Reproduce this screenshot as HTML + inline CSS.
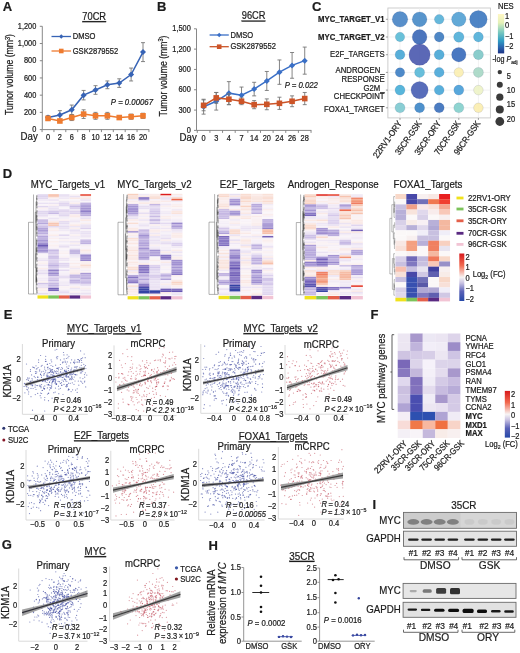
<!DOCTYPE html><html><head><meta charset="utf-8"><title>Figure</title><style>html,body{margin:0;padding:0;background:#fff;}svg{display:block;}text{font-family:"Liberation Sans", Arial, Helvetica, sans-serif;fill:#1c1c1c;stroke:#1c1c1c;stroke-width:0.2px;}</style></head><body><svg width="520" height="653" viewBox="0 0 520 653"><rect width="520" height="653" fill="#fff"/><text x="2.70" y="11.30" font-size="13" font-weight="bold" fill="#000">A</text>
<text x="94.20" y="20.00" font-size="9.3" text-anchor="middle" transform="translate(94.20 20.00) scale(1 1.15) translate(-94.20 -20.00)" text-decoration="underline">70CR</text>
<line x1="42.30" y1="26.30" x2="42.30" y2="129.60" stroke="#7a7a7a" stroke-width="0.9"/>
<line x1="42.30" y1="129.60" x2="149.20" y2="129.60" stroke="#7a7a7a" stroke-width="0.9"/>
<line x1="39.80" y1="129.60" x2="42.30" y2="129.60" stroke="#7a7a7a" stroke-width="0.9"/>
<text x="36.30" y="132.20" font-size="7.4" text-anchor="end" transform="translate(36.30 132.20) scale(1 1.15) translate(-36.30 -132.20)">0</text>
<line x1="39.80" y1="112.38" x2="42.30" y2="112.38" stroke="#7a7a7a" stroke-width="0.9"/>
<text x="36.30" y="114.98" font-size="7.4" text-anchor="end" transform="translate(36.30 114.98) scale(1 1.15) translate(-36.30 -114.98)">200</text>
<line x1="39.80" y1="95.17" x2="42.30" y2="95.17" stroke="#7a7a7a" stroke-width="0.9"/>
<text x="36.30" y="97.77" font-size="7.4" text-anchor="end" transform="translate(36.30 97.77) scale(1 1.15) translate(-36.30 -97.77)">400</text>
<line x1="39.80" y1="77.95" x2="42.30" y2="77.95" stroke="#7a7a7a" stroke-width="0.9"/>
<text x="36.30" y="80.55" font-size="7.4" text-anchor="end" transform="translate(36.30 80.55) scale(1 1.15) translate(-36.30 -80.55)">600</text>
<line x1="39.80" y1="60.73" x2="42.30" y2="60.73" stroke="#7a7a7a" stroke-width="0.9"/>
<text x="36.30" y="63.33" font-size="7.4" text-anchor="end" transform="translate(36.30 63.33) scale(1 1.15) translate(-36.30 -63.33)">800</text>
<line x1="39.80" y1="43.52" x2="42.30" y2="43.52" stroke="#7a7a7a" stroke-width="0.9"/>
<text x="36.30" y="46.12" font-size="7.4" text-anchor="end" transform="translate(36.30 46.12) scale(1 1.15) translate(-36.30 -46.12)">1,000</text>
<line x1="39.80" y1="26.30" x2="42.30" y2="26.30" stroke="#7a7a7a" stroke-width="0.9"/>
<text x="36.30" y="28.90" font-size="7.4" text-anchor="end" transform="translate(36.30 28.90) scale(1 1.15) translate(-36.30 -28.90)">1,200</text>
<line x1="42.06" y1="129.60" x2="42.06" y2="132.10" stroke="#7a7a7a" stroke-width="0.9"/>
<line x1="53.94" y1="129.60" x2="53.94" y2="132.10" stroke="#7a7a7a" stroke-width="0.9"/>
<line x1="65.81" y1="129.60" x2="65.81" y2="132.10" stroke="#7a7a7a" stroke-width="0.9"/>
<line x1="77.69" y1="129.60" x2="77.69" y2="132.10" stroke="#7a7a7a" stroke-width="0.9"/>
<line x1="89.56" y1="129.60" x2="89.56" y2="132.10" stroke="#7a7a7a" stroke-width="0.9"/>
<line x1="101.44" y1="129.60" x2="101.44" y2="132.10" stroke="#7a7a7a" stroke-width="0.9"/>
<line x1="113.31" y1="129.60" x2="113.31" y2="132.10" stroke="#7a7a7a" stroke-width="0.9"/>
<line x1="125.19" y1="129.60" x2="125.19" y2="132.10" stroke="#7a7a7a" stroke-width="0.9"/>
<line x1="137.06" y1="129.60" x2="137.06" y2="132.10" stroke="#7a7a7a" stroke-width="0.9"/>
<line x1="148.94" y1="129.60" x2="148.94" y2="132.10" stroke="#7a7a7a" stroke-width="0.9"/>
<text x="48.00" y="139.80" font-size="7.4" text-anchor="middle" transform="translate(48.00 139.80) scale(1 1.15) translate(-48.00 -139.80)">0</text>
<text x="59.88" y="139.80" font-size="7.4" text-anchor="middle" transform="translate(59.88 139.80) scale(1 1.15) translate(-59.88 -139.80)">2</text>
<text x="71.75" y="139.80" font-size="7.4" text-anchor="middle" transform="translate(71.75 139.80) scale(1 1.15) translate(-71.75 -139.80)">6</text>
<text x="83.62" y="139.80" font-size="7.4" text-anchor="middle" transform="translate(83.62 139.80) scale(1 1.15) translate(-83.62 -139.80)">8</text>
<text x="95.50" y="139.80" font-size="7.4" text-anchor="middle" transform="translate(95.50 139.80) scale(1 1.15) translate(-95.50 -139.80)">10</text>
<text x="107.38" y="139.80" font-size="7.4" text-anchor="middle" transform="translate(107.38 139.80) scale(1 1.15) translate(-107.38 -139.80)">12</text>
<text x="119.25" y="139.80" font-size="7.4" text-anchor="middle" transform="translate(119.25 139.80) scale(1 1.15) translate(-119.25 -139.80)">14</text>
<text x="131.12" y="139.80" font-size="7.4" text-anchor="middle" transform="translate(131.12 139.80) scale(1 1.15) translate(-131.12 -139.80)">16</text>
<text x="143.00" y="139.80" font-size="7.4" text-anchor="middle" transform="translate(143.00 139.80) scale(1 1.15) translate(-143.00 -139.80)">20</text>
<text x="20.60" y="139.80" font-size="9.7" transform="translate(20.60 139.80) scale(1 1.15) translate(-20.60 -139.80)">Day</text>
<text x="13.00" y="74.50" font-size="8.7" text-anchor="middle" transform="rotate(-90 13.00 74.50) translate(13.00 74.50) scale(1 1.15) translate(-13.00 -74.50)">Tumor volume (mm<tspan font-size="5.5" dy="-3">3</tspan><tspan dy="3">)</tspan></text>
<line x1="48.00" y1="115.83" x2="48.00" y2="119.27" stroke="#777" stroke-width="0.9"/>
<line x1="46.00" y1="115.83" x2="50.00" y2="115.83" stroke="#777" stroke-width="0.9"/>
<line x1="46.00" y1="119.27" x2="50.00" y2="119.27" stroke="#777" stroke-width="0.9"/>
<line x1="59.88" y1="110.66" x2="59.88" y2="119.27" stroke="#777" stroke-width="0.9"/>
<line x1="57.88" y1="110.66" x2="61.88" y2="110.66" stroke="#777" stroke-width="0.9"/>
<line x1="57.88" y1="119.27" x2="61.88" y2="119.27" stroke="#777" stroke-width="0.9"/>
<line x1="71.75" y1="105.07" x2="71.75" y2="114.54" stroke="#777" stroke-width="0.9"/>
<line x1="69.75" y1="105.07" x2="73.75" y2="105.07" stroke="#777" stroke-width="0.9"/>
<line x1="69.75" y1="114.54" x2="73.75" y2="114.54" stroke="#777" stroke-width="0.9"/>
<line x1="83.62" y1="90.43" x2="83.62" y2="99.90" stroke="#777" stroke-width="0.9"/>
<line x1="81.62" y1="90.43" x2="85.62" y2="90.43" stroke="#777" stroke-width="0.9"/>
<line x1="81.62" y1="99.90" x2="85.62" y2="99.90" stroke="#777" stroke-width="0.9"/>
<line x1="95.50" y1="85.70" x2="95.50" y2="94.31" stroke="#777" stroke-width="0.9"/>
<line x1="93.50" y1="85.70" x2="97.50" y2="85.70" stroke="#777" stroke-width="0.9"/>
<line x1="93.50" y1="94.31" x2="97.50" y2="94.31" stroke="#777" stroke-width="0.9"/>
<line x1="107.38" y1="80.96" x2="107.38" y2="88.71" stroke="#777" stroke-width="0.9"/>
<line x1="105.38" y1="80.96" x2="109.38" y2="80.96" stroke="#777" stroke-width="0.9"/>
<line x1="105.38" y1="88.71" x2="109.38" y2="88.71" stroke="#777" stroke-width="0.9"/>
<line x1="119.25" y1="78.81" x2="119.25" y2="87.42" stroke="#777" stroke-width="0.9"/>
<line x1="117.25" y1="78.81" x2="121.25" y2="78.81" stroke="#777" stroke-width="0.9"/>
<line x1="117.25" y1="87.42" x2="121.25" y2="87.42" stroke="#777" stroke-width="0.9"/>
<line x1="131.12" y1="68.05" x2="131.12" y2="80.96" stroke="#777" stroke-width="0.9"/>
<line x1="129.12" y1="68.05" x2="133.12" y2="68.05" stroke="#777" stroke-width="0.9"/>
<line x1="129.12" y1="80.96" x2="133.12" y2="80.96" stroke="#777" stroke-width="0.9"/>
<line x1="143.00" y1="42.66" x2="143.00" y2="61.59" stroke="#777" stroke-width="0.9"/>
<line x1="141.00" y1="42.66" x2="145.00" y2="42.66" stroke="#777" stroke-width="0.9"/>
<line x1="141.00" y1="61.59" x2="145.00" y2="61.59" stroke="#777" stroke-width="0.9"/>
<polyline points="48.00,117.55 59.88,114.97 71.75,109.80 83.62,95.17 95.50,90.00 107.38,84.84 119.25,83.11 131.12,74.51 143.00,52.12" fill="none" stroke="#3763b5" stroke-width="1.5"/>
<polygon points="48.00,114.55 51.00,117.55 48.00,120.55 45.00,117.55" fill="#3763b5"/>
<polygon points="59.88,111.97 62.88,114.97 59.88,117.97 56.88,114.97" fill="#3763b5"/>
<polygon points="71.75,106.80 74.75,109.80 71.75,112.80 68.75,109.80" fill="#3763b5"/>
<polygon points="83.62,92.17 86.62,95.17 83.62,98.17 80.62,95.17" fill="#3763b5"/>
<polygon points="95.50,87.00 98.50,90.00 95.50,93.00 92.50,90.00" fill="#3763b5"/>
<polygon points="107.38,81.84 110.38,84.84 107.38,87.84 104.38,84.84" fill="#3763b5"/>
<polygon points="119.25,80.11 122.25,83.11 119.25,86.11 116.25,83.11" fill="#3763b5"/>
<polygon points="131.12,71.51 134.12,74.51 131.12,77.51 128.12,74.51" fill="#3763b5"/>
<polygon points="143.00,49.12 146.00,52.12 143.00,55.12 140.00,52.12" fill="#3763b5"/>
<line x1="48.00" y1="116.26" x2="48.00" y2="120.56" stroke="#777" stroke-width="0.9"/>
<line x1="46.00" y1="116.26" x2="50.00" y2="116.26" stroke="#777" stroke-width="0.9"/>
<line x1="46.00" y1="120.56" x2="50.00" y2="120.56" stroke="#777" stroke-width="0.9"/>
<line x1="59.88" y1="120.13" x2="59.88" y2="121.85" stroke="#777" stroke-width="0.9"/>
<line x1="57.88" y1="120.13" x2="61.88" y2="120.13" stroke="#777" stroke-width="0.9"/>
<line x1="57.88" y1="121.85" x2="61.88" y2="121.85" stroke="#777" stroke-width="0.9"/>
<line x1="71.75" y1="114.54" x2="71.75" y2="120.56" stroke="#777" stroke-width="0.9"/>
<line x1="69.75" y1="114.54" x2="73.75" y2="114.54" stroke="#777" stroke-width="0.9"/>
<line x1="69.75" y1="120.56" x2="73.75" y2="120.56" stroke="#777" stroke-width="0.9"/>
<line x1="83.62" y1="109.80" x2="83.62" y2="118.41" stroke="#777" stroke-width="0.9"/>
<line x1="81.62" y1="109.80" x2="85.62" y2="109.80" stroke="#777" stroke-width="0.9"/>
<line x1="81.62" y1="118.41" x2="85.62" y2="118.41" stroke="#777" stroke-width="0.9"/>
<line x1="95.50" y1="112.38" x2="95.50" y2="119.27" stroke="#777" stroke-width="0.9"/>
<line x1="93.50" y1="112.38" x2="97.50" y2="112.38" stroke="#777" stroke-width="0.9"/>
<line x1="93.50" y1="119.27" x2="97.50" y2="119.27" stroke="#777" stroke-width="0.9"/>
<line x1="107.38" y1="112.38" x2="107.38" y2="119.27" stroke="#777" stroke-width="0.9"/>
<line x1="105.38" y1="112.38" x2="109.38" y2="112.38" stroke="#777" stroke-width="0.9"/>
<line x1="105.38" y1="119.27" x2="109.38" y2="119.27" stroke="#777" stroke-width="0.9"/>
<line x1="119.25" y1="115.83" x2="119.25" y2="119.27" stroke="#777" stroke-width="0.9"/>
<line x1="117.25" y1="115.83" x2="121.25" y2="115.83" stroke="#777" stroke-width="0.9"/>
<line x1="117.25" y1="119.27" x2="121.25" y2="119.27" stroke="#777" stroke-width="0.9"/>
<line x1="131.12" y1="114.11" x2="131.12" y2="119.27" stroke="#777" stroke-width="0.9"/>
<line x1="129.12" y1="114.11" x2="133.12" y2="114.11" stroke="#777" stroke-width="0.9"/>
<line x1="129.12" y1="119.27" x2="133.12" y2="119.27" stroke="#777" stroke-width="0.9"/>
<line x1="143.00" y1="113.24" x2="143.00" y2="118.41" stroke="#777" stroke-width="0.9"/>
<line x1="141.00" y1="113.24" x2="145.00" y2="113.24" stroke="#777" stroke-width="0.9"/>
<line x1="141.00" y1="118.41" x2="145.00" y2="118.41" stroke="#777" stroke-width="0.9"/>
<polyline points="48.00,118.41 59.88,120.99 71.75,117.55 83.62,114.10 95.50,115.83 107.38,115.83 119.25,117.55 131.12,116.69 143.00,115.83" fill="none" stroke="#ee7b30" stroke-width="1.5"/>
<rect x="45.20" y="115.61" width="5.60" height="5.60" fill="#ee7b30"/>
<rect x="57.08" y="118.19" width="5.60" height="5.60" fill="#ee7b30"/>
<rect x="68.95" y="114.75" width="5.60" height="5.60" fill="#ee7b30"/>
<rect x="80.83" y="111.30" width="5.60" height="5.60" fill="#ee7b30"/>
<rect x="92.70" y="113.03" width="5.60" height="5.60" fill="#ee7b30"/>
<rect x="104.58" y="113.03" width="5.60" height="5.60" fill="#ee7b30"/>
<rect x="116.45" y="114.75" width="5.60" height="5.60" fill="#ee7b30"/>
<rect x="128.32" y="113.89" width="5.60" height="5.60" fill="#ee7b30"/>
<rect x="140.20" y="113.03" width="5.60" height="5.60" fill="#ee7b30"/>
<line x1="51.50" y1="36.50" x2="71.00" y2="36.50" stroke="#3763b5" stroke-width="1.3"/>
<polygon points="61.25,34.30 63.45,36.50 61.25,38.70 59.05,36.50" fill="#3763b5"/>
<text x="72.70" y="39.20" font-size="7.6" transform="translate(72.70 39.20) scale(1 1.15) translate(-72.70 -39.20)">DMSO</text>
<line x1="51.50" y1="51.00" x2="71.00" y2="51.00" stroke="#ee7b30" stroke-width="1.3"/>
<rect x="58.95" y="48.70" width="4.60" height="4.60" fill="#ee7b30"/>
<text x="72.70" y="53.70" font-size="7.6" transform="translate(72.70 53.70) scale(1 1.15) translate(-72.70 -53.70)">GSK2879552</text>
<text x="110.80" y="105.00" font-size="7.8" font-style="italic" transform="translate(110.80 105.00) scale(1 1.15) translate(-110.80 -105.00)"><tspan>P</tspan> = 0.00067</text>
<text x="157.10" y="10.90" font-size="13" font-weight="bold" fill="#000">B</text>
<text x="253.60" y="19.50" font-size="9.3" text-anchor="middle" transform="translate(253.60 19.50) scale(1 1.15) translate(-253.60 -19.50)" text-decoration="underline">96CR</text>
<line x1="196.50" y1="28.80" x2="196.50" y2="130.40" stroke="#7a7a7a" stroke-width="0.9"/>
<line x1="196.50" y1="130.40" x2="311.40" y2="130.40" stroke="#7a7a7a" stroke-width="0.9"/>
<line x1="194.00" y1="130.40" x2="196.50" y2="130.40" stroke="#7a7a7a" stroke-width="0.9"/>
<text x="190.80" y="133.00" font-size="7.4" text-anchor="end" transform="translate(190.80 133.00) scale(1 1.15) translate(-190.80 -133.00)">0</text>
<line x1="194.00" y1="110.08" x2="196.50" y2="110.08" stroke="#7a7a7a" stroke-width="0.9"/>
<text x="190.80" y="112.68" font-size="7.4" text-anchor="end" transform="translate(190.80 112.68) scale(1 1.15) translate(-190.80 -112.68)">300</text>
<line x1="194.00" y1="89.76" x2="196.50" y2="89.76" stroke="#7a7a7a" stroke-width="0.9"/>
<text x="190.80" y="92.36" font-size="7.4" text-anchor="end" transform="translate(190.80 92.36) scale(1 1.15) translate(-190.80 -92.36)">600</text>
<line x1="194.00" y1="69.44" x2="196.50" y2="69.44" stroke="#7a7a7a" stroke-width="0.9"/>
<text x="190.80" y="72.04" font-size="7.4" text-anchor="end" transform="translate(190.80 72.04) scale(1 1.15) translate(-190.80 -72.04)">900</text>
<line x1="194.00" y1="49.12" x2="196.50" y2="49.12" stroke="#7a7a7a" stroke-width="0.9"/>
<text x="190.80" y="51.72" font-size="7.4" text-anchor="end" transform="translate(190.80 51.72) scale(1 1.15) translate(-190.80 -51.72)">1,200</text>
<line x1="194.00" y1="28.80" x2="196.50" y2="28.80" stroke="#7a7a7a" stroke-width="0.9"/>
<text x="190.80" y="31.40" font-size="7.4" text-anchor="end" transform="translate(190.80 31.40) scale(1 1.15) translate(-190.80 -31.40)">1,500</text>
<line x1="197.28" y1="130.40" x2="197.28" y2="132.90" stroke="#7a7a7a" stroke-width="0.9"/>
<line x1="209.92" y1="130.40" x2="209.92" y2="132.90" stroke="#7a7a7a" stroke-width="0.9"/>
<line x1="222.56" y1="130.40" x2="222.56" y2="132.90" stroke="#7a7a7a" stroke-width="0.9"/>
<line x1="235.20" y1="130.40" x2="235.20" y2="132.90" stroke="#7a7a7a" stroke-width="0.9"/>
<line x1="247.84" y1="130.40" x2="247.84" y2="132.90" stroke="#7a7a7a" stroke-width="0.9"/>
<line x1="260.48" y1="130.40" x2="260.48" y2="132.90" stroke="#7a7a7a" stroke-width="0.9"/>
<line x1="273.12" y1="130.40" x2="273.12" y2="132.90" stroke="#7a7a7a" stroke-width="0.9"/>
<line x1="285.76" y1="130.40" x2="285.76" y2="132.90" stroke="#7a7a7a" stroke-width="0.9"/>
<line x1="298.40" y1="130.40" x2="298.40" y2="132.90" stroke="#7a7a7a" stroke-width="0.9"/>
<line x1="311.04" y1="130.40" x2="311.04" y2="132.90" stroke="#7a7a7a" stroke-width="0.9"/>
<text x="203.60" y="140.60" font-size="7.4" text-anchor="middle" transform="translate(203.60 140.60) scale(1 1.15) translate(-203.60 -140.60)">0</text>
<text x="216.24" y="140.60" font-size="7.4" text-anchor="middle" transform="translate(216.24 140.60) scale(1 1.15) translate(-216.24 -140.60)">3</text>
<text x="228.88" y="140.60" font-size="7.4" text-anchor="middle" transform="translate(228.88 140.60) scale(1 1.15) translate(-228.88 -140.60)">4</text>
<text x="241.52" y="140.60" font-size="7.4" text-anchor="middle" transform="translate(241.52 140.60) scale(1 1.15) translate(-241.52 -140.60)">7</text>
<text x="254.16" y="140.60" font-size="7.4" text-anchor="middle" transform="translate(254.16 140.60) scale(1 1.15) translate(-254.16 -140.60)">14</text>
<text x="266.80" y="140.60" font-size="7.4" text-anchor="middle" transform="translate(266.80 140.60) scale(1 1.15) translate(-266.80 -140.60)">20</text>
<text x="279.44" y="140.60" font-size="7.4" text-anchor="middle" transform="translate(279.44 140.60) scale(1 1.15) translate(-279.44 -140.60)">24</text>
<text x="292.08" y="140.60" font-size="7.4" text-anchor="middle" transform="translate(292.08 140.60) scale(1 1.15) translate(-292.08 -140.60)">26</text>
<text x="304.72" y="140.60" font-size="7.4" text-anchor="middle" transform="translate(304.72 140.60) scale(1 1.15) translate(-304.72 -140.60)">28</text>
<text x="179.60" y="140.60" font-size="9.7" transform="translate(179.60 140.60) scale(1 1.15) translate(-179.60 -140.60)">Day</text>
<text x="166.60" y="76.00" font-size="8.7" text-anchor="middle" transform="rotate(-90 166.60 76.00) translate(166.60 76.00) scale(1 1.15) translate(-166.60 -76.00)">Tumor volume (mm<tspan font-size="5.5" dy="-3">3</tspan><tspan dy="3">)</tspan></text>
<line x1="203.60" y1="99.24" x2="203.60" y2="114.14" stroke="#777" stroke-width="0.9"/>
<line x1="201.60" y1="99.24" x2="205.60" y2="99.24" stroke="#777" stroke-width="0.9"/>
<line x1="201.60" y1="114.14" x2="205.60" y2="114.14" stroke="#777" stroke-width="0.9"/>
<line x1="216.24" y1="92.47" x2="216.24" y2="110.08" stroke="#777" stroke-width="0.9"/>
<line x1="214.24" y1="92.47" x2="218.24" y2="92.47" stroke="#777" stroke-width="0.9"/>
<line x1="214.24" y1="110.08" x2="218.24" y2="110.08" stroke="#777" stroke-width="0.9"/>
<line x1="228.88" y1="81.63" x2="228.88" y2="104.66" stroke="#777" stroke-width="0.9"/>
<line x1="226.88" y1="81.63" x2="230.88" y2="81.63" stroke="#777" stroke-width="0.9"/>
<line x1="226.88" y1="104.66" x2="230.88" y2="104.66" stroke="#777" stroke-width="0.9"/>
<line x1="241.52" y1="87.05" x2="241.52" y2="103.31" stroke="#777" stroke-width="0.9"/>
<line x1="239.52" y1="87.05" x2="243.52" y2="87.05" stroke="#777" stroke-width="0.9"/>
<line x1="239.52" y1="103.31" x2="243.52" y2="103.31" stroke="#777" stroke-width="0.9"/>
<line x1="254.16" y1="82.31" x2="254.16" y2="95.86" stroke="#777" stroke-width="0.9"/>
<line x1="252.16" y1="82.31" x2="256.16" y2="82.31" stroke="#777" stroke-width="0.9"/>
<line x1="252.16" y1="95.86" x2="256.16" y2="95.86" stroke="#777" stroke-width="0.9"/>
<line x1="266.80" y1="71.47" x2="266.80" y2="90.44" stroke="#777" stroke-width="0.9"/>
<line x1="264.80" y1="71.47" x2="268.80" y2="71.47" stroke="#777" stroke-width="0.9"/>
<line x1="264.80" y1="90.44" x2="268.80" y2="90.44" stroke="#777" stroke-width="0.9"/>
<line x1="279.44" y1="59.96" x2="279.44" y2="84.34" stroke="#777" stroke-width="0.9"/>
<line x1="277.44" y1="59.96" x2="281.44" y2="59.96" stroke="#777" stroke-width="0.9"/>
<line x1="277.44" y1="84.34" x2="281.44" y2="84.34" stroke="#777" stroke-width="0.9"/>
<line x1="292.08" y1="52.51" x2="292.08" y2="78.25" stroke="#777" stroke-width="0.9"/>
<line x1="290.08" y1="52.51" x2="294.08" y2="52.51" stroke="#777" stroke-width="0.9"/>
<line x1="290.08" y1="78.25" x2="294.08" y2="78.25" stroke="#777" stroke-width="0.9"/>
<line x1="304.72" y1="47.09" x2="304.72" y2="74.18" stroke="#777" stroke-width="0.9"/>
<line x1="302.72" y1="47.09" x2="306.72" y2="47.09" stroke="#777" stroke-width="0.9"/>
<line x1="302.72" y1="74.18" x2="306.72" y2="74.18" stroke="#777" stroke-width="0.9"/>
<polyline points="203.60,106.69 216.24,101.27 228.88,93.15 241.52,95.18 254.16,89.08 266.80,80.95 279.44,72.15 292.08,65.38 304.72,60.63" fill="none" stroke="#3a6fc6" stroke-width="1.5"/>
<polygon points="203.60,103.69 206.60,106.69 203.60,109.69 200.60,106.69" fill="#3a6fc6"/>
<polygon points="216.24,98.27 219.24,101.27 216.24,104.27 213.24,101.27" fill="#3a6fc6"/>
<polygon points="228.88,90.15 231.88,93.15 228.88,96.15 225.88,93.15" fill="#3a6fc6"/>
<polygon points="241.52,92.18 244.52,95.18 241.52,98.18 238.52,95.18" fill="#3a6fc6"/>
<polygon points="254.16,86.08 257.16,89.08 254.16,92.08 251.16,89.08" fill="#3a6fc6"/>
<polygon points="266.80,77.95 269.80,80.95 266.80,83.95 263.80,80.95" fill="#3a6fc6"/>
<polygon points="279.44,69.15 282.44,72.15 279.44,75.15 276.44,72.15" fill="#3a6fc6"/>
<polygon points="292.08,62.38 295.08,65.38 292.08,68.38 289.08,65.38" fill="#3a6fc6"/>
<polygon points="304.72,57.63 307.72,60.63 304.72,63.63 301.72,60.63" fill="#3a6fc6"/>
<line x1="203.60" y1="99.92" x2="203.60" y2="110.76" stroke="#777" stroke-width="0.9"/>
<line x1="201.60" y1="99.92" x2="205.60" y2="99.92" stroke="#777" stroke-width="0.9"/>
<line x1="201.60" y1="110.76" x2="205.60" y2="110.76" stroke="#777" stroke-width="0.9"/>
<line x1="216.24" y1="92.47" x2="216.24" y2="103.31" stroke="#777" stroke-width="0.9"/>
<line x1="214.24" y1="92.47" x2="218.24" y2="92.47" stroke="#777" stroke-width="0.9"/>
<line x1="214.24" y1="103.31" x2="218.24" y2="103.31" stroke="#777" stroke-width="0.9"/>
<line x1="228.88" y1="93.82" x2="228.88" y2="104.66" stroke="#777" stroke-width="0.9"/>
<line x1="226.88" y1="93.82" x2="230.88" y2="93.82" stroke="#777" stroke-width="0.9"/>
<line x1="226.88" y1="104.66" x2="230.88" y2="104.66" stroke="#777" stroke-width="0.9"/>
<line x1="241.52" y1="97.89" x2="241.52" y2="104.66" stroke="#777" stroke-width="0.9"/>
<line x1="239.52" y1="97.89" x2="243.52" y2="97.89" stroke="#777" stroke-width="0.9"/>
<line x1="239.52" y1="104.66" x2="243.52" y2="104.66" stroke="#777" stroke-width="0.9"/>
<line x1="254.16" y1="100.60" x2="254.16" y2="108.73" stroke="#777" stroke-width="0.9"/>
<line x1="252.16" y1="100.60" x2="256.16" y2="100.60" stroke="#777" stroke-width="0.9"/>
<line x1="252.16" y1="108.73" x2="256.16" y2="108.73" stroke="#777" stroke-width="0.9"/>
<line x1="266.80" y1="98.90" x2="266.80" y2="109.74" stroke="#777" stroke-width="0.9"/>
<line x1="264.80" y1="98.90" x2="268.80" y2="98.90" stroke="#777" stroke-width="0.9"/>
<line x1="264.80" y1="109.74" x2="268.80" y2="109.74" stroke="#777" stroke-width="0.9"/>
<line x1="279.44" y1="97.21" x2="279.44" y2="109.40" stroke="#777" stroke-width="0.9"/>
<line x1="277.44" y1="97.21" x2="281.44" y2="97.21" stroke="#777" stroke-width="0.9"/>
<line x1="277.44" y1="109.40" x2="281.44" y2="109.40" stroke="#777" stroke-width="0.9"/>
<line x1="292.08" y1="95.86" x2="292.08" y2="106.69" stroke="#777" stroke-width="0.9"/>
<line x1="290.08" y1="95.86" x2="294.08" y2="95.86" stroke="#777" stroke-width="0.9"/>
<line x1="290.08" y1="106.69" x2="294.08" y2="106.69" stroke="#777" stroke-width="0.9"/>
<line x1="304.72" y1="92.47" x2="304.72" y2="104.66" stroke="#777" stroke-width="0.9"/>
<line x1="302.72" y1="92.47" x2="306.72" y2="92.47" stroke="#777" stroke-width="0.9"/>
<line x1="302.72" y1="104.66" x2="306.72" y2="104.66" stroke="#777" stroke-width="0.9"/>
<polyline points="203.60,105.34 216.24,97.89 228.88,99.24 241.52,101.27 254.16,104.66 266.80,104.32 279.44,103.31 292.08,101.27 304.72,98.57" fill="none" stroke="#cc5428" stroke-width="1.5"/>
<rect x="200.80" y="102.54" width="5.60" height="5.60" fill="#cc5428"/>
<rect x="213.44" y="95.09" width="5.60" height="5.60" fill="#cc5428"/>
<rect x="226.08" y="96.44" width="5.60" height="5.60" fill="#cc5428"/>
<rect x="238.72" y="98.47" width="5.60" height="5.60" fill="#cc5428"/>
<rect x="251.36" y="101.86" width="5.60" height="5.60" fill="#cc5428"/>
<rect x="264.00" y="101.52" width="5.60" height="5.60" fill="#cc5428"/>
<rect x="276.64" y="100.51" width="5.60" height="5.60" fill="#cc5428"/>
<rect x="289.28" y="98.47" width="5.60" height="5.60" fill="#cc5428"/>
<rect x="301.92" y="95.77" width="5.60" height="5.60" fill="#cc5428"/>
<line x1="209.60" y1="35.00" x2="228.80" y2="35.00" stroke="#3a6fc6" stroke-width="1.3"/>
<polygon points="219.20,32.80 221.40,35.00 219.20,37.20 217.00,35.00" fill="#3a6fc6"/>
<text x="230.40" y="37.70" font-size="7.6" transform="translate(230.40 37.70) scale(1 1.15) translate(-230.40 -37.70)">DMSO</text>
<line x1="209.60" y1="46.70" x2="228.80" y2="46.70" stroke="#cc5428" stroke-width="1.3"/>
<rect x="216.90" y="44.40" width="4.60" height="4.60" fill="#cc5428"/>
<text x="230.40" y="49.40" font-size="7.6" transform="translate(230.40 49.40) scale(1 1.15) translate(-230.40 -49.40)">GSK2879552</text>
<text x="284.70" y="88.50" font-size="7.8" font-style="italic" transform="translate(284.70 88.50) scale(1 1.15) translate(-284.70 -88.50)">P = 0.022</text>
<text x="311.90" y="10.70" font-size="13" font-weight="bold" fill="#000">C</text>
<rect x="387.90" y="8.00" width="102.50" height="109.90" fill="#fff" stroke="#c8c8c8" stroke-width="0.9"/>
<line x1="400.00" y1="8.00" x2="400.00" y2="117.90" stroke="#ececec" stroke-width="0.7"/>
<line x1="400.00" y1="117.90" x2="400.00" y2="119.90" stroke="#777" stroke-width="0.7"/>
<line x1="419.60" y1="8.00" x2="419.60" y2="117.90" stroke="#ececec" stroke-width="0.7"/>
<line x1="419.60" y1="117.90" x2="419.60" y2="119.90" stroke="#777" stroke-width="0.7"/>
<line x1="439.20" y1="8.00" x2="439.20" y2="117.90" stroke="#ececec" stroke-width="0.7"/>
<line x1="439.20" y1="117.90" x2="439.20" y2="119.90" stroke="#777" stroke-width="0.7"/>
<line x1="458.80" y1="8.00" x2="458.80" y2="117.90" stroke="#ececec" stroke-width="0.7"/>
<line x1="458.80" y1="117.90" x2="458.80" y2="119.90" stroke="#777" stroke-width="0.7"/>
<line x1="478.40" y1="8.00" x2="478.40" y2="117.90" stroke="#ececec" stroke-width="0.7"/>
<line x1="478.40" y1="117.90" x2="478.40" y2="119.90" stroke="#777" stroke-width="0.7"/>
<line x1="387.90" y1="19.30" x2="490.40" y2="19.30" stroke="#ececec" stroke-width="0.7"/>
<line x1="385.90" y1="19.30" x2="387.90" y2="19.30" stroke="#777" stroke-width="0.7"/>
<line x1="387.90" y1="37.00" x2="490.40" y2="37.00" stroke="#ececec" stroke-width="0.7"/>
<line x1="385.90" y1="37.00" x2="387.90" y2="37.00" stroke="#777" stroke-width="0.7"/>
<line x1="387.90" y1="54.70" x2="490.40" y2="54.70" stroke="#ececec" stroke-width="0.7"/>
<line x1="385.90" y1="54.70" x2="387.90" y2="54.70" stroke="#777" stroke-width="0.7"/>
<line x1="387.90" y1="72.40" x2="490.40" y2="72.40" stroke="#ececec" stroke-width="0.7"/>
<line x1="385.90" y1="72.40" x2="387.90" y2="72.40" stroke="#777" stroke-width="0.7"/>
<line x1="387.90" y1="90.10" x2="490.40" y2="90.10" stroke="#ececec" stroke-width="0.7"/>
<line x1="385.90" y1="90.10" x2="387.90" y2="90.10" stroke="#777" stroke-width="0.7"/>
<line x1="387.90" y1="107.80" x2="490.40" y2="107.80" stroke="#ececec" stroke-width="0.7"/>
<line x1="385.90" y1="107.80" x2="387.90" y2="107.80" stroke="#777" stroke-width="0.7"/>
<circle cx="400.00" cy="19.30" r="7.80" fill="#4a86c6" fill-opacity="0.92" stroke="#1a2a5a" stroke-opacity="0.18" stroke-width="0.6"/>
<circle cx="419.60" cy="19.30" r="7.40" fill="#4a8cc8" fill-opacity="0.92" stroke="#1a2a5a" stroke-opacity="0.18" stroke-width="0.6"/>
<circle cx="439.20" cy="19.30" r="4.80" fill="#59b2d8" fill-opacity="0.92" stroke="#1a2a5a" stroke-opacity="0.18" stroke-width="0.6"/>
<circle cx="458.80" cy="19.30" r="7.20" fill="#55a2d4" fill-opacity="0.92" stroke="#1a2a5a" stroke-opacity="0.18" stroke-width="0.6"/>
<circle cx="478.40" cy="19.30" r="8.80" fill="#3f79c0" fill-opacity="0.92" stroke="#1a2a5a" stroke-opacity="0.18" stroke-width="0.6"/>
<circle cx="400.00" cy="37.00" r="4.70" fill="#5cbcd6" fill-opacity="0.92" stroke="#1a2a5a" stroke-opacity="0.18" stroke-width="0.6"/>
<circle cx="419.60" cy="37.00" r="7.40" fill="#3d69b7" fill-opacity="0.92" stroke="#1a2a5a" stroke-opacity="0.18" stroke-width="0.6"/>
<circle cx="439.20" cy="37.00" r="4.90" fill="#3f7dc0" fill-opacity="0.92" stroke="#1a2a5a" stroke-opacity="0.18" stroke-width="0.6"/>
<circle cx="458.80" cy="37.00" r="5.20" fill="#52b0d8" fill-opacity="0.92" stroke="#1a2a5a" stroke-opacity="0.18" stroke-width="0.6"/>
<circle cx="478.40" cy="37.00" r="4.90" fill="#52b0d8" fill-opacity="0.92" stroke="#1a2a5a" stroke-opacity="0.18" stroke-width="0.6"/>
<circle cx="400.00" cy="54.70" r="4.90" fill="#4aa8d6" fill-opacity="0.92" stroke="#1a2a5a" stroke-opacity="0.18" stroke-width="0.6"/>
<circle cx="419.60" cy="54.70" r="10.60" fill="#4d5bb0" fill-opacity="0.92" stroke="#1a2a5a" stroke-opacity="0.18" stroke-width="0.6"/>
<circle cx="439.20" cy="54.70" r="5.00" fill="#4aa8d6" fill-opacity="0.92" stroke="#1a2a5a" stroke-opacity="0.18" stroke-width="0.6"/>
<circle cx="458.80" cy="54.70" r="7.20" fill="#3b6dbc" fill-opacity="0.92" stroke="#1a2a5a" stroke-opacity="0.18" stroke-width="0.6"/>
<circle cx="478.40" cy="54.70" r="5.00" fill="#80c9c8" fill-opacity="0.92" stroke="#1a2a5a" stroke-opacity="0.18" stroke-width="0.6"/>
<circle cx="400.00" cy="72.40" r="4.70" fill="#3f80c4" fill-opacity="0.92" stroke="#1a2a5a" stroke-opacity="0.18" stroke-width="0.6"/>
<circle cx="419.60" cy="72.40" r="5.00" fill="#5bbad8" fill-opacity="0.92" stroke="#1a2a5a" stroke-opacity="0.18" stroke-width="0.6"/>
<circle cx="439.20" cy="72.40" r="4.90" fill="#4ca8d8" fill-opacity="0.92" stroke="#1a2a5a" stroke-opacity="0.18" stroke-width="0.6"/>
<circle cx="458.80" cy="72.40" r="4.70" fill="#fbefb2" fill-opacity="0.92" stroke="#1a2a5a" stroke-opacity="0.18" stroke-width="0.6"/>
<circle cx="478.40" cy="72.40" r="5.00" fill="#a8d8c6" fill-opacity="0.92" stroke="#1a2a5a" stroke-opacity="0.18" stroke-width="0.6"/>
<circle cx="400.00" cy="90.10" r="5.00" fill="#4ab0d8" fill-opacity="0.92" stroke="#1a2a5a" stroke-opacity="0.18" stroke-width="0.6"/>
<circle cx="419.60" cy="90.10" r="8.60" fill="#4a61b4" fill-opacity="0.92" stroke="#1a2a5a" stroke-opacity="0.18" stroke-width="0.6"/>
<circle cx="439.20" cy="90.10" r="4.90" fill="#4aa8d8" fill-opacity="0.92" stroke="#1a2a5a" stroke-opacity="0.18" stroke-width="0.6"/>
<circle cx="458.80" cy="90.10" r="5.00" fill="#4aa0d8" fill-opacity="0.92" stroke="#1a2a5a" stroke-opacity="0.18" stroke-width="0.6"/>
<circle cx="478.40" cy="90.10" r="4.80" fill="#eef3c8" fill-opacity="0.92" stroke="#1a2a5a" stroke-opacity="0.18" stroke-width="0.6"/>
<circle cx="400.00" cy="107.80" r="5.00" fill="#7fcad0" fill-opacity="0.92" stroke="#1a2a5a" stroke-opacity="0.18" stroke-width="0.6"/>
<circle cx="419.60" cy="107.80" r="5.00" fill="#3f88c8" fill-opacity="0.92" stroke="#1a2a5a" stroke-opacity="0.18" stroke-width="0.6"/>
<circle cx="439.20" cy="107.80" r="5.00" fill="#3c71bc" fill-opacity="0.92" stroke="#1a2a5a" stroke-opacity="0.18" stroke-width="0.6"/>
<circle cx="458.80" cy="107.80" r="5.00" fill="#86d0cc" fill-opacity="0.92" stroke="#1a2a5a" stroke-opacity="0.18" stroke-width="0.6"/>
<circle cx="478.40" cy="107.80" r="4.80" fill="#fbeeb0" fill-opacity="0.92" stroke="#1a2a5a" stroke-opacity="0.18" stroke-width="0.6"/>
<text x="384.60" y="22.10" font-size="7.75" text-anchor="end" font-weight="bold" transform="translate(384.60 22.10) scale(1 1.15) translate(-384.60 -22.10)">MYC_TARGET_V1</text>
<text x="384.60" y="39.80" font-size="7.75" text-anchor="end" font-weight="bold" transform="translate(384.60 39.80) scale(1 1.15) translate(-384.60 -39.80)">MYC_TARGET_V2</text>
<text x="384.60" y="57.50" font-size="7.75" text-anchor="end" transform="translate(384.60 57.50) scale(1 1.15) translate(-384.60 -57.50)">E2F_TARGETS</text>
<text x="384.60" y="73.40" font-size="7.75" text-anchor="end" transform="translate(384.60 73.40) scale(1 1.15) translate(-384.60 -73.40)">ANDROGEN_</text>
<text x="384.60" y="82.00" font-size="7.75" text-anchor="end" transform="translate(384.60 82.00) scale(1 1.15) translate(-384.60 -82.00)">RESPONSE</text>
<text x="384.60" y="90.70" font-size="7.75" text-anchor="end" transform="translate(384.60 90.70) scale(1 1.15) translate(-384.60 -90.70)">G2M_</text>
<text x="384.60" y="99.30" font-size="7.75" text-anchor="end" transform="translate(384.60 99.30) scale(1 1.15) translate(-384.60 -99.30)">CHECKPOINT</text>
<text x="384.60" y="111.80" font-size="7.75" text-anchor="end" transform="translate(384.60 111.80) scale(1 1.15) translate(-384.60 -111.80)">FOXA1_TARGET</text>
<text x="402.30" y="123.60" font-size="7.8" text-anchor="end" transform="rotate(-55 402.30 123.60) translate(402.30 123.60) scale(1 1.15) translate(-402.30 -123.60)">22RV1-ORY</text>
<text x="421.90" y="123.60" font-size="7.8" text-anchor="end" transform="rotate(-55 421.90 123.60) translate(421.90 123.60) scale(1 1.15) translate(-421.90 -123.60)">35CR-GSK</text>
<text x="441.50" y="123.60" font-size="7.8" text-anchor="end" transform="rotate(-55 441.50 123.60) translate(441.50 123.60) scale(1 1.15) translate(-441.50 -123.60)">35CR-ORY</text>
<text x="461.10" y="123.60" font-size="7.8" text-anchor="end" transform="rotate(-55 461.10 123.60) translate(461.10 123.60) scale(1 1.15) translate(-461.10 -123.60)">70CR-GSK</text>
<text x="480.70" y="123.60" font-size="7.8" text-anchor="end" transform="rotate(-55 480.70 123.60) translate(480.70 123.60) scale(1 1.15) translate(-480.70 -123.60)">96CR-GSK</text>
<text x="505.80" y="9.00" font-size="7.7" text-anchor="middle" transform="translate(505.80 9.00) scale(1 1.15) translate(-505.80 -9.00)">NES</text>
<defs><linearGradient id="nes" x1="0" y1="0" x2="0" y2="1"><stop offset="0" stop-color="#fff7c4"/><stop offset="0.22" stop-color="#e6f1b8"/><stop offset="0.45" stop-color="#7fcbbf"/><stop offset="0.68" stop-color="#2f9cc4"/><stop offset="0.85" stop-color="#2a62ad"/><stop offset="1" stop-color="#1c3487"/></linearGradient><linearGradient id="fc" x1="0" y1="0" x2="0" y2="1"><stop offset="0" stop-color="#d7191c"/><stop offset="0.25" stop-color="#f26a4f"/><stop offset="0.5" stop-color="#f7f4f4"/><stop offset="0.62" stop-color="#c9c2e2"/><stop offset="0.8" stop-color="#5a62b8"/><stop offset="1" stop-color="#2548a8"/></linearGradient></defs>
<rect x="497.90" y="14.00" width="6.30" height="39.40" fill="url(#nes)"/>
<text x="505.00" y="18.70" font-size="7.5" transform="translate(505.00 18.70) scale(1 1.15) translate(-505.00 -18.70)">1</text>
<text x="505.00" y="28.20" font-size="7.5" transform="translate(505.00 28.20) scale(1 1.15) translate(-505.00 -28.20)">0</text>
<text x="505.00" y="38.60" font-size="7.5" transform="translate(505.00 38.60) scale(1 1.15) translate(-505.00 -38.60)">−1</text>
<text x="505.00" y="48.90" font-size="7.5" transform="translate(505.00 48.90) scale(1 1.15) translate(-505.00 -48.90)">−2</text>
<text x="492.40" y="62.20" font-size="7.2" transform="translate(492.40 62.20) scale(1 1.15) translate(-492.40 -62.20)">-log <tspan font-style="italic">P</tspan><tspan font-size="4.8" dy="1.3">adj</tspan></text>
<circle cx="499.80" cy="72.10" r="2.20" fill="#3a3a3a"/>
<circle cx="499.80" cy="84.70" r="3.00" fill="#3a3a3a"/>
<circle cx="499.80" cy="97.20" r="3.60" fill="#3a3a3a"/>
<circle cx="499.80" cy="109.60" r="4.00" fill="#3a3a3a"/>
<circle cx="499.80" cy="121.50" r="4.40" fill="#3a3a3a"/>
<text x="506.80" y="79.00" font-size="7.5" transform="translate(506.80 79.00) scale(1 1.15) translate(-506.80 -79.00)">5</text>
<text x="506.80" y="92.90" font-size="7.5" transform="translate(506.80 92.90) scale(1 1.15) translate(-506.80 -92.90)">10</text>
<text x="506.80" y="106.90" font-size="7.5" transform="translate(506.80 106.90) scale(1 1.15) translate(-506.80 -106.90)">15</text>
<text x="506.80" y="121.80" font-size="7.5" transform="translate(506.80 121.80) scale(1 1.15) translate(-506.80 -121.80)">20</text>
<text x="2.80" y="177.80" font-size="13" font-weight="bold" fill="#000">D</text>
<text x="30.80" y="188.00" font-size="9.7" transform="translate(30.80 188.00) scale(1 1.15) translate(-30.80 -188.00)">MYC_Targets_v1</text>
<text x="117.30" y="188.00" font-size="9.7" transform="translate(117.30 188.00) scale(1 1.15) translate(-117.30 -188.00)">MYC_Targets_v2</text>
<text x="219.80" y="188.00" font-size="9.7" transform="translate(219.80 188.00) scale(1 1.15) translate(-219.80 -188.00)">E2F_Targets</text>
<text x="287.70" y="188.00" font-size="9.7" transform="translate(287.70 188.00) scale(1 1.15) translate(-287.70 -188.00)">Androgen_Response</text>
<text x="393.50" y="188.00" font-size="9.7" transform="translate(393.50 188.00) scale(1 1.15) translate(-393.50 -188.00)">FOXA1_Targets</text>
<rect x="37.50" y="194.20" width="10.75" height="1.72" fill="#e1d7ef"/>
<rect x="37.50" y="195.87" width="10.75" height="1.72" fill="#ded3ee"/>
<rect x="37.50" y="197.55" width="10.75" height="1.72" fill="#e2d8f0"/>
<rect x="37.50" y="199.22" width="10.75" height="1.72" fill="#f0e9f5"/>
<rect x="37.50" y="200.89" width="10.75" height="1.72" fill="#faf5f9"/>
<rect x="37.50" y="202.57" width="10.75" height="1.72" fill="#e9e1f3"/>
<rect x="37.50" y="204.24" width="10.75" height="1.72" fill="#faf5f9"/>
<rect x="37.50" y="205.91" width="10.75" height="1.72" fill="#e0d6ef"/>
<rect x="37.50" y="207.59" width="10.75" height="1.72" fill="#faf0f1"/>
<rect x="37.50" y="209.26" width="10.75" height="1.72" fill="#f4edf7"/>
<rect x="37.50" y="210.93" width="10.75" height="1.72" fill="#dfd5ef"/>
<rect x="37.50" y="212.61" width="10.75" height="1.72" fill="#e1d7ef"/>
<rect x="37.50" y="214.28" width="10.75" height="1.72" fill="#e7def2"/>
<rect x="37.50" y="215.95" width="10.75" height="1.72" fill="#efe7f5"/>
<rect x="37.50" y="217.63" width="10.75" height="1.72" fill="#faf4f7"/>
<rect x="37.50" y="219.30" width="10.75" height="1.72" fill="#cabde5"/>
<rect x="37.50" y="220.97" width="10.75" height="1.72" fill="#cbbee6"/>
<rect x="37.50" y="222.65" width="10.75" height="1.72" fill="#b6a8dc"/>
<rect x="37.50" y="224.32" width="10.75" height="1.72" fill="#dbd0ed"/>
<rect x="37.50" y="225.99" width="10.75" height="1.72" fill="#cec1e7"/>
<rect x="37.50" y="227.67" width="10.75" height="1.72" fill="#b4a5db"/>
<rect x="37.50" y="229.34" width="10.75" height="1.72" fill="#ab9cd6"/>
<rect x="37.50" y="231.01" width="10.75" height="1.72" fill="#bdafdf"/>
<rect x="37.50" y="232.69" width="10.75" height="1.72" fill="#bcaedf"/>
<rect x="37.50" y="234.36" width="10.75" height="1.72" fill="#d5c9eb"/>
<rect x="37.50" y="236.03" width="10.75" height="1.72" fill="#b3a4da"/>
<rect x="37.50" y="237.71" width="10.75" height="1.72" fill="#c1b3e1"/>
<rect x="37.50" y="239.38" width="10.75" height="1.72" fill="#a798d5"/>
<rect x="37.50" y="241.05" width="10.75" height="1.72" fill="#b4a5db"/>
<rect x="37.50" y="242.73" width="10.75" height="1.72" fill="#a090d1"/>
<rect x="37.50" y="244.40" width="10.75" height="1.72" fill="#6c5ab5"/>
<rect x="37.50" y="246.07" width="10.75" height="1.72" fill="#8473c2"/>
<rect x="37.50" y="247.75" width="10.75" height="1.72" fill="#aa9ad6"/>
<rect x="37.50" y="249.42" width="10.75" height="1.72" fill="#a090d1"/>
<rect x="37.50" y="251.09" width="10.75" height="1.72" fill="#a697d4"/>
<rect x="37.50" y="252.77" width="10.75" height="1.72" fill="#f1ebf6"/>
<rect x="37.50" y="254.44" width="10.75" height="1.72" fill="#faf4f8"/>
<rect x="37.50" y="256.11" width="10.75" height="1.72" fill="#f8f3f8"/>
<rect x="37.50" y="257.79" width="10.75" height="1.72" fill="#f1eaf5"/>
<rect x="37.50" y="259.46" width="10.75" height="1.72" fill="#ebe3f3"/>
<rect x="37.50" y="261.13" width="10.75" height="1.72" fill="#faf2f4"/>
<rect x="37.50" y="262.81" width="10.75" height="1.72" fill="#faf0f0"/>
<rect x="37.50" y="264.48" width="10.75" height="1.72" fill="#f0e8f5"/>
<rect x="37.50" y="266.15" width="10.75" height="1.72" fill="#f8f3f8"/>
<rect x="37.50" y="267.83" width="10.75" height="1.72" fill="#faedeb"/>
<rect x="37.50" y="269.50" width="10.75" height="1.72" fill="#ebe3f3"/>
<rect x="37.50" y="271.17" width="10.75" height="1.72" fill="#ede6f4"/>
<rect x="37.50" y="272.85" width="10.75" height="1.72" fill="#e5dbf1"/>
<rect x="37.50" y="274.52" width="10.75" height="1.72" fill="#f6f0f7"/>
<rect x="37.50" y="276.19" width="10.75" height="1.72" fill="#f7f1f8"/>
<rect x="37.50" y="277.87" width="10.75" height="1.72" fill="#f2ebf6"/>
<rect x="37.50" y="279.54" width="10.75" height="1.72" fill="#f3ecf6"/>
<rect x="37.50" y="281.21" width="10.75" height="1.72" fill="#faf0f1"/>
<rect x="37.50" y="282.89" width="10.75" height="1.72" fill="#d0c4e8"/>
<rect x="37.50" y="284.56" width="10.75" height="1.72" fill="#eae1f3"/>
<rect x="37.50" y="286.23" width="10.75" height="1.72" fill="#e9e0f2"/>
<rect x="37.50" y="287.91" width="10.75" height="1.72" fill="#faeeee"/>
<rect x="37.50" y="289.58" width="10.75" height="1.72" fill="#faeeed"/>
<rect x="37.50" y="291.25" width="10.75" height="1.72" fill="#f7f1f8"/>
<rect x="37.50" y="292.93" width="10.75" height="1.72" fill="#e6ddf1"/>
<rect x="48.20" y="194.20" width="10.75" height="1.72" fill="#f7c0ab"/>
<rect x="48.20" y="195.87" width="10.75" height="1.72" fill="#f8cdbc"/>
<rect x="48.20" y="197.55" width="10.75" height="1.72" fill="#faf1f3"/>
<rect x="48.20" y="199.22" width="10.75" height="1.72" fill="#ece4f4"/>
<rect x="48.20" y="200.89" width="10.75" height="1.72" fill="#faf4f8"/>
<rect x="48.20" y="202.57" width="10.75" height="1.72" fill="#eae2f3"/>
<rect x="48.20" y="204.24" width="10.75" height="1.72" fill="#faf1f2"/>
<rect x="48.20" y="205.91" width="10.75" height="1.72" fill="#ece4f4"/>
<rect x="48.20" y="207.59" width="10.75" height="1.72" fill="#e9e1f3"/>
<rect x="48.20" y="209.26" width="10.75" height="1.72" fill="#e9e0f2"/>
<rect x="48.20" y="210.93" width="10.75" height="1.72" fill="#d5c9eb"/>
<rect x="48.20" y="212.61" width="10.75" height="1.72" fill="#c7b9e4"/>
<rect x="48.20" y="214.28" width="10.75" height="1.72" fill="#f4eef7"/>
<rect x="48.20" y="215.95" width="10.75" height="1.72" fill="#faf4f8"/>
<rect x="48.20" y="217.63" width="10.75" height="1.72" fill="#ede5f4"/>
<rect x="48.20" y="219.30" width="10.75" height="1.72" fill="#f4eef7"/>
<rect x="48.20" y="220.97" width="10.75" height="1.72" fill="#faebe9"/>
<rect x="48.20" y="222.65" width="10.75" height="1.72" fill="#f7c5b2"/>
<rect x="48.20" y="224.32" width="10.75" height="1.72" fill="#f8c9b7"/>
<rect x="48.20" y="225.99" width="10.75" height="1.72" fill="#e3daf0"/>
<rect x="48.20" y="227.67" width="10.75" height="1.72" fill="#faefef"/>
<rect x="48.20" y="229.34" width="10.75" height="1.72" fill="#faeded"/>
<rect x="48.20" y="231.01" width="10.75" height="1.72" fill="#f8f2f8"/>
<rect x="48.20" y="232.69" width="10.75" height="1.72" fill="#faf4f8"/>
<rect x="48.20" y="234.36" width="10.75" height="1.72" fill="#faeceb"/>
<rect x="48.20" y="236.03" width="10.75" height="1.72" fill="#f5eff7"/>
<rect x="48.20" y="237.71" width="10.75" height="1.72" fill="#faeff0"/>
<rect x="48.20" y="239.38" width="10.75" height="1.72" fill="#faf5f9"/>
<rect x="48.20" y="241.05" width="10.75" height="1.72" fill="#faefef"/>
<rect x="48.20" y="242.73" width="10.75" height="1.72" fill="#f9f4f9"/>
<rect x="48.20" y="244.40" width="10.75" height="1.72" fill="#faf0f1"/>
<rect x="48.20" y="246.07" width="10.75" height="1.72" fill="#faf2f5"/>
<rect x="48.20" y="247.75" width="10.75" height="1.72" fill="#f6f0f7"/>
<rect x="48.20" y="249.42" width="10.75" height="1.72" fill="#c7bae4"/>
<rect x="48.20" y="251.09" width="10.75" height="1.72" fill="#d3c7ea"/>
<rect x="48.20" y="252.77" width="10.75" height="1.72" fill="#d5c8ea"/>
<rect x="48.20" y="254.44" width="10.75" height="1.72" fill="#ded3ee"/>
<rect x="48.20" y="256.11" width="10.75" height="1.72" fill="#c7bae4"/>
<rect x="48.20" y="257.79" width="10.75" height="1.72" fill="#d2c5e9"/>
<rect x="48.20" y="259.46" width="10.75" height="1.72" fill="#ddd2ee"/>
<rect x="48.20" y="261.13" width="10.75" height="1.72" fill="#daceed"/>
<rect x="48.20" y="262.81" width="10.75" height="1.72" fill="#d3c6e9"/>
<rect x="48.20" y="264.48" width="10.75" height="1.72" fill="#bfb1e0"/>
<rect x="48.20" y="266.15" width="10.75" height="1.72" fill="#cdc0e7"/>
<rect x="48.20" y="267.83" width="10.75" height="1.72" fill="#dfd5ef"/>
<rect x="48.20" y="269.50" width="10.75" height="1.72" fill="#9281c9"/>
<rect x="48.20" y="271.17" width="10.75" height="1.72" fill="#b6a8dc"/>
<rect x="48.20" y="272.85" width="10.75" height="1.72" fill="#9b8ace"/>
<rect x="48.20" y="274.52" width="10.75" height="1.72" fill="#b5a7db"/>
<rect x="48.20" y="276.19" width="10.75" height="1.72" fill="#dfd4ee"/>
<rect x="48.20" y="277.87" width="10.75" height="1.72" fill="#d6caeb"/>
<rect x="48.20" y="279.54" width="10.75" height="1.72" fill="#c9bce5"/>
<rect x="48.20" y="281.21" width="10.75" height="1.72" fill="#dfd5ef"/>
<rect x="48.20" y="282.89" width="10.75" height="1.72" fill="#c7bae4"/>
<rect x="48.20" y="284.56" width="10.75" height="1.72" fill="#c3b6e2"/>
<rect x="48.20" y="286.23" width="10.75" height="1.72" fill="#cdc0e7"/>
<rect x="48.20" y="287.91" width="10.75" height="1.72" fill="#7261b8"/>
<rect x="48.20" y="289.58" width="10.75" height="1.72" fill="#7867bc"/>
<rect x="48.20" y="291.25" width="10.75" height="1.72" fill="#f1ebf6"/>
<rect x="48.20" y="292.93" width="10.75" height="1.72" fill="#eee6f4"/>
<rect x="58.90" y="194.20" width="10.75" height="1.72" fill="#e8dff2"/>
<rect x="58.90" y="195.87" width="10.75" height="1.72" fill="#ede5f4"/>
<rect x="58.90" y="197.55" width="10.75" height="1.72" fill="#f0e8f5"/>
<rect x="58.90" y="199.22" width="10.75" height="1.72" fill="#faf4f7"/>
<rect x="58.90" y="200.89" width="10.75" height="1.72" fill="#eee7f4"/>
<rect x="58.90" y="202.57" width="10.75" height="1.72" fill="#e0d5ef"/>
<rect x="58.90" y="204.24" width="10.75" height="1.72" fill="#e0d6ef"/>
<rect x="58.90" y="205.91" width="10.75" height="1.72" fill="#f2ecf6"/>
<rect x="58.90" y="207.59" width="10.75" height="1.72" fill="#faf5f9"/>
<rect x="58.90" y="209.26" width="10.75" height="1.72" fill="#e3daf0"/>
<rect x="58.90" y="210.93" width="10.75" height="1.72" fill="#e0d5ef"/>
<rect x="58.90" y="212.61" width="10.75" height="1.72" fill="#e7def2"/>
<rect x="58.90" y="214.28" width="10.75" height="1.72" fill="#e0d6ef"/>
<rect x="58.90" y="215.95" width="10.75" height="1.72" fill="#eee7f4"/>
<rect x="58.90" y="217.63" width="10.75" height="1.72" fill="#f5eff7"/>
<rect x="58.90" y="219.30" width="10.75" height="1.72" fill="#faf0f2"/>
<rect x="58.90" y="220.97" width="10.75" height="1.72" fill="#e6dcf1"/>
<rect x="58.90" y="222.65" width="10.75" height="1.72" fill="#e5dcf1"/>
<rect x="58.90" y="224.32" width="10.75" height="1.72" fill="#efe8f5"/>
<rect x="58.90" y="225.99" width="10.75" height="1.72" fill="#e5dcf1"/>
<rect x="58.90" y="227.67" width="10.75" height="1.72" fill="#ebe2f3"/>
<rect x="58.90" y="229.34" width="10.75" height="1.72" fill="#f0eaf5"/>
<rect x="58.90" y="231.01" width="10.75" height="1.72" fill="#f9f3f8"/>
<rect x="58.90" y="232.69" width="10.75" height="1.72" fill="#faf5f9"/>
<rect x="58.90" y="234.36" width="10.75" height="1.72" fill="#e2d8f0"/>
<rect x="58.90" y="236.03" width="10.75" height="1.72" fill="#f7f2f8"/>
<rect x="58.90" y="237.71" width="10.75" height="1.72" fill="#eee7f4"/>
<rect x="58.90" y="239.38" width="10.75" height="1.72" fill="#faf2f4"/>
<rect x="58.90" y="241.05" width="10.75" height="1.72" fill="#f2ecf6"/>
<rect x="58.90" y="242.73" width="10.75" height="1.72" fill="#faf5f9"/>
<rect x="58.90" y="244.40" width="10.75" height="1.72" fill="#efe7f5"/>
<rect x="58.90" y="246.07" width="10.75" height="1.72" fill="#e6ddf1"/>
<rect x="58.90" y="247.75" width="10.75" height="1.72" fill="#faf4f8"/>
<rect x="58.90" y="249.42" width="10.75" height="1.72" fill="#f7f2f8"/>
<rect x="58.90" y="251.09" width="10.75" height="1.72" fill="#faf2f4"/>
<rect x="58.90" y="252.77" width="10.75" height="1.72" fill="#faf0f1"/>
<rect x="58.90" y="254.44" width="10.75" height="1.72" fill="#faf5f9"/>
<rect x="58.90" y="256.11" width="10.75" height="1.72" fill="#faf2f4"/>
<rect x="58.90" y="257.79" width="10.75" height="1.72" fill="#ebe2f3"/>
<rect x="58.90" y="259.46" width="10.75" height="1.72" fill="#eee6f4"/>
<rect x="58.90" y="261.13" width="10.75" height="1.72" fill="#f9f4f9"/>
<rect x="58.90" y="262.81" width="10.75" height="1.72" fill="#e0d5ef"/>
<rect x="58.90" y="264.48" width="10.75" height="1.72" fill="#e1d7ef"/>
<rect x="58.90" y="266.15" width="10.75" height="1.72" fill="#e5dbf1"/>
<rect x="58.90" y="267.83" width="10.75" height="1.72" fill="#faf5f9"/>
<rect x="58.90" y="269.50" width="10.75" height="1.72" fill="#e4daf1"/>
<rect x="58.90" y="271.17" width="10.75" height="1.72" fill="#f7f2f8"/>
<rect x="58.90" y="272.85" width="10.75" height="1.72" fill="#f6f0f8"/>
<rect x="58.90" y="274.52" width="10.75" height="1.72" fill="#f0e8f5"/>
<rect x="58.90" y="276.19" width="10.75" height="1.72" fill="#e2d8f0"/>
<rect x="58.90" y="277.87" width="10.75" height="1.72" fill="#f1eaf5"/>
<rect x="58.90" y="279.54" width="10.75" height="1.72" fill="#f8f2f8"/>
<rect x="58.90" y="281.21" width="10.75" height="1.72" fill="#f1eaf5"/>
<rect x="58.90" y="282.89" width="10.75" height="1.72" fill="#f2ebf6"/>
<rect x="58.90" y="284.56" width="10.75" height="1.72" fill="#ece4f4"/>
<rect x="58.90" y="286.23" width="10.75" height="1.72" fill="#faf2f4"/>
<rect x="58.90" y="287.91" width="10.75" height="1.72" fill="#faf4f7"/>
<rect x="58.90" y="289.58" width="10.75" height="1.72" fill="#f1eaf5"/>
<rect x="58.90" y="291.25" width="10.75" height="1.72" fill="#e6dcf1"/>
<rect x="58.90" y="292.93" width="10.75" height="1.72" fill="#f0e9f5"/>
<rect x="69.60" y="194.20" width="10.75" height="1.72" fill="#faf3f6"/>
<rect x="69.60" y="195.87" width="10.75" height="1.72" fill="#e9e1f3"/>
<rect x="69.60" y="197.55" width="10.75" height="1.72" fill="#fae9e6"/>
<rect x="69.60" y="199.22" width="10.75" height="1.72" fill="#f9f4f9"/>
<rect x="69.60" y="200.89" width="10.75" height="1.72" fill="#f5eff7"/>
<rect x="69.60" y="202.57" width="10.75" height="1.72" fill="#faeeed"/>
<rect x="69.60" y="204.24" width="10.75" height="1.72" fill="#ded4ee"/>
<rect x="69.60" y="205.91" width="10.75" height="1.72" fill="#cbbee6"/>
<rect x="69.60" y="207.59" width="10.75" height="1.72" fill="#dcd1ed"/>
<rect x="69.60" y="209.26" width="10.75" height="1.72" fill="#ede6f4"/>
<rect x="69.60" y="210.93" width="10.75" height="1.72" fill="#ded3ee"/>
<rect x="69.60" y="212.61" width="10.75" height="1.72" fill="#ddd1ee"/>
<rect x="69.60" y="214.28" width="10.75" height="1.72" fill="#faeded"/>
<rect x="69.60" y="215.95" width="10.75" height="1.72" fill="#faebe9"/>
<rect x="69.60" y="217.63" width="10.75" height="1.72" fill="#f8f2f8"/>
<rect x="69.60" y="219.30" width="10.75" height="1.72" fill="#f3ecf6"/>
<rect x="69.60" y="220.97" width="10.75" height="1.72" fill="#efe7f5"/>
<rect x="69.60" y="222.65" width="10.75" height="1.72" fill="#faf3f6"/>
<rect x="69.60" y="224.32" width="10.75" height="1.72" fill="#faeae8"/>
<rect x="69.60" y="225.99" width="10.75" height="1.72" fill="#ede5f4"/>
<rect x="69.60" y="227.67" width="10.75" height="1.72" fill="#faeeee"/>
<rect x="69.60" y="229.34" width="10.75" height="1.72" fill="#e9e1f3"/>
<rect x="69.60" y="231.01" width="10.75" height="1.72" fill="#efe7f5"/>
<rect x="69.60" y="232.69" width="10.75" height="1.72" fill="#f0e9f5"/>
<rect x="69.60" y="234.36" width="10.75" height="1.72" fill="#faf1f2"/>
<rect x="69.60" y="236.03" width="10.75" height="1.72" fill="#f3ecf6"/>
<rect x="69.60" y="237.71" width="10.75" height="1.72" fill="#f4eef7"/>
<rect x="69.60" y="239.38" width="10.75" height="1.72" fill="#faf3f5"/>
<rect x="69.60" y="241.05" width="10.75" height="1.72" fill="#ece4f4"/>
<rect x="69.60" y="242.73" width="10.75" height="1.72" fill="#faf0f0"/>
<rect x="69.60" y="244.40" width="10.75" height="1.72" fill="#ece5f4"/>
<rect x="69.60" y="246.07" width="10.75" height="1.72" fill="#f9f4f9"/>
<rect x="69.60" y="247.75" width="10.75" height="1.72" fill="#f0eaf5"/>
<rect x="69.60" y="249.42" width="10.75" height="1.72" fill="#c4b7e2"/>
<rect x="69.60" y="251.09" width="10.75" height="1.72" fill="#bcaede"/>
<rect x="69.60" y="252.77" width="10.75" height="1.72" fill="#c4b7e2"/>
<rect x="69.60" y="254.44" width="10.75" height="1.72" fill="#eee6f4"/>
<rect x="69.60" y="256.11" width="10.75" height="1.72" fill="#efe8f5"/>
<rect x="69.60" y="257.79" width="10.75" height="1.72" fill="#faf3f5"/>
<rect x="69.60" y="259.46" width="10.75" height="1.72" fill="#faf2f5"/>
<rect x="69.60" y="261.13" width="10.75" height="1.72" fill="#faf5f9"/>
<rect x="69.60" y="262.81" width="10.75" height="1.72" fill="#faeceb"/>
<rect x="69.60" y="264.48" width="10.75" height="1.72" fill="#faf3f6"/>
<rect x="69.60" y="266.15" width="10.75" height="1.72" fill="#faeceb"/>
<rect x="69.60" y="267.83" width="10.75" height="1.72" fill="#f0e9f5"/>
<rect x="69.60" y="269.50" width="10.75" height="1.72" fill="#faeff0"/>
<rect x="69.60" y="271.17" width="10.75" height="1.72" fill="#faeeed"/>
<rect x="69.60" y="272.85" width="10.75" height="1.72" fill="#faebe9"/>
<rect x="69.60" y="274.52" width="10.75" height="1.72" fill="#c3b6e2"/>
<rect x="69.60" y="276.19" width="10.75" height="1.72" fill="#beb0df"/>
<rect x="69.60" y="277.87" width="10.75" height="1.72" fill="#ded4ee"/>
<rect x="69.60" y="279.54" width="10.75" height="1.72" fill="#bfb1e0"/>
<rect x="69.60" y="281.21" width="10.75" height="1.72" fill="#c0b2e1"/>
<rect x="69.60" y="282.89" width="10.75" height="1.72" fill="#dcd1ee"/>
<rect x="69.60" y="284.56" width="10.75" height="1.72" fill="#f6f0f8"/>
<rect x="69.60" y="286.23" width="10.75" height="1.72" fill="#faeeee"/>
<rect x="69.60" y="287.91" width="10.75" height="1.72" fill="#ece5f4"/>
<rect x="69.60" y="289.58" width="10.75" height="1.72" fill="#f5f0f7"/>
<rect x="69.60" y="291.25" width="10.75" height="1.72" fill="#faf1f3"/>
<rect x="69.60" y="292.93" width="10.75" height="1.72" fill="#e9e0f2"/>
<rect x="80.30" y="194.20" width="10.75" height="1.72" fill="#e74c3b"/>
<rect x="80.30" y="195.87" width="10.75" height="1.72" fill="#faebe8"/>
<rect x="80.30" y="197.55" width="10.75" height="1.72" fill="#fae9e6"/>
<rect x="80.30" y="199.22" width="10.75" height="1.72" fill="#ece4f4"/>
<rect x="80.30" y="200.89" width="10.75" height="1.72" fill="#f9f4f9"/>
<rect x="80.30" y="202.57" width="10.75" height="1.72" fill="#c3b5e2"/>
<rect x="80.30" y="204.24" width="10.75" height="1.72" fill="#b2a3da"/>
<rect x="80.30" y="205.91" width="10.75" height="1.72" fill="#ad9ed7"/>
<rect x="80.30" y="207.59" width="10.75" height="1.72" fill="#a595d3"/>
<rect x="80.30" y="209.26" width="10.75" height="1.72" fill="#a696d4"/>
<rect x="80.30" y="210.93" width="10.75" height="1.72" fill="#9080c9"/>
<rect x="80.30" y="212.61" width="10.75" height="1.72" fill="#b4a6db"/>
<rect x="80.30" y="214.28" width="10.75" height="1.72" fill="#b9abdd"/>
<rect x="80.30" y="215.95" width="10.75" height="1.72" fill="#ebe3f3"/>
<rect x="80.30" y="217.63" width="10.75" height="1.72" fill="#eae2f3"/>
<rect x="80.30" y="219.30" width="10.75" height="1.72" fill="#faeae7"/>
<rect x="80.30" y="220.97" width="10.75" height="1.72" fill="#f7f2f8"/>
<rect x="80.30" y="222.65" width="10.75" height="1.72" fill="#faefef"/>
<rect x="80.30" y="224.32" width="10.75" height="1.72" fill="#ebe3f3"/>
<rect x="80.30" y="225.99" width="10.75" height="1.72" fill="#eae2f3"/>
<rect x="80.30" y="227.67" width="10.75" height="1.72" fill="#dcd1ed"/>
<rect x="80.30" y="229.34" width="10.75" height="1.72" fill="#f8f3f8"/>
<rect x="80.30" y="231.01" width="10.75" height="1.72" fill="#ebe3f3"/>
<rect x="80.30" y="232.69" width="10.75" height="1.72" fill="#e9e1f3"/>
<rect x="80.30" y="234.36" width="10.75" height="1.72" fill="#efe7f5"/>
<rect x="80.30" y="236.03" width="10.75" height="1.72" fill="#eee6f4"/>
<rect x="80.30" y="237.71" width="10.75" height="1.72" fill="#f9f4f9"/>
<rect x="80.30" y="239.38" width="10.75" height="1.72" fill="#cdc0e7"/>
<rect x="80.30" y="241.05" width="10.75" height="1.72" fill="#c3b5e2"/>
<rect x="80.30" y="242.73" width="10.75" height="1.72" fill="#bfb1e0"/>
<rect x="80.30" y="244.40" width="10.75" height="1.72" fill="#f6f0f7"/>
<rect x="80.30" y="246.07" width="10.75" height="1.72" fill="#faf3f6"/>
<rect x="80.30" y="247.75" width="10.75" height="1.72" fill="#f9f4f9"/>
<rect x="80.30" y="249.42" width="10.75" height="1.72" fill="#fae9e5"/>
<rect x="80.30" y="251.09" width="10.75" height="1.72" fill="#faeeed"/>
<rect x="80.30" y="252.77" width="10.75" height="1.72" fill="#f1eaf5"/>
<rect x="80.30" y="254.44" width="10.75" height="1.72" fill="#9989cd"/>
<rect x="80.30" y="256.11" width="10.75" height="1.72" fill="#9d8dcf"/>
<rect x="80.30" y="257.79" width="10.75" height="1.72" fill="#a292d2"/>
<rect x="80.30" y="259.46" width="10.75" height="1.72" fill="#9786cc"/>
<rect x="80.30" y="261.13" width="10.75" height="1.72" fill="#faefef"/>
<rect x="80.30" y="262.81" width="10.75" height="1.72" fill="#faefef"/>
<rect x="80.30" y="264.48" width="10.75" height="1.72" fill="#f9ddd2"/>
<rect x="80.30" y="266.15" width="10.75" height="1.72" fill="#fae8e4"/>
<rect x="80.30" y="267.83" width="10.75" height="1.72" fill="#faf2f4"/>
<rect x="80.30" y="269.50" width="10.75" height="1.72" fill="#f4eef7"/>
<rect x="80.30" y="271.17" width="10.75" height="1.72" fill="#faf2f5"/>
<rect x="80.30" y="272.85" width="10.75" height="1.72" fill="#a99ad5"/>
<rect x="80.30" y="274.52" width="10.75" height="1.72" fill="#c1b3e1"/>
<rect x="80.30" y="276.19" width="10.75" height="1.72" fill="#c0b2e1"/>
<rect x="80.30" y="277.87" width="10.75" height="1.72" fill="#b9abdd"/>
<rect x="80.30" y="279.54" width="10.75" height="1.72" fill="#d3c6e9"/>
<rect x="80.30" y="281.21" width="10.75" height="1.72" fill="#c2b5e2"/>
<rect x="80.30" y="282.89" width="10.75" height="1.72" fill="#d2c5e9"/>
<rect x="80.30" y="284.56" width="10.75" height="1.72" fill="#e9e1f3"/>
<rect x="80.30" y="286.23" width="10.75" height="1.72" fill="#faf3f6"/>
<rect x="80.30" y="287.91" width="10.75" height="1.72" fill="#faf0f0"/>
<rect x="80.30" y="289.58" width="10.75" height="1.72" fill="#f1eaf5"/>
<rect x="80.30" y="291.25" width="10.75" height="1.72" fill="#f5eff7"/>
<rect x="80.30" y="292.93" width="10.75" height="1.72" fill="#eae2f3"/>
<rect x="37.50" y="295.40" width="10.75" height="3.20" fill="#f0e21c"/>
<rect x="48.20" y="295.40" width="10.75" height="3.20" fill="#7cc35a"/>
<rect x="58.90" y="295.40" width="10.75" height="3.20" fill="#e4604a"/>
<rect x="69.60" y="295.40" width="10.75" height="3.20" fill="#5a2a82"/>
<rect x="80.30" y="295.40" width="10.75" height="3.20" fill="#f2c4d4"/>
<path d="M37.10,195.04H36.92V196.71H37.10M37.10,198.38H36.98V200.06H37.10M36.92,195.87H36.75V199.22H36.98M37.10,201.73H37.05V203.40H37.10M37.05,202.57H36.93V205.08H37.10M37.10,206.75H36.95V208.42H37.10M36.93,203.82H36.87V207.59H36.95M36.75,197.55H36.58V205.70H36.87M37.10,210.10H37.06V211.77H37.10M37.06,210.93H36.88V213.44H37.10M37.10,215.12H36.99V216.79H37.10M37.10,218.46H37.01V220.14H37.10M37.01,219.30H36.93V221.81H37.10M36.99,215.95H36.80V220.56H36.93M36.88,212.19H36.69V218.25H36.80M37.10,223.48H37.06V225.16H37.10M37.10,228.50H37.06V230.18H37.10M37.10,226.83H37.00V229.34H37.06M37.06,224.32H36.85V228.08H37.00M37.10,231.85H36.93V233.52H37.10M37.10,235.20H36.96V236.87H37.10M36.93,232.69H36.89V236.03H36.96M36.85,226.20H36.64V234.36H36.89M36.69,215.22H36.30V230.28H36.64M36.58,201.63H36.01V222.75H36.30M37.10,240.22H36.92V241.89H37.10M37.10,238.54H36.77V241.05H36.92M36.77,239.80H36.65V243.56H37.10M36.65,241.68H36.59V245.24H37.10M37.10,246.91H37.03V248.58H37.10M37.10,250.26H37.06V251.93H37.10M37.03,247.75H36.92V251.09H37.06M37.10,253.60H37.05V255.28H37.10M36.92,249.42H36.81V254.44H37.05M36.59,243.46H36.46V251.93H36.81M37.10,256.95H37.03V258.62H37.10M37.10,260.30H36.98V261.97H37.10M37.03,257.79H36.88V261.13H36.98M36.46,247.69H36.31V259.46H36.88M37.10,263.64H36.94V265.32H37.10M37.10,266.99H37.01V268.66H37.10M37.10,270.34H37.02V272.01H37.10M37.01,267.83H36.88V271.17H37.02M37.10,273.68H36.98V275.36H37.10M36.88,269.50H36.76V274.52H36.98M36.94,264.48H36.63V272.01H36.76M37.10,280.38H36.92V282.05H37.10M37.10,278.70H36.76V281.21H36.92M37.10,277.03H36.59V279.96H36.76M37.10,283.72H37.06V285.40H37.10M36.59,278.49H36.55V284.56H37.06M36.63,268.25H36.42V281.53H36.55M37.10,287.07H36.97V288.74H37.10M37.10,292.09H36.99V293.76H37.10M37.10,290.42H36.94V292.93H36.99M36.97,287.91H36.87V291.67H36.94M36.42,274.89H36.23V289.79H36.87M36.31,253.58H35.80V282.34H36.23M36.01,212.19H35.30V267.96H35.80" fill="none" stroke="#3a3a3a" stroke-width="0.42"/>
<path d="M33.50,222.31H28.50V294.00H37.10" fill="none" stroke="#666" stroke-width="0.5"/>
<line x1="33.50" y1="194.50" x2="33.50" y2="294.00" stroke="#666" stroke-width="0.5"/>
<rect x="127.60" y="193.80" width="11.01" height="1.74" fill="#f8d0bf"/>
<rect x="127.60" y="195.49" width="11.01" height="1.74" fill="#f9e2db"/>
<rect x="127.60" y="197.19" width="11.01" height="1.74" fill="#f9dcd0"/>
<rect x="127.60" y="198.88" width="11.01" height="1.74" fill="#f1eaf6"/>
<rect x="127.60" y="200.57" width="11.01" height="1.74" fill="#faeeed"/>
<rect x="127.60" y="202.27" width="11.01" height="1.74" fill="#faf1f2"/>
<rect x="127.60" y="203.96" width="11.01" height="1.74" fill="#bbadde"/>
<rect x="127.60" y="205.65" width="11.01" height="1.74" fill="#a495d3"/>
<rect x="127.60" y="207.35" width="11.01" height="1.74" fill="#a596d4"/>
<rect x="127.60" y="209.04" width="11.01" height="1.74" fill="#a090d1"/>
<rect x="127.60" y="210.73" width="11.01" height="1.74" fill="#a191d1"/>
<rect x="127.60" y="212.43" width="11.01" height="1.74" fill="#afa0d8"/>
<rect x="127.60" y="214.12" width="11.01" height="1.74" fill="#cabde5"/>
<rect x="127.60" y="215.81" width="11.01" height="1.74" fill="#e9e0f2"/>
<rect x="127.60" y="217.51" width="11.01" height="1.74" fill="#eae2f3"/>
<rect x="127.60" y="219.20" width="11.01" height="1.74" fill="#faebe8"/>
<rect x="127.60" y="220.89" width="11.01" height="1.74" fill="#f9f4f9"/>
<rect x="127.60" y="222.59" width="11.01" height="1.74" fill="#f9ded4"/>
<rect x="127.60" y="224.28" width="11.01" height="1.74" fill="#f7f1f8"/>
<rect x="127.60" y="225.97" width="11.01" height="1.74" fill="#f8f2f8"/>
<rect x="127.60" y="227.67" width="11.01" height="1.74" fill="#fae9e5"/>
<rect x="127.60" y="229.36" width="11.01" height="1.74" fill="#fae7e2"/>
<rect x="127.60" y="231.05" width="11.01" height="1.74" fill="#a899d5"/>
<rect x="127.60" y="232.75" width="11.01" height="1.74" fill="#faefef"/>
<rect x="127.60" y="234.44" width="11.01" height="1.74" fill="#faedec"/>
<rect x="127.60" y="236.13" width="11.01" height="1.74" fill="#f4eef7"/>
<rect x="127.60" y="237.83" width="11.01" height="1.74" fill="#f9dfd5"/>
<rect x="127.60" y="239.52" width="11.01" height="1.74" fill="#fae8e3"/>
<rect x="127.60" y="241.21" width="11.01" height="1.74" fill="#faf0f1"/>
<rect x="127.60" y="242.91" width="11.01" height="1.74" fill="#fae7e3"/>
<rect x="127.60" y="244.60" width="11.01" height="1.74" fill="#faf4f7"/>
<rect x="127.60" y="246.29" width="11.01" height="1.74" fill="#faecea"/>
<rect x="127.60" y="247.99" width="11.01" height="1.74" fill="#faeceb"/>
<rect x="127.60" y="249.68" width="11.01" height="1.74" fill="#f9e3dc"/>
<rect x="127.60" y="251.37" width="11.01" height="1.74" fill="#faecea"/>
<rect x="127.60" y="253.07" width="11.01" height="1.74" fill="#faeeee"/>
<rect x="127.60" y="254.76" width="11.01" height="1.74" fill="#f9e4de"/>
<rect x="127.60" y="256.45" width="11.01" height="1.74" fill="#faebe9"/>
<rect x="127.60" y="258.15" width="11.01" height="1.74" fill="#fae7e2"/>
<rect x="127.60" y="259.84" width="11.01" height="1.74" fill="#faf3f5"/>
<rect x="127.60" y="261.53" width="11.01" height="1.74" fill="#fae8e4"/>
<rect x="127.60" y="263.23" width="11.01" height="1.74" fill="#faeded"/>
<rect x="127.60" y="264.92" width="11.01" height="1.74" fill="#faf3f5"/>
<rect x="127.60" y="266.61" width="11.01" height="1.74" fill="#f9dfd5"/>
<rect x="127.60" y="268.31" width="11.01" height="1.74" fill="#f9dfd5"/>
<rect x="127.60" y="270.00" width="11.01" height="1.74" fill="#eee6f4"/>
<rect x="127.60" y="271.69" width="11.01" height="1.74" fill="#faeae8"/>
<rect x="127.60" y="273.39" width="11.01" height="1.74" fill="#f4eef7"/>
<rect x="127.60" y="275.08" width="11.01" height="1.74" fill="#afa0d8"/>
<rect x="127.60" y="276.77" width="11.01" height="1.74" fill="#8675c3"/>
<rect x="127.60" y="278.47" width="11.01" height="1.74" fill="#b1a2d9"/>
<rect x="127.60" y="280.16" width="11.01" height="1.74" fill="#9483ca"/>
<rect x="127.60" y="281.85" width="11.01" height="1.74" fill="#8877c4"/>
<rect x="127.60" y="283.55" width="11.01" height="1.74" fill="#faf3f6"/>
<rect x="127.60" y="285.24" width="11.01" height="1.74" fill="#f9e1d8"/>
<rect x="127.60" y="286.93" width="11.01" height="1.74" fill="#f1eaf5"/>
<rect x="127.60" y="288.63" width="11.01" height="1.74" fill="#fae7e2"/>
<rect x="127.60" y="290.32" width="11.01" height="1.74" fill="#faebe9"/>
<rect x="127.60" y="292.01" width="11.01" height="1.74" fill="#faeeee"/>
<rect x="127.60" y="293.71" width="11.01" height="1.74" fill="#faecea"/>
<rect x="138.56" y="193.80" width="11.01" height="1.74" fill="#f1eaf6"/>
<rect x="138.56" y="195.49" width="11.01" height="1.74" fill="#faeae7"/>
<rect x="138.56" y="197.19" width="11.01" height="1.74" fill="#8473c2"/>
<rect x="138.56" y="198.88" width="11.01" height="1.74" fill="#ab9cd7"/>
<rect x="138.56" y="200.57" width="11.01" height="1.74" fill="#f1ebf6"/>
<rect x="138.56" y="202.27" width="11.01" height="1.74" fill="#faeae7"/>
<rect x="138.56" y="203.96" width="11.01" height="1.74" fill="#f6f1f8"/>
<rect x="138.56" y="205.65" width="11.01" height="1.74" fill="#e6ddf1"/>
<rect x="138.56" y="207.35" width="11.01" height="1.74" fill="#e7dff2"/>
<rect x="138.56" y="209.04" width="11.01" height="1.74" fill="#f6f1f8"/>
<rect x="138.56" y="210.73" width="11.01" height="1.74" fill="#faf2f5"/>
<rect x="138.56" y="212.43" width="11.01" height="1.74" fill="#e7def2"/>
<rect x="138.56" y="214.12" width="11.01" height="1.74" fill="#faf0f1"/>
<rect x="138.56" y="215.81" width="11.01" height="1.74" fill="#f4eef7"/>
<rect x="138.56" y="217.51" width="11.01" height="1.74" fill="#faf0f1"/>
<rect x="138.56" y="219.20" width="11.01" height="1.74" fill="#ede5f4"/>
<rect x="138.56" y="220.89" width="11.01" height="1.74" fill="#faf2f4"/>
<rect x="138.56" y="222.59" width="11.01" height="1.74" fill="#f3ecf6"/>
<rect x="138.56" y="224.28" width="11.01" height="1.74" fill="#ebe3f3"/>
<rect x="138.56" y="225.97" width="11.01" height="1.74" fill="#f2ebf6"/>
<rect x="138.56" y="227.67" width="11.01" height="1.74" fill="#f7f1f8"/>
<rect x="138.56" y="229.36" width="11.01" height="1.74" fill="#c8bae4"/>
<rect x="138.56" y="231.05" width="11.01" height="1.74" fill="#cec1e7"/>
<rect x="138.56" y="232.75" width="11.01" height="1.74" fill="#c7bae4"/>
<rect x="138.56" y="234.44" width="11.01" height="1.74" fill="#a292d2"/>
<rect x="138.56" y="236.13" width="11.01" height="1.74" fill="#ad9ed8"/>
<rect x="138.56" y="237.83" width="11.01" height="1.74" fill="#c2b4e1"/>
<rect x="138.56" y="239.52" width="11.01" height="1.74" fill="#beb0e0"/>
<rect x="138.56" y="241.21" width="11.01" height="1.74" fill="#b9abdd"/>
<rect x="138.56" y="242.91" width="11.01" height="1.74" fill="#b2a3da"/>
<rect x="138.56" y="244.60" width="11.01" height="1.74" fill="#b3a4da"/>
<rect x="138.56" y="246.29" width="11.01" height="1.74" fill="#c2b4e1"/>
<rect x="138.56" y="247.99" width="11.01" height="1.74" fill="#a191d2"/>
<rect x="138.56" y="249.68" width="11.01" height="1.74" fill="#c2b5e1"/>
<rect x="138.56" y="251.37" width="11.01" height="1.74" fill="#c0b2e1"/>
<rect x="138.56" y="253.07" width="11.01" height="1.74" fill="#b0a1d9"/>
<rect x="138.56" y="254.76" width="11.01" height="1.74" fill="#b7a8dc"/>
<rect x="138.56" y="256.45" width="11.01" height="1.74" fill="#a697d4"/>
<rect x="138.56" y="258.15" width="11.01" height="1.74" fill="#afa0d8"/>
<rect x="138.56" y="259.84" width="11.01" height="1.74" fill="#f0e9f5"/>
<rect x="138.56" y="261.53" width="11.01" height="1.74" fill="#f3edf6"/>
<rect x="138.56" y="263.23" width="11.01" height="1.74" fill="#faeae7"/>
<rect x="138.56" y="264.92" width="11.01" height="1.74" fill="#8f7ec8"/>
<rect x="138.56" y="266.61" width="11.01" height="1.74" fill="#8675c3"/>
<rect x="138.56" y="268.31" width="11.01" height="1.74" fill="#8776c4"/>
<rect x="138.56" y="270.00" width="11.01" height="1.74" fill="#9786cc"/>
<rect x="138.56" y="271.69" width="11.01" height="1.74" fill="#8473c2"/>
<rect x="138.56" y="273.39" width="11.01" height="1.74" fill="#c8bbe4"/>
<rect x="138.56" y="275.08" width="11.01" height="1.74" fill="#b5a6db"/>
<rect x="138.56" y="276.77" width="11.01" height="1.74" fill="#d6c9eb"/>
<rect x="138.56" y="278.47" width="11.01" height="1.74" fill="#b4a5db"/>
<rect x="138.56" y="280.16" width="11.01" height="1.74" fill="#d1c4e8"/>
<rect x="138.56" y="281.85" width="11.01" height="1.74" fill="#ccbfe6"/>
<rect x="138.56" y="283.55" width="11.01" height="1.74" fill="#907fc8"/>
<rect x="138.56" y="285.24" width="11.01" height="1.74" fill="#7f6ebf"/>
<rect x="138.56" y="286.93" width="11.01" height="1.74" fill="#4a4cab"/>
<rect x="138.56" y="288.63" width="11.01" height="1.74" fill="#3d47a7"/>
<rect x="138.56" y="290.32" width="11.01" height="1.74" fill="#3243a4"/>
<rect x="138.56" y="292.01" width="11.01" height="1.74" fill="#3243a4"/>
<rect x="138.56" y="293.71" width="11.01" height="1.74" fill="#faf5f9"/>
<rect x="149.52" y="193.80" width="11.01" height="1.74" fill="#faebe9"/>
<rect x="149.52" y="195.49" width="11.01" height="1.74" fill="#f9e4dd"/>
<rect x="149.52" y="197.19" width="11.01" height="1.74" fill="#f9dbcf"/>
<rect x="149.52" y="198.88" width="11.01" height="1.74" fill="#f5eff7"/>
<rect x="149.52" y="200.57" width="11.01" height="1.74" fill="#faecea"/>
<rect x="149.52" y="202.27" width="11.01" height="1.74" fill="#faebe9"/>
<rect x="149.52" y="203.96" width="11.01" height="1.74" fill="#c4b6e2"/>
<rect x="149.52" y="205.65" width="11.01" height="1.74" fill="#e4daf0"/>
<rect x="149.52" y="207.35" width="11.01" height="1.74" fill="#e2d8f0"/>
<rect x="149.52" y="209.04" width="11.01" height="1.74" fill="#dcd1ee"/>
<rect x="149.52" y="210.73" width="11.01" height="1.74" fill="#d3c7ea"/>
<rect x="149.52" y="212.43" width="11.01" height="1.74" fill="#d2c5e9"/>
<rect x="149.52" y="214.12" width="11.01" height="1.74" fill="#e2d9f0"/>
<rect x="149.52" y="215.81" width="11.01" height="1.74" fill="#c8bbe4"/>
<rect x="149.52" y="217.51" width="11.01" height="1.74" fill="#e8dff2"/>
<rect x="149.52" y="219.20" width="11.01" height="1.74" fill="#c0b2e0"/>
<rect x="149.52" y="220.89" width="11.01" height="1.74" fill="#e5dbf1"/>
<rect x="149.52" y="222.59" width="11.01" height="1.74" fill="#d0c4e8"/>
<rect x="149.52" y="224.28" width="11.01" height="1.74" fill="#faf0f0"/>
<rect x="149.52" y="225.97" width="11.01" height="1.74" fill="#f2ecf6"/>
<rect x="149.52" y="227.67" width="11.01" height="1.74" fill="#ede5f4"/>
<rect x="149.52" y="229.36" width="11.01" height="1.74" fill="#faecea"/>
<rect x="149.52" y="231.05" width="11.01" height="1.74" fill="#faedec"/>
<rect x="149.52" y="232.75" width="11.01" height="1.74" fill="#efe8f5"/>
<rect x="149.52" y="234.44" width="11.01" height="1.74" fill="#faecea"/>
<rect x="149.52" y="236.13" width="11.01" height="1.74" fill="#e9e1f3"/>
<rect x="149.52" y="237.83" width="11.01" height="1.74" fill="#f2ecf6"/>
<rect x="149.52" y="239.52" width="11.01" height="1.74" fill="#e9e0f2"/>
<rect x="149.52" y="241.21" width="11.01" height="1.74" fill="#eee6f4"/>
<rect x="149.52" y="242.91" width="11.01" height="1.74" fill="#eee6f4"/>
<rect x="149.52" y="244.60" width="11.01" height="1.74" fill="#faf0f1"/>
<rect x="149.52" y="246.29" width="11.01" height="1.74" fill="#f2ebf6"/>
<rect x="149.52" y="247.99" width="11.01" height="1.74" fill="#efe7f5"/>
<rect x="149.52" y="249.68" width="11.01" height="1.74" fill="#a393d2"/>
<rect x="149.52" y="251.37" width="11.01" height="1.74" fill="#b3a4da"/>
<rect x="149.52" y="253.07" width="11.01" height="1.74" fill="#b7a8dc"/>
<rect x="149.52" y="254.76" width="11.01" height="1.74" fill="#aa9bd6"/>
<rect x="149.52" y="256.45" width="11.01" height="1.74" fill="#faf4f9"/>
<rect x="149.52" y="258.15" width="11.01" height="1.74" fill="#faf2f4"/>
<rect x="149.52" y="259.84" width="11.01" height="1.74" fill="#faeeed"/>
<rect x="149.52" y="261.53" width="11.01" height="1.74" fill="#f9f4f9"/>
<rect x="149.52" y="263.23" width="11.01" height="1.74" fill="#faf2f5"/>
<rect x="149.52" y="264.92" width="11.01" height="1.74" fill="#ddd1ee"/>
<rect x="149.52" y="266.61" width="11.01" height="1.74" fill="#d3c7ea"/>
<rect x="149.52" y="268.31" width="11.01" height="1.74" fill="#dfd5ef"/>
<rect x="149.52" y="270.00" width="11.01" height="1.74" fill="#e6ddf2"/>
<rect x="149.52" y="271.69" width="11.01" height="1.74" fill="#e4dbf1"/>
<rect x="149.52" y="273.39" width="11.01" height="1.74" fill="#e8dff2"/>
<rect x="149.52" y="275.08" width="11.01" height="1.74" fill="#d4c8ea"/>
<rect x="149.52" y="276.77" width="11.01" height="1.74" fill="#dcd0ed"/>
<rect x="149.52" y="278.47" width="11.01" height="1.74" fill="#e4daf0"/>
<rect x="149.52" y="280.16" width="11.01" height="1.74" fill="#ede5f4"/>
<rect x="149.52" y="281.85" width="11.01" height="1.74" fill="#eae2f3"/>
<rect x="149.52" y="283.55" width="11.01" height="1.74" fill="#ece4f4"/>
<rect x="149.52" y="285.24" width="11.01" height="1.74" fill="#ebe3f3"/>
<rect x="149.52" y="286.93" width="11.01" height="1.74" fill="#eae2f3"/>
<rect x="149.52" y="288.63" width="11.01" height="1.74" fill="#e9e0f2"/>
<rect x="149.52" y="290.32" width="11.01" height="1.74" fill="#3243a4"/>
<rect x="149.52" y="292.01" width="11.01" height="1.74" fill="#444aa9"/>
<rect x="149.52" y="293.71" width="11.01" height="1.74" fill="#fae9e6"/>
<rect x="160.48" y="193.80" width="11.01" height="1.74" fill="#dc1c1c"/>
<rect x="160.48" y="195.49" width="11.01" height="1.74" fill="#faeae7"/>
<rect x="160.48" y="197.19" width="11.01" height="1.74" fill="#e9e1f3"/>
<rect x="160.48" y="198.88" width="11.01" height="1.74" fill="#f0e9f5"/>
<rect x="160.48" y="200.57" width="11.01" height="1.74" fill="#faeae8"/>
<rect x="160.48" y="202.27" width="11.01" height="1.74" fill="#f8f2f8"/>
<rect x="160.48" y="203.96" width="11.01" height="1.74" fill="#efe8f5"/>
<rect x="160.48" y="205.65" width="11.01" height="1.74" fill="#faefef"/>
<rect x="160.48" y="207.35" width="11.01" height="1.74" fill="#f6f0f8"/>
<rect x="160.48" y="209.04" width="11.01" height="1.74" fill="#faf5f9"/>
<rect x="160.48" y="210.73" width="11.01" height="1.74" fill="#f3ecf6"/>
<rect x="160.48" y="212.43" width="11.01" height="1.74" fill="#f0e9f5"/>
<rect x="160.48" y="214.12" width="11.01" height="1.74" fill="#f7f1f8"/>
<rect x="160.48" y="215.81" width="11.01" height="1.74" fill="#faedec"/>
<rect x="160.48" y="217.51" width="11.01" height="1.74" fill="#faeeee"/>
<rect x="160.48" y="219.20" width="11.01" height="1.74" fill="#ece5f4"/>
<rect x="160.48" y="220.89" width="11.01" height="1.74" fill="#f7f1f8"/>
<rect x="160.48" y="222.59" width="11.01" height="1.74" fill="#e3d9f0"/>
<rect x="160.48" y="224.28" width="11.01" height="1.74" fill="#f3ecf6"/>
<rect x="160.48" y="225.97" width="11.01" height="1.74" fill="#faf1f3"/>
<rect x="160.48" y="227.67" width="11.01" height="1.74" fill="#eee6f4"/>
<rect x="160.48" y="229.36" width="11.01" height="1.74" fill="#faf0f1"/>
<rect x="160.48" y="231.05" width="11.01" height="1.74" fill="#f3ecf6"/>
<rect x="160.48" y="232.75" width="11.01" height="1.74" fill="#f7f2f8"/>
<rect x="160.48" y="234.44" width="11.01" height="1.74" fill="#eee7f5"/>
<rect x="160.48" y="236.13" width="11.01" height="1.74" fill="#efe8f5"/>
<rect x="160.48" y="237.83" width="11.01" height="1.74" fill="#e7def2"/>
<rect x="160.48" y="239.52" width="11.01" height="1.74" fill="#faeeed"/>
<rect x="160.48" y="241.21" width="11.01" height="1.74" fill="#ebe3f3"/>
<rect x="160.48" y="242.91" width="11.01" height="1.74" fill="#e6dcf1"/>
<rect x="160.48" y="244.60" width="11.01" height="1.74" fill="#f8f2f8"/>
<rect x="160.48" y="246.29" width="11.01" height="1.74" fill="#f5eff7"/>
<rect x="160.48" y="247.99" width="11.01" height="1.74" fill="#f6f0f7"/>
<rect x="160.48" y="249.68" width="11.01" height="1.74" fill="#ede5f4"/>
<rect x="160.48" y="251.37" width="11.01" height="1.74" fill="#faeceb"/>
<rect x="160.48" y="253.07" width="11.01" height="1.74" fill="#f3edf6"/>
<rect x="160.48" y="254.76" width="11.01" height="1.74" fill="#8473c2"/>
<rect x="160.48" y="256.45" width="11.01" height="1.74" fill="#8675c3"/>
<rect x="160.48" y="258.15" width="11.01" height="1.74" fill="#8f7fc8"/>
<rect x="160.48" y="259.84" width="11.01" height="1.74" fill="#f4edf7"/>
<rect x="160.48" y="261.53" width="11.01" height="1.74" fill="#faeae7"/>
<rect x="160.48" y="263.23" width="11.01" height="1.74" fill="#f2ebf6"/>
<rect x="160.48" y="264.92" width="11.01" height="1.74" fill="#f3edf6"/>
<rect x="160.48" y="266.61" width="11.01" height="1.74" fill="#faf2f4"/>
<rect x="160.48" y="268.31" width="11.01" height="1.74" fill="#f5eff7"/>
<rect x="160.48" y="270.00" width="11.01" height="1.74" fill="#f9f4f9"/>
<rect x="160.48" y="271.69" width="11.01" height="1.74" fill="#faf2f4"/>
<rect x="160.48" y="273.39" width="11.01" height="1.74" fill="#ccbfe6"/>
<rect x="160.48" y="275.08" width="11.01" height="1.74" fill="#b5a6db"/>
<rect x="160.48" y="276.77" width="11.01" height="1.74" fill="#dbd0ed"/>
<rect x="160.48" y="278.47" width="11.01" height="1.74" fill="#b1a2d9"/>
<rect x="160.48" y="280.16" width="11.01" height="1.74" fill="#f7f1f8"/>
<rect x="160.48" y="281.85" width="11.01" height="1.74" fill="#f2ebf6"/>
<rect x="160.48" y="283.55" width="11.01" height="1.74" fill="#faedeb"/>
<rect x="160.48" y="285.24" width="11.01" height="1.74" fill="#f0e9f5"/>
<rect x="160.48" y="286.93" width="11.01" height="1.74" fill="#efe7f5"/>
<rect x="160.48" y="288.63" width="11.01" height="1.74" fill="#7260b8"/>
<rect x="160.48" y="290.32" width="11.01" height="1.74" fill="#6958b4"/>
<rect x="160.48" y="292.01" width="11.01" height="1.74" fill="#fae9e6"/>
<rect x="160.48" y="293.71" width="11.01" height="1.74" fill="#f7f2f8"/>
<rect x="171.44" y="193.80" width="11.01" height="1.74" fill="#faeae7"/>
<rect x="171.44" y="195.49" width="11.01" height="1.74" fill="#f5eff7"/>
<rect x="171.44" y="197.19" width="11.01" height="1.74" fill="#f9d5c6"/>
<rect x="171.44" y="198.88" width="11.01" height="1.74" fill="#ed664b"/>
<rect x="171.44" y="200.57" width="11.01" height="1.74" fill="#f0e9f5"/>
<rect x="171.44" y="202.27" width="11.01" height="1.74" fill="#f9f4f9"/>
<rect x="171.44" y="203.96" width="11.01" height="1.74" fill="#faeff0"/>
<rect x="171.44" y="205.65" width="11.01" height="1.74" fill="#faecea"/>
<rect x="171.44" y="207.35" width="11.01" height="1.74" fill="#faf3f6"/>
<rect x="171.44" y="209.04" width="11.01" height="1.74" fill="#f1eaf5"/>
<rect x="171.44" y="210.73" width="11.01" height="1.74" fill="#fae7e2"/>
<rect x="171.44" y="212.43" width="11.01" height="1.74" fill="#f9e2da"/>
<rect x="171.44" y="214.12" width="11.01" height="1.74" fill="#f5eff7"/>
<rect x="171.44" y="215.81" width="11.01" height="1.74" fill="#faf1f3"/>
<rect x="171.44" y="217.51" width="11.01" height="1.74" fill="#f9f3f8"/>
<rect x="171.44" y="219.20" width="11.01" height="1.74" fill="#f2ebf6"/>
<rect x="171.44" y="220.89" width="11.01" height="1.74" fill="#f4edf7"/>
<rect x="171.44" y="222.59" width="11.01" height="1.74" fill="#9a8ace"/>
<rect x="171.44" y="224.28" width="11.01" height="1.74" fill="#bfb1e0"/>
<rect x="171.44" y="225.97" width="11.01" height="1.74" fill="#ac9dd7"/>
<rect x="171.44" y="227.67" width="11.01" height="1.74" fill="#c4b7e2"/>
<rect x="171.44" y="229.36" width="11.01" height="1.74" fill="#ede5f4"/>
<rect x="171.44" y="231.05" width="11.01" height="1.74" fill="#f0e9f5"/>
<rect x="171.44" y="232.75" width="11.01" height="1.74" fill="#faeceb"/>
<rect x="171.44" y="234.44" width="11.01" height="1.74" fill="#faebe8"/>
<rect x="171.44" y="236.13" width="11.01" height="1.74" fill="#faeae7"/>
<rect x="171.44" y="237.83" width="11.01" height="1.74" fill="#faf4f9"/>
<rect x="171.44" y="239.52" width="11.01" height="1.74" fill="#f4eef7"/>
<rect x="171.44" y="241.21" width="11.01" height="1.74" fill="#eee7f5"/>
<rect x="171.44" y="242.91" width="11.01" height="1.74" fill="#dacfed"/>
<rect x="171.44" y="244.60" width="11.01" height="1.74" fill="#dbd0ed"/>
<rect x="171.44" y="246.29" width="11.01" height="1.74" fill="#f1eaf5"/>
<rect x="171.44" y="247.99" width="11.01" height="1.74" fill="#faf5f9"/>
<rect x="171.44" y="249.68" width="11.01" height="1.74" fill="#faebe9"/>
<rect x="171.44" y="251.37" width="11.01" height="1.74" fill="#ece4f4"/>
<rect x="171.44" y="253.07" width="11.01" height="1.74" fill="#faf3f6"/>
<rect x="171.44" y="254.76" width="11.01" height="1.74" fill="#eee7f5"/>
<rect x="171.44" y="256.45" width="11.01" height="1.74" fill="#faedec"/>
<rect x="171.44" y="258.15" width="11.01" height="1.74" fill="#faedec"/>
<rect x="171.44" y="259.84" width="11.01" height="1.74" fill="#9e8ed0"/>
<rect x="171.44" y="261.53" width="11.01" height="1.74" fill="#a292d2"/>
<rect x="171.44" y="263.23" width="11.01" height="1.74" fill="#9c8ccf"/>
<rect x="171.44" y="264.92" width="11.01" height="1.74" fill="#b9aadd"/>
<rect x="171.44" y="266.61" width="11.01" height="1.74" fill="#a596d4"/>
<rect x="171.44" y="268.31" width="11.01" height="1.74" fill="#b7a9dc"/>
<rect x="171.44" y="270.00" width="11.01" height="1.74" fill="#a495d3"/>
<rect x="171.44" y="271.69" width="11.01" height="1.74" fill="#9b8bce"/>
<rect x="171.44" y="273.39" width="11.01" height="1.74" fill="#8776c4"/>
<rect x="171.44" y="275.08" width="11.01" height="1.74" fill="#faeeee"/>
<rect x="171.44" y="276.77" width="11.01" height="1.74" fill="#faf4f9"/>
<rect x="171.44" y="278.47" width="11.01" height="1.74" fill="#faf3f5"/>
<rect x="171.44" y="280.16" width="11.01" height="1.74" fill="#f9e6e1"/>
<rect x="171.44" y="281.85" width="11.01" height="1.74" fill="#f9d3c3"/>
<rect x="171.44" y="283.55" width="11.01" height="1.74" fill="#f9ddd2"/>
<rect x="171.44" y="285.24" width="11.01" height="1.74" fill="#faeeee"/>
<rect x="171.44" y="286.93" width="11.01" height="1.74" fill="#faf1f3"/>
<rect x="171.44" y="288.63" width="11.01" height="1.74" fill="#7e6cbf"/>
<rect x="171.44" y="290.32" width="11.01" height="1.74" fill="#6958b4"/>
<rect x="171.44" y="292.01" width="11.01" height="1.74" fill="#ebe3f3"/>
<rect x="171.44" y="293.71" width="11.01" height="1.74" fill="#ece5f4"/>
<rect x="127.60" y="296.20" width="11.01" height="3.20" fill="#f0e21c"/>
<rect x="138.56" y="296.20" width="11.01" height="3.20" fill="#7cc35a"/>
<rect x="149.52" y="296.20" width="11.01" height="3.20" fill="#e4604a"/>
<rect x="160.48" y="296.20" width="11.01" height="3.20" fill="#5a2a82"/>
<rect x="171.44" y="296.20" width="11.01" height="3.20" fill="#f2c4d4"/>
<path d="M127.20,194.65H127.13V196.34H127.20M127.13,195.49H127.04V198.03H127.20M127.04,196.76H126.91V199.73H127.20M126.91,198.25H126.83V201.42H127.20M127.20,204.81H127.06V206.50H127.20M127.20,203.11H126.96V205.65H127.06M126.96,204.38H126.90V208.19H127.20M127.20,211.58H127.07V213.27H127.20M127.20,209.89H126.99V212.43H127.07M126.90,206.29H126.85V211.16H126.99M127.20,214.97H127.10V216.66H127.20M127.20,220.05H127.08V221.74H127.20M127.20,218.35H126.97V220.89H127.08M127.10,215.81H126.86V219.62H126.97M126.85,208.72H126.60V217.72H126.86M126.83,199.83H126.40V213.22H126.60M127.20,225.13H127.16V226.82H127.20M127.16,225.97H127.07V228.51H127.20M127.20,223.43H126.90V227.24H127.07M127.20,230.21H127.06V231.90H127.20M127.06,231.05H127.00V233.59H127.20M126.90,225.34H126.85V232.32H127.00M126.40,206.53H126.17V228.83H126.85M127.20,235.29H127.07V236.98H127.20M127.07,236.13H126.89V238.67H127.20M127.20,240.37H127.10V242.06H127.20M127.10,241.21H126.93V243.75H127.20M126.89,237.40H126.80V242.48H126.93M127.20,245.45H127.13V247.14H127.20M127.20,250.53H127.15V252.22H127.20M127.20,248.83H127.10V251.37H127.15M127.13,246.29H126.97V250.10H127.10M127.20,253.91H127.07V255.61H127.20M127.07,254.76H126.96V257.30H127.20M126.96,256.03H126.82V258.99H127.20M126.82,257.51H126.68V260.69H127.20M126.97,248.20H126.50V259.10H126.68M127.20,262.38H127.08V264.07H127.20M127.08,263.23H127.02V265.77H127.20M127.02,264.50H126.91V267.46H127.20M126.50,253.65H126.40V265.98H126.91M126.80,239.94H126.29V259.81H126.40M126.17,217.68H125.69V249.88H126.29M127.20,270.85H127.02V272.54H127.20M127.20,269.15H126.89V271.69H127.02M127.20,274.23H127.09V275.93H127.20M126.89,270.42H126.79V275.08H127.09M127.20,277.62H127.03V279.31H127.20M127.03,278.47H126.90V281.01H127.20M127.20,282.70H127.09V284.39H127.20M127.20,287.78H127.08V289.47H127.20M127.20,292.86H127.13V294.55H127.20M127.20,291.17H126.99V293.71H127.13M127.08,288.63H126.88V292.44H126.99M127.20,286.09H126.72V290.53H126.88M127.09,283.55H126.66V288.31H126.72M126.90,279.74H126.61V285.93H126.66M126.79,272.75H126.44V282.83H126.61M125.69,233.78H125.40V277.79H126.44" fill="none" stroke="#3a3a3a" stroke-width="0.42"/>
<path d="M123.60,222.25H118.00V294.80H127.20" fill="none" stroke="#666" stroke-width="0.5"/>
<line x1="123.60" y1="194.10" x2="123.60" y2="294.80" stroke="#666" stroke-width="0.5"/>
<rect x="218.60" y="193.80" width="10.97" height="1.74" fill="#f9ded4"/>
<rect x="218.60" y="195.49" width="10.97" height="1.74" fill="#f9d9cc"/>
<rect x="218.60" y="197.17" width="10.97" height="1.74" fill="#faebe9"/>
<rect x="218.60" y="198.86" width="10.97" height="1.74" fill="#faecea"/>
<rect x="218.60" y="200.55" width="10.97" height="1.74" fill="#faeeee"/>
<rect x="218.60" y="202.23" width="10.97" height="1.74" fill="#faecea"/>
<rect x="218.60" y="203.92" width="10.97" height="1.74" fill="#f9e6e0"/>
<rect x="218.60" y="205.61" width="10.97" height="1.74" fill="#f9e0d8"/>
<rect x="218.60" y="207.29" width="10.97" height="1.74" fill="#faeae7"/>
<rect x="218.60" y="208.98" width="10.97" height="1.74" fill="#ccbfe6"/>
<rect x="218.60" y="210.67" width="10.97" height="1.74" fill="#c8bbe4"/>
<rect x="218.60" y="212.35" width="10.97" height="1.74" fill="#c5b7e3"/>
<rect x="218.60" y="214.04" width="10.97" height="1.74" fill="#c7bae4"/>
<rect x="218.60" y="215.73" width="10.97" height="1.74" fill="#cabde5"/>
<rect x="218.60" y="217.41" width="10.97" height="1.74" fill="#c5b8e3"/>
<rect x="218.60" y="219.10" width="10.97" height="1.74" fill="#faf4f8"/>
<rect x="218.60" y="220.79" width="10.97" height="1.74" fill="#f6f1f8"/>
<rect x="218.60" y="222.47" width="10.97" height="1.74" fill="#f4eef7"/>
<rect x="218.60" y="224.16" width="10.97" height="1.74" fill="#f6f1f8"/>
<rect x="218.60" y="225.85" width="10.97" height="1.74" fill="#f3ecf6"/>
<rect x="218.60" y="227.53" width="10.97" height="1.74" fill="#d4c7ea"/>
<rect x="218.60" y="229.22" width="10.97" height="1.74" fill="#dbd0ed"/>
<rect x="218.60" y="230.91" width="10.97" height="1.74" fill="#c5b8e3"/>
<rect x="218.60" y="232.59" width="10.97" height="1.74" fill="#afa0d8"/>
<rect x="218.60" y="234.28" width="10.97" height="1.74" fill="#faf1f3"/>
<rect x="218.60" y="235.97" width="10.97" height="1.74" fill="#7968bc"/>
<rect x="218.60" y="237.65" width="10.97" height="1.74" fill="#8d7cc7"/>
<rect x="218.60" y="239.34" width="10.97" height="1.74" fill="#8978c5"/>
<rect x="218.60" y="241.03" width="10.97" height="1.74" fill="#8675c3"/>
<rect x="218.60" y="242.71" width="10.97" height="1.74" fill="#8b7ac6"/>
<rect x="218.60" y="244.40" width="10.97" height="1.74" fill="#7d6bbe"/>
<rect x="218.60" y="246.09" width="10.97" height="1.74" fill="#efe7f5"/>
<rect x="218.60" y="247.77" width="10.97" height="1.74" fill="#f4eef7"/>
<rect x="218.60" y="249.46" width="10.97" height="1.74" fill="#faebe8"/>
<rect x="218.60" y="251.15" width="10.97" height="1.74" fill="#faf2f5"/>
<rect x="218.60" y="252.83" width="10.97" height="1.74" fill="#f9e3db"/>
<rect x="218.60" y="254.52" width="10.97" height="1.74" fill="#f5eff7"/>
<rect x="218.60" y="256.21" width="10.97" height="1.74" fill="#f9e5e0"/>
<rect x="218.60" y="257.89" width="10.97" height="1.74" fill="#f5eff7"/>
<rect x="218.60" y="259.58" width="10.97" height="1.74" fill="#f9e5de"/>
<rect x="218.60" y="261.27" width="10.97" height="1.74" fill="#f9e6e1"/>
<rect x="218.60" y="262.95" width="10.97" height="1.74" fill="#f9e5df"/>
<rect x="218.60" y="264.64" width="10.97" height="1.74" fill="#fae9e5"/>
<rect x="218.60" y="266.33" width="10.97" height="1.74" fill="#f9e2d9"/>
<rect x="218.60" y="268.01" width="10.97" height="1.74" fill="#fae9e5"/>
<rect x="218.60" y="269.70" width="10.97" height="1.74" fill="#efe8f5"/>
<rect x="218.60" y="271.39" width="10.97" height="1.74" fill="#faf3f6"/>
<rect x="218.60" y="273.07" width="10.97" height="1.74" fill="#bdaedf"/>
<rect x="218.60" y="274.76" width="10.97" height="1.74" fill="#c4b6e2"/>
<rect x="218.60" y="276.45" width="10.97" height="1.74" fill="#f3edf6"/>
<rect x="218.60" y="278.13" width="10.97" height="1.74" fill="#f2ebf6"/>
<rect x="218.60" y="279.82" width="10.97" height="1.74" fill="#c2b4e1"/>
<rect x="218.60" y="281.51" width="10.97" height="1.74" fill="#a999d5"/>
<rect x="218.60" y="283.19" width="10.97" height="1.74" fill="#bfb2e0"/>
<rect x="218.60" y="284.88" width="10.97" height="1.74" fill="#faf5f8"/>
<rect x="218.60" y="286.57" width="10.97" height="1.74" fill="#faf5f9"/>
<rect x="218.60" y="288.25" width="10.97" height="1.74" fill="#eae1f3"/>
<rect x="218.60" y="289.94" width="10.97" height="1.74" fill="#f7f1f8"/>
<rect x="218.60" y="291.63" width="10.97" height="1.74" fill="#f4edf7"/>
<rect x="218.60" y="293.31" width="10.97" height="1.74" fill="#ebe3f3"/>
<rect x="229.52" y="193.80" width="10.97" height="1.74" fill="#e8e0f2"/>
<rect x="229.52" y="195.49" width="10.97" height="1.74" fill="#fae8e4"/>
<rect x="229.52" y="197.17" width="10.97" height="1.74" fill="#ece4f4"/>
<rect x="229.52" y="198.86" width="10.97" height="1.74" fill="#ab9cd6"/>
<rect x="229.52" y="200.55" width="10.97" height="1.74" fill="#a191d1"/>
<rect x="229.52" y="202.23" width="10.97" height="1.74" fill="#b0a1d9"/>
<rect x="229.52" y="203.92" width="10.97" height="1.74" fill="#9d8dcf"/>
<rect x="229.52" y="205.61" width="10.97" height="1.74" fill="#f3edf6"/>
<rect x="229.52" y="207.29" width="10.97" height="1.74" fill="#f9f3f8"/>
<rect x="229.52" y="208.98" width="10.97" height="1.74" fill="#fae9e6"/>
<rect x="229.52" y="210.67" width="10.97" height="1.74" fill="#ab9cd7"/>
<rect x="229.52" y="212.35" width="10.97" height="1.74" fill="#a292d2"/>
<rect x="229.52" y="214.04" width="10.97" height="1.74" fill="#ad9ed7"/>
<rect x="229.52" y="215.73" width="10.97" height="1.74" fill="#faebe8"/>
<rect x="229.52" y="217.41" width="10.97" height="1.74" fill="#faf0f0"/>
<rect x="229.52" y="219.10" width="10.97" height="1.74" fill="#f1eaf5"/>
<rect x="229.52" y="220.79" width="10.97" height="1.74" fill="#faf1f3"/>
<rect x="229.52" y="222.47" width="10.97" height="1.74" fill="#faeceb"/>
<rect x="229.52" y="224.16" width="10.97" height="1.74" fill="#f1eaf5"/>
<rect x="229.52" y="225.85" width="10.97" height="1.74" fill="#faf4f7"/>
<rect x="229.52" y="227.53" width="10.97" height="1.74" fill="#f4eef7"/>
<rect x="229.52" y="229.22" width="10.97" height="1.74" fill="#f9ded4"/>
<rect x="229.52" y="230.91" width="10.97" height="1.74" fill="#f9dcd1"/>
<rect x="229.52" y="232.59" width="10.97" height="1.74" fill="#f9dbcf"/>
<rect x="229.52" y="234.28" width="10.97" height="1.74" fill="#ebe3f3"/>
<rect x="229.52" y="235.97" width="10.97" height="1.74" fill="#faefef"/>
<rect x="229.52" y="237.65" width="10.97" height="1.74" fill="#faf3f6"/>
<rect x="229.52" y="239.34" width="10.97" height="1.74" fill="#e8e0f2"/>
<rect x="229.52" y="241.03" width="10.97" height="1.74" fill="#faefef"/>
<rect x="229.52" y="242.71" width="10.97" height="1.74" fill="#efe7f5"/>
<rect x="229.52" y="244.40" width="10.97" height="1.74" fill="#f8f3f8"/>
<rect x="229.52" y="246.09" width="10.97" height="1.74" fill="#faf5f8"/>
<rect x="229.52" y="247.77" width="10.97" height="1.74" fill="#f3edf6"/>
<rect x="229.52" y="249.46" width="10.97" height="1.74" fill="#9e8ed0"/>
<rect x="229.52" y="251.15" width="10.97" height="1.74" fill="#b6a7db"/>
<rect x="229.52" y="252.83" width="10.97" height="1.74" fill="#b3a5da"/>
<rect x="229.52" y="254.52" width="10.97" height="1.74" fill="#9787cc"/>
<rect x="229.52" y="256.21" width="10.97" height="1.74" fill="#8877c4"/>
<rect x="229.52" y="257.89" width="10.97" height="1.74" fill="#9a8ace"/>
<rect x="229.52" y="259.58" width="10.97" height="1.74" fill="#b6a8dc"/>
<rect x="229.52" y="261.27" width="10.97" height="1.74" fill="#8878c4"/>
<rect x="229.52" y="262.95" width="10.97" height="1.74" fill="#8d7dc7"/>
<rect x="229.52" y="264.64" width="10.97" height="1.74" fill="#7665bb"/>
<rect x="229.52" y="266.33" width="10.97" height="1.74" fill="#8372c1"/>
<rect x="229.52" y="268.01" width="10.97" height="1.74" fill="#6556b2"/>
<rect x="229.52" y="269.70" width="10.97" height="1.74" fill="#9585cb"/>
<rect x="229.52" y="271.39" width="10.97" height="1.74" fill="#7f6ebf"/>
<rect x="229.52" y="273.07" width="10.97" height="1.74" fill="#7866bb"/>
<rect x="229.52" y="274.76" width="10.97" height="1.74" fill="#705fb7"/>
<rect x="229.52" y="276.45" width="10.97" height="1.74" fill="#8a79c5"/>
<rect x="229.52" y="278.13" width="10.97" height="1.74" fill="#8270c1"/>
<rect x="229.52" y="279.82" width="10.97" height="1.74" fill="#7d6cbe"/>
<rect x="229.52" y="281.51" width="10.97" height="1.74" fill="#8776c4"/>
<rect x="229.52" y="283.19" width="10.97" height="1.74" fill="#9786cc"/>
<rect x="229.52" y="284.88" width="10.97" height="1.74" fill="#3243a4"/>
<rect x="229.52" y="286.57" width="10.97" height="1.74" fill="#4f4eac"/>
<rect x="229.52" y="288.25" width="10.97" height="1.74" fill="#3243a4"/>
<rect x="229.52" y="289.94" width="10.97" height="1.74" fill="#3243a4"/>
<rect x="229.52" y="291.63" width="10.97" height="1.74" fill="#ebe3f3"/>
<rect x="229.52" y="293.31" width="10.97" height="1.74" fill="#eae2f3"/>
<rect x="240.44" y="193.80" width="10.97" height="1.74" fill="#f9ddd2"/>
<rect x="240.44" y="195.49" width="10.97" height="1.74" fill="#f9ddd3"/>
<rect x="240.44" y="197.17" width="10.97" height="1.74" fill="#f9d3c3"/>
<rect x="240.44" y="198.86" width="10.97" height="1.74" fill="#f9e6e0"/>
<rect x="240.44" y="200.55" width="10.97" height="1.74" fill="#f9dacd"/>
<rect x="240.44" y="202.23" width="10.97" height="1.74" fill="#faeae7"/>
<rect x="240.44" y="203.92" width="10.97" height="1.74" fill="#faefef"/>
<rect x="240.44" y="205.61" width="10.97" height="1.74" fill="#f9d3c3"/>
<rect x="240.44" y="207.29" width="10.97" height="1.74" fill="#faeae8"/>
<rect x="240.44" y="208.98" width="10.97" height="1.74" fill="#f9e5df"/>
<rect x="240.44" y="210.67" width="10.97" height="1.74" fill="#faf1f3"/>
<rect x="240.44" y="212.35" width="10.97" height="1.74" fill="#fae8e5"/>
<rect x="240.44" y="214.04" width="10.97" height="1.74" fill="#f1ebf6"/>
<rect x="240.44" y="215.73" width="10.97" height="1.74" fill="#faebe8"/>
<rect x="240.44" y="217.41" width="10.97" height="1.74" fill="#fae7e2"/>
<rect x="240.44" y="219.10" width="10.97" height="1.74" fill="#f9f4f9"/>
<rect x="240.44" y="220.79" width="10.97" height="1.74" fill="#f9f3f8"/>
<rect x="240.44" y="222.47" width="10.97" height="1.74" fill="#faf4f7"/>
<rect x="240.44" y="224.16" width="10.97" height="1.74" fill="#f6f0f7"/>
<rect x="240.44" y="225.85" width="10.97" height="1.74" fill="#efe8f5"/>
<rect x="240.44" y="227.53" width="10.97" height="1.74" fill="#eae2f3"/>
<rect x="240.44" y="229.22" width="10.97" height="1.74" fill="#efe8f5"/>
<rect x="240.44" y="230.91" width="10.97" height="1.74" fill="#faf2f5"/>
<rect x="240.44" y="232.59" width="10.97" height="1.74" fill="#faeae7"/>
<rect x="240.44" y="234.28" width="10.97" height="1.74" fill="#faf4f8"/>
<rect x="240.44" y="235.97" width="10.97" height="1.74" fill="#f0e9f5"/>
<rect x="240.44" y="237.65" width="10.97" height="1.74" fill="#faf1f2"/>
<rect x="240.44" y="239.34" width="10.97" height="1.74" fill="#fae8e3"/>
<rect x="240.44" y="241.03" width="10.97" height="1.74" fill="#faeae8"/>
<rect x="240.44" y="242.71" width="10.97" height="1.74" fill="#faebe9"/>
<rect x="240.44" y="244.40" width="10.97" height="1.74" fill="#ebe3f3"/>
<rect x="240.44" y="246.09" width="10.97" height="1.74" fill="#fae9e5"/>
<rect x="240.44" y="247.77" width="10.97" height="1.74" fill="#faf4f9"/>
<rect x="240.44" y="249.46" width="10.97" height="1.74" fill="#f1eaf6"/>
<rect x="240.44" y="251.15" width="10.97" height="1.74" fill="#e9e1f3"/>
<rect x="240.44" y="252.83" width="10.97" height="1.74" fill="#faeded"/>
<rect x="240.44" y="254.52" width="10.97" height="1.74" fill="#f0eaf5"/>
<rect x="240.44" y="256.21" width="10.97" height="1.74" fill="#faeff0"/>
<rect x="240.44" y="257.89" width="10.97" height="1.74" fill="#fae9e6"/>
<rect x="240.44" y="259.58" width="10.97" height="1.74" fill="#ece5f4"/>
<rect x="240.44" y="261.27" width="10.97" height="1.74" fill="#fae8e5"/>
<rect x="240.44" y="262.95" width="10.97" height="1.74" fill="#faebe9"/>
<rect x="240.44" y="264.64" width="10.97" height="1.74" fill="#faefef"/>
<rect x="240.44" y="266.33" width="10.97" height="1.74" fill="#faf2f5"/>
<rect x="240.44" y="268.01" width="10.97" height="1.74" fill="#eee6f4"/>
<rect x="240.44" y="269.70" width="10.97" height="1.74" fill="#faf2f4"/>
<rect x="240.44" y="271.39" width="10.97" height="1.74" fill="#faf1f2"/>
<rect x="240.44" y="273.07" width="10.97" height="1.74" fill="#faf5f8"/>
<rect x="240.44" y="274.76" width="10.97" height="1.74" fill="#faeae7"/>
<rect x="240.44" y="276.45" width="10.97" height="1.74" fill="#faecea"/>
<rect x="240.44" y="278.13" width="10.97" height="1.74" fill="#faf3f6"/>
<rect x="240.44" y="279.82" width="10.97" height="1.74" fill="#fae8e5"/>
<rect x="240.44" y="281.51" width="10.97" height="1.74" fill="#fae8e4"/>
<rect x="240.44" y="283.19" width="10.97" height="1.74" fill="#faf0f1"/>
<rect x="240.44" y="284.88" width="10.97" height="1.74" fill="#faf0f0"/>
<rect x="240.44" y="286.57" width="10.97" height="1.74" fill="#ece4f4"/>
<rect x="240.44" y="288.25" width="10.97" height="1.74" fill="#f7f1f8"/>
<rect x="240.44" y="289.94" width="10.97" height="1.74" fill="#faedec"/>
<rect x="240.44" y="291.63" width="10.97" height="1.74" fill="#f8f3f8"/>
<rect x="240.44" y="293.31" width="10.97" height="1.74" fill="#faf3f6"/>
<rect x="251.36" y="193.80" width="10.97" height="1.74" fill="#faeae7"/>
<rect x="251.36" y="195.49" width="10.97" height="1.74" fill="#fae8e4"/>
<rect x="251.36" y="197.17" width="10.97" height="1.74" fill="#f9e4dd"/>
<rect x="251.36" y="198.86" width="10.97" height="1.74" fill="#f9e6e1"/>
<rect x="251.36" y="200.55" width="10.97" height="1.74" fill="#f9e4dd"/>
<rect x="251.36" y="202.23" width="10.97" height="1.74" fill="#efe8f5"/>
<rect x="251.36" y="203.92" width="10.97" height="1.74" fill="#b7a9dc"/>
<rect x="251.36" y="205.61" width="10.97" height="1.74" fill="#b9abdd"/>
<rect x="251.36" y="207.29" width="10.97" height="1.74" fill="#c7bae4"/>
<rect x="251.36" y="208.98" width="10.97" height="1.74" fill="#bbadde"/>
<rect x="251.36" y="210.67" width="10.97" height="1.74" fill="#d8ccec"/>
<rect x="251.36" y="212.35" width="10.97" height="1.74" fill="#bfb1e0"/>
<rect x="251.36" y="214.04" width="10.97" height="1.74" fill="#faf4f8"/>
<rect x="251.36" y="215.73" width="10.97" height="1.74" fill="#faebea"/>
<rect x="251.36" y="217.41" width="10.97" height="1.74" fill="#faf2f4"/>
<rect x="251.36" y="219.10" width="10.97" height="1.74" fill="#faf0f1"/>
<rect x="251.36" y="220.79" width="10.97" height="1.74" fill="#faf1f2"/>
<rect x="251.36" y="222.47" width="10.97" height="1.74" fill="#faeeed"/>
<rect x="251.36" y="224.16" width="10.97" height="1.74" fill="#faeceb"/>
<rect x="251.36" y="225.85" width="10.97" height="1.74" fill="#ede6f4"/>
<rect x="251.36" y="227.53" width="10.97" height="1.74" fill="#eae2f3"/>
<rect x="251.36" y="229.22" width="10.97" height="1.74" fill="#faf3f5"/>
<rect x="251.36" y="230.91" width="10.97" height="1.74" fill="#f9f4f9"/>
<rect x="251.36" y="232.59" width="10.97" height="1.74" fill="#f9f4f9"/>
<rect x="251.36" y="234.28" width="10.97" height="1.74" fill="#faeeee"/>
<rect x="251.36" y="235.97" width="10.97" height="1.74" fill="#eee7f4"/>
<rect x="251.36" y="237.65" width="10.97" height="1.74" fill="#faf0f2"/>
<rect x="251.36" y="239.34" width="10.97" height="1.74" fill="#f6f0f8"/>
<rect x="251.36" y="241.03" width="10.97" height="1.74" fill="#f6f0f8"/>
<rect x="251.36" y="242.71" width="10.97" height="1.74" fill="#f0e9f5"/>
<rect x="251.36" y="244.40" width="10.97" height="1.74" fill="#bcaede"/>
<rect x="251.36" y="246.09" width="10.97" height="1.74" fill="#cec1e7"/>
<rect x="251.36" y="247.77" width="10.97" height="1.74" fill="#c3b6e2"/>
<rect x="251.36" y="249.46" width="10.97" height="1.74" fill="#ebe3f3"/>
<rect x="251.36" y="251.15" width="10.97" height="1.74" fill="#faf2f4"/>
<rect x="251.36" y="252.83" width="10.97" height="1.74" fill="#eee6f4"/>
<rect x="251.36" y="254.52" width="10.97" height="1.74" fill="#dacfed"/>
<rect x="251.36" y="256.21" width="10.97" height="1.74" fill="#d3c7ea"/>
<rect x="251.36" y="257.89" width="10.97" height="1.74" fill="#b8aadd"/>
<rect x="251.36" y="259.58" width="10.97" height="1.74" fill="#bfb1e0"/>
<rect x="251.36" y="261.27" width="10.97" height="1.74" fill="#cdc1e7"/>
<rect x="251.36" y="262.95" width="10.97" height="1.74" fill="#beb0e0"/>
<rect x="251.36" y="264.64" width="10.97" height="1.74" fill="#faf0f1"/>
<rect x="251.36" y="266.33" width="10.97" height="1.74" fill="#f0e9f5"/>
<rect x="251.36" y="268.01" width="10.97" height="1.74" fill="#f3edf6"/>
<rect x="251.36" y="269.70" width="10.97" height="1.74" fill="#9d8ccf"/>
<rect x="251.36" y="271.39" width="10.97" height="1.74" fill="#a191d2"/>
<rect x="251.36" y="273.07" width="10.97" height="1.74" fill="#c8bae4"/>
<rect x="251.36" y="274.76" width="10.97" height="1.74" fill="#b5a6db"/>
<rect x="251.36" y="276.45" width="10.97" height="1.74" fill="#a494d3"/>
<rect x="251.36" y="278.13" width="10.97" height="1.74" fill="#b9aadd"/>
<rect x="251.36" y="279.82" width="10.97" height="1.74" fill="#a595d3"/>
<rect x="251.36" y="281.51" width="10.97" height="1.74" fill="#9d8dd0"/>
<rect x="251.36" y="283.19" width="10.97" height="1.74" fill="#c5b8e3"/>
<rect x="251.36" y="284.88" width="10.97" height="1.74" fill="#faeff0"/>
<rect x="251.36" y="286.57" width="10.97" height="1.74" fill="#ece4f4"/>
<rect x="251.36" y="288.25" width="10.97" height="1.74" fill="#faeff0"/>
<rect x="251.36" y="289.94" width="10.97" height="1.74" fill="#faf4f8"/>
<rect x="251.36" y="291.63" width="10.97" height="1.74" fill="#faf3f5"/>
<rect x="251.36" y="293.31" width="10.97" height="1.74" fill="#faeae7"/>
<rect x="262.28" y="193.80" width="10.97" height="1.74" fill="#f9e1d8"/>
<rect x="262.28" y="195.49" width="10.97" height="1.74" fill="#f9e4dd"/>
<rect x="262.28" y="197.17" width="10.97" height="1.74" fill="#f9dace"/>
<rect x="262.28" y="198.86" width="10.97" height="1.74" fill="#fae7e3"/>
<rect x="262.28" y="200.55" width="10.97" height="1.74" fill="#f9dbcf"/>
<rect x="262.28" y="202.23" width="10.97" height="1.74" fill="#f9e6e0"/>
<rect x="262.28" y="203.92" width="10.97" height="1.74" fill="#f2ebf6"/>
<rect x="262.28" y="205.61" width="10.97" height="1.74" fill="#faf5f8"/>
<rect x="262.28" y="207.29" width="10.97" height="1.74" fill="#f5eff7"/>
<rect x="262.28" y="208.98" width="10.97" height="1.74" fill="#faedec"/>
<rect x="262.28" y="210.67" width="10.97" height="1.74" fill="#faf4f7"/>
<rect x="262.28" y="212.35" width="10.97" height="1.74" fill="#faf5f8"/>
<rect x="262.28" y="214.04" width="10.97" height="1.74" fill="#faeeee"/>
<rect x="262.28" y="215.73" width="10.97" height="1.74" fill="#f7f1f8"/>
<rect x="262.28" y="217.41" width="10.97" height="1.74" fill="#faf5f9"/>
<rect x="262.28" y="219.10" width="10.97" height="1.74" fill="#b9abdd"/>
<rect x="262.28" y="220.79" width="10.97" height="1.74" fill="#c2b4e1"/>
<rect x="262.28" y="222.47" width="10.97" height="1.74" fill="#b0a1d9"/>
<rect x="262.28" y="224.16" width="10.97" height="1.74" fill="#9f8fd0"/>
<rect x="262.28" y="225.85" width="10.97" height="1.74" fill="#ad9ed7"/>
<rect x="262.28" y="227.53" width="10.97" height="1.74" fill="#9483ca"/>
<rect x="262.28" y="229.22" width="10.97" height="1.74" fill="#f7c1ac"/>
<rect x="262.28" y="230.91" width="10.97" height="1.74" fill="#f6bba5"/>
<rect x="262.28" y="232.59" width="10.97" height="1.74" fill="#f7c0aa"/>
<rect x="262.28" y="234.28" width="10.97" height="1.74" fill="#f6f1f8"/>
<rect x="262.28" y="235.97" width="10.97" height="1.74" fill="#7361b9"/>
<rect x="262.28" y="237.65" width="10.97" height="1.74" fill="#f5f0f7"/>
<rect x="262.28" y="239.34" width="10.97" height="1.74" fill="#faeeed"/>
<rect x="262.28" y="241.03" width="10.97" height="1.74" fill="#faf0f0"/>
<rect x="262.28" y="242.71" width="10.97" height="1.74" fill="#faf4f8"/>
<rect x="262.28" y="244.40" width="10.97" height="1.74" fill="#f6f0f8"/>
<rect x="262.28" y="246.09" width="10.97" height="1.74" fill="#eae1f3"/>
<rect x="262.28" y="247.77" width="10.97" height="1.74" fill="#faf1f2"/>
<rect x="262.28" y="249.46" width="10.97" height="1.74" fill="#f7f1f8"/>
<rect x="262.28" y="251.15" width="10.97" height="1.74" fill="#faf0f1"/>
<rect x="262.28" y="252.83" width="10.97" height="1.74" fill="#faf3f6"/>
<rect x="262.28" y="254.52" width="10.97" height="1.74" fill="#f5f0f7"/>
<rect x="262.28" y="256.21" width="10.97" height="1.74" fill="#faecea"/>
<rect x="262.28" y="257.89" width="10.97" height="1.74" fill="#ede5f4"/>
<rect x="262.28" y="259.58" width="10.97" height="1.74" fill="#f9e4dd"/>
<rect x="262.28" y="261.27" width="10.97" height="1.74" fill="#f9d3c4"/>
<rect x="262.28" y="262.95" width="10.97" height="1.74" fill="#f7c1ac"/>
<rect x="262.28" y="264.64" width="10.97" height="1.74" fill="#f9f4f9"/>
<rect x="262.28" y="266.33" width="10.97" height="1.74" fill="#f9f4f9"/>
<rect x="262.28" y="268.01" width="10.97" height="1.74" fill="#eae2f3"/>
<rect x="262.28" y="269.70" width="10.97" height="1.74" fill="#faeeed"/>
<rect x="262.28" y="271.39" width="10.97" height="1.74" fill="#faf2f5"/>
<rect x="262.28" y="273.07" width="10.97" height="1.74" fill="#f0e9f5"/>
<rect x="262.28" y="274.76" width="10.97" height="1.74" fill="#dcd1ee"/>
<rect x="262.28" y="276.45" width="10.97" height="1.74" fill="#ebe3f3"/>
<rect x="262.28" y="278.13" width="10.97" height="1.74" fill="#cabde5"/>
<rect x="262.28" y="279.82" width="10.97" height="1.74" fill="#d3c6e9"/>
<rect x="262.28" y="281.51" width="10.97" height="1.74" fill="#dfd4ef"/>
<rect x="262.28" y="283.19" width="10.97" height="1.74" fill="#d0c3e8"/>
<rect x="262.28" y="284.88" width="10.97" height="1.74" fill="#e6ddf1"/>
<rect x="262.28" y="286.57" width="10.97" height="1.74" fill="#e1d7ef"/>
<rect x="262.28" y="288.25" width="10.97" height="1.74" fill="#e5dcf1"/>
<rect x="262.28" y="289.94" width="10.97" height="1.74" fill="#e4dbf1"/>
<rect x="262.28" y="291.63" width="10.97" height="1.74" fill="#e2d8f0"/>
<rect x="262.28" y="293.31" width="10.97" height="1.74" fill="#ded3ee"/>
<rect x="218.60" y="295.80" width="10.97" height="3.40" fill="#f0e21c"/>
<rect x="229.52" y="295.80" width="10.97" height="3.40" fill="#7cc35a"/>
<rect x="240.44" y="295.80" width="10.97" height="3.40" fill="#e4604a"/>
<rect x="251.36" y="295.80" width="10.97" height="3.40" fill="#5a2a82"/>
<rect x="262.28" y="295.80" width="10.97" height="3.40" fill="#f2c4d4"/>
<path d="M218.20,194.64H218.07V196.33H218.20M218.20,198.02H218.14V199.70H218.20M218.14,198.86H218.02V201.39H218.20M218.02,200.12H217.89V203.08H218.20M218.20,206.45H218.14V208.14H218.20M218.20,204.76H218.07V207.29H218.14M217.89,201.60H217.78V206.03H218.07M218.07,195.49H217.63V203.81H217.78M218.20,211.51H218.09V213.20H218.20M218.09,212.35H218.03V214.88H218.20M218.20,209.82H217.90V213.62H218.03M218.20,221.63H218.06V223.32H218.20M218.20,219.94H218.00V222.47H218.06M218.20,218.26H217.90V221.21H218.00M218.20,216.57H217.83V219.73H217.90M217.90,211.72H217.70V218.15H217.83M217.63,199.65H217.36V214.94H217.70M218.20,226.69H218.09V228.38H218.20M218.20,225.00H217.93V227.53H218.09M218.20,231.75H218.10V233.44H218.20M218.20,235.12H218.13V236.81H218.20M218.10,232.59H218.00V235.97H218.13M218.20,238.50H218.06V240.18H218.20M218.00,234.28H217.91V239.34H218.06M218.20,230.06H217.85V236.81H217.91M217.93,226.27H217.69V233.44H217.85M218.20,241.87H218.04V243.56H218.20M218.20,246.93H218.07V248.62H218.20M218.20,250.30H218.03V251.99H218.20M218.03,251.15H217.97V253.68H218.20M218.07,247.77H217.86V252.41H217.97M218.20,245.24H217.69V250.09H217.86M218.04,242.71H217.59V247.67H217.69M217.69,229.85H217.36V245.19H217.59M217.36,207.29H216.86V237.52H217.36M218.20,255.36H218.08V257.05H218.20M218.08,256.21H217.91V258.74H218.20M217.91,257.47H217.85V260.42H218.20M218.20,262.11H218.08V263.80H218.20M217.85,258.95H217.80V262.95H218.08M218.20,265.48H218.07V267.17H218.20M218.20,268.86H218.12V270.54H218.20M218.07,266.33H217.91V269.70H218.12M217.80,260.95H217.69V268.01H217.91M218.20,272.23H218.08V273.92H218.20M218.20,275.60H218.16V277.29H218.20M218.20,280.66H218.02V282.35H218.20M218.20,278.98H217.92V281.51H218.02M218.16,276.45H217.79V280.24H217.92M218.08,273.07H217.69V278.34H217.79M217.69,264.48H217.40V275.71H217.69M218.20,284.04H218.15V285.72H218.20M218.20,287.41H218.16V289.10H218.20M218.16,288.25H217.99V290.78H218.20M218.20,292.47H218.16V294.16H218.20M217.99,289.52H217.93V293.31H218.16M218.15,284.88H217.85V291.42H217.93M217.40,270.10H217.17V288.15H217.85M216.86,222.41H216.40V279.12H217.17" fill="none" stroke="#3a3a3a" stroke-width="0.42"/>
<path d="M214.60,222.14H209.00V294.40H218.20" fill="none" stroke="#666" stroke-width="0.5"/>
<line x1="214.60" y1="194.10" x2="214.60" y2="294.40" stroke="#666" stroke-width="0.5"/>
<rect x="304.60" y="194.20" width="11.69" height="1.74" fill="#f9d8ca"/>
<rect x="304.60" y="195.89" width="11.69" height="1.74" fill="#f8ccba"/>
<rect x="304.60" y="197.57" width="11.69" height="1.74" fill="#f9e5df"/>
<rect x="304.60" y="199.26" width="11.69" height="1.74" fill="#f9d9cc"/>
<rect x="304.60" y="200.95" width="11.69" height="1.74" fill="#f9d8cb"/>
<rect x="304.60" y="202.63" width="11.69" height="1.74" fill="#f9d4c5"/>
<rect x="304.60" y="204.32" width="11.69" height="1.74" fill="#a999d5"/>
<rect x="304.60" y="206.01" width="11.69" height="1.74" fill="#b0a1d9"/>
<rect x="304.60" y="207.69" width="11.69" height="1.74" fill="#c8bbe4"/>
<rect x="304.60" y="209.38" width="11.69" height="1.74" fill="#a595d3"/>
<rect x="304.60" y="211.07" width="11.69" height="1.74" fill="#c0b3e1"/>
<rect x="304.60" y="212.75" width="11.69" height="1.74" fill="#8978c5"/>
<rect x="304.60" y="214.44" width="11.69" height="1.74" fill="#7766bb"/>
<rect x="304.60" y="216.13" width="11.69" height="1.74" fill="#ebe3f3"/>
<rect x="304.60" y="217.81" width="11.69" height="1.74" fill="#efe8f5"/>
<rect x="304.60" y="219.50" width="11.69" height="1.74" fill="#fae9e5"/>
<rect x="304.60" y="221.19" width="11.69" height="1.74" fill="#f5f0f7"/>
<rect x="304.60" y="222.87" width="11.69" height="1.74" fill="#fae9e5"/>
<rect x="304.60" y="224.56" width="11.69" height="1.74" fill="#f9dbce"/>
<rect x="304.60" y="226.25" width="11.69" height="1.74" fill="#f9d8cb"/>
<rect x="304.60" y="227.93" width="11.69" height="1.74" fill="#f9dbcf"/>
<rect x="304.60" y="229.62" width="11.69" height="1.74" fill="#faf2f5"/>
<rect x="304.60" y="231.31" width="11.69" height="1.74" fill="#eee7f5"/>
<rect x="304.60" y="232.99" width="11.69" height="1.74" fill="#ebe3f3"/>
<rect x="304.60" y="234.68" width="11.69" height="1.74" fill="#cec1e7"/>
<rect x="304.60" y="236.37" width="11.69" height="1.74" fill="#cbbee6"/>
<rect x="304.60" y="238.05" width="11.69" height="1.74" fill="#dbd0ed"/>
<rect x="304.60" y="239.74" width="11.69" height="1.74" fill="#f9f3f8"/>
<rect x="304.60" y="241.43" width="11.69" height="1.74" fill="#ece4f4"/>
<rect x="304.60" y="243.11" width="11.69" height="1.74" fill="#faeded"/>
<rect x="304.60" y="244.80" width="11.69" height="1.74" fill="#ac9cd7"/>
<rect x="304.60" y="246.49" width="11.69" height="1.74" fill="#c5b7e3"/>
<rect x="304.60" y="248.17" width="11.69" height="1.74" fill="#b9abdd"/>
<rect x="304.60" y="249.86" width="11.69" height="1.74" fill="#b7a8dc"/>
<rect x="304.60" y="251.55" width="11.69" height="1.74" fill="#b9abdd"/>
<rect x="304.60" y="253.23" width="11.69" height="1.74" fill="#b7a8dc"/>
<rect x="304.60" y="254.92" width="11.69" height="1.74" fill="#bdafdf"/>
<rect x="304.60" y="256.61" width="11.69" height="1.74" fill="#b6a8dc"/>
<rect x="304.60" y="258.29" width="11.69" height="1.74" fill="#cbbee6"/>
<rect x="304.60" y="259.98" width="11.69" height="1.74" fill="#faeae7"/>
<rect x="304.60" y="261.67" width="11.69" height="1.74" fill="#8e7dc7"/>
<rect x="304.60" y="263.35" width="11.69" height="1.74" fill="#a696d4"/>
<rect x="304.60" y="265.04" width="11.69" height="1.74" fill="#ad9ed7"/>
<rect x="304.60" y="266.73" width="11.69" height="1.74" fill="#faeae7"/>
<rect x="304.60" y="268.41" width="11.69" height="1.74" fill="#f6f0f8"/>
<rect x="304.60" y="270.10" width="11.69" height="1.74" fill="#f9e2da"/>
<rect x="304.60" y="271.79" width="11.69" height="1.74" fill="#faeae8"/>
<rect x="304.60" y="273.47" width="11.69" height="1.74" fill="#faedeb"/>
<rect x="304.60" y="275.16" width="11.69" height="1.74" fill="#f9e4de"/>
<rect x="304.60" y="276.85" width="11.69" height="1.74" fill="#9c8bcf"/>
<rect x="304.60" y="278.53" width="11.69" height="1.74" fill="#9787cc"/>
<rect x="304.60" y="280.22" width="11.69" height="1.74" fill="#6f5db7"/>
<rect x="304.60" y="281.91" width="11.69" height="1.74" fill="#8271c1"/>
<rect x="304.60" y="283.59" width="11.69" height="1.74" fill="#5c53b0"/>
<rect x="304.60" y="285.28" width="11.69" height="1.74" fill="#5651ae"/>
<rect x="304.60" y="286.97" width="11.69" height="1.74" fill="#bfb1e0"/>
<rect x="304.60" y="288.65" width="11.69" height="1.74" fill="#c0b3e1"/>
<rect x="304.60" y="290.34" width="11.69" height="1.74" fill="#d3c6ea"/>
<rect x="304.60" y="292.03" width="11.69" height="1.74" fill="#c2b4e1"/>
<rect x="304.60" y="293.71" width="11.69" height="1.74" fill="#c6b9e3"/>
<rect x="316.24" y="194.20" width="11.69" height="1.74" fill="#e1342b"/>
<rect x="316.24" y="195.89" width="11.69" height="1.74" fill="#faeae7"/>
<rect x="316.24" y="197.57" width="11.69" height="1.74" fill="#faefef"/>
<rect x="316.24" y="199.26" width="11.69" height="1.74" fill="#f9f4f9"/>
<rect x="316.24" y="200.95" width="11.69" height="1.74" fill="#faedeb"/>
<rect x="316.24" y="202.63" width="11.69" height="1.74" fill="#f4eef7"/>
<rect x="316.24" y="204.32" width="11.69" height="1.74" fill="#d0c4e8"/>
<rect x="316.24" y="206.01" width="11.69" height="1.74" fill="#c6b9e4"/>
<rect x="316.24" y="207.69" width="11.69" height="1.74" fill="#cec1e7"/>
<rect x="316.24" y="209.38" width="11.69" height="1.74" fill="#faf3f6"/>
<rect x="316.24" y="211.07" width="11.69" height="1.74" fill="#f0e9f5"/>
<rect x="316.24" y="212.75" width="11.69" height="1.74" fill="#faeae7"/>
<rect x="316.24" y="214.44" width="11.69" height="1.74" fill="#f8f2f8"/>
<rect x="316.24" y="216.13" width="11.69" height="1.74" fill="#f3edf6"/>
<rect x="316.24" y="217.81" width="11.69" height="1.74" fill="#f1eaf6"/>
<rect x="316.24" y="219.50" width="11.69" height="1.74" fill="#f9e1d8"/>
<rect x="316.24" y="221.19" width="11.69" height="1.74" fill="#faf1f2"/>
<rect x="316.24" y="222.87" width="11.69" height="1.74" fill="#ede5f4"/>
<rect x="316.24" y="224.56" width="11.69" height="1.74" fill="#f1eaf5"/>
<rect x="316.24" y="226.25" width="11.69" height="1.74" fill="#f7f1f8"/>
<rect x="316.24" y="227.93" width="11.69" height="1.74" fill="#a697d4"/>
<rect x="316.24" y="229.62" width="11.69" height="1.74" fill="#a08fd1"/>
<rect x="316.24" y="231.31" width="11.69" height="1.74" fill="#a999d5"/>
<rect x="316.24" y="232.99" width="11.69" height="1.74" fill="#9e8dd0"/>
<rect x="316.24" y="234.68" width="11.69" height="1.74" fill="#ede5f4"/>
<rect x="316.24" y="236.37" width="11.69" height="1.74" fill="#f9dcd1"/>
<rect x="316.24" y="238.05" width="11.69" height="1.74" fill="#faf1f3"/>
<rect x="316.24" y="239.74" width="11.69" height="1.74" fill="#f0e8f5"/>
<rect x="316.24" y="241.43" width="11.69" height="1.74" fill="#faf2f4"/>
<rect x="316.24" y="243.11" width="11.69" height="1.74" fill="#faf2f4"/>
<rect x="316.24" y="244.80" width="11.69" height="1.74" fill="#f4eef7"/>
<rect x="316.24" y="246.49" width="11.69" height="1.74" fill="#faeae7"/>
<rect x="316.24" y="248.17" width="11.69" height="1.74" fill="#faf2f4"/>
<rect x="316.24" y="249.86" width="11.69" height="1.74" fill="#faf5f8"/>
<rect x="316.24" y="251.55" width="11.69" height="1.74" fill="#eae2f3"/>
<rect x="316.24" y="253.23" width="11.69" height="1.74" fill="#f6f0f7"/>
<rect x="316.24" y="254.92" width="11.69" height="1.74" fill="#f1eaf6"/>
<rect x="316.24" y="256.61" width="11.69" height="1.74" fill="#a494d3"/>
<rect x="316.24" y="258.29" width="11.69" height="1.74" fill="#7361b9"/>
<rect x="316.24" y="259.98" width="11.69" height="1.74" fill="#a494d3"/>
<rect x="316.24" y="261.67" width="11.69" height="1.74" fill="#7563ba"/>
<rect x="316.24" y="263.35" width="11.69" height="1.74" fill="#8777c4"/>
<rect x="316.24" y="265.04" width="11.69" height="1.74" fill="#a191d1"/>
<rect x="316.24" y="266.73" width="11.69" height="1.74" fill="#faedec"/>
<rect x="316.24" y="268.41" width="11.69" height="1.74" fill="#faeae7"/>
<rect x="316.24" y="270.10" width="11.69" height="1.74" fill="#ebe2f3"/>
<rect x="316.24" y="271.79" width="11.69" height="1.74" fill="#f08164"/>
<rect x="316.24" y="273.47" width="11.69" height="1.74" fill="#f07d60"/>
<rect x="316.24" y="275.16" width="11.69" height="1.74" fill="#f29275"/>
<rect x="316.24" y="276.85" width="11.69" height="1.74" fill="#f39f81"/>
<rect x="316.24" y="278.53" width="11.69" height="1.74" fill="#f5ad92"/>
<rect x="316.24" y="280.22" width="11.69" height="1.74" fill="#f29477"/>
<rect x="316.24" y="281.91" width="11.69" height="1.74" fill="#f4a587"/>
<rect x="316.24" y="283.59" width="11.69" height="1.74" fill="#f7c8b6"/>
<rect x="316.24" y="285.28" width="11.69" height="1.74" fill="#fae8e4"/>
<rect x="316.24" y="286.97" width="11.69" height="1.74" fill="#5951af"/>
<rect x="316.24" y="288.65" width="11.69" height="1.74" fill="#5450ae"/>
<rect x="316.24" y="290.34" width="11.69" height="1.74" fill="#3745a6"/>
<rect x="316.24" y="292.03" width="11.69" height="1.74" fill="#f7f1f8"/>
<rect x="316.24" y="293.71" width="11.69" height="1.74" fill="#f4edf7"/>
<rect x="327.88" y="194.20" width="11.69" height="1.74" fill="#e8503e"/>
<rect x="327.88" y="195.89" width="11.69" height="1.74" fill="#ede5f4"/>
<rect x="327.88" y="197.57" width="11.69" height="1.74" fill="#fae9e6"/>
<rect x="327.88" y="199.26" width="11.69" height="1.74" fill="#faeeed"/>
<rect x="327.88" y="200.95" width="11.69" height="1.74" fill="#faf0f2"/>
<rect x="327.88" y="202.63" width="11.69" height="1.74" fill="#fae9e6"/>
<rect x="327.88" y="204.32" width="11.69" height="1.74" fill="#f1eaf6"/>
<rect x="327.88" y="206.01" width="11.69" height="1.74" fill="#f3edf6"/>
<rect x="327.88" y="207.69" width="11.69" height="1.74" fill="#e4daf0"/>
<rect x="327.88" y="209.38" width="11.69" height="1.74" fill="#f0e8f5"/>
<rect x="327.88" y="211.07" width="11.69" height="1.74" fill="#ece4f4"/>
<rect x="327.88" y="212.75" width="11.69" height="1.74" fill="#e3d9f0"/>
<rect x="327.88" y="214.44" width="11.69" height="1.74" fill="#d4c8ea"/>
<rect x="327.88" y="216.13" width="11.69" height="1.74" fill="#e5dbf1"/>
<rect x="327.88" y="217.81" width="11.69" height="1.74" fill="#e6ddf1"/>
<rect x="327.88" y="219.50" width="11.69" height="1.74" fill="#dcd1ee"/>
<rect x="327.88" y="221.19" width="11.69" height="1.74" fill="#ddd2ee"/>
<rect x="327.88" y="222.87" width="11.69" height="1.74" fill="#ddd2ee"/>
<rect x="327.88" y="224.56" width="11.69" height="1.74" fill="#ebe3f3"/>
<rect x="327.88" y="226.25" width="11.69" height="1.74" fill="#faecea"/>
<rect x="327.88" y="227.93" width="11.69" height="1.74" fill="#faf5f8"/>
<rect x="327.88" y="229.62" width="11.69" height="1.74" fill="#b6a8dc"/>
<rect x="327.88" y="231.31" width="11.69" height="1.74" fill="#b5a6db"/>
<rect x="327.88" y="232.99" width="11.69" height="1.74" fill="#a999d5"/>
<rect x="327.88" y="234.68" width="11.69" height="1.74" fill="#baacde"/>
<rect x="327.88" y="236.37" width="11.69" height="1.74" fill="#faf3f5"/>
<rect x="327.88" y="238.05" width="11.69" height="1.74" fill="#faf0f2"/>
<rect x="327.88" y="239.74" width="11.69" height="1.74" fill="#eee7f5"/>
<rect x="327.88" y="241.43" width="11.69" height="1.74" fill="#f4eef7"/>
<rect x="327.88" y="243.11" width="11.69" height="1.74" fill="#faf1f2"/>
<rect x="327.88" y="244.80" width="11.69" height="1.74" fill="#f5eff7"/>
<rect x="327.88" y="246.49" width="11.69" height="1.74" fill="#faf3f6"/>
<rect x="327.88" y="248.17" width="11.69" height="1.74" fill="#f8f2f8"/>
<rect x="327.88" y="249.86" width="11.69" height="1.74" fill="#faefef"/>
<rect x="327.88" y="251.55" width="11.69" height="1.74" fill="#f4edf7"/>
<rect x="327.88" y="253.23" width="11.69" height="1.74" fill="#f9f3f8"/>
<rect x="327.88" y="254.92" width="11.69" height="1.74" fill="#a393d2"/>
<rect x="327.88" y="256.61" width="11.69" height="1.74" fill="#b4a6db"/>
<rect x="327.88" y="258.29" width="11.69" height="1.74" fill="#c0b2e0"/>
<rect x="327.88" y="259.98" width="11.69" height="1.74" fill="#c3b5e2"/>
<rect x="327.88" y="261.67" width="11.69" height="1.74" fill="#9a8ace"/>
<rect x="327.88" y="263.35" width="11.69" height="1.74" fill="#b7a8dc"/>
<rect x="327.88" y="265.04" width="11.69" height="1.74" fill="#f8f3f8"/>
<rect x="327.88" y="266.73" width="11.69" height="1.74" fill="#faf2f5"/>
<rect x="327.88" y="268.41" width="11.69" height="1.74" fill="#f4eef7"/>
<rect x="327.88" y="270.10" width="11.69" height="1.74" fill="#f9dcd0"/>
<rect x="327.88" y="271.79" width="11.69" height="1.74" fill="#f9e0d7"/>
<rect x="327.88" y="273.47" width="11.69" height="1.74" fill="#f9dfd5"/>
<rect x="327.88" y="275.16" width="11.69" height="1.74" fill="#ede5f4"/>
<rect x="327.88" y="276.85" width="11.69" height="1.74" fill="#faf4f7"/>
<rect x="327.88" y="278.53" width="11.69" height="1.74" fill="#faebe9"/>
<rect x="327.88" y="280.22" width="11.69" height="1.74" fill="#f2ecf6"/>
<rect x="327.88" y="281.91" width="11.69" height="1.74" fill="#f5f0f7"/>
<rect x="327.88" y="283.59" width="11.69" height="1.74" fill="#f8f2f8"/>
<rect x="327.88" y="285.28" width="11.69" height="1.74" fill="#faf3f6"/>
<rect x="327.88" y="286.97" width="11.69" height="1.74" fill="#8372c2"/>
<rect x="327.88" y="288.65" width="11.69" height="1.74" fill="#8f7ec8"/>
<rect x="327.88" y="290.34" width="11.69" height="1.74" fill="#f4eef7"/>
<rect x="327.88" y="292.03" width="11.69" height="1.74" fill="#faeded"/>
<rect x="327.88" y="293.71" width="11.69" height="1.74" fill="#fae8e4"/>
<rect x="339.52" y="194.20" width="11.69" height="1.74" fill="#f9e6e1"/>
<rect x="339.52" y="195.89" width="11.69" height="1.74" fill="#f7c3af"/>
<rect x="339.52" y="197.57" width="11.69" height="1.74" fill="#f9e1d8"/>
<rect x="339.52" y="199.26" width="11.69" height="1.74" fill="#f9e3dc"/>
<rect x="339.52" y="200.95" width="11.69" height="1.74" fill="#f9e0d7"/>
<rect x="339.52" y="202.63" width="11.69" height="1.74" fill="#f5eff7"/>
<rect x="339.52" y="204.32" width="11.69" height="1.74" fill="#ad9ed8"/>
<rect x="339.52" y="206.01" width="11.69" height="1.74" fill="#bfb1e0"/>
<rect x="339.52" y="207.69" width="11.69" height="1.74" fill="#d1c4e8"/>
<rect x="339.52" y="209.38" width="11.69" height="1.74" fill="#ee6e52"/>
<rect x="339.52" y="211.07" width="11.69" height="1.74" fill="#f9dfd6"/>
<rect x="339.52" y="212.75" width="11.69" height="1.74" fill="#f9e1d8"/>
<rect x="339.52" y="214.44" width="11.69" height="1.74" fill="#f8cbb9"/>
<rect x="339.52" y="216.13" width="11.69" height="1.74" fill="#f9d6c8"/>
<rect x="339.52" y="217.81" width="11.69" height="1.74" fill="#f7c5b1"/>
<rect x="339.52" y="219.50" width="11.69" height="1.74" fill="#faf3f5"/>
<rect x="339.52" y="221.19" width="11.69" height="1.74" fill="#faedec"/>
<rect x="339.52" y="222.87" width="11.69" height="1.74" fill="#ebe3f3"/>
<rect x="339.52" y="224.56" width="11.69" height="1.74" fill="#faeff0"/>
<rect x="339.52" y="226.25" width="11.69" height="1.74" fill="#ebe3f3"/>
<rect x="339.52" y="227.93" width="11.69" height="1.74" fill="#faf5f8"/>
<rect x="339.52" y="229.62" width="11.69" height="1.74" fill="#f0e9f5"/>
<rect x="339.52" y="231.31" width="11.69" height="1.74" fill="#faebe9"/>
<rect x="339.52" y="232.99" width="11.69" height="1.74" fill="#ece4f4"/>
<rect x="339.52" y="234.68" width="11.69" height="1.74" fill="#f8f2f8"/>
<rect x="339.52" y="236.37" width="11.69" height="1.74" fill="#f8f2f8"/>
<rect x="339.52" y="238.05" width="11.69" height="1.74" fill="#f5eff7"/>
<rect x="339.52" y="239.74" width="11.69" height="1.74" fill="#d6caeb"/>
<rect x="339.52" y="241.43" width="11.69" height="1.74" fill="#c6b8e3"/>
<rect x="339.52" y="243.11" width="11.69" height="1.74" fill="#c4b7e3"/>
<rect x="339.52" y="244.80" width="11.69" height="1.74" fill="#f1eaf6"/>
<rect x="339.52" y="246.49" width="11.69" height="1.74" fill="#f7f2f8"/>
<rect x="339.52" y="248.17" width="11.69" height="1.74" fill="#fae9e6"/>
<rect x="339.52" y="249.86" width="11.69" height="1.74" fill="#faeeee"/>
<rect x="339.52" y="251.55" width="11.69" height="1.74" fill="#faf2f5"/>
<rect x="339.52" y="253.23" width="11.69" height="1.74" fill="#eae1f3"/>
<rect x="339.52" y="254.92" width="11.69" height="1.74" fill="#f9e0d7"/>
<rect x="339.52" y="256.61" width="11.69" height="1.74" fill="#f29477"/>
<rect x="339.52" y="258.29" width="11.69" height="1.74" fill="#f0e9f5"/>
<rect x="339.52" y="259.98" width="11.69" height="1.74" fill="#ece4f4"/>
<rect x="339.52" y="261.67" width="11.69" height="1.74" fill="#f9f4f9"/>
<rect x="339.52" y="263.35" width="11.69" height="1.74" fill="#faeeee"/>
<rect x="339.52" y="265.04" width="11.69" height="1.74" fill="#cec1e7"/>
<rect x="339.52" y="266.73" width="11.69" height="1.74" fill="#f6f0f8"/>
<rect x="339.52" y="268.41" width="11.69" height="1.74" fill="#eee7f4"/>
<rect x="339.52" y="270.10" width="11.69" height="1.74" fill="#f8d2c2"/>
<rect x="339.52" y="271.79" width="11.69" height="1.74" fill="#f6bda6"/>
<rect x="339.52" y="273.47" width="11.69" height="1.74" fill="#f6b69e"/>
<rect x="339.52" y="275.16" width="11.69" height="1.74" fill="#f6b69e"/>
<rect x="339.52" y="276.85" width="11.69" height="1.74" fill="#f6b79e"/>
<rect x="339.52" y="278.53" width="11.69" height="1.74" fill="#f7c3af"/>
<rect x="339.52" y="280.22" width="11.69" height="1.74" fill="#f2ecf6"/>
<rect x="339.52" y="281.91" width="11.69" height="1.74" fill="#f0e9f5"/>
<rect x="339.52" y="283.59" width="11.69" height="1.74" fill="#f2ebf6"/>
<rect x="339.52" y="285.28" width="11.69" height="1.74" fill="#eee6f4"/>
<rect x="339.52" y="286.97" width="11.69" height="1.74" fill="#8d7cc7"/>
<rect x="339.52" y="288.65" width="11.69" height="1.74" fill="#f0e9f5"/>
<rect x="339.52" y="290.34" width="11.69" height="1.74" fill="#faf2f5"/>
<rect x="339.52" y="292.03" width="11.69" height="1.74" fill="#efe8f5"/>
<rect x="339.52" y="293.71" width="11.69" height="1.74" fill="#efe8f5"/>
<rect x="351.16" y="194.20" width="11.69" height="1.74" fill="#f1eaf5"/>
<rect x="351.16" y="195.89" width="11.69" height="1.74" fill="#f0e9f5"/>
<rect x="351.16" y="197.57" width="11.69" height="1.74" fill="#f18a6d"/>
<rect x="351.16" y="199.26" width="11.69" height="1.74" fill="#f4a385"/>
<rect x="351.16" y="200.95" width="11.69" height="1.74" fill="#f29577"/>
<rect x="351.16" y="202.63" width="11.69" height="1.74" fill="#f07d61"/>
<rect x="351.16" y="204.32" width="11.69" height="1.74" fill="#f7c8b5"/>
<rect x="351.16" y="206.01" width="11.69" height="1.74" fill="#f9e6e1"/>
<rect x="351.16" y="207.69" width="11.69" height="1.74" fill="#f9dace"/>
<rect x="351.16" y="209.38" width="11.69" height="1.74" fill="#f7c1ac"/>
<rect x="351.16" y="211.07" width="11.69" height="1.74" fill="#f9dfd6"/>
<rect x="351.16" y="212.75" width="11.69" height="1.74" fill="#f7c4b0"/>
<rect x="351.16" y="214.44" width="11.69" height="1.74" fill="#f7f2f8"/>
<rect x="351.16" y="216.13" width="11.69" height="1.74" fill="#faf0f1"/>
<rect x="351.16" y="217.81" width="11.69" height="1.74" fill="#faf2f5"/>
<rect x="351.16" y="219.50" width="11.69" height="1.74" fill="#fae9e5"/>
<rect x="351.16" y="221.19" width="11.69" height="1.74" fill="#faeae7"/>
<rect x="351.16" y="222.87" width="11.69" height="1.74" fill="#faeae7"/>
<rect x="351.16" y="224.56" width="11.69" height="1.74" fill="#dfd5ef"/>
<rect x="351.16" y="226.25" width="11.69" height="1.74" fill="#f2ecf6"/>
<rect x="351.16" y="227.93" width="11.69" height="1.74" fill="#ece5f4"/>
<rect x="351.16" y="229.62" width="11.69" height="1.74" fill="#715fb8"/>
<rect x="351.16" y="231.31" width="11.69" height="1.74" fill="#fae9e6"/>
<rect x="351.16" y="232.99" width="11.69" height="1.74" fill="#f3ecf6"/>
<rect x="351.16" y="234.68" width="11.69" height="1.74" fill="#f6f0f8"/>
<rect x="351.16" y="236.37" width="11.69" height="1.74" fill="#f2ebf6"/>
<rect x="351.16" y="238.05" width="11.69" height="1.74" fill="#f3ecf6"/>
<rect x="351.16" y="239.74" width="11.69" height="1.74" fill="#faf5f9"/>
<rect x="351.16" y="241.43" width="11.69" height="1.74" fill="#faeeed"/>
<rect x="351.16" y="243.11" width="11.69" height="1.74" fill="#e9e0f2"/>
<rect x="351.16" y="244.80" width="11.69" height="1.74" fill="#f4edf7"/>
<rect x="351.16" y="246.49" width="11.69" height="1.74" fill="#f0e9f5"/>
<rect x="351.16" y="248.17" width="11.69" height="1.74" fill="#fae9e6"/>
<rect x="351.16" y="249.86" width="11.69" height="1.74" fill="#b5a6db"/>
<rect x="351.16" y="251.55" width="11.69" height="1.74" fill="#b1a3d9"/>
<rect x="351.16" y="253.23" width="11.69" height="1.74" fill="#b2a3da"/>
<rect x="351.16" y="254.92" width="11.69" height="1.74" fill="#f0e9f5"/>
<rect x="351.16" y="256.61" width="11.69" height="1.74" fill="#faf0f2"/>
<rect x="351.16" y="258.29" width="11.69" height="1.74" fill="#f2ebf6"/>
<rect x="351.16" y="259.98" width="11.69" height="1.74" fill="#f9f4f9"/>
<rect x="351.16" y="261.67" width="11.69" height="1.74" fill="#faf4f8"/>
<rect x="351.16" y="263.35" width="11.69" height="1.74" fill="#faefef"/>
<rect x="351.16" y="265.04" width="11.69" height="1.74" fill="#ac9dd7"/>
<rect x="351.16" y="266.73" width="11.69" height="1.74" fill="#c5b7e3"/>
<rect x="351.16" y="268.41" width="11.69" height="1.74" fill="#b8aadd"/>
<rect x="351.16" y="270.10" width="11.69" height="1.74" fill="#a595d4"/>
<rect x="351.16" y="271.79" width="11.69" height="1.74" fill="#ab9cd7"/>
<rect x="351.16" y="273.47" width="11.69" height="1.74" fill="#a797d4"/>
<rect x="351.16" y="275.16" width="11.69" height="1.74" fill="#f4eef7"/>
<rect x="351.16" y="276.85" width="11.69" height="1.74" fill="#e9e0f2"/>
<rect x="351.16" y="278.53" width="11.69" height="1.74" fill="#faf0f0"/>
<rect x="351.16" y="280.22" width="11.69" height="1.74" fill="#f2ebf6"/>
<rect x="351.16" y="281.91" width="11.69" height="1.74" fill="#f8f3f8"/>
<rect x="351.16" y="283.59" width="11.69" height="1.74" fill="#faf0f1"/>
<rect x="351.16" y="285.28" width="11.69" height="1.74" fill="#e64738"/>
<rect x="351.16" y="286.97" width="11.69" height="1.74" fill="#faf2f4"/>
<rect x="351.16" y="288.65" width="11.69" height="1.74" fill="#f0e9f5"/>
<rect x="351.16" y="290.34" width="11.69" height="1.74" fill="#faeae8"/>
<rect x="351.16" y="292.03" width="11.69" height="1.74" fill="#eae2f3"/>
<rect x="351.16" y="293.71" width="11.69" height="1.74" fill="#f6f0f7"/>
<rect x="304.60" y="296.00" width="11.69" height="3.40" fill="#f0e21c"/>
<rect x="316.24" y="296.00" width="11.69" height="3.40" fill="#7cc35a"/>
<rect x="327.88" y="296.00" width="11.69" height="3.40" fill="#e4604a"/>
<rect x="339.52" y="296.00" width="11.69" height="3.40" fill="#5a2a82"/>
<rect x="351.16" y="296.00" width="11.69" height="3.40" fill="#f2c4d4"/>
<path d="M304.20,198.42H304.13V200.10H304.20M304.13,199.26H303.97V201.79H304.20M304.20,196.73H303.92V200.52H303.97M304.20,195.04H303.87V198.63H303.92M304.20,203.48H304.02V205.16H304.20M303.87,196.84H303.84V204.32H304.02M304.20,206.85H304.05V208.54H304.20M304.05,207.69H303.92V210.22H304.20M304.20,213.60H304.16V215.28H304.20M304.20,216.97H304.04V218.66H304.20M304.16,214.44H304.00V217.81H304.04M304.20,211.91H303.95V216.13H304.00M303.95,214.02H303.85V220.34H304.20M303.92,208.96H303.73V217.18H303.85M304.20,223.72H304.16V225.40H304.20M304.20,227.09H304.04V228.78H304.20M304.04,227.93H303.90V230.46H304.20M304.16,224.56H303.82V229.20H303.90M304.20,222.03H303.74V226.88H303.82M304.20,232.15H304.10V233.84H304.20M304.10,232.99H303.94V235.52H304.20M303.94,234.26H303.81V237.21H304.20M303.81,235.73H303.66V238.90H304.20M303.74,224.45H303.55V237.32H303.66M303.73,213.07H303.29V230.88H303.55M303.84,200.58H303.08V221.98H303.29M304.20,243.96H304.14V245.64H304.20M304.20,242.27H303.99V244.80H304.14M304.20,247.33H304.09V249.02H304.20M303.99,243.53H303.91V248.17H304.09M304.20,240.58H303.74V245.85H303.91M304.20,250.70H304.16V252.39H304.20M304.16,251.55H304.08V254.08H304.20M304.20,255.76H304.02V257.45H304.20M304.02,256.61H303.98V259.14H304.20M303.98,257.87H303.94V260.82H304.20M304.08,252.81H303.85V259.35H303.94M303.74,243.22H303.56V256.08H303.85M303.08,211.28H302.77V249.65H303.56M304.20,262.51H304.15V264.20H304.20M304.20,267.57H304.15V269.26H304.20M304.20,265.88H303.99V268.41H304.15M304.15,263.35H303.88V267.15H303.99M304.20,272.63H304.06V274.32H304.20M304.06,273.47H303.93V276.00H304.20M304.20,270.94H303.81V274.74H303.93M304.20,277.69H304.03V279.38H304.20M304.03,278.53H303.85V281.06H304.20M303.81,272.84H303.70V279.80H303.85M303.88,265.25H303.52V276.32H303.70M304.20,282.75H304.15V284.44H304.20M304.20,286.12H304.04V287.81H304.20M304.15,283.59H303.95V286.97H304.04M303.95,285.28H303.86V289.50H304.20M304.20,291.18H304.15V292.87H304.20M304.15,292.03H304.02V294.56H304.20M303.86,287.39H303.79V293.29H304.02M303.52,270.79H303.29V290.34H303.79M302.77,230.46H302.40V280.56H303.29" fill="none" stroke="#3a3a3a" stroke-width="0.42"/>
<path d="M300.60,222.54H296.30V294.80H304.20" fill="none" stroke="#666" stroke-width="0.5"/>
<line x1="300.60" y1="194.50" x2="300.60" y2="294.80" stroke="#666" stroke-width="0.5"/>
<rect x="395.40" y="194.00" width="10.97" height="5.24" fill="#f8d8c8"/>
<rect x="406.32" y="194.00" width="10.97" height="5.24" fill="#4848a8"/>
<rect x="417.24" y="194.00" width="10.97" height="5.24" fill="#f8f0f0"/>
<rect x="428.16" y="194.00" width="10.97" height="5.24" fill="#f8e8e4"/>
<rect x="439.08" y="194.00" width="10.97" height="5.24" fill="#e82020"/>
<rect x="395.40" y="199.19" width="10.97" height="5.24" fill="#fbf8f8"/>
<rect x="406.32" y="199.19" width="10.97" height="5.24" fill="#4848a8"/>
<rect x="417.24" y="199.19" width="10.97" height="5.24" fill="#7070b8"/>
<rect x="428.16" y="199.19" width="10.97" height="5.24" fill="#f07850"/>
<rect x="439.08" y="199.19" width="10.97" height="5.24" fill="#f04030"/>
<rect x="395.40" y="204.38" width="10.97" height="5.24" fill="#c8c0e0"/>
<rect x="406.32" y="204.38" width="10.97" height="5.24" fill="#f0a088"/>
<rect x="417.24" y="204.38" width="10.97" height="5.24" fill="#f8e8e8"/>
<rect x="428.16" y="204.38" width="10.97" height="5.24" fill="#f8e0d8"/>
<rect x="439.08" y="204.38" width="10.97" height="5.24" fill="#f4a890"/>
<rect x="395.40" y="209.57" width="10.97" height="5.24" fill="#b8b0d8"/>
<rect x="406.32" y="209.57" width="10.97" height="5.24" fill="#f8e4dc"/>
<rect x="417.24" y="209.57" width="10.97" height="5.24" fill="#e0d8ec"/>
<rect x="428.16" y="209.57" width="10.97" height="5.24" fill="#f8ecec"/>
<rect x="439.08" y="209.57" width="10.97" height="5.24" fill="#f8c8b8"/>
<rect x="395.40" y="214.76" width="10.97" height="5.24" fill="#b8b0d8"/>
<rect x="406.32" y="214.76" width="10.97" height="5.24" fill="#fbf8f8"/>
<rect x="417.24" y="214.76" width="10.97" height="5.24" fill="#d8d0e8"/>
<rect x="428.16" y="214.76" width="10.97" height="5.24" fill="#fbf8f8"/>
<rect x="439.08" y="214.76" width="10.97" height="5.24" fill="#f8f0f0"/>
<rect x="395.40" y="219.95" width="10.97" height="5.24" fill="#d8d0e8"/>
<rect x="406.32" y="219.95" width="10.97" height="5.24" fill="#f8ece8"/>
<rect x="417.24" y="219.95" width="10.97" height="5.24" fill="#f8f0f4"/>
<rect x="428.16" y="219.95" width="10.97" height="5.24" fill="#b8b0d8"/>
<rect x="439.08" y="219.95" width="10.97" height="5.24" fill="#f4b8a0"/>
<rect x="395.40" y="225.14" width="10.97" height="5.24" fill="#e0d8ec"/>
<rect x="406.32" y="225.14" width="10.97" height="5.24" fill="#b8b0d8"/>
<rect x="417.24" y="225.14" width="10.97" height="5.24" fill="#e0d8ec"/>
<rect x="428.16" y="225.14" width="10.97" height="5.24" fill="#b0a8d4"/>
<rect x="439.08" y="225.14" width="10.97" height="5.24" fill="#f4b8a0"/>
<rect x="395.40" y="230.33" width="10.97" height="5.24" fill="#fbf8f8"/>
<rect x="406.32" y="230.33" width="10.97" height="5.24" fill="#fbf8f8"/>
<rect x="417.24" y="230.33" width="10.97" height="5.24" fill="#f0eef8"/>
<rect x="428.16" y="230.33" width="10.97" height="5.24" fill="#c8c0e0"/>
<rect x="439.08" y="230.33" width="10.97" height="5.24" fill="#f0eef8"/>
<rect x="395.40" y="235.52" width="10.97" height="5.24" fill="#fbf8f8"/>
<rect x="406.32" y="235.52" width="10.97" height="5.24" fill="#f8f0f0"/>
<rect x="417.24" y="235.52" width="10.97" height="5.24" fill="#c8c0e0"/>
<rect x="428.16" y="235.52" width="10.97" height="5.24" fill="#c8c0e0"/>
<rect x="439.08" y="235.52" width="10.97" height="5.24" fill="#fbf8f8"/>
<rect x="395.40" y="240.71" width="10.97" height="5.24" fill="#f8e8e4"/>
<rect x="406.32" y="240.71" width="10.97" height="5.24" fill="#f4a080"/>
<rect x="417.24" y="240.71" width="10.97" height="5.24" fill="#b8b0d8"/>
<rect x="428.16" y="240.71" width="10.97" height="5.24" fill="#f08060"/>
<rect x="439.08" y="240.71" width="10.97" height="5.24" fill="#f8d0c0"/>
<rect x="395.40" y="245.90" width="10.97" height="5.24" fill="#f8e0d8"/>
<rect x="406.32" y="245.90" width="10.97" height="5.24" fill="#f4a080"/>
<rect x="417.24" y="245.90" width="10.97" height="5.24" fill="#fbf8f8"/>
<rect x="428.16" y="245.90" width="10.97" height="5.24" fill="#f08060"/>
<rect x="439.08" y="245.90" width="10.97" height="5.24" fill="#e8e4f0"/>
<rect x="395.40" y="251.09" width="10.97" height="5.24" fill="#fbf8f8"/>
<rect x="406.32" y="251.09" width="10.97" height="5.24" fill="#f8f0f0"/>
<rect x="417.24" y="251.09" width="10.97" height="5.24" fill="#fbf8f8"/>
<rect x="428.16" y="251.09" width="10.97" height="5.24" fill="#f4b8a0"/>
<rect x="439.08" y="251.09" width="10.97" height="5.24" fill="#fbf8f8"/>
<rect x="395.40" y="256.28" width="10.97" height="5.24" fill="#d8d0e8"/>
<rect x="406.32" y="256.28" width="10.97" height="5.24" fill="#7068b8"/>
<rect x="417.24" y="256.28" width="10.97" height="5.24" fill="#c0b8dc"/>
<rect x="428.16" y="256.28" width="10.97" height="5.24" fill="#f07858"/>
<rect x="439.08" y="256.28" width="10.97" height="5.24" fill="#f8d8c8"/>
<rect x="395.40" y="261.47" width="10.97" height="5.24" fill="#c8c0e0"/>
<rect x="406.32" y="261.47" width="10.97" height="5.24" fill="#8078c0"/>
<rect x="417.24" y="261.47" width="10.97" height="5.24" fill="#c8c0e0"/>
<rect x="428.16" y="261.47" width="10.97" height="5.24" fill="#f8c8b8"/>
<rect x="439.08" y="261.47" width="10.97" height="5.24" fill="#9890c8"/>
<rect x="395.40" y="266.66" width="10.97" height="5.24" fill="#f8c0b0"/>
<rect x="406.32" y="266.66" width="10.97" height="5.24" fill="#c8c0e0"/>
<rect x="417.24" y="266.66" width="10.97" height="5.24" fill="#e8e4f0"/>
<rect x="428.16" y="266.66" width="10.97" height="5.24" fill="#4040a0"/>
<rect x="439.08" y="266.66" width="10.97" height="5.24" fill="#f8f0f0"/>
<rect x="395.40" y="271.85" width="10.97" height="5.24" fill="#f8e0d8"/>
<rect x="406.32" y="271.85" width="10.97" height="5.24" fill="#4848a8"/>
<rect x="417.24" y="271.85" width="10.97" height="5.24" fill="#d0c8e4"/>
<rect x="428.16" y="271.85" width="10.97" height="5.24" fill="#6060b0"/>
<rect x="439.08" y="271.85" width="10.97" height="5.24" fill="#f8ece8"/>
<rect x="395.40" y="277.04" width="10.97" height="5.24" fill="#c8c0e0"/>
<rect x="406.32" y="277.04" width="10.97" height="5.24" fill="#3850b0"/>
<rect x="417.24" y="277.04" width="10.97" height="5.24" fill="#7070b8"/>
<rect x="428.16" y="277.04" width="10.97" height="5.24" fill="#fbf8f8"/>
<rect x="439.08" y="277.04" width="10.97" height="5.24" fill="#f8d8c8"/>
<rect x="395.40" y="282.23" width="10.97" height="5.24" fill="#fbf8f8"/>
<rect x="406.32" y="282.23" width="10.97" height="5.24" fill="#3850b0"/>
<rect x="417.24" y="282.23" width="10.97" height="5.24" fill="#5858a8"/>
<rect x="428.16" y="282.23" width="10.97" height="5.24" fill="#fbf8f8"/>
<rect x="439.08" y="282.23" width="10.97" height="5.24" fill="#f8e0d8"/>
<rect x="395.40" y="287.42" width="10.97" height="5.24" fill="#d8d0e8"/>
<rect x="406.32" y="287.42" width="10.97" height="5.24" fill="#3850b0"/>
<rect x="417.24" y="287.42" width="10.97" height="5.24" fill="#b0a8d4"/>
<rect x="428.16" y="287.42" width="10.97" height="5.24" fill="#b0a8d4"/>
<rect x="439.08" y="287.42" width="10.97" height="5.24" fill="#f0eef8"/>
<rect x="395.40" y="292.61" width="10.97" height="5.24" fill="#e0d8ec"/>
<rect x="406.32" y="292.61" width="10.97" height="5.24" fill="#3850b0"/>
<rect x="417.24" y="292.61" width="10.97" height="5.24" fill="#8078c0"/>
<rect x="428.16" y="292.61" width="10.97" height="5.24" fill="#6060b0"/>
<rect x="439.08" y="292.61" width="10.97" height="5.24" fill="#d0c8e4"/>
<rect x="395.40" y="297.80" width="10.97" height="3.60" fill="#f0e21c"/>
<rect x="406.32" y="297.80" width="10.97" height="3.60" fill="#7cc35a"/>
<rect x="417.24" y="297.80" width="10.97" height="3.60" fill="#e4604a"/>
<rect x="428.16" y="297.80" width="10.97" height="3.60" fill="#5a2a82"/>
<rect x="439.08" y="297.80" width="10.97" height="3.60" fill="#f2c4d4"/>
<path d="M395.00,201.78H394.69V206.97H395.00M394.69,204.38H394.37V212.16H395.00M394.37,208.27H394.05V217.35H395.00M395.00,196.59H393.69V212.81H394.05M395.00,222.55H394.66V227.74H395.00M395.00,238.12H394.79V243.31H395.00M394.79,240.71H394.43V248.50H395.00M395.00,232.93H394.05V244.60H394.43M394.66,225.14H393.34V238.76H394.05M393.69,204.70H391.84V231.95H393.34M395.00,269.25H394.79V274.44H395.00M395.00,264.06H394.30V271.85H394.79M395.00,258.88H394.04V267.96H394.30M395.00,253.69H393.69V263.42H394.04M395.00,284.82H394.51V290.01H395.00M395.00,279.63H394.22V287.42H394.51M394.22,283.53H393.89V295.21H395.00M393.69,258.55H392.40V289.37H393.89M391.84,218.33H389.85V273.96H392.40" fill="none" stroke="#555" stroke-width="0.4"/>
<rect x="456.50" y="196.60" width="7.00" height="2.80" fill="#f0e21c"/>
<text x="468.00" y="200.80" font-size="7.75" transform="translate(468.00 200.80) scale(1 1.15) translate(-468.00 -200.80)">22RV1-ORY</text>
<rect x="456.50" y="207.60" width="7.00" height="2.80" fill="#7cc35a"/>
<text x="468.00" y="211.80" font-size="7.75" transform="translate(468.00 211.80) scale(1 1.15) translate(-468.00 -211.80)">35CR-GSK</text>
<rect x="456.50" y="219.40" width="7.00" height="2.80" fill="#e4604a"/>
<text x="468.00" y="223.60" font-size="7.75" transform="translate(468.00 223.60) scale(1 1.15) translate(-468.00 -223.60)">35CR-ORY</text>
<rect x="456.50" y="231.90" width="7.00" height="2.80" fill="#5a2a82"/>
<text x="468.00" y="236.10" font-size="7.75" transform="translate(468.00 236.10) scale(1 1.15) translate(-468.00 -236.10)">70CR-GSK</text>
<rect x="456.50" y="243.00" width="7.00" height="2.80" fill="#f2c4d4"/>
<text x="468.00" y="247.20" font-size="7.75" transform="translate(468.00 247.20) scale(1 1.15) translate(-468.00 -247.20)">96CR-GSK</text>
<rect x="459.30" y="253.50" width="5.00" height="47.50" fill="url(#fc)"/>
<text x="465.40" y="259.90" font-size="7.5" transform="translate(465.40 259.90) scale(1 1.15) translate(-465.40 -259.90)">2</text>
<text x="465.40" y="270.00" font-size="7.5" transform="translate(465.40 270.00) scale(1 1.15) translate(-465.40 -270.00)">1</text>
<text x="465.40" y="281.00" font-size="7.5" transform="translate(465.40 281.00) scale(1 1.15) translate(-465.40 -281.00)">0</text>
<text x="465.40" y="291.50" font-size="7.5" transform="translate(465.40 291.50) scale(1 1.15) translate(-465.40 -291.50)">−1</text>
<text x="465.40" y="301.70" font-size="7.5" transform="translate(465.40 301.70) scale(1 1.15) translate(-465.40 -301.70)">−2</text>
<text x="472.70" y="277.40" font-size="7.6" transform="translate(472.70 277.40) scale(1 1.15) translate(-472.70 -277.40)">Log<tspan font-size="5.2" dy="1.5">2</tspan><tspan dy="-1.5"> (FC)</tspan></text>
<text x="3.80" y="318.90" font-size="13" font-weight="bold" fill="#000">E</text>
<text x="67.00" y="332.30" font-size="9.7" transform="translate(67.00 332.30) scale(1 1.15) translate(-67.00 -332.30)" text-decoration="underline">MYC_Targets_v1</text>
<text x="243.50" y="332.00" font-size="9.7" transform="translate(243.50 332.00) scale(1 1.15) translate(-243.50 -332.00)" text-decoration="underline">MYC_Targets_v2</text>
<text x="74.00" y="439.20" font-size="9.7" transform="translate(74.00 439.20) scale(1 1.15) translate(-74.00 -439.20)" text-decoration="underline">E2F_Targets</text>
<text x="238.70" y="440.20" font-size="9.7" transform="translate(238.70 440.20) scale(1 1.15) translate(-238.70 -440.20)" text-decoration="underline">FOXA1_Targets</text>
<line x1="22.40" y1="344.00" x2="22.40" y2="414.30" stroke="#d6d6d6" stroke-width="0.9"/>
<line x1="22.40" y1="414.30" x2="87.70" y2="414.30" stroke="#d6d6d6" stroke-width="0.9"/>
<text x="20.80" y="361.70" font-size="7.6" text-anchor="end" transform="translate(20.80 361.70) scale(1 1.15) translate(-20.80 -361.70)">2</text>
<text x="20.80" y="381.90" font-size="7.6" text-anchor="end" transform="translate(20.80 381.90) scale(1 1.15) translate(-20.80 -381.90)">0</text>
<text x="20.80" y="400.90" font-size="7.6" text-anchor="end" transform="translate(20.80 400.90) scale(1 1.15) translate(-20.80 -400.90)">−2</text>
<text x="37.00" y="421.50" font-size="7.6" text-anchor="middle" transform="translate(37.00 421.50) scale(1 1.15) translate(-37.00 -421.50)">−0.4</text>
<text x="55.00" y="421.50" font-size="7.6" text-anchor="middle" transform="translate(55.00 421.50) scale(1 1.15) translate(-55.00 -421.50)">0</text>
<text x="73.80" y="421.50" font-size="7.6" text-anchor="middle" transform="translate(73.80 421.50) scale(1 1.15) translate(-73.80 -421.50)">0.4</text>
<text x="42.00" y="347.00" font-size="9.6" transform="translate(42.00 347.00) scale(1 1.15) translate(-42.00 -347.00)">Primary</text>
<text x="11.00" y="381.00" font-size="9.6" text-anchor="middle" transform="rotate(-90 11.00 381.00) translate(11.00 381.00) scale(1 1.15) translate(-11.00 -381.00)">KDM1A</text>
<g fill="#2f3a9a" fill-opacity="0.6"><circle cx="43.8" cy="375.2" r="0.6"/><circle cx="74.5" cy="367.1" r="0.6"/><circle cx="58.1" cy="381.3" r="0.6"/><circle cx="50.2" cy="369.0" r="0.6"/><circle cx="66.6" cy="375.7" r="0.6"/><circle cx="57.3" cy="368.3" r="0.6"/><circle cx="42.2" cy="390.3" r="0.6"/><circle cx="60.4" cy="383.4" r="0.6"/><circle cx="82.9" cy="378.6" r="0.6"/><circle cx="34.4" cy="367.8" r="0.6"/><circle cx="40.1" cy="386.4" r="0.6"/><circle cx="53.9" cy="376.0" r="0.6"/><circle cx="37.4" cy="379.7" r="0.6"/><circle cx="54.2" cy="375.7" r="0.6"/><circle cx="58.0" cy="377.5" r="0.6"/><circle cx="65.2" cy="375.6" r="0.6"/><circle cx="52.5" cy="369.6" r="0.6"/><circle cx="32.3" cy="385.2" r="0.6"/><circle cx="40.2" cy="395.7" r="0.6"/><circle cx="54.1" cy="376.0" r="0.6"/><circle cx="72.6" cy="374.3" r="0.6"/><circle cx="81.5" cy="358.5" r="0.6"/><circle cx="45.7" cy="356.3" r="0.6"/><circle cx="57.8" cy="371.5" r="0.6"/><circle cx="63.5" cy="352.5" r="0.6"/><circle cx="68.5" cy="389.1" r="0.6"/><circle cx="44.2" cy="388.8" r="0.6"/><circle cx="65.1" cy="372.2" r="0.6"/><circle cx="60.4" cy="376.7" r="0.6"/><circle cx="47.4" cy="378.6" r="0.6"/><circle cx="68.2" cy="390.2" r="0.6"/><circle cx="50.0" cy="387.6" r="0.6"/><circle cx="71.1" cy="391.6" r="0.6"/><circle cx="57.1" cy="358.7" r="0.6"/><circle cx="61.5" cy="375.6" r="0.6"/><circle cx="70.6" cy="362.8" r="0.6"/><circle cx="47.2" cy="384.8" r="0.6"/><circle cx="48.8" cy="384.7" r="0.6"/><circle cx="42.8" cy="380.4" r="0.6"/><circle cx="62.1" cy="380.0" r="0.6"/><circle cx="67.3" cy="361.9" r="0.6"/><circle cx="64.4" cy="371.0" r="0.6"/><circle cx="37.8" cy="377.2" r="0.6"/><circle cx="51.9" cy="372.4" r="0.6"/><circle cx="81.7" cy="369.8" r="0.6"/><circle cx="75.8" cy="370.2" r="0.6"/><circle cx="60.4" cy="388.3" r="0.6"/><circle cx="53.6" cy="373.7" r="0.6"/><circle cx="41.6" cy="393.5" r="0.6"/><circle cx="44.8" cy="397.5" r="0.6"/><circle cx="50.4" cy="370.2" r="0.6"/><circle cx="66.3" cy="370.1" r="0.6"/><circle cx="47.7" cy="380.3" r="0.6"/><circle cx="49.6" cy="376.9" r="0.6"/><circle cx="82.7" cy="383.3" r="0.6"/><circle cx="49.9" cy="377.4" r="0.6"/><circle cx="44.1" cy="374.0" r="0.6"/><circle cx="62.6" cy="377.5" r="0.6"/><circle cx="66.7" cy="376.7" r="0.6"/><circle cx="72.3" cy="382.8" r="0.6"/><circle cx="33.6" cy="367.4" r="0.6"/><circle cx="67.3" cy="374.4" r="0.6"/><circle cx="45.5" cy="361.4" r="0.6"/><circle cx="58.8" cy="393.7" r="0.6"/><circle cx="32.5" cy="410.2" r="0.6"/><circle cx="35.2" cy="377.6" r="0.6"/><circle cx="59.3" cy="376.9" r="0.6"/><circle cx="40.6" cy="355.5" r="0.6"/><circle cx="74.8" cy="370.8" r="0.6"/><circle cx="70.0" cy="374.9" r="0.6"/><circle cx="71.3" cy="371.5" r="0.6"/><circle cx="51.8" cy="369.5" r="0.6"/><circle cx="77.2" cy="392.4" r="0.6"/><circle cx="56.5" cy="357.2" r="0.6"/><circle cx="71.3" cy="374.5" r="0.6"/><circle cx="42.2" cy="381.1" r="0.6"/><circle cx="65.8" cy="386.3" r="0.6"/><circle cx="79.5" cy="360.8" r="0.6"/><circle cx="67.3" cy="386.3" r="0.6"/><circle cx="50.0" cy="377.3" r="0.6"/><circle cx="73.1" cy="379.5" r="0.6"/><circle cx="36.7" cy="371.9" r="0.6"/><circle cx="67.1" cy="354.8" r="0.6"/><circle cx="50.2" cy="376.2" r="0.6"/><circle cx="47.5" cy="367.6" r="0.6"/><circle cx="82.7" cy="371.3" r="0.6"/><circle cx="53.1" cy="381.3" r="0.6"/><circle cx="55.2" cy="392.1" r="0.6"/><circle cx="66.6" cy="384.8" r="0.6"/><circle cx="52.8" cy="366.4" r="0.6"/><circle cx="51.0" cy="365.5" r="0.6"/><circle cx="28.7" cy="391.9" r="0.6"/><circle cx="58.3" cy="377.2" r="0.6"/><circle cx="50.3" cy="377.6" r="0.6"/><circle cx="52.2" cy="374.8" r="0.6"/><circle cx="81.7" cy="382.0" r="0.6"/><circle cx="55.5" cy="380.8" r="0.6"/><circle cx="63.3" cy="375.8" r="0.6"/><circle cx="75.0" cy="381.0" r="0.6"/><circle cx="65.3" cy="376.6" r="0.6"/><circle cx="61.7" cy="385.3" r="0.6"/><circle cx="26.5" cy="364.0" r="0.6"/><circle cx="51.9" cy="378.8" r="0.6"/><circle cx="85.3" cy="372.8" r="0.6"/><circle cx="70.0" cy="373.0" r="0.6"/><circle cx="30.3" cy="381.4" r="0.6"/><circle cx="38.6" cy="359.9" r="0.6"/><circle cx="44.8" cy="385.9" r="0.6"/><circle cx="74.3" cy="377.0" r="0.6"/><circle cx="62.5" cy="373.0" r="0.6"/><circle cx="65.1" cy="361.0" r="0.6"/><circle cx="70.8" cy="373.3" r="0.6"/><circle cx="47.8" cy="378.0" r="0.6"/><circle cx="53.0" cy="380.4" r="0.6"/><circle cx="66.7" cy="385.2" r="0.6"/><circle cx="81.2" cy="370.1" r="0.6"/><circle cx="40.6" cy="393.0" r="0.6"/><circle cx="31.0" cy="396.7" r="0.6"/><circle cx="44.3" cy="389.0" r="0.6"/><circle cx="44.7" cy="411.0" r="0.6"/><circle cx="78.8" cy="385.2" r="0.6"/><circle cx="64.3" cy="374.3" r="0.6"/><circle cx="85.2" cy="357.7" r="0.6"/><circle cx="69.9" cy="379.1" r="0.6"/><circle cx="67.4" cy="384.7" r="0.6"/><circle cx="26.3" cy="386.3" r="0.6"/><circle cx="64.1" cy="358.9" r="0.6"/><circle cx="79.6" cy="360.6" r="0.6"/><circle cx="35.3" cy="394.6" r="0.6"/><circle cx="31.2" cy="384.7" r="0.6"/><circle cx="43.2" cy="371.3" r="0.6"/><circle cx="78.3" cy="381.1" r="0.6"/><circle cx="26.7" cy="379.6" r="0.6"/><circle cx="56.1" cy="383.8" r="0.6"/><circle cx="75.2" cy="367.1" r="0.6"/><circle cx="44.2" cy="373.3" r="0.6"/><circle cx="73.4" cy="370.9" r="0.6"/><circle cx="49.8" cy="363.5" r="0.6"/><circle cx="57.7" cy="356.7" r="0.6"/><circle cx="32.8" cy="385.0" r="0.6"/><circle cx="33.8" cy="381.4" r="0.6"/><circle cx="68.5" cy="383.2" r="0.6"/><circle cx="39.1" cy="380.2" r="0.6"/><circle cx="35.2" cy="381.3" r="0.6"/><circle cx="50.7" cy="371.7" r="0.6"/><circle cx="63.6" cy="362.0" r="0.6"/><circle cx="41.3" cy="366.2" r="0.6"/><circle cx="53.2" cy="378.8" r="0.6"/><circle cx="54.9" cy="379.3" r="0.6"/><circle cx="42.3" cy="390.5" r="0.6"/><circle cx="60.7" cy="372.7" r="0.6"/><circle cx="57.2" cy="377.2" r="0.6"/><circle cx="48.0" cy="369.0" r="0.6"/><circle cx="47.9" cy="376.9" r="0.6"/><circle cx="84.7" cy="377.2" r="0.6"/><circle cx="51.2" cy="370.4" r="0.6"/><circle cx="41.5" cy="377.4" r="0.6"/><circle cx="56.1" cy="373.1" r="0.6"/><circle cx="77.4" cy="371.6" r="0.6"/><circle cx="43.5" cy="379.0" r="0.6"/><circle cx="48.5" cy="400.7" r="0.6"/><circle cx="76.1" cy="366.9" r="0.6"/><circle cx="66.4" cy="364.0" r="0.6"/><circle cx="66.0" cy="372.3" r="0.6"/><circle cx="44.6" cy="369.0" r="0.6"/><circle cx="48.5" cy="393.4" r="0.6"/><circle cx="75.6" cy="390.1" r="0.6"/><circle cx="59.7" cy="376.0" r="0.6"/><circle cx="38.6" cy="362.3" r="0.6"/><circle cx="64.8" cy="370.2" r="0.6"/><circle cx="71.7" cy="376.1" r="0.6"/><circle cx="28.5" cy="394.0" r="0.6"/><circle cx="67.9" cy="357.8" r="0.6"/><circle cx="35.0" cy="381.3" r="0.6"/><circle cx="26.9" cy="389.3" r="0.6"/><circle cx="48.3" cy="372.8" r="0.6"/><circle cx="45.4" cy="380.3" r="0.6"/><circle cx="69.1" cy="389.6" r="0.6"/><circle cx="70.0" cy="371.8" r="0.6"/><circle cx="53.7" cy="372.3" r="0.6"/><circle cx="74.4" cy="363.6" r="0.6"/><circle cx="35.4" cy="371.6" r="0.6"/><circle cx="55.9" cy="383.9" r="0.6"/><circle cx="74.8" cy="360.1" r="0.6"/><circle cx="53.3" cy="379.5" r="0.6"/><circle cx="84.2" cy="354.0" r="0.6"/><circle cx="66.4" cy="358.5" r="0.6"/><circle cx="71.6" cy="368.0" r="0.6"/><circle cx="28.5" cy="387.9" r="0.6"/><circle cx="42.6" cy="380.9" r="0.6"/><circle cx="48.5" cy="376.0" r="0.6"/><circle cx="47.4" cy="376.6" r="0.6"/><circle cx="58.0" cy="368.6" r="0.6"/><circle cx="43.5" cy="387.0" r="0.6"/><circle cx="71.3" cy="369.8" r="0.6"/><circle cx="40.6" cy="374.4" r="0.6"/><circle cx="42.1" cy="365.3" r="0.6"/><circle cx="66.4" cy="386.8" r="0.6"/><circle cx="30.3" cy="384.6" r="0.6"/><circle cx="71.5" cy="377.9" r="0.6"/><circle cx="51.6" cy="385.8" r="0.6"/><circle cx="63.0" cy="394.5" r="0.6"/><circle cx="66.7" cy="371.7" r="0.6"/><circle cx="33.1" cy="388.5" r="0.6"/><circle cx="35.7" cy="373.3" r="0.6"/><circle cx="46.5" cy="379.1" r="0.6"/><circle cx="49.7" cy="368.5" r="0.6"/><circle cx="27.7" cy="389.9" r="0.6"/><circle cx="65.9" cy="371.3" r="0.6"/><circle cx="49.6" cy="389.8" r="0.6"/><circle cx="65.4" cy="362.2" r="0.6"/><circle cx="61.8" cy="373.7" r="0.6"/><circle cx="52.5" cy="381.4" r="0.6"/><circle cx="52.7" cy="372.2" r="0.6"/><circle cx="55.1" cy="378.0" r="0.6"/><circle cx="52.1" cy="398.2" r="0.6"/><circle cx="75.7" cy="374.8" r="0.6"/><circle cx="47.3" cy="373.0" r="0.6"/><circle cx="50.9" cy="388.2" r="0.6"/><circle cx="39.7" cy="369.9" r="0.6"/><circle cx="77.2" cy="388.8" r="0.6"/><circle cx="53.1" cy="375.6" r="0.6"/><circle cx="27.7" cy="377.8" r="0.6"/><circle cx="84.5" cy="381.9" r="0.6"/><circle cx="63.0" cy="377.6" r="0.6"/><circle cx="38.1" cy="367.5" r="0.6"/><circle cx="48.8" cy="385.1" r="0.6"/><circle cx="52.7" cy="379.0" r="0.6"/><circle cx="59.0" cy="367.6" r="0.6"/><circle cx="74.2" cy="371.3" r="0.6"/><circle cx="53.8" cy="392.7" r="0.6"/><circle cx="37.7" cy="393.4" r="0.6"/><circle cx="48.4" cy="379.0" r="0.6"/><circle cx="28.0" cy="378.9" r="0.6"/><circle cx="52.5" cy="382.0" r="0.6"/><circle cx="41.6" cy="384.6" r="0.6"/><circle cx="55.6" cy="365.2" r="0.6"/><circle cx="80.4" cy="372.9" r="0.6"/><circle cx="58.9" cy="373.1" r="0.6"/><circle cx="66.6" cy="374.0" r="0.6"/><circle cx="48.4" cy="384.4" r="0.6"/><circle cx="51.8" cy="383.9" r="0.6"/><circle cx="41.0" cy="397.8" r="0.6"/><circle cx="60.5" cy="359.9" r="0.6"/><circle cx="56.5" cy="384.4" r="0.6"/><circle cx="36.0" cy="389.5" r="0.6"/><circle cx="35.2" cy="384.9" r="0.6"/><circle cx="80.8" cy="381.2" r="0.6"/><circle cx="54.3" cy="379.7" r="0.6"/><circle cx="35.1" cy="387.2" r="0.6"/><circle cx="60.6" cy="371.5" r="0.6"/><circle cx="48.0" cy="367.2" r="0.6"/><circle cx="84.5" cy="374.6" r="0.6"/><circle cx="31.1" cy="381.0" r="0.6"/><circle cx="70.3" cy="371.7" r="0.6"/><circle cx="81.5" cy="360.5" r="0.6"/><circle cx="52.5" cy="371.2" r="0.6"/><circle cx="39.5" cy="371.0" r="0.6"/><circle cx="80.8" cy="359.1" r="0.6"/><circle cx="59.5" cy="375.1" r="0.6"/><circle cx="41.3" cy="375.6" r="0.6"/><circle cx="68.9" cy="356.3" r="0.6"/><circle cx="79.9" cy="367.4" r="0.6"/><circle cx="51.7" cy="361.8" r="0.6"/><circle cx="54.8" cy="383.0" r="0.6"/><circle cx="31.0" cy="388.4" r="0.6"/><circle cx="68.5" cy="368.3" r="0.6"/><circle cx="69.8" cy="379.7" r="0.6"/><circle cx="76.9" cy="374.8" r="0.6"/><circle cx="85.7" cy="386.9" r="0.6"/><circle cx="58.0" cy="374.2" r="0.6"/><circle cx="55.4" cy="371.7" r="0.6"/><circle cx="70.2" cy="383.3" r="0.6"/><circle cx="49.5" cy="382.5" r="0.6"/><circle cx="36.3" cy="369.0" r="0.6"/><circle cx="65.7" cy="379.5" r="0.6"/><circle cx="81.7" cy="367.8" r="0.6"/><circle cx="59.4" cy="381.7" r="0.6"/><circle cx="66.8" cy="381.3" r="0.6"/><circle cx="80.1" cy="377.8" r="0.6"/><circle cx="51.6" cy="386.9" r="0.6"/><circle cx="26.9" cy="386.9" r="0.6"/><circle cx="52.0" cy="376.2" r="0.6"/><circle cx="45.6" cy="359.3" r="0.6"/><circle cx="71.6" cy="359.8" r="0.6"/><circle cx="45.3" cy="381.7" r="0.6"/><circle cx="68.2" cy="377.0" r="0.6"/><circle cx="32.4" cy="380.0" r="0.6"/><circle cx="60.9" cy="369.4" r="0.6"/><circle cx="45.8" cy="370.3" r="0.6"/><circle cx="34.2" cy="376.4" r="0.6"/><circle cx="66.8" cy="377.1" r="0.6"/><circle cx="61.5" cy="382.7" r="0.6"/><circle cx="56.7" cy="373.4" r="0.6"/><circle cx="41.4" cy="371.9" r="0.6"/><circle cx="24.9" cy="392.8" r="0.6"/><circle cx="46.1" cy="361.3" r="0.6"/><circle cx="73.9" cy="362.0" r="0.6"/><circle cx="31.6" cy="383.4" r="0.6"/><circle cx="46.9" cy="382.5" r="0.6"/><circle cx="66.3" cy="372.6" r="0.6"/><circle cx="81.6" cy="372.8" r="0.6"/><circle cx="37.8" cy="377.2" r="0.6"/><circle cx="77.0" cy="362.1" r="0.6"/><circle cx="82.6" cy="357.8" r="0.6"/><circle cx="45.4" cy="372.0" r="0.6"/><circle cx="47.4" cy="364.2" r="0.6"/><circle cx="83.8" cy="364.3" r="0.6"/><circle cx="39.9" cy="385.8" r="0.6"/><circle cx="48.7" cy="393.0" r="0.6"/><circle cx="61.4" cy="377.0" r="0.6"/><circle cx="73.5" cy="372.3" r="0.6"/><circle cx="56.6" cy="371.0" r="0.6"/><circle cx="74.9" cy="362.2" r="0.6"/><circle cx="72.6" cy="389.8" r="0.6"/><circle cx="49.4" cy="372.3" r="0.6"/><circle cx="80.6" cy="350.9" r="0.6"/><circle cx="44.6" cy="399.9" r="0.6"/><circle cx="79.5" cy="362.1" r="0.6"/><circle cx="70.0" cy="374.6" r="0.6"/><circle cx="51.8" cy="379.6" r="0.6"/><circle cx="65.6" cy="380.8" r="0.6"/><circle cx="30.6" cy="383.0" r="0.6"/><circle cx="44.6" cy="388.6" r="0.6"/><circle cx="75.4" cy="374.6" r="0.6"/><circle cx="55.5" cy="382.3" r="0.6"/><circle cx="37.0" cy="368.7" r="0.6"/><circle cx="49.0" cy="377.3" r="0.6"/><circle cx="36.8" cy="385.5" r="0.6"/><circle cx="62.5" cy="362.8" r="0.6"/><circle cx="29.3" cy="378.1" r="0.6"/><circle cx="50.6" cy="380.0" r="0.6"/><circle cx="67.9" cy="368.3" r="0.6"/><circle cx="84.4" cy="366.9" r="0.6"/><circle cx="56.8" cy="368.4" r="0.6"/><circle cx="68.2" cy="376.4" r="0.6"/><circle cx="47.5" cy="379.1" r="0.6"/><circle cx="30.5" cy="369.7" r="0.6"/><circle cx="60.1" cy="376.1" r="0.6"/><circle cx="24.4" cy="383.3" r="0.6"/><circle cx="77.2" cy="366.6" r="0.6"/><circle cx="36.0" cy="365.8" r="0.6"/><circle cx="64.6" cy="370.7" r="0.6"/><circle cx="81.2" cy="371.1" r="0.6"/><circle cx="64.0" cy="384.4" r="0.6"/><circle cx="24.9" cy="383.9" r="0.6"/><circle cx="61.8" cy="367.5" r="0.6"/><circle cx="51.1" cy="359.9" r="0.6"/><circle cx="50.8" cy="371.7" r="0.6"/><circle cx="64.5" cy="379.3" r="0.6"/><circle cx="74.8" cy="374.4" r="0.6"/><circle cx="31.6" cy="374.9" r="0.6"/><circle cx="74.0" cy="384.3" r="0.6"/><circle cx="55.6" cy="379.0" r="0.6"/><circle cx="53.6" cy="380.9" r="0.6"/><circle cx="64.4" cy="378.9" r="0.6"/><circle cx="51.0" cy="374.3" r="0.6"/><circle cx="85.5" cy="365.6" r="0.6"/><circle cx="43.5" cy="380.6" r="0.6"/><circle cx="63.4" cy="372.8" r="0.6"/><circle cx="58.0" cy="368.0" r="0.6"/><circle cx="28.4" cy="380.4" r="0.6"/><circle cx="78.0" cy="362.1" r="0.6"/><circle cx="68.9" cy="377.2" r="0.6"/><circle cx="66.4" cy="374.9" r="0.6"/><circle cx="70.3" cy="378.6" r="0.6"/><circle cx="53.1" cy="376.2" r="0.6"/><circle cx="46.6" cy="378.1" r="0.6"/><circle cx="49.6" cy="378.8" r="0.6"/><circle cx="63.5" cy="381.2" r="0.6"/><circle cx="47.3" cy="364.5" r="0.6"/><circle cx="54.5" cy="370.9" r="0.6"/><circle cx="37.7" cy="385.6" r="0.6"/><circle cx="43.6" cy="388.3" r="0.6"/><circle cx="58.5" cy="369.8" r="0.6"/><circle cx="70.7" cy="370.0" r="0.6"/><circle cx="47.5" cy="394.1" r="0.6"/><circle cx="66.8" cy="366.9" r="0.6"/><circle cx="76.6" cy="368.0" r="0.6"/><circle cx="77.5" cy="398.7" r="0.6"/><circle cx="46.7" cy="376.1" r="0.6"/><circle cx="67.7" cy="372.4" r="0.6"/><circle cx="66.4" cy="371.8" r="0.6"/><circle cx="63.9" cy="354.9" r="0.6"/><circle cx="85.9" cy="368.5" r="0.6"/><circle cx="84.8" cy="381.0" r="0.6"/><circle cx="49.6" cy="381.8" r="0.6"/><circle cx="73.3" cy="373.7" r="0.6"/><circle cx="47.4" cy="387.9" r="0.6"/><circle cx="47.0" cy="374.9" r="0.6"/><circle cx="50.9" cy="388.2" r="0.6"/><circle cx="73.7" cy="362.4" r="0.6"/><circle cx="55.1" cy="350.0" r="0.6"/><circle cx="58.5" cy="386.2" r="0.6"/><circle cx="32.6" cy="367.0" r="0.6"/><circle cx="30.1" cy="381.9" r="0.6"/><circle cx="71.9" cy="376.8" r="0.6"/><circle cx="49.4" cy="372.6" r="0.6"/><circle cx="71.7" cy="372.9" r="0.6"/><circle cx="72.4" cy="378.2" r="0.6"/><circle cx="81.3" cy="365.3" r="0.6"/><circle cx="56.8" cy="349.3" r="0.6"/><circle cx="62.6" cy="362.0" r="0.6"/><circle cx="48.8" cy="379.3" r="0.6"/><circle cx="32.3" cy="385.8" r="0.6"/><circle cx="41.1" cy="386.8" r="0.6"/><circle cx="50.1" cy="385.5" r="0.6"/><circle cx="44.0" cy="379.9" r="0.6"/><circle cx="42.9" cy="381.5" r="0.6"/><circle cx="40.5" cy="374.1" r="0.6"/><circle cx="74.1" cy="369.7" r="0.6"/><circle cx="55.1" cy="381.5" r="0.6"/><circle cx="68.4" cy="370.5" r="0.6"/><circle cx="47.2" cy="375.3" r="0.6"/><circle cx="34.1" cy="382.7" r="0.6"/><circle cx="39.2" cy="381.2" r="0.6"/><circle cx="60.4" cy="364.5" r="0.6"/><circle cx="68.7" cy="389.2" r="0.6"/><circle cx="32.0" cy="378.6" r="0.6"/><circle cx="53.8" cy="379.3" r="0.6"/><circle cx="61.8" cy="385.2" r="0.6"/><circle cx="75.0" cy="370.4" r="0.6"/><circle cx="30.4" cy="371.3" r="0.6"/><circle cx="52.0" cy="382.6" r="0.6"/><circle cx="69.0" cy="365.9" r="0.6"/><circle cx="66.0" cy="373.9" r="0.6"/><circle cx="71.4" cy="379.6" r="0.6"/><circle cx="47.1" cy="379.9" r="0.6"/><circle cx="78.5" cy="359.7" r="0.6"/><circle cx="36.0" cy="373.3" r="0.6"/><circle cx="73.6" cy="370.6" r="0.6"/><circle cx="44.6" cy="367.1" r="0.6"/><circle cx="56.6" cy="383.9" r="0.6"/><circle cx="55.8" cy="380.0" r="0.6"/><circle cx="41.0" cy="387.8" r="0.6"/><circle cx="81.8" cy="362.5" r="0.6"/><circle cx="58.9" cy="389.1" r="0.6"/><circle cx="55.5" cy="388.1" r="0.6"/><circle cx="65.4" cy="371.5" r="0.6"/><circle cx="44.9" cy="380.9" r="0.6"/><circle cx="86.8" cy="375.1" r="0.6"/><circle cx="54.3" cy="378.8" r="0.6"/><circle cx="77.7" cy="359.5" r="0.6"/><circle cx="62.5" cy="368.7" r="0.6"/><circle cx="40.0" cy="385.1" r="0.6"/><circle cx="24.1" cy="386.4" r="0.6"/></g>
<polygon points="25.40,383.00 55.00,375.85 84.60,366.90 84.60,370.10 55.00,377.25 25.40,386.20" fill="#8a8a8a" fill-opacity="0.8"/>
<line x1="25.40" y1="384.60" x2="84.60" y2="368.50" stroke="#303038" stroke-width="1.2"/>
<text x="53.50" y="403.30" font-size="7.6" transform="translate(53.50 403.30) scale(1 1.15) translate(-53.50 -403.30)"><tspan font-style="italic">R</tspan> = 0.46</text>
<text x="53.50" y="411.80" font-size="7.6" transform="translate(53.50 411.80) scale(1 1.15) translate(-53.50 -411.80)"><tspan font-style="italic">P</tspan> < <tspan font-style="italic">2.2</tspan> × 10<tspan font-size="5.3" dy="-3.1">−16</tspan></text>
<line x1="114.00" y1="345.40" x2="114.00" y2="415.60" stroke="#d6d6d6" stroke-width="0.9"/>
<line x1="114.00" y1="415.60" x2="176.50" y2="415.60" stroke="#d6d6d6" stroke-width="0.9"/>
<text x="112.20" y="357.70" font-size="7.6" text-anchor="end" transform="translate(112.20 357.70) scale(1 1.15) translate(-112.20 -357.70)">2</text>
<text x="112.20" y="369.20" font-size="7.6" text-anchor="end" transform="translate(112.20 369.20) scale(1 1.15) translate(-112.20 -369.20)">1</text>
<text x="112.20" y="380.70" font-size="7.6" text-anchor="end" transform="translate(112.20 380.70) scale(1 1.15) translate(-112.20 -380.70)">0</text>
<text x="112.20" y="393.30" font-size="7.6" text-anchor="end" transform="translate(112.20 393.30) scale(1 1.15) translate(-112.20 -393.30)">−1</text>
<text x="112.20" y="405.40" font-size="7.6" text-anchor="end" transform="translate(112.20 405.40) scale(1 1.15) translate(-112.20 -405.40)">−2</text>
<text x="112.20" y="417.30" font-size="7.6" text-anchor="end" transform="translate(112.20 417.30) scale(1 1.15) translate(-112.20 -417.30)">−3</text>
<text x="118.80" y="421.30" font-size="7.6" text-anchor="middle" transform="translate(118.80 421.30) scale(1 1.15) translate(-118.80 -421.30)">−0.8</text>
<text x="134.00" y="421.30" font-size="7.6" text-anchor="middle" transform="translate(134.00 421.30) scale(1 1.15) translate(-134.00 -421.30)">−0.4</text>
<text x="150.00" y="421.30" font-size="7.6" text-anchor="middle" transform="translate(150.00 421.30) scale(1 1.15) translate(-150.00 -421.30)">0</text>
<text x="168.80" y="421.30" font-size="7.6" text-anchor="middle" transform="translate(168.80 421.30) scale(1 1.15) translate(-168.80 -421.30)">0.4</text>
<text x="130.40" y="347.00" font-size="9.6" transform="translate(130.40 347.00) scale(1 1.15) translate(-130.40 -347.00)">mCRPC</text>
<g fill="#b5283a" fill-opacity="0.5"><circle cx="163.0" cy="386.2" r="0.6"/><circle cx="140.5" cy="366.1" r="0.6"/><circle cx="128.0" cy="375.3" r="0.6"/><circle cx="119.9" cy="384.7" r="0.6"/><circle cx="170.0" cy="358.9" r="0.6"/><circle cx="148.2" cy="388.4" r="0.6"/><circle cx="136.8" cy="367.9" r="0.6"/><circle cx="132.8" cy="383.4" r="0.6"/><circle cx="163.5" cy="386.0" r="0.6"/><circle cx="139.7" cy="373.9" r="0.6"/><circle cx="131.8" cy="398.7" r="0.6"/><circle cx="146.4" cy="367.2" r="0.6"/><circle cx="156.7" cy="372.1" r="0.6"/><circle cx="123.2" cy="378.2" r="0.6"/><circle cx="127.0" cy="381.1" r="0.6"/><circle cx="174.8" cy="356.5" r="0.6"/><circle cx="155.6" cy="360.2" r="0.6"/><circle cx="118.7" cy="373.7" r="0.6"/><circle cx="167.3" cy="385.9" r="0.6"/><circle cx="132.8" cy="397.1" r="0.6"/><circle cx="142.8" cy="405.2" r="0.6"/><circle cx="128.8" cy="404.7" r="0.6"/><circle cx="163.8" cy="362.5" r="0.6"/><circle cx="156.7" cy="383.0" r="0.6"/><circle cx="141.8" cy="376.5" r="0.6"/><circle cx="134.9" cy="390.8" r="0.6"/><circle cx="164.3" cy="383.1" r="0.6"/><circle cx="156.2" cy="380.7" r="0.6"/><circle cx="154.4" cy="369.0" r="0.6"/><circle cx="175.6" cy="370.0" r="0.6"/><circle cx="159.4" cy="374.6" r="0.6"/><circle cx="133.6" cy="390.6" r="0.6"/><circle cx="155.6" cy="376.9" r="0.6"/><circle cx="155.3" cy="379.0" r="0.6"/><circle cx="137.8" cy="390.9" r="0.6"/><circle cx="147.5" cy="368.4" r="0.6"/><circle cx="122.1" cy="373.5" r="0.6"/><circle cx="132.3" cy="367.1" r="0.6"/><circle cx="141.6" cy="399.9" r="0.6"/><circle cx="151.4" cy="374.6" r="0.6"/><circle cx="157.1" cy="373.7" r="0.6"/><circle cx="128.7" cy="371.8" r="0.6"/><circle cx="164.0" cy="370.6" r="0.6"/><circle cx="165.3" cy="366.7" r="0.6"/><circle cx="148.5" cy="379.6" r="0.6"/><circle cx="141.9" cy="404.4" r="0.6"/><circle cx="151.5" cy="378.4" r="0.6"/><circle cx="151.5" cy="376.7" r="0.6"/><circle cx="121.9" cy="381.8" r="0.6"/><circle cx="131.8" cy="356.7" r="0.6"/><circle cx="173.3" cy="378.7" r="0.6"/><circle cx="146.9" cy="362.7" r="0.6"/><circle cx="151.0" cy="381.1" r="0.6"/><circle cx="160.7" cy="372.6" r="0.6"/><circle cx="158.6" cy="382.8" r="0.6"/><circle cx="133.5" cy="384.1" r="0.6"/><circle cx="140.2" cy="371.6" r="0.6"/><circle cx="143.8" cy="375.4" r="0.6"/><circle cx="122.8" cy="353.7" r="0.6"/><circle cx="165.5" cy="396.3" r="0.6"/><circle cx="145.1" cy="399.8" r="0.6"/><circle cx="154.4" cy="360.6" r="0.6"/><circle cx="160.2" cy="359.7" r="0.6"/><circle cx="171.4" cy="373.1" r="0.6"/><circle cx="163.9" cy="372.1" r="0.6"/><circle cx="136.0" cy="375.6" r="0.6"/><circle cx="143.7" cy="411.1" r="0.6"/><circle cx="147.9" cy="381.0" r="0.6"/><circle cx="152.5" cy="405.4" r="0.6"/><circle cx="159.3" cy="348.4" r="0.6"/><circle cx="167.6" cy="368.7" r="0.6"/><circle cx="143.9" cy="371.7" r="0.6"/><circle cx="156.3" cy="392.9" r="0.6"/><circle cx="171.1" cy="372.0" r="0.6"/><circle cx="145.3" cy="383.5" r="0.6"/><circle cx="142.3" cy="384.8" r="0.6"/><circle cx="143.3" cy="376.0" r="0.6"/><circle cx="165.9" cy="379.1" r="0.6"/><circle cx="172.7" cy="352.1" r="0.6"/><circle cx="142.0" cy="396.8" r="0.6"/><circle cx="118.9" cy="387.0" r="0.6"/><circle cx="153.7" cy="394.3" r="0.6"/><circle cx="127.9" cy="404.1" r="0.6"/><circle cx="169.9" cy="372.7" r="0.6"/><circle cx="119.0" cy="377.0" r="0.6"/><circle cx="127.8" cy="385.2" r="0.6"/><circle cx="169.5" cy="352.3" r="0.6"/><circle cx="131.1" cy="396.8" r="0.6"/><circle cx="135.8" cy="389.4" r="0.6"/><circle cx="158.4" cy="370.2" r="0.6"/><circle cx="157.0" cy="384.7" r="0.6"/><circle cx="170.3" cy="380.4" r="0.6"/><circle cx="151.9" cy="369.5" r="0.6"/><circle cx="158.6" cy="374.3" r="0.6"/><circle cx="166.4" cy="370.6" r="0.6"/><circle cx="167.8" cy="389.6" r="0.6"/><circle cx="165.0" cy="363.3" r="0.6"/><circle cx="144.8" cy="364.5" r="0.6"/><circle cx="127.2" cy="389.9" r="0.6"/><circle cx="174.9" cy="358.7" r="0.6"/><circle cx="145.2" cy="367.6" r="0.6"/><circle cx="131.3" cy="360.5" r="0.6"/><circle cx="152.6" cy="388.2" r="0.6"/><circle cx="121.6" cy="392.4" r="0.6"/><circle cx="175.9" cy="356.4" r="0.6"/><circle cx="169.9" cy="381.2" r="0.6"/><circle cx="164.9" cy="381.9" r="0.6"/><circle cx="144.4" cy="366.4" r="0.6"/><circle cx="139.7" cy="384.6" r="0.6"/><circle cx="134.6" cy="382.2" r="0.6"/><circle cx="131.3" cy="400.2" r="0.6"/><circle cx="118.0" cy="389.2" r="0.6"/><circle cx="137.6" cy="402.8" r="0.6"/><circle cx="130.9" cy="396.8" r="0.6"/><circle cx="163.4" cy="355.1" r="0.6"/><circle cx="118.8" cy="377.9" r="0.6"/><circle cx="118.3" cy="408.1" r="0.6"/><circle cx="174.3" cy="362.7" r="0.6"/><circle cx="167.8" cy="374.9" r="0.6"/><circle cx="138.3" cy="410.7" r="0.6"/><circle cx="127.1" cy="349.3" r="0.6"/><circle cx="128.8" cy="404.6" r="0.6"/><circle cx="139.6" cy="385.4" r="0.6"/><circle cx="130.6" cy="378.7" r="0.6"/><circle cx="149.9" cy="376.6" r="0.6"/><circle cx="156.7" cy="386.4" r="0.6"/><circle cx="138.2" cy="393.4" r="0.6"/><circle cx="156.4" cy="376.9" r="0.6"/><circle cx="134.1" cy="392.6" r="0.6"/><circle cx="168.4" cy="386.2" r="0.6"/><circle cx="121.6" cy="373.6" r="0.6"/><circle cx="143.5" cy="380.2" r="0.6"/><circle cx="135.3" cy="378.0" r="0.6"/><circle cx="148.0" cy="381.5" r="0.6"/><circle cx="172.0" cy="378.8" r="0.6"/><circle cx="130.2" cy="369.5" r="0.6"/><circle cx="156.0" cy="386.6" r="0.6"/><circle cx="165.6" cy="360.9" r="0.6"/><circle cx="162.8" cy="354.2" r="0.6"/><circle cx="147.6" cy="380.6" r="0.6"/><circle cx="152.9" cy="391.4" r="0.6"/><circle cx="121.4" cy="365.0" r="0.6"/><circle cx="156.5" cy="386.4" r="0.6"/><circle cx="122.9" cy="399.1" r="0.6"/><circle cx="119.6" cy="360.3" r="0.6"/><circle cx="146.4" cy="396.6" r="0.6"/><circle cx="157.0" cy="371.9" r="0.6"/><circle cx="134.2" cy="404.8" r="0.6"/><circle cx="154.1" cy="377.8" r="0.6"/><circle cx="131.4" cy="376.2" r="0.6"/><circle cx="140.0" cy="369.6" r="0.6"/><circle cx="131.4" cy="385.2" r="0.6"/><circle cx="133.0" cy="401.7" r="0.6"/><circle cx="145.3" cy="367.9" r="0.6"/><circle cx="141.0" cy="368.6" r="0.6"/><circle cx="143.7" cy="394.9" r="0.6"/><circle cx="122.2" cy="367.6" r="0.6"/><circle cx="172.0" cy="358.1" r="0.6"/><circle cx="130.3" cy="367.4" r="0.6"/><circle cx="133.3" cy="373.3" r="0.6"/><circle cx="158.0" cy="379.4" r="0.6"/><circle cx="146.7" cy="387.6" r="0.6"/><circle cx="145.3" cy="384.1" r="0.6"/><circle cx="162.7" cy="372.4" r="0.6"/><circle cx="131.7" cy="378.8" r="0.6"/><circle cx="116.0" cy="377.5" r="0.6"/><circle cx="170.1" cy="380.0" r="0.6"/><circle cx="132.1" cy="368.5" r="0.6"/><circle cx="145.1" cy="382.6" r="0.6"/><circle cx="155.4" cy="389.6" r="0.6"/><circle cx="146.7" cy="360.6" r="0.6"/><circle cx="157.6" cy="367.7" r="0.6"/><circle cx="158.1" cy="360.2" r="0.6"/><circle cx="150.2" cy="363.2" r="0.6"/><circle cx="169.7" cy="369.8" r="0.6"/><circle cx="151.7" cy="370.5" r="0.6"/><circle cx="136.4" cy="391.0" r="0.6"/><circle cx="164.0" cy="347.7" r="0.6"/><circle cx="123.2" cy="402.2" r="0.6"/><circle cx="148.7" cy="365.4" r="0.6"/><circle cx="174.4" cy="379.4" r="0.6"/><circle cx="157.3" cy="371.8" r="0.6"/><circle cx="153.5" cy="371.5" r="0.6"/><circle cx="144.4" cy="374.8" r="0.6"/><circle cx="145.1" cy="375.2" r="0.6"/><circle cx="156.9" cy="376.5" r="0.6"/><circle cx="115.9" cy="382.0" r="0.6"/><circle cx="128.0" cy="385.6" r="0.6"/><circle cx="136.1" cy="371.3" r="0.6"/><circle cx="147.6" cy="377.5" r="0.6"/><circle cx="144.2" cy="396.2" r="0.6"/><circle cx="133.3" cy="384.6" r="0.6"/><circle cx="140.3" cy="383.3" r="0.6"/><circle cx="162.8" cy="386.6" r="0.6"/><circle cx="139.6" cy="395.2" r="0.6"/><circle cx="122.8" cy="374.2" r="0.6"/><circle cx="131.2" cy="371.6" r="0.6"/><circle cx="156.6" cy="382.8" r="0.6"/><circle cx="124.8" cy="377.3" r="0.6"/><circle cx="118.4" cy="403.8" r="0.6"/><circle cx="123.8" cy="383.3" r="0.6"/><circle cx="136.2" cy="409.5" r="0.6"/><circle cx="138.9" cy="381.5" r="0.6"/><circle cx="131.6" cy="385.5" r="0.6"/><circle cx="145.0" cy="375.7" r="0.6"/><circle cx="136.1" cy="397.5" r="0.6"/><circle cx="150.3" cy="375.4" r="0.6"/><circle cx="145.1" cy="372.9" r="0.6"/><circle cx="133.2" cy="386.1" r="0.6"/><circle cx="165.6" cy="357.9" r="0.6"/><circle cx="169.0" cy="358.7" r="0.6"/><circle cx="172.7" cy="365.1" r="0.6"/><circle cx="127.8" cy="356.6" r="0.6"/><circle cx="137.0" cy="384.6" r="0.6"/><circle cx="135.4" cy="379.5" r="0.6"/><circle cx="124.9" cy="379.1" r="0.6"/><circle cx="157.2" cy="376.6" r="0.6"/><circle cx="155.5" cy="378.3" r="0.6"/><circle cx="148.6" cy="373.3" r="0.6"/><circle cx="125.4" cy="363.6" r="0.6"/><circle cx="151.5" cy="382.7" r="0.6"/><circle cx="138.4" cy="389.3" r="0.6"/><circle cx="128.9" cy="390.9" r="0.6"/><circle cx="165.2" cy="374.7" r="0.6"/><circle cx="164.5" cy="383.4" r="0.6"/><circle cx="132.7" cy="364.0" r="0.6"/><circle cx="141.2" cy="385.9" r="0.6"/><circle cx="138.2" cy="389.4" r="0.6"/><circle cx="169.4" cy="366.2" r="0.6"/><circle cx="150.7" cy="380.9" r="0.6"/><circle cx="175.7" cy="364.6" r="0.6"/><circle cx="146.9" cy="394.7" r="0.6"/><circle cx="134.2" cy="387.2" r="0.6"/><circle cx="136.9" cy="392.7" r="0.6"/><circle cx="142.5" cy="360.9" r="0.6"/><circle cx="119.6" cy="385.1" r="0.6"/><circle cx="145.5" cy="371.2" r="0.6"/><circle cx="164.5" cy="374.0" r="0.6"/><circle cx="125.7" cy="380.4" r="0.6"/><circle cx="138.5" cy="380.4" r="0.6"/><circle cx="149.8" cy="386.0" r="0.6"/><circle cx="155.4" cy="386.9" r="0.6"/><circle cx="151.6" cy="369.8" r="0.6"/><circle cx="154.2" cy="379.9" r="0.6"/><circle cx="154.2" cy="373.0" r="0.6"/><circle cx="165.3" cy="362.3" r="0.6"/><circle cx="154.4" cy="397.4" r="0.6"/><circle cx="139.0" cy="401.9" r="0.6"/><circle cx="136.4" cy="378.8" r="0.6"/><circle cx="136.2" cy="383.0" r="0.6"/><circle cx="149.4" cy="393.3" r="0.6"/><circle cx="144.5" cy="391.2" r="0.6"/><circle cx="157.0" cy="382.1" r="0.6"/><circle cx="167.2" cy="408.1" r="0.6"/><circle cx="139.2" cy="365.0" r="0.6"/><circle cx="156.4" cy="394.3" r="0.6"/><circle cx="151.4" cy="398.3" r="0.6"/><circle cx="128.5" cy="387.5" r="0.6"/><circle cx="160.4" cy="360.9" r="0.6"/><circle cx="145.4" cy="375.4" r="0.6"/><circle cx="158.6" cy="381.9" r="0.6"/><circle cx="137.0" cy="399.5" r="0.6"/><circle cx="137.3" cy="374.1" r="0.6"/><circle cx="160.3" cy="395.6" r="0.6"/><circle cx="133.2" cy="392.9" r="0.6"/><circle cx="171.4" cy="377.3" r="0.6"/><circle cx="145.0" cy="382.0" r="0.6"/><circle cx="171.6" cy="373.1" r="0.6"/><circle cx="118.3" cy="389.3" r="0.6"/><circle cx="162.2" cy="356.8" r="0.6"/></g>
<polygon points="117.00,386.00 146.75,378.00 176.50,366.80 176.50,372.00 146.75,380.00 117.00,391.20" fill="#8a8a8a" fill-opacity="0.8"/>
<line x1="117.00" y1="388.60" x2="176.50" y2="369.40" stroke="#3c3c3c" stroke-width="1.2"/>
<text x="145.80" y="405.00" font-size="7.6" transform="translate(145.80 405.00) scale(1 1.15) translate(-145.80 -405.00)"><tspan font-style="italic">R</tspan> = 0.49</text>
<text x="145.80" y="413.20" font-size="7.6" transform="translate(145.80 413.20) scale(1 1.15) translate(-145.80 -413.20)"><tspan font-style="italic">P</tspan> < <tspan font-style="italic">2.2</tspan> × 10<tspan font-size="5.3" dy="-3.1">−16</tspan></text>
<line x1="200.80" y1="344.00" x2="200.80" y2="413.30" stroke="#d6d6d6" stroke-width="0.9"/>
<line x1="200.80" y1="413.30" x2="264.60" y2="413.30" stroke="#d6d6d6" stroke-width="0.9"/>
<text x="199.00" y="363.10" font-size="7.6" text-anchor="end" transform="translate(199.00 363.10) scale(1 1.15) translate(-199.00 -363.10)">2</text>
<text x="199.00" y="381.40" font-size="7.6" text-anchor="end" transform="translate(199.00 381.40) scale(1 1.15) translate(-199.00 -381.40)">0</text>
<text x="199.00" y="401.20" font-size="7.6" text-anchor="end" transform="translate(199.00 401.20) scale(1 1.15) translate(-199.00 -401.20)">−2</text>
<text x="214.20" y="421.00" font-size="7.6" text-anchor="middle" transform="translate(214.20 421.00) scale(1 1.15) translate(-214.20 -421.00)">−0.4</text>
<text x="233.80" y="421.00" font-size="7.6" text-anchor="middle" transform="translate(233.80 421.00) scale(1 1.15) translate(-233.80 -421.00)">0</text>
<text x="251.20" y="421.00" font-size="7.6" text-anchor="middle" transform="translate(251.20 421.00) scale(1 1.15) translate(-251.20 -421.00)">0.4</text>
<text x="264.60" y="421.00" font-size="7.6" text-anchor="middle" transform="translate(264.60 421.00) scale(1 1.15) translate(-264.60 -421.00)">0.8</text>
<text x="222.70" y="347.30" font-size="9.6" transform="translate(222.70 347.30) scale(1 1.15) translate(-222.70 -347.30)">Primary</text>
<text x="191.30" y="374.80" font-size="9.6" text-anchor="middle" transform="rotate(-90 191.30 374.80) translate(191.30 374.80) scale(1 1.15) translate(-191.30 -374.80)">KDM1A</text>
<g fill="#2f3a9a" fill-opacity="0.6"><circle cx="255.3" cy="370.5" r="0.6"/><circle cx="232.0" cy="369.3" r="0.6"/><circle cx="225.2" cy="375.0" r="0.6"/><circle cx="245.7" cy="380.7" r="0.6"/><circle cx="247.5" cy="375.0" r="0.6"/><circle cx="250.3" cy="382.9" r="0.6"/><circle cx="205.9" cy="392.1" r="0.6"/><circle cx="203.1" cy="392.9" r="0.6"/><circle cx="240.4" cy="367.8" r="0.6"/><circle cx="210.0" cy="373.2" r="0.6"/><circle cx="235.8" cy="383.1" r="0.6"/><circle cx="229.0" cy="368.6" r="0.6"/><circle cx="246.1" cy="383.2" r="0.6"/><circle cx="259.8" cy="377.8" r="0.6"/><circle cx="204.7" cy="346.1" r="0.6"/><circle cx="220.0" cy="375.8" r="0.6"/><circle cx="257.8" cy="355.5" r="0.6"/><circle cx="256.2" cy="371.9" r="0.6"/><circle cx="226.0" cy="393.6" r="0.6"/><circle cx="241.3" cy="351.6" r="0.6"/><circle cx="226.4" cy="379.6" r="0.6"/><circle cx="253.0" cy="366.1" r="0.6"/><circle cx="217.8" cy="373.1" r="0.6"/><circle cx="255.6" cy="364.2" r="0.6"/><circle cx="220.6" cy="385.5" r="0.6"/><circle cx="227.2" cy="379.1" r="0.6"/><circle cx="228.6" cy="396.1" r="0.6"/><circle cx="225.7" cy="369.0" r="0.6"/><circle cx="228.3" cy="374.7" r="0.6"/><circle cx="254.1" cy="361.9" r="0.6"/><circle cx="218.4" cy="386.5" r="0.6"/><circle cx="226.1" cy="395.5" r="0.6"/><circle cx="227.0" cy="385.7" r="0.6"/><circle cx="211.6" cy="390.0" r="0.6"/><circle cx="239.1" cy="364.4" r="0.6"/><circle cx="239.9" cy="352.1" r="0.6"/><circle cx="221.7" cy="400.9" r="0.6"/><circle cx="234.7" cy="372.3" r="0.6"/><circle cx="246.2" cy="364.3" r="0.6"/><circle cx="233.1" cy="379.6" r="0.6"/><circle cx="238.4" cy="361.9" r="0.6"/><circle cx="248.4" cy="385.9" r="0.6"/><circle cx="206.3" cy="385.2" r="0.6"/><circle cx="219.0" cy="362.4" r="0.6"/><circle cx="247.2" cy="374.5" r="0.6"/><circle cx="207.0" cy="387.8" r="0.6"/><circle cx="261.2" cy="353.1" r="0.6"/><circle cx="230.4" cy="385.7" r="0.6"/><circle cx="230.0" cy="364.5" r="0.6"/><circle cx="213.4" cy="392.0" r="0.6"/><circle cx="224.0" cy="387.1" r="0.6"/><circle cx="238.6" cy="379.0" r="0.6"/><circle cx="209.8" cy="368.5" r="0.6"/><circle cx="222.3" cy="373.8" r="0.6"/><circle cx="242.8" cy="369.1" r="0.6"/><circle cx="219.3" cy="377.4" r="0.6"/><circle cx="217.8" cy="375.5" r="0.6"/><circle cx="249.2" cy="382.5" r="0.6"/><circle cx="245.1" cy="369.8" r="0.6"/><circle cx="218.6" cy="352.2" r="0.6"/><circle cx="236.5" cy="383.3" r="0.6"/><circle cx="205.2" cy="388.6" r="0.6"/><circle cx="235.6" cy="350.5" r="0.6"/><circle cx="262.0" cy="378.9" r="0.6"/><circle cx="203.7" cy="358.5" r="0.6"/><circle cx="219.2" cy="383.6" r="0.6"/><circle cx="232.7" cy="400.3" r="0.6"/><circle cx="237.9" cy="376.5" r="0.6"/><circle cx="215.1" cy="377.6" r="0.6"/><circle cx="230.3" cy="400.0" r="0.6"/><circle cx="240.0" cy="367.3" r="0.6"/><circle cx="238.9" cy="390.7" r="0.6"/><circle cx="237.1" cy="384.9" r="0.6"/><circle cx="254.0" cy="360.0" r="0.6"/><circle cx="246.6" cy="357.0" r="0.6"/><circle cx="236.2" cy="366.9" r="0.6"/><circle cx="212.2" cy="378.3" r="0.6"/><circle cx="214.3" cy="365.7" r="0.6"/><circle cx="230.5" cy="408.3" r="0.6"/><circle cx="212.8" cy="367.7" r="0.6"/><circle cx="249.5" cy="381.5" r="0.6"/><circle cx="230.1" cy="364.9" r="0.6"/><circle cx="238.7" cy="377.4" r="0.6"/><circle cx="227.1" cy="385.5" r="0.6"/><circle cx="223.8" cy="393.2" r="0.6"/><circle cx="208.1" cy="390.1" r="0.6"/><circle cx="234.4" cy="364.1" r="0.6"/><circle cx="238.0" cy="383.6" r="0.6"/><circle cx="214.5" cy="379.0" r="0.6"/><circle cx="236.3" cy="378.0" r="0.6"/><circle cx="259.4" cy="364.1" r="0.6"/><circle cx="253.0" cy="377.2" r="0.6"/><circle cx="219.5" cy="365.6" r="0.6"/><circle cx="228.3" cy="395.4" r="0.6"/><circle cx="255.0" cy="399.0" r="0.6"/><circle cx="228.9" cy="389.4" r="0.6"/><circle cx="226.1" cy="373.7" r="0.6"/><circle cx="217.9" cy="376.1" r="0.6"/><circle cx="215.4" cy="391.1" r="0.6"/><circle cx="210.2" cy="394.1" r="0.6"/><circle cx="249.4" cy="346.0" r="0.6"/><circle cx="255.9" cy="390.2" r="0.6"/><circle cx="251.5" cy="395.2" r="0.6"/><circle cx="239.4" cy="387.1" r="0.6"/><circle cx="238.1" cy="362.7" r="0.6"/><circle cx="263.4" cy="374.5" r="0.6"/><circle cx="263.2" cy="352.8" r="0.6"/><circle cx="245.7" cy="356.6" r="0.6"/><circle cx="204.1" cy="390.4" r="0.6"/><circle cx="202.8" cy="394.7" r="0.6"/><circle cx="247.7" cy="386.1" r="0.6"/><circle cx="229.3" cy="376.0" r="0.6"/><circle cx="207.2" cy="393.1" r="0.6"/><circle cx="255.6" cy="373.7" r="0.6"/><circle cx="237.8" cy="352.6" r="0.6"/><circle cx="238.7" cy="380.5" r="0.6"/><circle cx="214.6" cy="364.8" r="0.6"/><circle cx="218.2" cy="373.9" r="0.6"/><circle cx="243.0" cy="378.5" r="0.6"/><circle cx="203.8" cy="408.3" r="0.6"/><circle cx="225.8" cy="384.1" r="0.6"/><circle cx="218.0" cy="378.9" r="0.6"/><circle cx="231.5" cy="379.6" r="0.6"/><circle cx="225.2" cy="369.2" r="0.6"/><circle cx="226.4" cy="389.0" r="0.6"/><circle cx="240.7" cy="386.7" r="0.6"/><circle cx="239.9" cy="377.8" r="0.6"/><circle cx="238.4" cy="360.5" r="0.6"/><circle cx="243.5" cy="373.1" r="0.6"/><circle cx="230.1" cy="376.5" r="0.6"/><circle cx="225.6" cy="369.2" r="0.6"/><circle cx="248.5" cy="363.4" r="0.6"/><circle cx="234.5" cy="368.5" r="0.6"/><circle cx="262.7" cy="363.4" r="0.6"/><circle cx="261.0" cy="346.5" r="0.6"/><circle cx="232.7" cy="389.2" r="0.6"/><circle cx="244.5" cy="357.9" r="0.6"/><circle cx="254.9" cy="389.1" r="0.6"/><circle cx="208.0" cy="391.1" r="0.6"/><circle cx="247.6" cy="367.9" r="0.6"/><circle cx="230.0" cy="369.1" r="0.6"/><circle cx="242.9" cy="352.3" r="0.6"/><circle cx="224.5" cy="362.6" r="0.6"/><circle cx="218.8" cy="372.9" r="0.6"/><circle cx="230.4" cy="353.2" r="0.6"/><circle cx="230.9" cy="364.7" r="0.6"/><circle cx="222.8" cy="384.9" r="0.6"/><circle cx="244.9" cy="392.3" r="0.6"/><circle cx="255.8" cy="381.5" r="0.6"/><circle cx="259.6" cy="363.8" r="0.6"/><circle cx="253.1" cy="359.7" r="0.6"/><circle cx="242.5" cy="363.9" r="0.6"/><circle cx="228.4" cy="381.7" r="0.6"/><circle cx="221.8" cy="384.9" r="0.6"/><circle cx="258.1" cy="378.8" r="0.6"/><circle cx="238.3" cy="394.9" r="0.6"/><circle cx="236.9" cy="377.7" r="0.6"/><circle cx="259.5" cy="376.2" r="0.6"/><circle cx="202.9" cy="376.7" r="0.6"/><circle cx="244.7" cy="372.6" r="0.6"/><circle cx="230.3" cy="376.8" r="0.6"/><circle cx="239.8" cy="388.5" r="0.6"/><circle cx="229.2" cy="357.3" r="0.6"/><circle cx="251.7" cy="358.2" r="0.6"/><circle cx="223.1" cy="369.3" r="0.6"/><circle cx="224.0" cy="388.6" r="0.6"/><circle cx="236.3" cy="365.3" r="0.6"/><circle cx="251.0" cy="372.0" r="0.6"/><circle cx="232.1" cy="358.1" r="0.6"/><circle cx="224.4" cy="372.7" r="0.6"/><circle cx="242.9" cy="400.6" r="0.6"/><circle cx="255.3" cy="377.0" r="0.6"/><circle cx="239.1" cy="390.1" r="0.6"/><circle cx="247.4" cy="367.4" r="0.6"/><circle cx="219.2" cy="388.7" r="0.6"/><circle cx="218.4" cy="365.8" r="0.6"/><circle cx="203.6" cy="373.9" r="0.6"/><circle cx="226.9" cy="386.2" r="0.6"/><circle cx="236.8" cy="378.2" r="0.6"/><circle cx="229.9" cy="370.1" r="0.6"/><circle cx="237.6" cy="363.2" r="0.6"/><circle cx="226.4" cy="405.2" r="0.6"/><circle cx="245.9" cy="373.1" r="0.6"/><circle cx="210.7" cy="384.9" r="0.6"/><circle cx="228.7" cy="377.7" r="0.6"/><circle cx="228.7" cy="358.2" r="0.6"/><circle cx="222.0" cy="365.3" r="0.6"/><circle cx="231.7" cy="390.2" r="0.6"/><circle cx="233.1" cy="379.0" r="0.6"/><circle cx="255.2" cy="378.1" r="0.6"/><circle cx="245.6" cy="380.4" r="0.6"/><circle cx="233.8" cy="393.9" r="0.6"/><circle cx="246.5" cy="375.3" r="0.6"/><circle cx="245.2" cy="387.5" r="0.6"/><circle cx="233.4" cy="377.1" r="0.6"/><circle cx="234.0" cy="387.0" r="0.6"/><circle cx="250.7" cy="379.5" r="0.6"/><circle cx="248.4" cy="366.8" r="0.6"/><circle cx="225.3" cy="385.4" r="0.6"/><circle cx="211.9" cy="386.9" r="0.6"/><circle cx="223.0" cy="383.4" r="0.6"/><circle cx="218.9" cy="373.2" r="0.6"/><circle cx="224.8" cy="369.2" r="0.6"/><circle cx="257.9" cy="384.6" r="0.6"/><circle cx="248.2" cy="369.5" r="0.6"/><circle cx="234.2" cy="355.9" r="0.6"/><circle cx="238.0" cy="403.6" r="0.6"/><circle cx="236.8" cy="378.9" r="0.6"/><circle cx="222.2" cy="403.8" r="0.6"/><circle cx="212.2" cy="384.1" r="0.6"/><circle cx="225.2" cy="354.6" r="0.6"/><circle cx="218.2" cy="379.4" r="0.6"/><circle cx="247.7" cy="373.0" r="0.6"/><circle cx="228.3" cy="370.3" r="0.6"/><circle cx="214.1" cy="395.9" r="0.6"/><circle cx="252.0" cy="381.8" r="0.6"/><circle cx="243.0" cy="373.5" r="0.6"/><circle cx="224.6" cy="377.0" r="0.6"/><circle cx="228.5" cy="360.2" r="0.6"/><circle cx="250.3" cy="378.7" r="0.6"/><circle cx="204.4" cy="404.7" r="0.6"/><circle cx="232.4" cy="376.3" r="0.6"/><circle cx="235.0" cy="370.0" r="0.6"/><circle cx="230.7" cy="383.1" r="0.6"/><circle cx="216.5" cy="398.6" r="0.6"/><circle cx="214.2" cy="400.1" r="0.6"/><circle cx="225.1" cy="374.8" r="0.6"/><circle cx="262.5" cy="387.4" r="0.6"/><circle cx="232.3" cy="392.2" r="0.6"/><circle cx="226.8" cy="349.6" r="0.6"/><circle cx="235.0" cy="386.2" r="0.6"/><circle cx="244.0" cy="380.5" r="0.6"/><circle cx="235.6" cy="364.9" r="0.6"/><circle cx="205.6" cy="369.3" r="0.6"/><circle cx="240.6" cy="376.1" r="0.6"/><circle cx="206.4" cy="379.1" r="0.6"/><circle cx="223.2" cy="400.4" r="0.6"/><circle cx="245.4" cy="371.0" r="0.6"/><circle cx="250.2" cy="383.3" r="0.6"/><circle cx="250.3" cy="366.6" r="0.6"/><circle cx="251.0" cy="369.7" r="0.6"/><circle cx="222.7" cy="391.8" r="0.6"/><circle cx="217.0" cy="369.6" r="0.6"/><circle cx="237.0" cy="388.2" r="0.6"/><circle cx="205.2" cy="382.7" r="0.6"/><circle cx="242.5" cy="365.4" r="0.6"/><circle cx="209.3" cy="381.6" r="0.6"/><circle cx="224.1" cy="387.3" r="0.6"/><circle cx="260.7" cy="355.5" r="0.6"/><circle cx="261.7" cy="392.0" r="0.6"/><circle cx="213.4" cy="373.9" r="0.6"/><circle cx="207.8" cy="381.7" r="0.6"/><circle cx="243.6" cy="375.8" r="0.6"/><circle cx="215.1" cy="369.3" r="0.6"/><circle cx="255.9" cy="359.6" r="0.6"/><circle cx="215.1" cy="379.5" r="0.6"/><circle cx="241.7" cy="363.4" r="0.6"/><circle cx="221.2" cy="377.9" r="0.6"/><circle cx="225.4" cy="386.9" r="0.6"/><circle cx="219.3" cy="371.8" r="0.6"/><circle cx="215.0" cy="396.1" r="0.6"/><circle cx="226.0" cy="364.7" r="0.6"/><circle cx="243.6" cy="364.0" r="0.6"/><circle cx="242.5" cy="401.7" r="0.6"/><circle cx="242.3" cy="360.8" r="0.6"/><circle cx="229.1" cy="374.5" r="0.6"/><circle cx="224.1" cy="383.8" r="0.6"/><circle cx="264.2" cy="361.8" r="0.6"/><circle cx="247.8" cy="369.9" r="0.6"/><circle cx="260.4" cy="374.8" r="0.6"/><circle cx="214.8" cy="382.7" r="0.6"/><circle cx="222.3" cy="386.3" r="0.6"/><circle cx="247.2" cy="392.2" r="0.6"/><circle cx="228.7" cy="381.9" r="0.6"/><circle cx="242.7" cy="361.6" r="0.6"/><circle cx="221.9" cy="379.6" r="0.6"/><circle cx="206.7" cy="367.2" r="0.6"/><circle cx="238.5" cy="379.3" r="0.6"/><circle cx="233.0" cy="377.2" r="0.6"/><circle cx="244.0" cy="372.1" r="0.6"/><circle cx="262.1" cy="366.7" r="0.6"/><circle cx="224.3" cy="362.0" r="0.6"/><circle cx="230.5" cy="381.6" r="0.6"/><circle cx="244.1" cy="384.6" r="0.6"/><circle cx="216.1" cy="354.3" r="0.6"/><circle cx="231.6" cy="387.3" r="0.6"/><circle cx="236.5" cy="379.1" r="0.6"/><circle cx="251.2" cy="373.7" r="0.6"/><circle cx="233.3" cy="378.7" r="0.6"/><circle cx="228.5" cy="386.9" r="0.6"/><circle cx="243.4" cy="386.6" r="0.6"/><circle cx="226.6" cy="399.6" r="0.6"/><circle cx="222.6" cy="372.2" r="0.6"/><circle cx="244.0" cy="363.1" r="0.6"/><circle cx="203.3" cy="373.1" r="0.6"/><circle cx="236.0" cy="400.2" r="0.6"/><circle cx="228.5" cy="385.5" r="0.6"/><circle cx="209.3" cy="374.2" r="0.6"/><circle cx="248.0" cy="377.9" r="0.6"/><circle cx="229.1" cy="378.0" r="0.6"/><circle cx="231.1" cy="391.1" r="0.6"/><circle cx="225.1" cy="363.5" r="0.6"/><circle cx="226.9" cy="393.8" r="0.6"/><circle cx="226.0" cy="376.3" r="0.6"/><circle cx="253.7" cy="375.3" r="0.6"/><circle cx="249.7" cy="401.5" r="0.6"/><circle cx="209.5" cy="369.8" r="0.6"/><circle cx="220.4" cy="361.6" r="0.6"/><circle cx="248.0" cy="383.0" r="0.6"/><circle cx="208.4" cy="384.0" r="0.6"/><circle cx="250.0" cy="354.8" r="0.6"/><circle cx="222.0" cy="379.2" r="0.6"/><circle cx="230.6" cy="355.4" r="0.6"/><circle cx="237.4" cy="368.3" r="0.6"/><circle cx="255.9" cy="373.1" r="0.6"/><circle cx="237.8" cy="388.0" r="0.6"/><circle cx="217.3" cy="384.6" r="0.6"/><circle cx="213.2" cy="374.1" r="0.6"/><circle cx="239.6" cy="354.6" r="0.6"/><circle cx="231.5" cy="385.5" r="0.6"/><circle cx="252.1" cy="366.5" r="0.6"/><circle cx="222.9" cy="364.2" r="0.6"/><circle cx="224.5" cy="373.6" r="0.6"/><circle cx="246.1" cy="361.2" r="0.6"/><circle cx="237.7" cy="386.2" r="0.6"/><circle cx="253.8" cy="351.5" r="0.6"/><circle cx="217.7" cy="380.7" r="0.6"/><circle cx="224.3" cy="388.0" r="0.6"/><circle cx="220.6" cy="377.8" r="0.6"/><circle cx="243.7" cy="350.7" r="0.6"/><circle cx="234.8" cy="373.2" r="0.6"/><circle cx="227.0" cy="367.9" r="0.6"/><circle cx="231.0" cy="368.7" r="0.6"/><circle cx="239.5" cy="386.0" r="0.6"/><circle cx="243.3" cy="376.0" r="0.6"/><circle cx="232.9" cy="361.6" r="0.6"/><circle cx="258.6" cy="376.6" r="0.6"/><circle cx="203.1" cy="391.8" r="0.6"/><circle cx="230.4" cy="369.9" r="0.6"/><circle cx="235.5" cy="366.0" r="0.6"/><circle cx="233.7" cy="381.9" r="0.6"/><circle cx="264.5" cy="352.5" r="0.6"/><circle cx="262.5" cy="383.9" r="0.6"/><circle cx="242.0" cy="384.2" r="0.6"/><circle cx="205.1" cy="379.8" r="0.6"/><circle cx="210.0" cy="405.8" r="0.6"/><circle cx="247.1" cy="371.3" r="0.6"/><circle cx="233.0" cy="372.3" r="0.6"/><circle cx="207.4" cy="380.8" r="0.6"/><circle cx="232.7" cy="391.9" r="0.6"/><circle cx="234.6" cy="357.1" r="0.6"/><circle cx="218.2" cy="368.6" r="0.6"/><circle cx="205.0" cy="367.2" r="0.6"/><circle cx="227.7" cy="385.6" r="0.6"/><circle cx="235.0" cy="392.8" r="0.6"/><circle cx="218.0" cy="372.1" r="0.6"/><circle cx="221.2" cy="389.6" r="0.6"/><circle cx="255.6" cy="383.4" r="0.6"/><circle cx="244.5" cy="379.0" r="0.6"/><circle cx="221.8" cy="376.1" r="0.6"/><circle cx="202.8" cy="369.5" r="0.6"/><circle cx="241.2" cy="355.4" r="0.6"/><circle cx="238.6" cy="369.2" r="0.6"/><circle cx="222.9" cy="382.0" r="0.6"/><circle cx="246.6" cy="358.2" r="0.6"/><circle cx="231.8" cy="401.9" r="0.6"/><circle cx="219.7" cy="382.7" r="0.6"/><circle cx="236.2" cy="367.5" r="0.6"/><circle cx="213.5" cy="391.8" r="0.6"/><circle cx="231.5" cy="364.5" r="0.6"/><circle cx="210.6" cy="382.3" r="0.6"/><circle cx="239.1" cy="367.9" r="0.6"/><circle cx="210.2" cy="375.4" r="0.6"/><circle cx="214.1" cy="383.4" r="0.6"/><circle cx="251.6" cy="370.8" r="0.6"/><circle cx="234.2" cy="386.9" r="0.6"/><circle cx="255.0" cy="351.7" r="0.6"/><circle cx="247.2" cy="377.1" r="0.6"/><circle cx="234.9" cy="386.8" r="0.6"/><circle cx="223.6" cy="380.1" r="0.6"/><circle cx="233.8" cy="390.1" r="0.6"/><circle cx="237.6" cy="382.2" r="0.6"/><circle cx="226.2" cy="382.9" r="0.6"/><circle cx="209.2" cy="380.7" r="0.6"/><circle cx="248.6" cy="369.1" r="0.6"/><circle cx="220.4" cy="375.5" r="0.6"/><circle cx="235.5" cy="375.3" r="0.6"/><circle cx="255.5" cy="359.8" r="0.6"/><circle cx="207.5" cy="383.4" r="0.6"/><circle cx="233.4" cy="371.5" r="0.6"/><circle cx="213.8" cy="379.9" r="0.6"/><circle cx="214.6" cy="377.6" r="0.6"/><circle cx="215.2" cy="398.4" r="0.6"/><circle cx="226.9" cy="374.3" r="0.6"/><circle cx="253.7" cy="358.6" r="0.6"/><circle cx="227.4" cy="372.9" r="0.6"/><circle cx="237.6" cy="386.5" r="0.6"/><circle cx="234.9" cy="391.2" r="0.6"/><circle cx="225.6" cy="372.6" r="0.6"/><circle cx="234.9" cy="379.2" r="0.6"/><circle cx="238.6" cy="359.2" r="0.6"/><circle cx="241.1" cy="382.1" r="0.6"/><circle cx="227.4" cy="364.1" r="0.6"/><circle cx="220.7" cy="387.4" r="0.6"/><circle cx="238.3" cy="384.5" r="0.6"/><circle cx="258.3" cy="369.8" r="0.6"/><circle cx="225.3" cy="386.5" r="0.6"/><circle cx="230.3" cy="355.0" r="0.6"/><circle cx="213.5" cy="378.0" r="0.6"/><circle cx="249.0" cy="402.4" r="0.6"/><circle cx="240.4" cy="382.9" r="0.6"/><circle cx="254.7" cy="388.3" r="0.6"/><circle cx="241.3" cy="377.6" r="0.6"/><circle cx="239.0" cy="394.2" r="0.6"/><circle cx="227.2" cy="378.9" r="0.6"/><circle cx="231.6" cy="376.0" r="0.6"/><circle cx="233.5" cy="395.5" r="0.6"/><circle cx="249.5" cy="347.1" r="0.6"/><circle cx="244.4" cy="373.7" r="0.6"/><circle cx="209.9" cy="378.4" r="0.6"/><circle cx="241.0" cy="372.0" r="0.6"/><circle cx="226.3" cy="385.3" r="0.6"/><circle cx="234.7" cy="401.7" r="0.6"/><circle cx="245.6" cy="369.2" r="0.6"/><circle cx="215.1" cy="395.6" r="0.6"/><circle cx="232.0" cy="361.6" r="0.6"/><circle cx="261.6" cy="353.5" r="0.6"/><circle cx="224.7" cy="356.1" r="0.6"/><circle cx="251.6" cy="372.3" r="0.6"/><circle cx="226.9" cy="392.7" r="0.6"/><circle cx="247.7" cy="371.0" r="0.6"/><circle cx="243.7" cy="362.4" r="0.6"/><circle cx="239.0" cy="367.4" r="0.6"/><circle cx="210.6" cy="378.2" r="0.6"/></g>
<polygon points="203.00,381.40 233.35,376.00 263.70,368.80 263.70,372.00 233.35,377.40 203.00,384.60" fill="#8a8a8a" fill-opacity="0.8"/>
<line x1="203.00" y1="383.00" x2="263.70" y2="370.40" stroke="#303038" stroke-width="1.2"/>
<text x="229.00" y="402.70" font-size="7.6" transform="translate(229.00 402.70) scale(1 1.15) translate(-229.00 -402.70)"><tspan font-style="italic">R</tspan> = 0.36</text>
<text x="229.00" y="412.30" font-size="7.6" transform="translate(229.00 412.30) scale(1 1.15) translate(-229.00 -412.30)"><tspan font-style="italic">P</tspan> < <tspan font-style="italic">2.2</tspan> × 10<tspan font-size="5.3" dy="-3.1">−16</tspan></text>
<line x1="285.00" y1="345.00" x2="285.00" y2="414.20" stroke="#d6d6d6" stroke-width="0.9"/>
<line x1="285.00" y1="414.20" x2="348.50" y2="414.20" stroke="#d6d6d6" stroke-width="0.9"/>
<text x="283.50" y="357.70" font-size="7.6" text-anchor="end" transform="translate(283.50 357.70) scale(1 1.15) translate(-283.50 -357.70)">2</text>
<text x="283.50" y="369.40" font-size="7.6" text-anchor="end" transform="translate(283.50 369.40) scale(1 1.15) translate(-283.50 -369.40)">1</text>
<text x="283.50" y="380.40" font-size="7.6" text-anchor="end" transform="translate(283.50 380.40) scale(1 1.15) translate(-283.50 -380.40)">0</text>
<text x="283.50" y="392.90" font-size="7.6" text-anchor="end" transform="translate(283.50 392.90) scale(1 1.15) translate(-283.50 -392.90)">−1</text>
<text x="283.50" y="405.40" font-size="7.6" text-anchor="end" transform="translate(283.50 405.40) scale(1 1.15) translate(-283.50 -405.40)">−2</text>
<text x="283.50" y="416.90" font-size="7.6" text-anchor="end" transform="translate(283.50 416.90) scale(1 1.15) translate(-283.50 -416.90)">−3</text>
<text x="301.30" y="421.00" font-size="7.6" text-anchor="middle" transform="translate(301.30 421.00) scale(1 1.15) translate(-301.30 -421.00)">−0.4</text>
<text x="317.70" y="421.00" font-size="7.6" text-anchor="middle" transform="translate(317.70 421.00) scale(1 1.15) translate(-317.70 -421.00)">0</text>
<text x="338.80" y="421.00" font-size="7.6" text-anchor="middle" transform="translate(338.80 421.00) scale(1 1.15) translate(-338.80 -421.00)">0.4</text>
<text x="303.80" y="347.90" font-size="9.6" transform="translate(303.80 347.90) scale(1 1.15) translate(-303.80 -347.90)">mCRPC</text>
<g fill="#b5283a" fill-opacity="0.5"><circle cx="307.2" cy="382.4" r="0.6"/><circle cx="335.0" cy="372.6" r="0.6"/><circle cx="313.8" cy="383.2" r="0.6"/><circle cx="311.1" cy="372.1" r="0.6"/><circle cx="342.5" cy="353.0" r="0.6"/><circle cx="307.5" cy="369.7" r="0.6"/><circle cx="297.8" cy="370.7" r="0.6"/><circle cx="322.4" cy="382.1" r="0.6"/><circle cx="340.7" cy="353.7" r="0.6"/><circle cx="296.5" cy="384.3" r="0.6"/><circle cx="329.1" cy="394.0" r="0.6"/><circle cx="299.4" cy="366.2" r="0.6"/><circle cx="287.5" cy="356.7" r="0.6"/><circle cx="327.7" cy="386.4" r="0.6"/><circle cx="309.2" cy="384.7" r="0.6"/><circle cx="311.3" cy="376.4" r="0.6"/><circle cx="319.5" cy="390.8" r="0.6"/><circle cx="329.5" cy="364.2" r="0.6"/><circle cx="298.9" cy="382.0" r="0.6"/><circle cx="300.4" cy="370.4" r="0.6"/><circle cx="346.8" cy="354.5" r="0.6"/><circle cx="325.0" cy="363.0" r="0.6"/><circle cx="319.4" cy="364.0" r="0.6"/><circle cx="304.7" cy="369.6" r="0.6"/><circle cx="306.2" cy="396.6" r="0.6"/><circle cx="310.0" cy="408.8" r="0.6"/><circle cx="319.4" cy="382.2" r="0.6"/><circle cx="332.5" cy="379.2" r="0.6"/><circle cx="324.3" cy="375.4" r="0.6"/><circle cx="328.8" cy="377.6" r="0.6"/><circle cx="302.9" cy="382.1" r="0.6"/><circle cx="318.3" cy="384.7" r="0.6"/><circle cx="335.3" cy="360.7" r="0.6"/><circle cx="332.7" cy="353.8" r="0.6"/><circle cx="318.0" cy="363.5" r="0.6"/><circle cx="340.8" cy="366.1" r="0.6"/><circle cx="329.8" cy="381.3" r="0.6"/><circle cx="336.3" cy="365.2" r="0.6"/><circle cx="297.7" cy="379.8" r="0.6"/><circle cx="293.2" cy="404.3" r="0.6"/><circle cx="322.5" cy="382.0" r="0.6"/><circle cx="306.5" cy="397.0" r="0.6"/><circle cx="338.6" cy="371.5" r="0.6"/><circle cx="324.3" cy="363.1" r="0.6"/><circle cx="331.4" cy="354.0" r="0.6"/><circle cx="331.8" cy="378.4" r="0.6"/><circle cx="297.6" cy="391.4" r="0.6"/><circle cx="293.1" cy="360.8" r="0.6"/><circle cx="319.9" cy="391.1" r="0.6"/><circle cx="307.7" cy="375.6" r="0.6"/><circle cx="303.3" cy="404.5" r="0.6"/><circle cx="321.2" cy="390.1" r="0.6"/><circle cx="332.8" cy="356.4" r="0.6"/><circle cx="326.2" cy="381.2" r="0.6"/><circle cx="326.7" cy="372.1" r="0.6"/><circle cx="333.6" cy="372.3" r="0.6"/><circle cx="320.4" cy="383.2" r="0.6"/><circle cx="316.7" cy="379.1" r="0.6"/><circle cx="342.3" cy="368.5" r="0.6"/><circle cx="293.5" cy="393.1" r="0.6"/><circle cx="288.8" cy="396.2" r="0.6"/><circle cx="327.2" cy="373.8" r="0.6"/><circle cx="296.6" cy="361.8" r="0.6"/><circle cx="333.6" cy="383.6" r="0.6"/><circle cx="325.0" cy="363.8" r="0.6"/><circle cx="286.7" cy="378.1" r="0.6"/><circle cx="329.9" cy="355.5" r="0.6"/><circle cx="306.3" cy="355.4" r="0.6"/><circle cx="309.5" cy="382.1" r="0.6"/><circle cx="318.0" cy="350.8" r="0.6"/><circle cx="314.3" cy="383.1" r="0.6"/><circle cx="340.3" cy="356.0" r="0.6"/><circle cx="344.3" cy="373.0" r="0.6"/><circle cx="328.3" cy="396.6" r="0.6"/><circle cx="324.7" cy="376.4" r="0.6"/><circle cx="318.4" cy="386.7" r="0.6"/><circle cx="328.0" cy="389.1" r="0.6"/><circle cx="321.3" cy="370.2" r="0.6"/><circle cx="310.0" cy="349.7" r="0.6"/><circle cx="327.7" cy="379.8" r="0.6"/><circle cx="329.5" cy="375.6" r="0.6"/><circle cx="286.7" cy="382.2" r="0.6"/><circle cx="310.9" cy="387.1" r="0.6"/><circle cx="345.0" cy="365.1" r="0.6"/><circle cx="309.1" cy="380.5" r="0.6"/><circle cx="312.5" cy="371.2" r="0.6"/><circle cx="327.7" cy="370.3" r="0.6"/><circle cx="339.4" cy="362.6" r="0.6"/><circle cx="314.5" cy="376.6" r="0.6"/><circle cx="330.0" cy="382.3" r="0.6"/><circle cx="323.8" cy="374.0" r="0.6"/><circle cx="296.5" cy="381.6" r="0.6"/><circle cx="298.1" cy="378.5" r="0.6"/><circle cx="291.4" cy="384.2" r="0.6"/><circle cx="310.4" cy="373.6" r="0.6"/><circle cx="347.3" cy="368.5" r="0.6"/><circle cx="330.0" cy="356.1" r="0.6"/><circle cx="317.8" cy="396.8" r="0.6"/><circle cx="332.2" cy="365.1" r="0.6"/><circle cx="323.5" cy="377.0" r="0.6"/><circle cx="312.2" cy="375.7" r="0.6"/><circle cx="335.1" cy="381.8" r="0.6"/><circle cx="327.8" cy="360.3" r="0.6"/><circle cx="310.7" cy="377.7" r="0.6"/><circle cx="328.0" cy="398.5" r="0.6"/><circle cx="323.8" cy="389.2" r="0.6"/><circle cx="314.2" cy="371.7" r="0.6"/><circle cx="330.6" cy="388.1" r="0.6"/><circle cx="332.0" cy="385.5" r="0.6"/><circle cx="311.3" cy="379.1" r="0.6"/><circle cx="319.8" cy="376.0" r="0.6"/><circle cx="321.5" cy="373.0" r="0.6"/><circle cx="320.5" cy="362.3" r="0.6"/><circle cx="318.3" cy="373.5" r="0.6"/><circle cx="342.1" cy="367.1" r="0.6"/><circle cx="344.9" cy="386.1" r="0.6"/><circle cx="303.0" cy="394.9" r="0.6"/><circle cx="288.1" cy="373.0" r="0.6"/><circle cx="332.3" cy="370.8" r="0.6"/><circle cx="301.7" cy="376.3" r="0.6"/><circle cx="323.7" cy="373.6" r="0.6"/><circle cx="307.8" cy="380.9" r="0.6"/><circle cx="333.7" cy="367.2" r="0.6"/><circle cx="295.2" cy="365.6" r="0.6"/><circle cx="331.6" cy="366.7" r="0.6"/><circle cx="304.6" cy="365.1" r="0.6"/><circle cx="293.9" cy="402.5" r="0.6"/><circle cx="302.4" cy="380.9" r="0.6"/><circle cx="330.1" cy="377.7" r="0.6"/><circle cx="321.7" cy="391.5" r="0.6"/><circle cx="332.3" cy="361.1" r="0.6"/><circle cx="295.5" cy="401.9" r="0.6"/><circle cx="328.5" cy="384.3" r="0.6"/><circle cx="307.9" cy="384.7" r="0.6"/><circle cx="330.6" cy="365.1" r="0.6"/><circle cx="326.8" cy="374.6" r="0.6"/><circle cx="320.6" cy="367.9" r="0.6"/><circle cx="334.3" cy="361.4" r="0.6"/><circle cx="289.3" cy="382.1" r="0.6"/><circle cx="306.9" cy="378.4" r="0.6"/><circle cx="311.2" cy="357.2" r="0.6"/><circle cx="321.3" cy="388.2" r="0.6"/><circle cx="333.9" cy="390.4" r="0.6"/><circle cx="295.0" cy="377.2" r="0.6"/><circle cx="340.0" cy="370.0" r="0.6"/><circle cx="330.9" cy="351.6" r="0.6"/><circle cx="289.9" cy="382.2" r="0.6"/><circle cx="334.6" cy="352.6" r="0.6"/><circle cx="299.3" cy="390.2" r="0.6"/><circle cx="309.1" cy="370.7" r="0.6"/><circle cx="286.6" cy="364.7" r="0.6"/><circle cx="319.0" cy="367.1" r="0.6"/><circle cx="318.7" cy="363.6" r="0.6"/><circle cx="345.4" cy="371.6" r="0.6"/><circle cx="306.3" cy="394.3" r="0.6"/><circle cx="311.7" cy="363.5" r="0.6"/><circle cx="322.1" cy="360.6" r="0.6"/><circle cx="308.9" cy="373.0" r="0.6"/><circle cx="308.1" cy="360.7" r="0.6"/><circle cx="289.4" cy="394.9" r="0.6"/><circle cx="341.8" cy="358.7" r="0.6"/><circle cx="291.1" cy="382.8" r="0.6"/><circle cx="337.9" cy="361.4" r="0.6"/><circle cx="289.9" cy="386.2" r="0.6"/><circle cx="321.7" cy="365.4" r="0.6"/><circle cx="316.8" cy="389.2" r="0.6"/><circle cx="290.2" cy="381.5" r="0.6"/><circle cx="330.6" cy="366.0" r="0.6"/><circle cx="306.9" cy="404.1" r="0.6"/><circle cx="335.4" cy="379.6" r="0.6"/><circle cx="332.2" cy="360.9" r="0.6"/><circle cx="337.3" cy="357.8" r="0.6"/><circle cx="334.0" cy="368.3" r="0.6"/><circle cx="295.6" cy="379.3" r="0.6"/><circle cx="343.2" cy="385.4" r="0.6"/><circle cx="299.9" cy="391.1" r="0.6"/><circle cx="331.2" cy="376.0" r="0.6"/><circle cx="328.6" cy="400.5" r="0.6"/><circle cx="338.5" cy="369.6" r="0.6"/><circle cx="295.1" cy="365.7" r="0.6"/><circle cx="343.7" cy="362.3" r="0.6"/><circle cx="300.5" cy="390.5" r="0.6"/><circle cx="335.3" cy="354.0" r="0.6"/><circle cx="335.0" cy="369.0" r="0.6"/><circle cx="342.5" cy="379.2" r="0.6"/><circle cx="304.9" cy="380.3" r="0.6"/><circle cx="333.1" cy="398.0" r="0.6"/><circle cx="317.3" cy="374.2" r="0.6"/><circle cx="296.0" cy="376.8" r="0.6"/><circle cx="331.6" cy="383.6" r="0.6"/><circle cx="313.9" cy="386.9" r="0.6"/><circle cx="305.6" cy="397.5" r="0.6"/><circle cx="336.0" cy="365.4" r="0.6"/><circle cx="328.9" cy="361.4" r="0.6"/><circle cx="289.6" cy="405.4" r="0.6"/><circle cx="289.8" cy="367.2" r="0.6"/><circle cx="292.2" cy="363.6" r="0.6"/><circle cx="299.0" cy="384.6" r="0.6"/><circle cx="316.8" cy="365.5" r="0.6"/><circle cx="316.3" cy="384.5" r="0.6"/><circle cx="303.0" cy="399.3" r="0.6"/><circle cx="314.7" cy="390.9" r="0.6"/><circle cx="303.4" cy="407.3" r="0.6"/><circle cx="344.7" cy="363.9" r="0.6"/><circle cx="337.3" cy="379.5" r="0.6"/><circle cx="315.8" cy="384.3" r="0.6"/><circle cx="333.3" cy="360.9" r="0.6"/><circle cx="344.1" cy="365.0" r="0.6"/><circle cx="302.2" cy="380.9" r="0.6"/><circle cx="309.7" cy="376.2" r="0.6"/><circle cx="288.9" cy="361.5" r="0.6"/><circle cx="328.5" cy="384.7" r="0.6"/><circle cx="325.2" cy="373.6" r="0.6"/><circle cx="320.8" cy="366.8" r="0.6"/><circle cx="339.5" cy="351.9" r="0.6"/><circle cx="322.1" cy="376.8" r="0.6"/><circle cx="288.1" cy="378.3" r="0.6"/><circle cx="311.5" cy="393.3" r="0.6"/><circle cx="308.3" cy="377.4" r="0.6"/><circle cx="342.1" cy="358.6" r="0.6"/><circle cx="313.7" cy="405.6" r="0.6"/><circle cx="306.5" cy="366.4" r="0.6"/><circle cx="306.4" cy="373.6" r="0.6"/><circle cx="338.9" cy="399.0" r="0.6"/><circle cx="344.1" cy="374.0" r="0.6"/><circle cx="345.9" cy="368.0" r="0.6"/><circle cx="312.9" cy="366.4" r="0.6"/><circle cx="343.8" cy="350.1" r="0.6"/><circle cx="327.8" cy="368.8" r="0.6"/><circle cx="318.4" cy="382.5" r="0.6"/><circle cx="335.6" cy="377.8" r="0.6"/><circle cx="347.4" cy="351.0" r="0.6"/><circle cx="335.8" cy="375.9" r="0.6"/><circle cx="316.1" cy="385.8" r="0.6"/><circle cx="321.9" cy="367.3" r="0.6"/><circle cx="313.2" cy="370.3" r="0.6"/><circle cx="316.1" cy="401.5" r="0.6"/><circle cx="323.2" cy="375.5" r="0.6"/><circle cx="341.2" cy="355.7" r="0.6"/><circle cx="318.8" cy="377.3" r="0.6"/><circle cx="310.8" cy="363.0" r="0.6"/><circle cx="330.5" cy="367.2" r="0.6"/><circle cx="330.6" cy="356.9" r="0.6"/><circle cx="290.4" cy="389.6" r="0.6"/><circle cx="338.5" cy="379.1" r="0.6"/><circle cx="330.2" cy="378.6" r="0.6"/><circle cx="304.2" cy="385.2" r="0.6"/><circle cx="324.1" cy="371.4" r="0.6"/><circle cx="332.1" cy="348.0" r="0.6"/><circle cx="314.7" cy="386.4" r="0.6"/><circle cx="321.5" cy="361.7" r="0.6"/><circle cx="325.3" cy="374.4" r="0.6"/><circle cx="318.8" cy="386.3" r="0.6"/><circle cx="315.8" cy="369.0" r="0.6"/><circle cx="338.2" cy="371.0" r="0.6"/><circle cx="298.3" cy="389.4" r="0.6"/><circle cx="305.4" cy="393.6" r="0.6"/><circle cx="315.6" cy="369.4" r="0.6"/><circle cx="313.1" cy="384.1" r="0.6"/><circle cx="317.2" cy="370.8" r="0.6"/><circle cx="324.7" cy="372.7" r="0.6"/><circle cx="340.4" cy="381.3" r="0.6"/><circle cx="313.1" cy="390.2" r="0.6"/><circle cx="296.9" cy="386.6" r="0.6"/><circle cx="312.3" cy="368.3" r="0.6"/><circle cx="336.1" cy="384.3" r="0.6"/><circle cx="322.2" cy="383.2" r="0.6"/><circle cx="309.9" cy="368.7" r="0.6"/><circle cx="309.9" cy="374.2" r="0.6"/><circle cx="295.8" cy="387.5" r="0.6"/><circle cx="321.7" cy="365.4" r="0.6"/><circle cx="322.7" cy="370.6" r="0.6"/><circle cx="332.1" cy="383.0" r="0.6"/><circle cx="308.1" cy="369.9" r="0.6"/><circle cx="310.1" cy="355.6" r="0.6"/><circle cx="288.7" cy="377.4" r="0.6"/><circle cx="305.6" cy="376.3" r="0.6"/><circle cx="297.1" cy="391.3" r="0.6"/><circle cx="311.5" cy="383.4" r="0.6"/><circle cx="321.8" cy="384.0" r="0.6"/><circle cx="305.1" cy="384.0" r="0.6"/><circle cx="347.6" cy="358.0" r="0.6"/><circle cx="323.9" cy="383.9" r="0.6"/><circle cx="289.6" cy="390.3" r="0.6"/><circle cx="323.1" cy="366.8" r="0.6"/><circle cx="341.7" cy="359.9" r="0.6"/><circle cx="314.5" cy="390.4" r="0.6"/><circle cx="325.1" cy="370.7" r="0.6"/><circle cx="290.5" cy="386.4" r="0.6"/></g>
<polygon points="287.00,385.10 317.25,376.70 347.50,365.10 347.50,370.30 317.25,378.70 287.00,390.30" fill="#8a8a8a" fill-opacity="0.8"/>
<line x1="287.00" y1="387.70" x2="347.50" y2="367.70" stroke="#3c3c3c" stroke-width="1.2"/>
<text x="324.40" y="402.20" font-size="7.6" transform="translate(324.40 402.20) scale(1 1.15) translate(-324.40 -402.20)"><tspan font-style="italic">R</tspan> = 0.49</text>
<text x="324.40" y="411.90" font-size="7.6" transform="translate(324.40 411.90) scale(1 1.15) translate(-324.40 -411.90)"><tspan font-style="italic">P</tspan> < <tspan font-style="italic">2.2</tspan> × 10<tspan font-size="5.3" dy="-3.1">−16</tspan></text>
<line x1="26.00" y1="450.00" x2="26.00" y2="520.00" stroke="#d6d6d6" stroke-width="0.9"/>
<line x1="26.00" y1="520.00" x2="90.40" y2="520.00" stroke="#d6d6d6" stroke-width="0.9"/>
<text x="24.50" y="468.90" font-size="7.6" text-anchor="end" transform="translate(24.50 468.90) scale(1 1.15) translate(-24.50 -468.90)">2</text>
<text x="24.50" y="488.10" font-size="7.6" text-anchor="end" transform="translate(24.50 488.10) scale(1 1.15) translate(-24.50 -488.10)">0</text>
<text x="24.50" y="507.30" font-size="7.6" text-anchor="end" transform="translate(24.50 507.30) scale(1 1.15) translate(-24.50 -507.30)">−2</text>
<text x="37.50" y="527.30" font-size="7.6" text-anchor="middle" transform="translate(37.50 527.30) scale(1 1.15) translate(-37.50 -527.30)">−0.5</text>
<text x="57.70" y="527.30" font-size="7.6" text-anchor="middle" transform="translate(57.70 527.30) scale(1 1.15) translate(-57.70 -527.30)">0</text>
<text x="78.80" y="527.30" font-size="7.6" text-anchor="middle" transform="translate(78.80 527.30) scale(1 1.15) translate(-78.80 -527.30)">0.5</text>
<text x="47.70" y="452.70" font-size="9.6" transform="translate(47.70 452.70) scale(1 1.15) translate(-47.70 -452.70)">Primary</text>
<text x="14.20" y="486.40" font-size="9.6" text-anchor="middle" transform="rotate(-90 14.20 486.40) translate(14.20 486.40) scale(1 1.15) translate(-14.20 -486.40)">KDM1A</text>
<g fill="#2f3a9a" fill-opacity="0.6"><circle cx="72.9" cy="473.2" r="0.6"/><circle cx="76.1" cy="477.0" r="0.6"/><circle cx="53.3" cy="489.2" r="0.6"/><circle cx="59.5" cy="476.2" r="0.6"/><circle cx="52.1" cy="489.1" r="0.6"/><circle cx="42.4" cy="499.0" r="0.6"/><circle cx="72.1" cy="473.9" r="0.6"/><circle cx="69.4" cy="468.4" r="0.6"/><circle cx="84.5" cy="500.9" r="0.6"/><circle cx="35.9" cy="483.5" r="0.6"/><circle cx="32.9" cy="471.7" r="0.6"/><circle cx="31.5" cy="502.6" r="0.6"/><circle cx="46.3" cy="476.5" r="0.6"/><circle cx="67.6" cy="485.0" r="0.6"/><circle cx="66.4" cy="486.0" r="0.6"/><circle cx="85.5" cy="475.4" r="0.6"/><circle cx="61.9" cy="488.2" r="0.6"/><circle cx="45.6" cy="500.9" r="0.6"/><circle cx="39.6" cy="499.8" r="0.6"/><circle cx="72.4" cy="489.2" r="0.6"/><circle cx="57.1" cy="493.1" r="0.6"/><circle cx="49.6" cy="491.2" r="0.6"/><circle cx="47.2" cy="485.0" r="0.6"/><circle cx="51.3" cy="490.9" r="0.6"/><circle cx="70.3" cy="475.2" r="0.6"/><circle cx="38.8" cy="508.0" r="0.6"/><circle cx="66.2" cy="496.5" r="0.6"/><circle cx="74.5" cy="470.3" r="0.6"/><circle cx="72.5" cy="468.6" r="0.6"/><circle cx="71.5" cy="481.0" r="0.6"/><circle cx="61.2" cy="467.5" r="0.6"/><circle cx="59.5" cy="466.0" r="0.6"/><circle cx="50.9" cy="489.4" r="0.6"/><circle cx="39.9" cy="502.8" r="0.6"/><circle cx="58.7" cy="487.3" r="0.6"/><circle cx="89.4" cy="481.5" r="0.6"/><circle cx="31.3" cy="508.4" r="0.6"/><circle cx="44.7" cy="504.3" r="0.6"/><circle cx="36.8" cy="488.4" r="0.6"/><circle cx="65.4" cy="474.9" r="0.6"/><circle cx="63.3" cy="484.4" r="0.6"/><circle cx="61.5" cy="494.4" r="0.6"/><circle cx="38.3" cy="496.1" r="0.6"/><circle cx="71.5" cy="480.2" r="0.6"/><circle cx="37.3" cy="466.2" r="0.6"/><circle cx="80.9" cy="469.3" r="0.6"/><circle cx="38.2" cy="477.1" r="0.6"/><circle cx="75.0" cy="468.5" r="0.6"/><circle cx="55.9" cy="465.8" r="0.6"/><circle cx="50.8" cy="478.0" r="0.6"/><circle cx="39.0" cy="494.8" r="0.6"/><circle cx="58.0" cy="493.9" r="0.6"/><circle cx="73.0" cy="469.2" r="0.6"/><circle cx="58.3" cy="490.3" r="0.6"/><circle cx="36.7" cy="507.4" r="0.6"/><circle cx="72.8" cy="469.1" r="0.6"/><circle cx="64.8" cy="472.5" r="0.6"/><circle cx="66.9" cy="482.0" r="0.6"/><circle cx="55.9" cy="471.4" r="0.6"/><circle cx="44.1" cy="486.4" r="0.6"/><circle cx="42.7" cy="496.9" r="0.6"/><circle cx="54.4" cy="480.4" r="0.6"/><circle cx="82.1" cy="480.0" r="0.6"/><circle cx="47.1" cy="486.7" r="0.6"/><circle cx="68.8" cy="503.2" r="0.6"/><circle cx="73.6" cy="478.5" r="0.6"/><circle cx="27.8" cy="480.1" r="0.6"/><circle cx="69.3" cy="483.7" r="0.6"/><circle cx="65.0" cy="482.7" r="0.6"/><circle cx="71.0" cy="485.1" r="0.6"/><circle cx="73.9" cy="509.5" r="0.6"/><circle cx="38.4" cy="489.1" r="0.6"/><circle cx="47.7" cy="496.6" r="0.6"/><circle cx="40.6" cy="481.7" r="0.6"/><circle cx="40.3" cy="488.3" r="0.6"/><circle cx="74.5" cy="467.4" r="0.6"/><circle cx="68.1" cy="471.8" r="0.6"/><circle cx="78.5" cy="486.8" r="0.6"/><circle cx="50.0" cy="491.3" r="0.6"/><circle cx="48.3" cy="493.6" r="0.6"/><circle cx="86.3" cy="461.5" r="0.6"/><circle cx="46.8" cy="490.4" r="0.6"/><circle cx="72.9" cy="457.4" r="0.6"/><circle cx="52.6" cy="474.2" r="0.6"/><circle cx="80.5" cy="488.4" r="0.6"/><circle cx="74.1" cy="484.6" r="0.6"/><circle cx="65.3" cy="484.8" r="0.6"/><circle cx="86.0" cy="474.5" r="0.6"/><circle cx="50.0" cy="484.4" r="0.6"/><circle cx="70.8" cy="505.8" r="0.6"/><circle cx="55.2" cy="476.8" r="0.6"/><circle cx="55.6" cy="479.5" r="0.6"/><circle cx="65.4" cy="474.4" r="0.6"/><circle cx="58.4" cy="484.8" r="0.6"/><circle cx="47.2" cy="489.8" r="0.6"/><circle cx="50.6" cy="460.2" r="0.6"/><circle cx="47.5" cy="498.3" r="0.6"/><circle cx="60.4" cy="476.8" r="0.6"/><circle cx="63.5" cy="480.7" r="0.6"/><circle cx="80.2" cy="490.5" r="0.6"/><circle cx="60.4" cy="514.5" r="0.6"/><circle cx="29.1" cy="480.7" r="0.6"/><circle cx="31.2" cy="487.7" r="0.6"/><circle cx="47.4" cy="470.6" r="0.6"/><circle cx="87.8" cy="466.4" r="0.6"/><circle cx="82.7" cy="484.1" r="0.6"/><circle cx="78.8" cy="490.7" r="0.6"/><circle cx="42.3" cy="487.6" r="0.6"/><circle cx="46.6" cy="492.3" r="0.6"/><circle cx="60.6" cy="463.1" r="0.6"/><circle cx="58.6" cy="484.2" r="0.6"/><circle cx="79.5" cy="483.7" r="0.6"/><circle cx="68.4" cy="492.1" r="0.6"/><circle cx="56.4" cy="474.3" r="0.6"/><circle cx="50.7" cy="480.2" r="0.6"/><circle cx="51.3" cy="476.9" r="0.6"/><circle cx="34.3" cy="480.5" r="0.6"/><circle cx="41.5" cy="487.2" r="0.6"/><circle cx="28.3" cy="506.6" r="0.6"/><circle cx="58.6" cy="497.1" r="0.6"/><circle cx="73.5" cy="476.9" r="0.6"/><circle cx="61.4" cy="476.6" r="0.6"/><circle cx="67.6" cy="470.0" r="0.6"/><circle cx="72.4" cy="464.3" r="0.6"/><circle cx="68.3" cy="482.8" r="0.6"/><circle cx="81.8" cy="473.3" r="0.6"/><circle cx="71.0" cy="477.0" r="0.6"/><circle cx="28.7" cy="486.7" r="0.6"/><circle cx="71.2" cy="484.8" r="0.6"/><circle cx="50.0" cy="464.7" r="0.6"/><circle cx="76.8" cy="502.0" r="0.6"/><circle cx="59.3" cy="484.3" r="0.6"/><circle cx="49.8" cy="491.1" r="0.6"/><circle cx="57.2" cy="471.5" r="0.6"/><circle cx="41.7" cy="474.9" r="0.6"/><circle cx="68.2" cy="477.3" r="0.6"/><circle cx="67.7" cy="470.1" r="0.6"/><circle cx="64.8" cy="481.4" r="0.6"/><circle cx="58.3" cy="473.3" r="0.6"/><circle cx="48.6" cy="505.6" r="0.6"/><circle cx="49.8" cy="472.4" r="0.6"/><circle cx="68.2" cy="508.0" r="0.6"/><circle cx="33.0" cy="496.0" r="0.6"/><circle cx="62.2" cy="470.6" r="0.6"/><circle cx="55.2" cy="472.0" r="0.6"/><circle cx="72.3" cy="499.6" r="0.6"/><circle cx="58.5" cy="480.1" r="0.6"/><circle cx="66.0" cy="481.9" r="0.6"/><circle cx="49.8" cy="473.0" r="0.6"/><circle cx="65.4" cy="492.7" r="0.6"/><circle cx="79.8" cy="469.9" r="0.6"/><circle cx="45.2" cy="500.2" r="0.6"/><circle cx="76.9" cy="455.5" r="0.6"/><circle cx="82.1" cy="458.5" r="0.6"/><circle cx="53.2" cy="466.6" r="0.6"/><circle cx="58.9" cy="483.8" r="0.6"/><circle cx="46.5" cy="495.6" r="0.6"/><circle cx="72.7" cy="492.8" r="0.6"/><circle cx="30.8" cy="480.3" r="0.6"/><circle cx="57.4" cy="488.4" r="0.6"/><circle cx="72.3" cy="502.3" r="0.6"/><circle cx="68.6" cy="491.7" r="0.6"/><circle cx="56.9" cy="489.4" r="0.6"/><circle cx="73.1" cy="504.7" r="0.6"/><circle cx="47.4" cy="478.6" r="0.6"/><circle cx="87.9" cy="471.4" r="0.6"/><circle cx="68.0" cy="472.5" r="0.6"/><circle cx="68.8" cy="456.3" r="0.6"/><circle cx="47.1" cy="478.0" r="0.6"/><circle cx="79.5" cy="481.7" r="0.6"/><circle cx="56.2" cy="485.2" r="0.6"/><circle cx="29.5" cy="488.8" r="0.6"/><circle cx="38.0" cy="497.1" r="0.6"/><circle cx="71.4" cy="507.6" r="0.6"/><circle cx="90.0" cy="471.6" r="0.6"/><circle cx="64.5" cy="486.1" r="0.6"/><circle cx="65.5" cy="490.9" r="0.6"/><circle cx="80.6" cy="483.9" r="0.6"/><circle cx="48.8" cy="483.6" r="0.6"/><circle cx="34.0" cy="478.2" r="0.6"/><circle cx="56.0" cy="469.8" r="0.6"/><circle cx="33.5" cy="494.5" r="0.6"/><circle cx="77.9" cy="487.7" r="0.6"/><circle cx="72.1" cy="476.0" r="0.6"/><circle cx="51.8" cy="492.4" r="0.6"/><circle cx="78.6" cy="493.9" r="0.6"/><circle cx="58.4" cy="482.4" r="0.6"/><circle cx="76.7" cy="466.9" r="0.6"/><circle cx="61.1" cy="475.2" r="0.6"/><circle cx="79.3" cy="484.3" r="0.6"/><circle cx="43.1" cy="496.6" r="0.6"/><circle cx="79.6" cy="473.8" r="0.6"/><circle cx="60.1" cy="490.1" r="0.6"/><circle cx="64.6" cy="507.7" r="0.6"/><circle cx="59.6" cy="466.3" r="0.6"/><circle cx="74.4" cy="491.1" r="0.6"/><circle cx="67.6" cy="470.0" r="0.6"/><circle cx="66.8" cy="491.0" r="0.6"/><circle cx="33.9" cy="485.0" r="0.6"/><circle cx="86.4" cy="487.5" r="0.6"/><circle cx="69.7" cy="482.4" r="0.6"/><circle cx="86.2" cy="487.1" r="0.6"/><circle cx="76.7" cy="472.6" r="0.6"/><circle cx="55.1" cy="491.1" r="0.6"/><circle cx="43.1" cy="502.4" r="0.6"/><circle cx="53.3" cy="481.3" r="0.6"/><circle cx="61.5" cy="485.0" r="0.6"/><circle cx="53.6" cy="489.5" r="0.6"/><circle cx="49.3" cy="486.6" r="0.6"/><circle cx="63.1" cy="480.4" r="0.6"/><circle cx="51.7" cy="462.2" r="0.6"/><circle cx="46.0" cy="495.9" r="0.6"/><circle cx="71.1" cy="472.9" r="0.6"/><circle cx="72.1" cy="484.1" r="0.6"/><circle cx="62.3" cy="470.4" r="0.6"/><circle cx="45.1" cy="461.1" r="0.6"/><circle cx="66.7" cy="494.6" r="0.6"/><circle cx="48.7" cy="494.2" r="0.6"/><circle cx="77.2" cy="459.4" r="0.6"/><circle cx="56.5" cy="461.3" r="0.6"/><circle cx="37.5" cy="478.8" r="0.6"/><circle cx="62.7" cy="495.6" r="0.6"/><circle cx="55.4" cy="491.9" r="0.6"/><circle cx="50.0" cy="466.2" r="0.6"/><circle cx="37.8" cy="481.4" r="0.6"/><circle cx="55.4" cy="491.5" r="0.6"/><circle cx="82.4" cy="456.6" r="0.6"/><circle cx="54.4" cy="486.9" r="0.6"/><circle cx="44.0" cy="483.9" r="0.6"/><circle cx="75.5" cy="475.1" r="0.6"/><circle cx="59.1" cy="479.9" r="0.6"/><circle cx="30.8" cy="495.3" r="0.6"/><circle cx="80.5" cy="500.9" r="0.6"/><circle cx="41.7" cy="485.2" r="0.6"/><circle cx="76.2" cy="455.0" r="0.6"/><circle cx="64.9" cy="487.1" r="0.6"/><circle cx="35.9" cy="484.5" r="0.6"/><circle cx="76.2" cy="470.0" r="0.6"/><circle cx="57.6" cy="490.2" r="0.6"/><circle cx="71.0" cy="485.8" r="0.6"/><circle cx="76.1" cy="492.3" r="0.6"/><circle cx="56.7" cy="481.5" r="0.6"/><circle cx="70.2" cy="480.2" r="0.6"/><circle cx="42.6" cy="491.4" r="0.6"/><circle cx="45.3" cy="479.7" r="0.6"/><circle cx="72.2" cy="485.1" r="0.6"/><circle cx="87.5" cy="458.7" r="0.6"/><circle cx="27.6" cy="493.6" r="0.6"/><circle cx="77.8" cy="457.0" r="0.6"/><circle cx="51.3" cy="487.1" r="0.6"/><circle cx="80.6" cy="486.3" r="0.6"/><circle cx="87.9" cy="500.5" r="0.6"/><circle cx="46.9" cy="480.4" r="0.6"/><circle cx="79.2" cy="501.9" r="0.6"/><circle cx="32.2" cy="475.9" r="0.6"/><circle cx="52.8" cy="478.2" r="0.6"/><circle cx="41.7" cy="495.4" r="0.6"/><circle cx="82.2" cy="483.6" r="0.6"/><circle cx="68.7" cy="465.8" r="0.6"/><circle cx="49.1" cy="495.1" r="0.6"/><circle cx="52.6" cy="469.8" r="0.6"/><circle cx="40.7" cy="500.7" r="0.6"/><circle cx="43.1" cy="467.6" r="0.6"/><circle cx="55.3" cy="485.2" r="0.6"/><circle cx="68.6" cy="460.6" r="0.6"/><circle cx="31.0" cy="488.5" r="0.6"/><circle cx="51.2" cy="490.6" r="0.6"/><circle cx="75.4" cy="468.4" r="0.6"/><circle cx="35.8" cy="485.6" r="0.6"/><circle cx="66.6" cy="474.2" r="0.6"/><circle cx="61.3" cy="489.6" r="0.6"/><circle cx="64.5" cy="495.1" r="0.6"/><circle cx="61.1" cy="478.9" r="0.6"/><circle cx="69.1" cy="480.0" r="0.6"/><circle cx="50.4" cy="467.7" r="0.6"/><circle cx="58.9" cy="476.8" r="0.6"/><circle cx="47.7" cy="463.9" r="0.6"/><circle cx="40.6" cy="510.7" r="0.6"/><circle cx="53.5" cy="464.0" r="0.6"/><circle cx="57.8" cy="475.4" r="0.6"/><circle cx="40.8" cy="485.7" r="0.6"/><circle cx="29.8" cy="480.8" r="0.6"/><circle cx="48.5" cy="462.0" r="0.6"/><circle cx="71.0" cy="479.2" r="0.6"/><circle cx="73.4" cy="481.5" r="0.6"/><circle cx="80.6" cy="493.1" r="0.6"/><circle cx="28.0" cy="485.5" r="0.6"/><circle cx="47.0" cy="489.8" r="0.6"/><circle cx="73.3" cy="475.3" r="0.6"/><circle cx="50.7" cy="488.3" r="0.6"/><circle cx="52.0" cy="469.4" r="0.6"/><circle cx="55.8" cy="494.2" r="0.6"/><circle cx="68.9" cy="481.9" r="0.6"/><circle cx="44.9" cy="491.9" r="0.6"/><circle cx="55.3" cy="474.5" r="0.6"/><circle cx="67.5" cy="490.0" r="0.6"/><circle cx="58.4" cy="489.5" r="0.6"/><circle cx="29.5" cy="513.6" r="0.6"/><circle cx="88.8" cy="491.0" r="0.6"/><circle cx="70.5" cy="477.8" r="0.6"/><circle cx="40.4" cy="501.2" r="0.6"/><circle cx="46.2" cy="475.3" r="0.6"/><circle cx="51.5" cy="493.5" r="0.6"/><circle cx="63.8" cy="460.3" r="0.6"/><circle cx="33.7" cy="486.5" r="0.6"/><circle cx="65.0" cy="474.5" r="0.6"/><circle cx="74.4" cy="487.2" r="0.6"/><circle cx="47.2" cy="490.1" r="0.6"/><circle cx="43.5" cy="487.9" r="0.6"/><circle cx="49.8" cy="482.9" r="0.6"/><circle cx="54.1" cy="487.5" r="0.6"/><circle cx="62.8" cy="485.4" r="0.6"/><circle cx="43.5" cy="483.2" r="0.6"/><circle cx="67.4" cy="497.9" r="0.6"/><circle cx="82.3" cy="484.8" r="0.6"/><circle cx="58.6" cy="491.6" r="0.6"/><circle cx="34.1" cy="503.7" r="0.6"/><circle cx="61.9" cy="478.0" r="0.6"/><circle cx="80.3" cy="493.9" r="0.6"/><circle cx="36.7" cy="491.6" r="0.6"/><circle cx="71.3" cy="486.0" r="0.6"/><circle cx="60.9" cy="479.8" r="0.6"/><circle cx="43.3" cy="492.7" r="0.6"/><circle cx="46.8" cy="486.5" r="0.6"/><circle cx="70.6" cy="483.1" r="0.6"/><circle cx="76.9" cy="477.2" r="0.6"/><circle cx="57.1" cy="471.6" r="0.6"/><circle cx="38.0" cy="475.2" r="0.6"/><circle cx="66.1" cy="461.1" r="0.6"/><circle cx="49.1" cy="485.6" r="0.6"/><circle cx="44.5" cy="493.2" r="0.6"/><circle cx="62.9" cy="462.3" r="0.6"/><circle cx="71.2" cy="499.9" r="0.6"/><circle cx="32.9" cy="491.5" r="0.6"/><circle cx="59.7" cy="481.0" r="0.6"/><circle cx="87.3" cy="473.0" r="0.6"/><circle cx="49.9" cy="488.5" r="0.6"/><circle cx="67.3" cy="459.3" r="0.6"/><circle cx="64.5" cy="497.2" r="0.6"/><circle cx="64.8" cy="483.0" r="0.6"/><circle cx="72.9" cy="479.4" r="0.6"/><circle cx="82.0" cy="496.3" r="0.6"/><circle cx="49.8" cy="484.2" r="0.6"/><circle cx="76.5" cy="471.2" r="0.6"/><circle cx="78.4" cy="476.4" r="0.6"/><circle cx="64.4" cy="490.8" r="0.6"/><circle cx="34.2" cy="494.6" r="0.6"/><circle cx="72.0" cy="487.2" r="0.6"/><circle cx="56.3" cy="483.2" r="0.6"/><circle cx="71.4" cy="463.1" r="0.6"/><circle cx="37.3" cy="473.6" r="0.6"/><circle cx="41.7" cy="499.0" r="0.6"/><circle cx="55.8" cy="483.2" r="0.6"/><circle cx="44.9" cy="482.0" r="0.6"/><circle cx="66.4" cy="462.9" r="0.6"/><circle cx="74.6" cy="489.8" r="0.6"/><circle cx="68.4" cy="473.4" r="0.6"/><circle cx="75.4" cy="495.4" r="0.6"/><circle cx="46.6" cy="476.0" r="0.6"/><circle cx="85.8" cy="469.8" r="0.6"/><circle cx="77.1" cy="478.7" r="0.6"/><circle cx="65.1" cy="487.3" r="0.6"/><circle cx="72.3" cy="468.7" r="0.6"/><circle cx="49.7" cy="474.6" r="0.6"/><circle cx="54.5" cy="468.2" r="0.6"/><circle cx="84.9" cy="467.8" r="0.6"/><circle cx="50.7" cy="478.4" r="0.6"/><circle cx="45.2" cy="473.6" r="0.6"/><circle cx="88.3" cy="466.2" r="0.6"/><circle cx="87.7" cy="463.1" r="0.6"/><circle cx="43.9" cy="488.9" r="0.6"/><circle cx="89.8" cy="495.2" r="0.6"/><circle cx="66.3" cy="490.2" r="0.6"/><circle cx="55.2" cy="496.4" r="0.6"/><circle cx="60.4" cy="500.1" r="0.6"/><circle cx="88.9" cy="460.9" r="0.6"/><circle cx="41.6" cy="488.4" r="0.6"/><circle cx="87.5" cy="478.8" r="0.6"/><circle cx="29.5" cy="490.8" r="0.6"/><circle cx="72.3" cy="489.1" r="0.6"/><circle cx="81.7" cy="472.7" r="0.6"/><circle cx="74.6" cy="483.1" r="0.6"/><circle cx="60.7" cy="468.3" r="0.6"/><circle cx="71.4" cy="464.7" r="0.6"/><circle cx="33.5" cy="473.0" r="0.6"/><circle cx="39.3" cy="492.8" r="0.6"/><circle cx="51.3" cy="487.6" r="0.6"/><circle cx="86.9" cy="497.3" r="0.6"/><circle cx="69.5" cy="487.9" r="0.6"/><circle cx="64.4" cy="489.2" r="0.6"/><circle cx="56.8" cy="476.6" r="0.6"/><circle cx="83.4" cy="513.0" r="0.6"/><circle cx="88.7" cy="471.6" r="0.6"/><circle cx="66.7" cy="475.0" r="0.6"/><circle cx="60.2" cy="491.4" r="0.6"/><circle cx="44.2" cy="478.0" r="0.6"/><circle cx="37.2" cy="488.0" r="0.6"/><circle cx="39.6" cy="502.4" r="0.6"/><circle cx="74.0" cy="488.3" r="0.6"/><circle cx="60.5" cy="476.1" r="0.6"/><circle cx="82.2" cy="457.6" r="0.6"/><circle cx="43.7" cy="485.5" r="0.6"/><circle cx="46.4" cy="498.5" r="0.6"/><circle cx="40.2" cy="490.5" r="0.6"/><circle cx="29.4" cy="503.0" r="0.6"/><circle cx="75.9" cy="468.0" r="0.6"/><circle cx="73.5" cy="482.5" r="0.6"/><circle cx="35.8" cy="481.5" r="0.6"/><circle cx="39.1" cy="482.2" r="0.6"/><circle cx="27.6" cy="475.8" r="0.6"/><circle cx="62.6" cy="480.5" r="0.6"/><circle cx="54.2" cy="479.2" r="0.6"/><circle cx="62.0" cy="476.4" r="0.6"/><circle cx="63.0" cy="478.6" r="0.6"/><circle cx="87.9" cy="490.7" r="0.6"/><circle cx="65.7" cy="504.1" r="0.6"/><circle cx="78.0" cy="472.8" r="0.6"/><circle cx="59.1" cy="478.0" r="0.6"/><circle cx="33.3" cy="507.1" r="0.6"/><circle cx="70.9" cy="480.0" r="0.6"/><circle cx="53.8" cy="480.3" r="0.6"/><circle cx="41.8" cy="495.2" r="0.6"/><circle cx="63.9" cy="479.2" r="0.6"/><circle cx="68.1" cy="515.7" r="0.6"/><circle cx="74.1" cy="487.9" r="0.6"/><circle cx="80.4" cy="467.1" r="0.6"/><circle cx="28.8" cy="495.4" r="0.6"/><circle cx="37.4" cy="495.7" r="0.6"/><circle cx="75.0" cy="482.4" r="0.6"/><circle cx="82.6" cy="478.6" r="0.6"/></g>
<polygon points="28.80,485.50 59.40,481.80 90.00,475.90 90.00,479.50 59.40,483.20 28.80,489.10" fill="#8a8a8a" fill-opacity="0.8"/>
<line x1="28.80" y1="487.30" x2="90.00" y2="477.70" stroke="#303038" stroke-width="1.2"/>
<text x="53.80" y="508.50" font-size="7.6" transform="translate(53.80 508.50) scale(1 1.15) translate(-53.80 -508.50)"><tspan font-style="italic">R</tspan> = 0.23</text>
<text x="53.80" y="517.50" font-size="7.6" transform="translate(53.80 517.50) scale(1 1.15) translate(-53.80 -517.50)"><tspan font-style="italic">P</tspan> = <tspan font-style="italic">3.1</tspan> × 10<tspan font-size="5.3" dy="-3.1">−7</tspan></text>
<line x1="110.80" y1="450.80" x2="110.80" y2="520.00" stroke="#d6d6d6" stroke-width="0.9"/>
<line x1="110.80" y1="520.00" x2="174.60" y2="520.00" stroke="#d6d6d6" stroke-width="0.9"/>
<text x="109.20" y="463.50" font-size="7.6" text-anchor="end" transform="translate(109.20 463.50) scale(1 1.15) translate(-109.20 -463.50)">2</text>
<text x="109.20" y="475.00" font-size="7.6" text-anchor="end" transform="translate(109.20 475.00) scale(1 1.15) translate(-109.20 -475.00)">1</text>
<text x="109.20" y="486.20" font-size="7.6" text-anchor="end" transform="translate(109.20 486.20) scale(1 1.15) translate(-109.20 -486.20)">0</text>
<text x="109.20" y="498.70" font-size="7.6" text-anchor="end" transform="translate(109.20 498.70) scale(1 1.15) translate(-109.20 -498.70)">−1</text>
<text x="109.20" y="511.20" font-size="7.6" text-anchor="end" transform="translate(109.20 511.20) scale(1 1.15) translate(-109.20 -511.20)">−2</text>
<text x="109.20" y="522.70" font-size="7.6" text-anchor="end" transform="translate(109.20 522.70) scale(1 1.15) translate(-109.20 -522.70)">−3</text>
<text x="126.50" y="527.30" font-size="7.6" text-anchor="middle" transform="translate(126.50 527.30) scale(1 1.15) translate(-126.50 -527.30)">−0.5</text>
<text x="144.80" y="527.30" font-size="7.6" text-anchor="middle" transform="translate(144.80 527.30) scale(1 1.15) translate(-144.80 -527.30)">0</text>
<text x="164.00" y="527.30" font-size="7.6" text-anchor="middle" transform="translate(164.00 527.30) scale(1 1.15) translate(-164.00 -527.30)">0.5</text>
<text x="129.40" y="452.70" font-size="9.6" transform="translate(129.40 452.70) scale(1 1.15) translate(-129.40 -452.70)">mCRPC</text>
<g fill="#b5283a" fill-opacity="0.5"><circle cx="132.8" cy="461.3" r="0.6"/><circle cx="130.1" cy="493.8" r="0.6"/><circle cx="163.7" cy="507.9" r="0.6"/><circle cx="115.6" cy="494.8" r="0.6"/><circle cx="143.0" cy="474.0" r="0.6"/><circle cx="153.8" cy="488.3" r="0.6"/><circle cx="159.9" cy="488.1" r="0.6"/><circle cx="152.6" cy="492.7" r="0.6"/><circle cx="142.6" cy="478.2" r="0.6"/><circle cx="142.7" cy="470.9" r="0.6"/><circle cx="125.2" cy="478.8" r="0.6"/><circle cx="149.7" cy="487.4" r="0.6"/><circle cx="143.9" cy="500.9" r="0.6"/><circle cx="145.8" cy="489.0" r="0.6"/><circle cx="168.8" cy="505.5" r="0.6"/><circle cx="148.3" cy="453.4" r="0.6"/><circle cx="124.5" cy="491.0" r="0.6"/><circle cx="145.0" cy="497.4" r="0.6"/><circle cx="123.4" cy="467.1" r="0.6"/><circle cx="160.6" cy="491.7" r="0.6"/><circle cx="136.2" cy="484.0" r="0.6"/><circle cx="112.4" cy="485.8" r="0.6"/><circle cx="140.0" cy="459.2" r="0.6"/><circle cx="151.4" cy="503.4" r="0.6"/><circle cx="154.1" cy="486.6" r="0.6"/><circle cx="149.8" cy="465.7" r="0.6"/><circle cx="141.8" cy="466.7" r="0.6"/><circle cx="141.7" cy="489.2" r="0.6"/><circle cx="122.7" cy="491.0" r="0.6"/><circle cx="155.8" cy="486.6" r="0.6"/><circle cx="166.4" cy="477.2" r="0.6"/><circle cx="156.8" cy="494.4" r="0.6"/><circle cx="159.6" cy="494.5" r="0.6"/><circle cx="133.1" cy="463.7" r="0.6"/><circle cx="135.9" cy="490.7" r="0.6"/><circle cx="167.9" cy="468.7" r="0.6"/><circle cx="130.0" cy="483.1" r="0.6"/><circle cx="155.4" cy="482.5" r="0.6"/><circle cx="124.0" cy="485.1" r="0.6"/><circle cx="157.2" cy="473.6" r="0.6"/><circle cx="153.9" cy="468.4" r="0.6"/><circle cx="123.1" cy="491.0" r="0.6"/><circle cx="173.6" cy="492.2" r="0.6"/><circle cx="116.0" cy="515.9" r="0.6"/><circle cx="137.7" cy="495.4" r="0.6"/><circle cx="128.5" cy="477.4" r="0.6"/><circle cx="159.8" cy="471.3" r="0.6"/><circle cx="136.4" cy="482.1" r="0.6"/><circle cx="122.3" cy="484.7" r="0.6"/><circle cx="159.4" cy="485.7" r="0.6"/><circle cx="145.5" cy="488.8" r="0.6"/><circle cx="117.5" cy="475.6" r="0.6"/><circle cx="126.4" cy="514.3" r="0.6"/><circle cx="163.6" cy="496.1" r="0.6"/><circle cx="154.2" cy="474.3" r="0.6"/><circle cx="153.3" cy="466.9" r="0.6"/><circle cx="119.1" cy="481.1" r="0.6"/><circle cx="116.4" cy="498.8" r="0.6"/><circle cx="150.5" cy="487.5" r="0.6"/><circle cx="145.5" cy="481.2" r="0.6"/><circle cx="163.4" cy="484.1" r="0.6"/><circle cx="146.4" cy="493.5" r="0.6"/><circle cx="145.5" cy="487.0" r="0.6"/><circle cx="148.2" cy="477.0" r="0.6"/><circle cx="122.0" cy="499.6" r="0.6"/><circle cx="131.9" cy="472.4" r="0.6"/><circle cx="142.4" cy="475.7" r="0.6"/><circle cx="162.7" cy="467.6" r="0.6"/><circle cx="122.4" cy="488.7" r="0.6"/><circle cx="146.5" cy="492.6" r="0.6"/><circle cx="155.3" cy="453.0" r="0.6"/><circle cx="141.2" cy="478.8" r="0.6"/><circle cx="145.6" cy="487.4" r="0.6"/><circle cx="162.3" cy="482.3" r="0.6"/><circle cx="137.0" cy="464.8" r="0.6"/><circle cx="138.5" cy="498.5" r="0.6"/><circle cx="143.7" cy="496.3" r="0.6"/><circle cx="164.6" cy="484.0" r="0.6"/><circle cx="127.7" cy="488.2" r="0.6"/><circle cx="157.8" cy="474.7" r="0.6"/><circle cx="130.5" cy="506.4" r="0.6"/><circle cx="145.5" cy="509.7" r="0.6"/><circle cx="129.1" cy="483.7" r="0.6"/><circle cx="118.7" cy="476.6" r="0.6"/><circle cx="152.6" cy="496.3" r="0.6"/><circle cx="130.9" cy="486.1" r="0.6"/><circle cx="138.3" cy="485.4" r="0.6"/><circle cx="136.3" cy="482.4" r="0.6"/><circle cx="157.2" cy="491.8" r="0.6"/><circle cx="128.6" cy="496.3" r="0.6"/><circle cx="122.7" cy="493.4" r="0.6"/><circle cx="151.7" cy="464.1" r="0.6"/><circle cx="120.7" cy="471.2" r="0.6"/><circle cx="127.2" cy="499.7" r="0.6"/><circle cx="145.8" cy="491.1" r="0.6"/><circle cx="122.3" cy="495.1" r="0.6"/><circle cx="131.6" cy="477.7" r="0.6"/><circle cx="121.6" cy="493.8" r="0.6"/><circle cx="143.8" cy="498.6" r="0.6"/><circle cx="139.6" cy="465.5" r="0.6"/><circle cx="117.8" cy="469.1" r="0.6"/><circle cx="147.3" cy="472.4" r="0.6"/><circle cx="169.8" cy="460.4" r="0.6"/><circle cx="149.5" cy="468.8" r="0.6"/><circle cx="134.1" cy="484.0" r="0.6"/><circle cx="136.4" cy="496.4" r="0.6"/><circle cx="138.3" cy="475.1" r="0.6"/><circle cx="122.7" cy="484.8" r="0.6"/><circle cx="144.0" cy="479.8" r="0.6"/><circle cx="141.5" cy="489.6" r="0.6"/><circle cx="153.7" cy="492.9" r="0.6"/><circle cx="169.9" cy="465.0" r="0.6"/><circle cx="145.2" cy="472.6" r="0.6"/><circle cx="146.1" cy="490.7" r="0.6"/><circle cx="126.1" cy="494.5" r="0.6"/><circle cx="130.0" cy="482.4" r="0.6"/><circle cx="130.6" cy="493.3" r="0.6"/><circle cx="156.9" cy="462.6" r="0.6"/><circle cx="149.1" cy="490.5" r="0.6"/><circle cx="145.7" cy="510.3" r="0.6"/><circle cx="171.7" cy="477.2" r="0.6"/><circle cx="133.2" cy="477.8" r="0.6"/><circle cx="145.7" cy="498.7" r="0.6"/><circle cx="142.8" cy="510.4" r="0.6"/><circle cx="144.0" cy="472.6" r="0.6"/><circle cx="133.1" cy="485.9" r="0.6"/><circle cx="142.6" cy="468.5" r="0.6"/><circle cx="136.9" cy="487.8" r="0.6"/><circle cx="146.0" cy="458.5" r="0.6"/><circle cx="132.7" cy="470.3" r="0.6"/><circle cx="142.0" cy="473.7" r="0.6"/><circle cx="150.4" cy="478.1" r="0.6"/><circle cx="143.1" cy="474.1" r="0.6"/><circle cx="146.8" cy="498.1" r="0.6"/><circle cx="165.0" cy="478.5" r="0.6"/><circle cx="154.7" cy="514.1" r="0.6"/><circle cx="149.8" cy="499.4" r="0.6"/><circle cx="155.1" cy="500.5" r="0.6"/><circle cx="146.8" cy="461.2" r="0.6"/><circle cx="154.7" cy="465.3" r="0.6"/><circle cx="114.9" cy="500.1" r="0.6"/><circle cx="152.0" cy="502.1" r="0.6"/><circle cx="122.4" cy="486.8" r="0.6"/><circle cx="161.7" cy="465.9" r="0.6"/><circle cx="115.6" cy="503.0" r="0.6"/><circle cx="140.5" cy="490.1" r="0.6"/><circle cx="152.4" cy="486.9" r="0.6"/><circle cx="119.6" cy="503.1" r="0.6"/><circle cx="131.5" cy="504.4" r="0.6"/><circle cx="144.3" cy="491.6" r="0.6"/><circle cx="154.8" cy="517.6" r="0.6"/><circle cx="119.1" cy="483.4" r="0.6"/><circle cx="133.2" cy="476.7" r="0.6"/><circle cx="128.2" cy="470.8" r="0.6"/><circle cx="137.4" cy="482.4" r="0.6"/><circle cx="147.3" cy="469.7" r="0.6"/><circle cx="170.1" cy="475.5" r="0.6"/><circle cx="146.1" cy="476.6" r="0.6"/><circle cx="152.9" cy="475.2" r="0.6"/><circle cx="133.9" cy="492.0" r="0.6"/><circle cx="119.3" cy="497.4" r="0.6"/><circle cx="128.6" cy="504.9" r="0.6"/><circle cx="160.6" cy="467.3" r="0.6"/><circle cx="145.7" cy="472.4" r="0.6"/><circle cx="138.1" cy="467.3" r="0.6"/><circle cx="152.1" cy="478.0" r="0.6"/><circle cx="126.9" cy="479.4" r="0.6"/><circle cx="149.3" cy="491.4" r="0.6"/><circle cx="170.6" cy="468.0" r="0.6"/><circle cx="129.3" cy="496.1" r="0.6"/><circle cx="132.1" cy="474.8" r="0.6"/><circle cx="141.0" cy="491.3" r="0.6"/><circle cx="138.3" cy="480.7" r="0.6"/><circle cx="127.7" cy="505.8" r="0.6"/><circle cx="131.5" cy="471.4" r="0.6"/><circle cx="130.4" cy="484.9" r="0.6"/><circle cx="151.6" cy="477.0" r="0.6"/><circle cx="135.9" cy="462.8" r="0.6"/><circle cx="147.4" cy="487.4" r="0.6"/><circle cx="163.1" cy="494.5" r="0.6"/><circle cx="122.7" cy="475.0" r="0.6"/><circle cx="153.4" cy="484.5" r="0.6"/><circle cx="171.1" cy="472.7" r="0.6"/><circle cx="151.4" cy="485.1" r="0.6"/><circle cx="163.9" cy="467.2" r="0.6"/><circle cx="144.8" cy="479.6" r="0.6"/><circle cx="165.0" cy="471.4" r="0.6"/><circle cx="124.7" cy="488.6" r="0.6"/><circle cx="165.1" cy="489.3" r="0.6"/><circle cx="137.8" cy="501.3" r="0.6"/><circle cx="171.2" cy="467.6" r="0.6"/><circle cx="118.8" cy="487.5" r="0.6"/><circle cx="122.0" cy="489.5" r="0.6"/><circle cx="129.3" cy="472.5" r="0.6"/><circle cx="138.5" cy="498.9" r="0.6"/><circle cx="125.7" cy="490.4" r="0.6"/><circle cx="125.3" cy="482.9" r="0.6"/><circle cx="121.3" cy="514.5" r="0.6"/><circle cx="123.7" cy="500.2" r="0.6"/><circle cx="125.2" cy="489.1" r="0.6"/><circle cx="131.9" cy="477.7" r="0.6"/><circle cx="141.8" cy="465.5" r="0.6"/><circle cx="116.5" cy="485.0" r="0.6"/><circle cx="125.0" cy="490.8" r="0.6"/><circle cx="136.6" cy="489.6" r="0.6"/><circle cx="157.0" cy="461.9" r="0.6"/><circle cx="145.7" cy="475.4" r="0.6"/><circle cx="138.6" cy="478.3" r="0.6"/><circle cx="154.8" cy="478.7" r="0.6"/><circle cx="134.5" cy="490.0" r="0.6"/><circle cx="158.7" cy="476.5" r="0.6"/><circle cx="140.5" cy="498.7" r="0.6"/><circle cx="149.0" cy="470.8" r="0.6"/><circle cx="140.0" cy="490.9" r="0.6"/><circle cx="124.3" cy="497.5" r="0.6"/><circle cx="141.2" cy="503.5" r="0.6"/><circle cx="135.6" cy="465.4" r="0.6"/><circle cx="173.0" cy="476.3" r="0.6"/><circle cx="124.7" cy="488.1" r="0.6"/><circle cx="159.0" cy="462.7" r="0.6"/><circle cx="143.3" cy="481.3" r="0.6"/><circle cx="133.6" cy="512.2" r="0.6"/><circle cx="135.6" cy="461.5" r="0.6"/><circle cx="140.6" cy="485.8" r="0.6"/><circle cx="136.3" cy="492.3" r="0.6"/><circle cx="130.3" cy="499.5" r="0.6"/><circle cx="156.1" cy="494.7" r="0.6"/><circle cx="139.9" cy="470.3" r="0.6"/><circle cx="146.8" cy="479.2" r="0.6"/><circle cx="125.5" cy="470.1" r="0.6"/><circle cx="147.0" cy="487.3" r="0.6"/><circle cx="129.4" cy="494.3" r="0.6"/><circle cx="163.5" cy="474.4" r="0.6"/><circle cx="133.9" cy="480.7" r="0.6"/><circle cx="123.6" cy="475.1" r="0.6"/><circle cx="155.9" cy="498.8" r="0.6"/><circle cx="124.4" cy="492.6" r="0.6"/><circle cx="169.6" cy="468.9" r="0.6"/><circle cx="143.7" cy="492.8" r="0.6"/><circle cx="126.4" cy="482.8" r="0.6"/><circle cx="144.3" cy="492.2" r="0.6"/><circle cx="149.1" cy="494.5" r="0.6"/><circle cx="160.2" cy="484.9" r="0.6"/><circle cx="162.3" cy="492.3" r="0.6"/><circle cx="142.5" cy="481.8" r="0.6"/><circle cx="116.6" cy="496.5" r="0.6"/><circle cx="138.9" cy="486.5" r="0.6"/><circle cx="152.3" cy="488.1" r="0.6"/><circle cx="157.1" cy="474.8" r="0.6"/><circle cx="165.2" cy="511.2" r="0.6"/><circle cx="144.0" cy="496.6" r="0.6"/><circle cx="154.2" cy="502.9" r="0.6"/><circle cx="126.8" cy="500.3" r="0.6"/><circle cx="166.0" cy="468.6" r="0.6"/><circle cx="169.0" cy="490.0" r="0.6"/><circle cx="152.9" cy="478.6" r="0.6"/><circle cx="152.8" cy="480.6" r="0.6"/><circle cx="139.9" cy="471.5" r="0.6"/><circle cx="156.9" cy="478.7" r="0.6"/><circle cx="157.0" cy="475.9" r="0.6"/><circle cx="158.0" cy="479.2" r="0.6"/><circle cx="146.5" cy="461.1" r="0.6"/><circle cx="168.4" cy="497.2" r="0.6"/><circle cx="156.3" cy="492.8" r="0.6"/><circle cx="161.7" cy="487.7" r="0.6"/><circle cx="159.8" cy="498.0" r="0.6"/><circle cx="158.1" cy="463.6" r="0.6"/><circle cx="155.4" cy="507.5" r="0.6"/><circle cx="139.5" cy="454.2" r="0.6"/><circle cx="136.0" cy="485.3" r="0.6"/></g>
<polygon points="113.00,487.60 143.35,482.45 173.70,474.10 173.70,479.30 143.35,484.45 113.00,492.80" fill="#8a8a8a" fill-opacity="0.8"/>
<line x1="113.00" y1="490.20" x2="173.70" y2="476.70" stroke="#3c3c3c" stroke-width="1.2"/>
<text x="139.00" y="508.50" font-size="7.6" transform="translate(139.00 508.50) scale(1 1.15) translate(-139.00 -508.50)"><tspan font-style="italic">R</tspan> = 0.37</text>
<text x="139.00" y="517.50" font-size="7.6" transform="translate(139.00 517.50) scale(1 1.15) translate(-139.00 -517.50)"><tspan font-style="italic">P</tspan> = <tspan font-style="italic">2.9</tspan> × 10<tspan font-size="5.3" dy="-3.1">−12</tspan></text>
<line x1="198.70" y1="448.80" x2="198.70" y2="520.00" stroke="#d6d6d6" stroke-width="0.9"/>
<line x1="198.70" y1="520.00" x2="264.60" y2="520.00" stroke="#d6d6d6" stroke-width="0.9"/>
<text x="197.00" y="467.30" font-size="7.6" text-anchor="end" transform="translate(197.00 467.30) scale(1 1.15) translate(-197.00 -467.30)">2</text>
<text x="197.00" y="486.20" font-size="7.6" text-anchor="end" transform="translate(197.00 486.20) scale(1 1.15) translate(-197.00 -486.20)">0</text>
<text x="197.00" y="507.30" font-size="7.6" text-anchor="end" transform="translate(197.00 507.30) scale(1 1.15) translate(-197.00 -507.30)">−2</text>
<text x="216.50" y="527.70" font-size="7.6" text-anchor="middle" transform="translate(216.50 527.70) scale(1 1.15) translate(-216.50 -527.70)">−0.4</text>
<text x="233.80" y="527.70" font-size="7.6" text-anchor="middle" transform="translate(233.80 527.70) scale(1 1.15) translate(-233.80 -527.70)">0</text>
<text x="254.00" y="527.70" font-size="7.6" text-anchor="middle" transform="translate(254.00 527.70) scale(1 1.15) translate(-254.00 -527.70)">0.4</text>
<text x="217.50" y="449.80" font-size="9.6" transform="translate(217.50 449.80) scale(1 1.15) translate(-217.50 -449.80)">Primary</text>
<text x="189.40" y="484.40" font-size="9.6" text-anchor="middle" transform="rotate(-90 189.40 484.40) translate(189.40 484.40) scale(1 1.15) translate(-189.40 -484.40)">KDM1A</text>
<g fill="#2f3a9a" fill-opacity="0.6"><circle cx="233.4" cy="509.8" r="0.6"/><circle cx="220.1" cy="472.2" r="0.6"/><circle cx="233.3" cy="473.5" r="0.6"/><circle cx="221.5" cy="458.2" r="0.6"/><circle cx="227.8" cy="490.3" r="0.6"/><circle cx="262.1" cy="470.9" r="0.6"/><circle cx="227.2" cy="486.7" r="0.6"/><circle cx="221.1" cy="484.0" r="0.6"/><circle cx="233.8" cy="504.2" r="0.6"/><circle cx="235.4" cy="499.1" r="0.6"/><circle cx="228.4" cy="492.9" r="0.6"/><circle cx="251.0" cy="453.2" r="0.6"/><circle cx="230.5" cy="472.8" r="0.6"/><circle cx="207.4" cy="478.2" r="0.6"/><circle cx="263.1" cy="459.6" r="0.6"/><circle cx="218.7" cy="467.6" r="0.6"/><circle cx="233.5" cy="463.8" r="0.6"/><circle cx="231.4" cy="470.9" r="0.6"/><circle cx="215.8" cy="469.0" r="0.6"/><circle cx="254.2" cy="509.4" r="0.6"/><circle cx="212.6" cy="468.3" r="0.6"/><circle cx="252.5" cy="474.1" r="0.6"/><circle cx="222.3" cy="495.2" r="0.6"/><circle cx="210.9" cy="466.6" r="0.6"/><circle cx="243.6" cy="485.3" r="0.6"/><circle cx="222.7" cy="472.3" r="0.6"/><circle cx="238.0" cy="485.6" r="0.6"/><circle cx="253.4" cy="480.9" r="0.6"/><circle cx="244.0" cy="479.5" r="0.6"/><circle cx="205.5" cy="474.4" r="0.6"/><circle cx="228.4" cy="482.0" r="0.6"/><circle cx="242.1" cy="509.5" r="0.6"/><circle cx="202.8" cy="482.5" r="0.6"/><circle cx="227.4" cy="498.2" r="0.6"/><circle cx="244.7" cy="508.1" r="0.6"/><circle cx="226.9" cy="501.7" r="0.6"/><circle cx="215.7" cy="500.0" r="0.6"/><circle cx="200.6" cy="480.5" r="0.6"/><circle cx="217.7" cy="477.7" r="0.6"/><circle cx="235.7" cy="477.8" r="0.6"/><circle cx="218.5" cy="494.4" r="0.6"/><circle cx="240.5" cy="497.6" r="0.6"/><circle cx="216.9" cy="468.6" r="0.6"/><circle cx="200.6" cy="474.5" r="0.6"/><circle cx="243.1" cy="476.7" r="0.6"/><circle cx="235.5" cy="494.1" r="0.6"/><circle cx="238.1" cy="480.9" r="0.6"/><circle cx="240.3" cy="504.0" r="0.6"/><circle cx="222.5" cy="482.4" r="0.6"/><circle cx="242.5" cy="471.4" r="0.6"/><circle cx="237.2" cy="485.0" r="0.6"/><circle cx="238.0" cy="472.2" r="0.6"/><circle cx="236.2" cy="480.2" r="0.6"/><circle cx="256.9" cy="491.9" r="0.6"/><circle cx="241.9" cy="476.3" r="0.6"/><circle cx="209.1" cy="481.8" r="0.6"/><circle cx="243.2" cy="484.2" r="0.6"/><circle cx="236.5" cy="512.7" r="0.6"/><circle cx="229.7" cy="479.4" r="0.6"/><circle cx="240.9" cy="475.0" r="0.6"/><circle cx="223.4" cy="490.0" r="0.6"/><circle cx="254.7" cy="475.5" r="0.6"/><circle cx="251.9" cy="460.0" r="0.6"/><circle cx="235.1" cy="486.8" r="0.6"/><circle cx="222.8" cy="497.7" r="0.6"/><circle cx="226.3" cy="473.5" r="0.6"/><circle cx="218.8" cy="475.0" r="0.6"/><circle cx="235.4" cy="482.9" r="0.6"/><circle cx="236.4" cy="481.2" r="0.6"/><circle cx="237.0" cy="457.5" r="0.6"/><circle cx="230.8" cy="490.6" r="0.6"/><circle cx="242.9" cy="474.4" r="0.6"/><circle cx="256.4" cy="495.0" r="0.6"/><circle cx="242.4" cy="474.8" r="0.6"/><circle cx="243.9" cy="476.1" r="0.6"/><circle cx="243.4" cy="491.5" r="0.6"/><circle cx="257.8" cy="490.3" r="0.6"/><circle cx="244.2" cy="484.1" r="0.6"/><circle cx="239.7" cy="466.7" r="0.6"/><circle cx="230.8" cy="481.4" r="0.6"/><circle cx="240.8" cy="498.8" r="0.6"/><circle cx="236.4" cy="474.5" r="0.6"/><circle cx="222.4" cy="486.0" r="0.6"/><circle cx="259.6" cy="479.9" r="0.6"/><circle cx="232.2" cy="486.3" r="0.6"/><circle cx="202.9" cy="488.0" r="0.6"/><circle cx="222.5" cy="451.7" r="0.6"/><circle cx="215.3" cy="490.4" r="0.6"/><circle cx="251.0" cy="463.1" r="0.6"/><circle cx="231.8" cy="494.7" r="0.6"/><circle cx="239.4" cy="493.0" r="0.6"/><circle cx="236.4" cy="497.6" r="0.6"/><circle cx="214.4" cy="505.1" r="0.6"/><circle cx="245.3" cy="484.1" r="0.6"/><circle cx="238.5" cy="501.8" r="0.6"/><circle cx="240.3" cy="468.8" r="0.6"/><circle cx="251.9" cy="474.4" r="0.6"/><circle cx="227.8" cy="506.0" r="0.6"/><circle cx="207.7" cy="474.6" r="0.6"/><circle cx="213.2" cy="491.7" r="0.6"/><circle cx="237.5" cy="485.1" r="0.6"/><circle cx="243.9" cy="483.8" r="0.6"/><circle cx="227.0" cy="483.6" r="0.6"/><circle cx="230.8" cy="505.2" r="0.6"/><circle cx="221.4" cy="469.4" r="0.6"/><circle cx="234.2" cy="488.0" r="0.6"/><circle cx="217.7" cy="498.3" r="0.6"/><circle cx="222.7" cy="467.6" r="0.6"/><circle cx="225.3" cy="488.5" r="0.6"/><circle cx="240.3" cy="504.1" r="0.6"/><circle cx="248.1" cy="491.3" r="0.6"/><circle cx="206.7" cy="482.3" r="0.6"/><circle cx="261.3" cy="469.6" r="0.6"/><circle cx="243.7" cy="483.7" r="0.6"/><circle cx="222.1" cy="473.7" r="0.6"/><circle cx="203.7" cy="484.6" r="0.6"/><circle cx="232.8" cy="498.4" r="0.6"/><circle cx="238.0" cy="456.9" r="0.6"/><circle cx="220.8" cy="484.3" r="0.6"/><circle cx="240.3" cy="466.7" r="0.6"/><circle cx="208.8" cy="472.8" r="0.6"/><circle cx="249.7" cy="478.2" r="0.6"/><circle cx="248.8" cy="487.5" r="0.6"/><circle cx="244.1" cy="471.8" r="0.6"/><circle cx="229.7" cy="495.2" r="0.6"/><circle cx="253.2" cy="482.7" r="0.6"/><circle cx="238.3" cy="482.2" r="0.6"/><circle cx="222.0" cy="495.7" r="0.6"/><circle cx="246.6" cy="483.9" r="0.6"/><circle cx="217.6" cy="485.1" r="0.6"/><circle cx="217.7" cy="493.7" r="0.6"/><circle cx="244.7" cy="462.9" r="0.6"/><circle cx="231.2" cy="477.7" r="0.6"/><circle cx="220.4" cy="501.9" r="0.6"/><circle cx="213.1" cy="487.7" r="0.6"/><circle cx="219.4" cy="481.6" r="0.6"/><circle cx="216.8" cy="479.6" r="0.6"/><circle cx="238.2" cy="487.8" r="0.6"/><circle cx="208.0" cy="470.9" r="0.6"/><circle cx="257.1" cy="460.1" r="0.6"/><circle cx="217.8" cy="512.2" r="0.6"/><circle cx="248.5" cy="507.3" r="0.6"/><circle cx="232.1" cy="473.2" r="0.6"/><circle cx="250.2" cy="490.5" r="0.6"/><circle cx="202.6" cy="468.7" r="0.6"/><circle cx="225.0" cy="466.8" r="0.6"/><circle cx="246.7" cy="487.8" r="0.6"/><circle cx="216.3" cy="500.7" r="0.6"/><circle cx="231.6" cy="473.1" r="0.6"/><circle cx="253.8" cy="480.7" r="0.6"/><circle cx="253.0" cy="491.0" r="0.6"/><circle cx="226.0" cy="477.5" r="0.6"/><circle cx="214.8" cy="491.4" r="0.6"/><circle cx="236.1" cy="469.3" r="0.6"/><circle cx="201.0" cy="476.3" r="0.6"/><circle cx="254.6" cy="485.7" r="0.6"/><circle cx="229.4" cy="464.4" r="0.6"/><circle cx="226.3" cy="486.1" r="0.6"/><circle cx="226.3" cy="486.2" r="0.6"/><circle cx="234.4" cy="481.7" r="0.6"/><circle cx="252.0" cy="479.9" r="0.6"/><circle cx="254.9" cy="491.6" r="0.6"/><circle cx="233.3" cy="469.3" r="0.6"/><circle cx="254.3" cy="485.4" r="0.6"/><circle cx="210.8" cy="514.1" r="0.6"/><circle cx="248.8" cy="496.9" r="0.6"/><circle cx="262.4" cy="478.2" r="0.6"/><circle cx="237.6" cy="468.9" r="0.6"/><circle cx="228.7" cy="466.4" r="0.6"/><circle cx="233.2" cy="472.4" r="0.6"/><circle cx="216.2" cy="485.7" r="0.6"/><circle cx="218.3" cy="462.8" r="0.6"/><circle cx="256.1" cy="465.5" r="0.6"/><circle cx="240.0" cy="475.6" r="0.6"/><circle cx="264.1" cy="471.2" r="0.6"/><circle cx="232.6" cy="472.6" r="0.6"/><circle cx="252.6" cy="467.8" r="0.6"/><circle cx="215.9" cy="458.8" r="0.6"/><circle cx="245.8" cy="454.4" r="0.6"/><circle cx="259.0" cy="497.6" r="0.6"/><circle cx="255.4" cy="478.3" r="0.6"/><circle cx="244.6" cy="497.4" r="0.6"/><circle cx="239.4" cy="481.6" r="0.6"/><circle cx="254.9" cy="475.6" r="0.6"/><circle cx="234.3" cy="477.1" r="0.6"/><circle cx="212.8" cy="504.8" r="0.6"/><circle cx="210.9" cy="475.7" r="0.6"/><circle cx="229.9" cy="472.6" r="0.6"/><circle cx="226.0" cy="472.5" r="0.6"/><circle cx="207.6" cy="506.3" r="0.6"/><circle cx="239.4" cy="483.7" r="0.6"/><circle cx="219.7" cy="494.3" r="0.6"/><circle cx="239.2" cy="490.5" r="0.6"/><circle cx="225.5" cy="504.5" r="0.6"/><circle cx="245.2" cy="462.4" r="0.6"/><circle cx="219.3" cy="501.4" r="0.6"/><circle cx="245.2" cy="472.3" r="0.6"/><circle cx="263.9" cy="462.8" r="0.6"/><circle cx="254.2" cy="476.9" r="0.6"/><circle cx="234.0" cy="469.9" r="0.6"/><circle cx="235.2" cy="513.6" r="0.6"/><circle cx="234.5" cy="463.1" r="0.6"/><circle cx="238.0" cy="476.2" r="0.6"/><circle cx="226.8" cy="474.8" r="0.6"/><circle cx="244.9" cy="500.1" r="0.6"/><circle cx="262.2" cy="467.0" r="0.6"/><circle cx="240.7" cy="480.4" r="0.6"/><circle cx="239.0" cy="465.6" r="0.6"/><circle cx="243.5" cy="486.4" r="0.6"/><circle cx="247.9" cy="504.0" r="0.6"/><circle cx="238.2" cy="486.2" r="0.6"/><circle cx="253.3" cy="464.5" r="0.6"/><circle cx="243.8" cy="480.4" r="0.6"/><circle cx="245.3" cy="462.8" r="0.6"/><circle cx="215.7" cy="471.5" r="0.6"/><circle cx="222.2" cy="506.3" r="0.6"/><circle cx="226.1" cy="477.3" r="0.6"/><circle cx="229.2" cy="497.3" r="0.6"/><circle cx="206.3" cy="477.2" r="0.6"/><circle cx="208.5" cy="505.9" r="0.6"/><circle cx="206.0" cy="491.1" r="0.6"/><circle cx="243.5" cy="476.2" r="0.6"/><circle cx="238.0" cy="480.7" r="0.6"/><circle cx="252.0" cy="486.9" r="0.6"/><circle cx="251.6" cy="457.4" r="0.6"/><circle cx="209.5" cy="499.1" r="0.6"/><circle cx="238.1" cy="469.8" r="0.6"/><circle cx="240.7" cy="462.1" r="0.6"/><circle cx="209.0" cy="478.9" r="0.6"/><circle cx="217.8" cy="468.2" r="0.6"/><circle cx="256.5" cy="477.6" r="0.6"/><circle cx="238.8" cy="483.8" r="0.6"/><circle cx="213.8" cy="493.8" r="0.6"/><circle cx="247.3" cy="476.7" r="0.6"/><circle cx="228.7" cy="483.9" r="0.6"/><circle cx="241.2" cy="475.6" r="0.6"/><circle cx="238.4" cy="476.7" r="0.6"/><circle cx="248.0" cy="483.5" r="0.6"/><circle cx="214.6" cy="488.9" r="0.6"/><circle cx="228.6" cy="507.2" r="0.6"/><circle cx="221.9" cy="489.7" r="0.6"/><circle cx="242.6" cy="476.3" r="0.6"/><circle cx="248.4" cy="496.9" r="0.6"/><circle cx="228.1" cy="482.3" r="0.6"/><circle cx="248.8" cy="465.8" r="0.6"/><circle cx="229.1" cy="479.2" r="0.6"/><circle cx="214.0" cy="474.0" r="0.6"/><circle cx="243.9" cy="478.1" r="0.6"/><circle cx="227.3" cy="486.4" r="0.6"/><circle cx="233.4" cy="480.9" r="0.6"/><circle cx="236.1" cy="489.5" r="0.6"/><circle cx="236.5" cy="498.5" r="0.6"/><circle cx="238.1" cy="494.1" r="0.6"/><circle cx="208.6" cy="484.7" r="0.6"/><circle cx="249.5" cy="472.9" r="0.6"/><circle cx="241.2" cy="479.0" r="0.6"/><circle cx="237.8" cy="481.0" r="0.6"/><circle cx="219.7" cy="482.1" r="0.6"/><circle cx="234.3" cy="472.6" r="0.6"/><circle cx="241.9" cy="487.8" r="0.6"/><circle cx="244.6" cy="484.0" r="0.6"/><circle cx="235.5" cy="489.8" r="0.6"/><circle cx="242.8" cy="462.5" r="0.6"/><circle cx="213.2" cy="482.2" r="0.6"/><circle cx="224.7" cy="474.0" r="0.6"/><circle cx="209.0" cy="490.0" r="0.6"/><circle cx="219.9" cy="484.9" r="0.6"/><circle cx="244.6" cy="508.3" r="0.6"/><circle cx="215.5" cy="455.5" r="0.6"/><circle cx="237.1" cy="477.1" r="0.6"/><circle cx="221.9" cy="505.1" r="0.6"/><circle cx="232.5" cy="465.3" r="0.6"/><circle cx="232.1" cy="504.5" r="0.6"/><circle cx="219.9" cy="480.4" r="0.6"/><circle cx="225.1" cy="484.9" r="0.6"/><circle cx="233.9" cy="490.0" r="0.6"/><circle cx="237.1" cy="460.4" r="0.6"/><circle cx="227.0" cy="477.2" r="0.6"/><circle cx="202.9" cy="482.5" r="0.6"/><circle cx="255.8" cy="475.6" r="0.6"/><circle cx="253.3" cy="476.3" r="0.6"/><circle cx="256.3" cy="501.5" r="0.6"/><circle cx="224.6" cy="495.9" r="0.6"/><circle cx="227.9" cy="474.7" r="0.6"/><circle cx="215.9" cy="478.3" r="0.6"/><circle cx="206.9" cy="492.9" r="0.6"/><circle cx="226.0" cy="503.0" r="0.6"/><circle cx="231.4" cy="456.5" r="0.6"/><circle cx="215.0" cy="454.2" r="0.6"/><circle cx="243.8" cy="478.6" r="0.6"/><circle cx="236.7" cy="458.2" r="0.6"/><circle cx="246.6" cy="472.1" r="0.6"/><circle cx="242.3" cy="478.4" r="0.6"/><circle cx="239.9" cy="482.6" r="0.6"/><circle cx="202.5" cy="497.6" r="0.6"/><circle cx="240.0" cy="479.4" r="0.6"/><circle cx="256.6" cy="461.0" r="0.6"/><circle cx="249.9" cy="461.8" r="0.6"/><circle cx="242.3" cy="452.6" r="0.6"/><circle cx="222.0" cy="488.9" r="0.6"/><circle cx="204.1" cy="477.9" r="0.6"/><circle cx="241.0" cy="488.7" r="0.6"/><circle cx="250.9" cy="479.7" r="0.6"/><circle cx="235.8" cy="480.9" r="0.6"/><circle cx="212.4" cy="470.6" r="0.6"/><circle cx="238.8" cy="484.2" r="0.6"/><circle cx="218.4" cy="475.3" r="0.6"/><circle cx="235.1" cy="488.2" r="0.6"/><circle cx="201.9" cy="473.4" r="0.6"/><circle cx="236.5" cy="489.5" r="0.6"/><circle cx="207.4" cy="491.8" r="0.6"/><circle cx="242.6" cy="492.9" r="0.6"/><circle cx="227.4" cy="497.9" r="0.6"/><circle cx="226.7" cy="490.6" r="0.6"/><circle cx="242.9" cy="495.2" r="0.6"/><circle cx="238.8" cy="489.1" r="0.6"/><circle cx="202.3" cy="494.0" r="0.6"/><circle cx="231.9" cy="465.3" r="0.6"/><circle cx="240.3" cy="495.3" r="0.6"/><circle cx="247.1" cy="488.8" r="0.6"/><circle cx="242.8" cy="469.9" r="0.6"/><circle cx="246.7" cy="482.5" r="0.6"/><circle cx="235.7" cy="475.0" r="0.6"/><circle cx="215.3" cy="488.4" r="0.6"/><circle cx="215.3" cy="496.7" r="0.6"/><circle cx="234.1" cy="468.5" r="0.6"/><circle cx="214.1" cy="493.2" r="0.6"/><circle cx="239.6" cy="502.6" r="0.6"/><circle cx="246.7" cy="479.7" r="0.6"/><circle cx="241.5" cy="472.2" r="0.6"/><circle cx="217.7" cy="477.6" r="0.6"/><circle cx="232.1" cy="487.2" r="0.6"/><circle cx="210.6" cy="493.8" r="0.6"/><circle cx="251.5" cy="480.7" r="0.6"/><circle cx="250.6" cy="494.4" r="0.6"/><circle cx="232.9" cy="473.7" r="0.6"/><circle cx="226.6" cy="470.7" r="0.6"/><circle cx="250.4" cy="475.0" r="0.6"/><circle cx="205.1" cy="512.1" r="0.6"/><circle cx="248.6" cy="506.6" r="0.6"/><circle cx="250.7" cy="480.4" r="0.6"/><circle cx="227.5" cy="476.3" r="0.6"/><circle cx="209.8" cy="500.6" r="0.6"/><circle cx="223.2" cy="463.5" r="0.6"/><circle cx="220.3" cy="490.0" r="0.6"/><circle cx="214.9" cy="477.3" r="0.6"/><circle cx="233.7" cy="472.7" r="0.6"/><circle cx="243.9" cy="489.4" r="0.6"/><circle cx="232.0" cy="492.1" r="0.6"/><circle cx="249.9" cy="464.4" r="0.6"/><circle cx="215.5" cy="479.9" r="0.6"/><circle cx="244.9" cy="515.1" r="0.6"/><circle cx="255.1" cy="486.3" r="0.6"/><circle cx="229.5" cy="481.4" r="0.6"/><circle cx="229.4" cy="498.1" r="0.6"/><circle cx="236.8" cy="461.4" r="0.6"/><circle cx="244.2" cy="484.8" r="0.6"/><circle cx="232.7" cy="463.5" r="0.6"/><circle cx="223.2" cy="470.7" r="0.6"/><circle cx="224.6" cy="491.3" r="0.6"/><circle cx="244.6" cy="490.1" r="0.6"/><circle cx="209.8" cy="484.1" r="0.6"/><circle cx="232.9" cy="480.4" r="0.6"/><circle cx="237.6" cy="486.2" r="0.6"/><circle cx="233.9" cy="488.2" r="0.6"/><circle cx="225.2" cy="473.3" r="0.6"/><circle cx="221.0" cy="475.9" r="0.6"/><circle cx="260.1" cy="478.3" r="0.6"/><circle cx="243.5" cy="495.1" r="0.6"/><circle cx="262.8" cy="477.5" r="0.6"/><circle cx="256.8" cy="505.8" r="0.6"/><circle cx="207.6" cy="490.7" r="0.6"/><circle cx="204.5" cy="486.1" r="0.6"/><circle cx="217.0" cy="490.6" r="0.6"/><circle cx="228.8" cy="509.2" r="0.6"/><circle cx="246.8" cy="481.2" r="0.6"/><circle cx="245.9" cy="467.3" r="0.6"/><circle cx="208.4" cy="493.0" r="0.6"/><circle cx="232.3" cy="460.6" r="0.6"/><circle cx="247.4" cy="472.9" r="0.6"/><circle cx="225.6" cy="497.1" r="0.6"/><circle cx="228.6" cy="467.4" r="0.6"/><circle cx="222.6" cy="492.6" r="0.6"/><circle cx="242.6" cy="454.1" r="0.6"/><circle cx="203.9" cy="482.2" r="0.6"/><circle cx="235.3" cy="486.8" r="0.6"/><circle cx="247.6" cy="475.6" r="0.6"/><circle cx="247.0" cy="471.4" r="0.6"/><circle cx="236.4" cy="489.0" r="0.6"/><circle cx="245.4" cy="490.0" r="0.6"/><circle cx="201.3" cy="493.9" r="0.6"/><circle cx="244.3" cy="473.6" r="0.6"/><circle cx="212.5" cy="484.9" r="0.6"/><circle cx="203.5" cy="478.4" r="0.6"/><circle cx="225.2" cy="497.0" r="0.6"/><circle cx="254.8" cy="475.3" r="0.6"/><circle cx="217.0" cy="461.9" r="0.6"/><circle cx="244.6" cy="505.1" r="0.6"/><circle cx="219.7" cy="471.1" r="0.6"/><circle cx="249.3" cy="494.9" r="0.6"/><circle cx="258.3" cy="478.8" r="0.6"/><circle cx="238.2" cy="483.8" r="0.6"/><circle cx="224.0" cy="495.8" r="0.6"/><circle cx="252.8" cy="489.7" r="0.6"/><circle cx="226.4" cy="493.3" r="0.6"/><circle cx="215.1" cy="491.8" r="0.6"/><circle cx="203.0" cy="489.0" r="0.6"/><circle cx="240.0" cy="477.6" r="0.6"/><circle cx="253.8" cy="475.1" r="0.6"/><circle cx="250.3" cy="494.8" r="0.6"/><circle cx="247.6" cy="480.3" r="0.6"/><circle cx="250.3" cy="469.8" r="0.6"/><circle cx="219.6" cy="486.1" r="0.6"/><circle cx="224.9" cy="484.1" r="0.6"/><circle cx="231.7" cy="464.3" r="0.6"/><circle cx="243.8" cy="469.8" r="0.6"/><circle cx="249.4" cy="516.6" r="0.6"/><circle cx="221.4" cy="485.3" r="0.6"/><circle cx="246.8" cy="496.8" r="0.6"/><circle cx="251.0" cy="474.6" r="0.6"/><circle cx="227.4" cy="487.0" r="0.6"/><circle cx="238.5" cy="496.5" r="0.6"/><circle cx="217.1" cy="479.6" r="0.6"/><circle cx="259.6" cy="467.1" r="0.6"/><circle cx="218.4" cy="498.0" r="0.6"/><circle cx="213.5" cy="504.7" r="0.6"/><circle cx="240.2" cy="494.5" r="0.6"/><circle cx="220.7" cy="481.4" r="0.6"/><circle cx="253.2" cy="467.2" r="0.6"/><circle cx="231.9" cy="464.3" r="0.6"/><circle cx="237.7" cy="504.2" r="0.6"/><circle cx="240.5" cy="485.0" r="0.6"/><circle cx="226.2" cy="479.7" r="0.6"/><circle cx="237.2" cy="472.2" r="0.6"/><circle cx="226.3" cy="480.8" r="0.6"/><circle cx="249.5" cy="475.8" r="0.6"/><circle cx="210.5" cy="498.5" r="0.6"/><circle cx="253.2" cy="464.8" r="0.6"/><circle cx="225.3" cy="484.9" r="0.6"/></g>
<polygon points="202.00,483.60 232.85,482.00 263.70,478.20 263.70,481.80 232.85,483.40 202.00,487.20" fill="#8a8a8a" fill-opacity="0.8"/>
<line x1="202.00" y1="485.40" x2="263.70" y2="480.00" stroke="#303038" stroke-width="1.2"/>
<text x="226.00" y="508.50" font-size="7.6" transform="translate(226.00 508.50) scale(1 1.15) translate(-226.00 -508.50)"><tspan font-style="italic">R</tspan> = 0.16</text>
<text x="226.00" y="517.50" font-size="7.6" transform="translate(226.00 517.50) scale(1 1.15) translate(-226.00 -517.50)"><tspan font-style="italic">P</tspan><tspan font-style="italic"> = 0.00055</tspan></text>
<line x1="278.30" y1="447.00" x2="278.30" y2="519.00" stroke="#d6d6d6" stroke-width="0.9"/>
<line x1="278.30" y1="519.00" x2="343.70" y2="519.00" stroke="#d6d6d6" stroke-width="0.9"/>
<text x="276.30" y="460.20" font-size="7.6" text-anchor="end" transform="translate(276.30 460.20) scale(1 1.15) translate(-276.30 -460.20)">2</text>
<text x="276.30" y="471.70" font-size="7.6" text-anchor="end" transform="translate(276.30 471.70) scale(1 1.15) translate(-276.30 -471.70)">1</text>
<text x="276.30" y="484.70" font-size="7.6" text-anchor="end" transform="translate(276.30 484.70) scale(1 1.15) translate(-276.30 -484.70)">0</text>
<text x="276.30" y="496.70" font-size="7.6" text-anchor="end" transform="translate(276.30 496.70) scale(1 1.15) translate(-276.30 -496.70)">−1</text>
<text x="276.30" y="509.20" font-size="7.6" text-anchor="end" transform="translate(276.30 509.20) scale(1 1.15) translate(-276.30 -509.20)">−2</text>
<text x="276.30" y="521.20" font-size="7.6" text-anchor="end" transform="translate(276.30 521.20) scale(1 1.15) translate(-276.30 -521.20)">−3</text>
<text x="296.50" y="526.00" font-size="7.6" text-anchor="middle" transform="translate(296.50 526.00) scale(1 1.15) translate(-296.50 -526.00)">−0.4</text>
<text x="313.80" y="526.00" font-size="7.6" text-anchor="middle" transform="translate(313.80 526.00) scale(1 1.15) translate(-313.80 -526.00)">0</text>
<text x="334.00" y="526.00" font-size="7.6" text-anchor="middle" transform="translate(334.00 526.00) scale(1 1.15) translate(-334.00 -526.00)">0.4</text>
<text x="294.60" y="449.80" font-size="9.6" transform="translate(294.60 449.80) scale(1 1.15) translate(-294.60 -449.80)">mCRPC</text>
<g fill="#b5283a" fill-opacity="0.5"><circle cx="337.7" cy="504.4" r="0.6"/><circle cx="299.6" cy="490.2" r="0.6"/><circle cx="324.4" cy="483.1" r="0.6"/><circle cx="320.1" cy="473.5" r="0.6"/><circle cx="292.0" cy="469.0" r="0.6"/><circle cx="289.8" cy="496.5" r="0.6"/><circle cx="307.8" cy="478.9" r="0.6"/><circle cx="320.7" cy="467.4" r="0.6"/><circle cx="322.3" cy="499.1" r="0.6"/><circle cx="307.6" cy="503.0" r="0.6"/><circle cx="287.4" cy="461.5" r="0.6"/><circle cx="339.6" cy="460.1" r="0.6"/><circle cx="322.8" cy="481.0" r="0.6"/><circle cx="299.3" cy="481.1" r="0.6"/><circle cx="310.5" cy="487.6" r="0.6"/><circle cx="321.1" cy="493.6" r="0.6"/><circle cx="309.1" cy="453.3" r="0.6"/><circle cx="322.2" cy="486.4" r="0.6"/><circle cx="338.4" cy="468.5" r="0.6"/><circle cx="310.4" cy="468.4" r="0.6"/><circle cx="318.7" cy="460.6" r="0.6"/><circle cx="306.7" cy="494.1" r="0.6"/><circle cx="317.0" cy="487.3" r="0.6"/><circle cx="338.6" cy="473.3" r="0.6"/><circle cx="320.7" cy="474.3" r="0.6"/><circle cx="343.3" cy="481.5" r="0.6"/><circle cx="317.0" cy="495.1" r="0.6"/><circle cx="311.2" cy="473.1" r="0.6"/><circle cx="292.4" cy="495.9" r="0.6"/><circle cx="339.8" cy="473.5" r="0.6"/><circle cx="320.4" cy="495.5" r="0.6"/><circle cx="309.0" cy="480.1" r="0.6"/><circle cx="282.4" cy="490.0" r="0.6"/><circle cx="329.8" cy="487.0" r="0.6"/><circle cx="333.3" cy="479.0" r="0.6"/><circle cx="319.6" cy="468.0" r="0.6"/><circle cx="291.2" cy="472.6" r="0.6"/><circle cx="297.4" cy="466.9" r="0.6"/><circle cx="311.4" cy="485.1" r="0.6"/><circle cx="317.2" cy="496.0" r="0.6"/><circle cx="309.9" cy="472.8" r="0.6"/><circle cx="320.3" cy="475.6" r="0.6"/><circle cx="311.9" cy="477.4" r="0.6"/><circle cx="313.8" cy="477.0" r="0.6"/><circle cx="342.6" cy="482.8" r="0.6"/><circle cx="301.0" cy="458.5" r="0.6"/><circle cx="315.0" cy="498.0" r="0.6"/><circle cx="304.6" cy="471.0" r="0.6"/><circle cx="320.8" cy="483.7" r="0.6"/><circle cx="320.3" cy="481.9" r="0.6"/><circle cx="310.8" cy="491.3" r="0.6"/><circle cx="296.6" cy="464.1" r="0.6"/><circle cx="313.7" cy="462.3" r="0.6"/><circle cx="313.7" cy="470.2" r="0.6"/><circle cx="322.0" cy="477.6" r="0.6"/><circle cx="296.4" cy="484.9" r="0.6"/><circle cx="292.7" cy="459.3" r="0.6"/><circle cx="327.2" cy="462.8" r="0.6"/><circle cx="342.7" cy="484.9" r="0.6"/><circle cx="301.3" cy="476.9" r="0.6"/><circle cx="315.5" cy="479.1" r="0.6"/><circle cx="283.5" cy="489.7" r="0.6"/><circle cx="301.9" cy="481.1" r="0.6"/><circle cx="313.2" cy="469.5" r="0.6"/><circle cx="298.1" cy="472.9" r="0.6"/><circle cx="282.2" cy="464.5" r="0.6"/><circle cx="301.1" cy="483.9" r="0.6"/><circle cx="317.0" cy="479.5" r="0.6"/><circle cx="303.4" cy="483.7" r="0.6"/><circle cx="322.0" cy="470.8" r="0.6"/><circle cx="322.4" cy="482.5" r="0.6"/><circle cx="296.4" cy="483.5" r="0.6"/><circle cx="327.8" cy="476.1" r="0.6"/><circle cx="324.5" cy="490.6" r="0.6"/><circle cx="298.0" cy="455.8" r="0.6"/><circle cx="312.0" cy="488.0" r="0.6"/><circle cx="298.8" cy="493.6" r="0.6"/><circle cx="309.4" cy="491.3" r="0.6"/><circle cx="317.7" cy="491.2" r="0.6"/><circle cx="342.8" cy="487.8" r="0.6"/><circle cx="306.2" cy="477.7" r="0.6"/><circle cx="329.2" cy="473.9" r="0.6"/><circle cx="338.1" cy="469.5" r="0.6"/><circle cx="309.2" cy="474.8" r="0.6"/><circle cx="332.0" cy="500.6" r="0.6"/><circle cx="309.1" cy="490.4" r="0.6"/><circle cx="302.4" cy="478.2" r="0.6"/><circle cx="303.1" cy="487.1" r="0.6"/><circle cx="309.9" cy="472.6" r="0.6"/><circle cx="297.3" cy="490.1" r="0.6"/><circle cx="314.1" cy="488.4" r="0.6"/><circle cx="331.2" cy="499.0" r="0.6"/><circle cx="330.8" cy="493.2" r="0.6"/><circle cx="307.7" cy="485.4" r="0.6"/><circle cx="307.1" cy="492.0" r="0.6"/><circle cx="297.2" cy="481.8" r="0.6"/><circle cx="318.4" cy="463.3" r="0.6"/><circle cx="326.1" cy="484.6" r="0.6"/><circle cx="313.3" cy="475.8" r="0.6"/><circle cx="326.7" cy="461.5" r="0.6"/><circle cx="312.5" cy="504.1" r="0.6"/><circle cx="309.5" cy="479.5" r="0.6"/><circle cx="307.9" cy="488.5" r="0.6"/><circle cx="339.3" cy="496.6" r="0.6"/><circle cx="307.2" cy="489.4" r="0.6"/><circle cx="290.6" cy="499.4" r="0.6"/><circle cx="280.6" cy="485.2" r="0.6"/><circle cx="300.7" cy="477.9" r="0.6"/><circle cx="310.8" cy="476.5" r="0.6"/><circle cx="317.6" cy="494.5" r="0.6"/><circle cx="310.8" cy="488.9" r="0.6"/><circle cx="307.9" cy="484.0" r="0.6"/><circle cx="333.0" cy="475.1" r="0.6"/><circle cx="290.8" cy="470.0" r="0.6"/><circle cx="337.1" cy="487.3" r="0.6"/><circle cx="310.5" cy="480.2" r="0.6"/><circle cx="336.9" cy="508.9" r="0.6"/><circle cx="342.2" cy="483.6" r="0.6"/><circle cx="301.2" cy="476.5" r="0.6"/><circle cx="301.9" cy="477.0" r="0.6"/><circle cx="326.2" cy="496.4" r="0.6"/><circle cx="301.1" cy="483.5" r="0.6"/><circle cx="291.8" cy="487.3" r="0.6"/><circle cx="316.9" cy="488.1" r="0.6"/><circle cx="284.3" cy="464.0" r="0.6"/><circle cx="302.3" cy="495.5" r="0.6"/><circle cx="343.3" cy="466.4" r="0.6"/><circle cx="334.2" cy="479.0" r="0.6"/><circle cx="311.8" cy="466.5" r="0.6"/><circle cx="308.7" cy="486.4" r="0.6"/><circle cx="285.8" cy="487.2" r="0.6"/><circle cx="285.4" cy="472.7" r="0.6"/><circle cx="298.6" cy="476.4" r="0.6"/><circle cx="315.7" cy="472.1" r="0.6"/><circle cx="284.7" cy="495.7" r="0.6"/><circle cx="302.0" cy="475.4" r="0.6"/><circle cx="324.0" cy="488.6" r="0.6"/><circle cx="310.5" cy="455.2" r="0.6"/><circle cx="327.6" cy="498.2" r="0.6"/><circle cx="310.5" cy="500.1" r="0.6"/><circle cx="301.4" cy="486.6" r="0.6"/><circle cx="286.2" cy="485.9" r="0.6"/><circle cx="309.7" cy="489.7" r="0.6"/><circle cx="310.8" cy="479.6" r="0.6"/><circle cx="336.6" cy="483.4" r="0.6"/><circle cx="332.9" cy="471.6" r="0.6"/><circle cx="320.0" cy="472.8" r="0.6"/><circle cx="327.5" cy="480.8" r="0.6"/><circle cx="306.3" cy="471.3" r="0.6"/><circle cx="293.4" cy="481.4" r="0.6"/><circle cx="333.9" cy="500.0" r="0.6"/><circle cx="299.9" cy="505.0" r="0.6"/><circle cx="294.1" cy="474.8" r="0.6"/><circle cx="313.3" cy="478.1" r="0.6"/><circle cx="327.8" cy="471.2" r="0.6"/><circle cx="299.7" cy="461.4" r="0.6"/><circle cx="316.1" cy="486.6" r="0.6"/><circle cx="298.7" cy="515.3" r="0.6"/><circle cx="323.5" cy="460.5" r="0.6"/><circle cx="299.7" cy="502.5" r="0.6"/><circle cx="319.8" cy="483.2" r="0.6"/><circle cx="314.7" cy="453.3" r="0.6"/><circle cx="281.9" cy="503.6" r="0.6"/><circle cx="325.3" cy="491.6" r="0.6"/><circle cx="336.5" cy="476.3" r="0.6"/><circle cx="320.3" cy="455.0" r="0.6"/><circle cx="295.2" cy="475.0" r="0.6"/><circle cx="311.7" cy="462.7" r="0.6"/><circle cx="330.9" cy="484.1" r="0.6"/><circle cx="291.3" cy="478.6" r="0.6"/><circle cx="309.1" cy="480.7" r="0.6"/><circle cx="298.9" cy="489.7" r="0.6"/><circle cx="343.3" cy="496.3" r="0.6"/><circle cx="311.9" cy="484.1" r="0.6"/><circle cx="316.5" cy="475.0" r="0.6"/><circle cx="320.8" cy="473.4" r="0.6"/><circle cx="302.8" cy="482.9" r="0.6"/><circle cx="320.6" cy="503.2" r="0.6"/><circle cx="311.3" cy="498.1" r="0.6"/><circle cx="320.4" cy="471.0" r="0.6"/><circle cx="335.1" cy="485.5" r="0.6"/><circle cx="285.5" cy="488.6" r="0.6"/><circle cx="300.5" cy="486.9" r="0.6"/><circle cx="309.3" cy="483.7" r="0.6"/><circle cx="328.0" cy="479.0" r="0.6"/><circle cx="318.9" cy="475.5" r="0.6"/><circle cx="329.6" cy="512.6" r="0.6"/><circle cx="298.1" cy="486.5" r="0.6"/><circle cx="294.6" cy="495.4" r="0.6"/><circle cx="321.0" cy="494.0" r="0.6"/><circle cx="325.9" cy="495.7" r="0.6"/><circle cx="317.4" cy="483.6" r="0.6"/><circle cx="323.3" cy="490.4" r="0.6"/><circle cx="313.7" cy="491.0" r="0.6"/><circle cx="336.7" cy="468.8" r="0.6"/><circle cx="342.4" cy="500.9" r="0.6"/><circle cx="308.1" cy="468.1" r="0.6"/><circle cx="330.6" cy="478.5" r="0.6"/><circle cx="296.5" cy="467.7" r="0.6"/><circle cx="286.0" cy="504.2" r="0.6"/><circle cx="293.5" cy="481.1" r="0.6"/><circle cx="312.6" cy="480.7" r="0.6"/><circle cx="281.2" cy="466.3" r="0.6"/><circle cx="338.7" cy="462.4" r="0.6"/><circle cx="294.7" cy="490.6" r="0.6"/><circle cx="292.8" cy="486.3" r="0.6"/><circle cx="306.5" cy="472.9" r="0.6"/><circle cx="328.4" cy="482.4" r="0.6"/><circle cx="300.8" cy="486.0" r="0.6"/><circle cx="321.0" cy="512.1" r="0.6"/><circle cx="292.4" cy="482.0" r="0.6"/><circle cx="314.8" cy="475.4" r="0.6"/><circle cx="312.9" cy="461.7" r="0.6"/><circle cx="309.3" cy="461.9" r="0.6"/><circle cx="288.9" cy="497.3" r="0.6"/><circle cx="341.1" cy="504.2" r="0.6"/><circle cx="302.0" cy="467.5" r="0.6"/><circle cx="310.4" cy="475.0" r="0.6"/><circle cx="331.1" cy="460.5" r="0.6"/><circle cx="285.3" cy="490.7" r="0.6"/><circle cx="308.8" cy="480.5" r="0.6"/><circle cx="317.6" cy="489.8" r="0.6"/><circle cx="341.5" cy="461.9" r="0.6"/><circle cx="298.7" cy="474.1" r="0.6"/><circle cx="296.7" cy="495.2" r="0.6"/><circle cx="296.5" cy="491.6" r="0.6"/><circle cx="327.4" cy="496.2" r="0.6"/><circle cx="342.4" cy="468.9" r="0.6"/><circle cx="310.7" cy="481.7" r="0.6"/><circle cx="294.6" cy="483.3" r="0.6"/><circle cx="308.0" cy="468.9" r="0.6"/><circle cx="314.1" cy="474.1" r="0.6"/><circle cx="306.7" cy="493.9" r="0.6"/><circle cx="288.5" cy="482.8" r="0.6"/><circle cx="331.1" cy="496.0" r="0.6"/><circle cx="328.9" cy="496.5" r="0.6"/><circle cx="321.1" cy="464.7" r="0.6"/><circle cx="300.5" cy="484.6" r="0.6"/><circle cx="289.8" cy="479.8" r="0.6"/><circle cx="301.8" cy="463.6" r="0.6"/><circle cx="308.3" cy="483.6" r="0.6"/><circle cx="306.1" cy="471.8" r="0.6"/><circle cx="338.5" cy="470.6" r="0.6"/><circle cx="317.8" cy="462.0" r="0.6"/><circle cx="314.4" cy="491.8" r="0.6"/><circle cx="284.5" cy="476.2" r="0.6"/><circle cx="312.0" cy="474.6" r="0.6"/><circle cx="327.8" cy="463.4" r="0.6"/><circle cx="323.5" cy="480.9" r="0.6"/><circle cx="306.6" cy="469.5" r="0.6"/><circle cx="314.6" cy="507.1" r="0.6"/><circle cx="305.2" cy="485.9" r="0.6"/><circle cx="341.9" cy="449.7" r="0.6"/><circle cx="328.5" cy="493.7" r="0.6"/><circle cx="298.1" cy="483.8" r="0.6"/><circle cx="291.2" cy="499.4" r="0.6"/><circle cx="294.2" cy="486.5" r="0.6"/><circle cx="299.1" cy="472.8" r="0.6"/><circle cx="298.2" cy="476.6" r="0.6"/><circle cx="301.3" cy="462.4" r="0.6"/><circle cx="304.9" cy="460.1" r="0.6"/><circle cx="324.1" cy="468.3" r="0.6"/><circle cx="295.2" cy="477.4" r="0.6"/><circle cx="320.7" cy="487.6" r="0.6"/><circle cx="325.9" cy="466.1" r="0.6"/><circle cx="288.8" cy="488.4" r="0.6"/><circle cx="304.6" cy="483.3" r="0.6"/><circle cx="325.6" cy="467.6" r="0.6"/><circle cx="342.7" cy="481.3" r="0.6"/><circle cx="328.1" cy="494.2" r="0.6"/><circle cx="322.7" cy="485.1" r="0.6"/><circle cx="307.6" cy="485.0" r="0.6"/><circle cx="319.6" cy="500.6" r="0.6"/><circle cx="320.9" cy="487.4" r="0.6"/><circle cx="319.1" cy="472.8" r="0.6"/><circle cx="315.7" cy="474.0" r="0.6"/><circle cx="331.0" cy="487.5" r="0.6"/><circle cx="294.8" cy="470.9" r="0.6"/></g>
<polygon points="281.00,484.30 312.00,480.35 343.00,472.40 343.00,478.40 312.00,482.35 281.00,490.30" fill="#8a8a8a" fill-opacity="0.8"/>
<line x1="281.00" y1="487.30" x2="343.00" y2="475.40" stroke="#3c3c3c" stroke-width="1.2"/>
<text x="321.50" y="506.60" font-size="7.6" transform="translate(321.50 506.60) scale(1 1.15) translate(-321.50 -506.60)"><tspan font-style="italic">R</tspan> = 0.24</text>
<text x="321.50" y="515.30" font-size="7.6" transform="translate(321.50 515.30) scale(1 1.15) translate(-321.50 -515.30)"><tspan font-style="italic">P</tspan> = <tspan font-style="italic">1.3</tspan> × 10<tspan font-size="5.3" dy="-3.1">−5</tspan></text>
<circle cx="3.80" cy="428.30" r="1.50" fill="#2c3670"/>
<text x="7.90" y="432.30" font-size="7.7" transform="translate(7.90 432.30) scale(1 1.15) translate(-7.90 -432.30)">TCGA</text>
<circle cx="3.80" cy="440.00" r="1.50" fill="#861828"/>
<text x="7.90" y="443.00" font-size="7.7" transform="translate(7.90 443.00) scale(1 1.15) translate(-7.90 -443.00)">SU2C</text>
<text x="1.70" y="549.40" font-size="13" font-weight="bold" fill="#000">G</text>
<text x="84.60" y="555.00" font-size="9.7" transform="translate(84.60 555.00) scale(1 1.15) translate(-84.60 -555.00)" text-decoration="underline">MYC</text>
<line x1="18.70" y1="568.50" x2="18.70" y2="641.20" stroke="#d6d6d6" stroke-width="0.9"/>
<line x1="18.70" y1="641.20" x2="87.50" y2="641.20" stroke="#d6d6d6" stroke-width="0.9"/>
<text x="17.20" y="588.90" font-size="7.6" text-anchor="end" transform="translate(17.20 588.90) scale(1 1.15) translate(-17.20 -588.90)">2</text>
<text x="17.20" y="607.70" font-size="7.6" text-anchor="end" transform="translate(17.20 607.70) scale(1 1.15) translate(-17.20 -607.70)">0</text>
<text x="17.20" y="626.90" font-size="7.6" text-anchor="end" transform="translate(17.20 626.90) scale(1 1.15) translate(-17.20 -626.90)">−2</text>
<text x="34.60" y="649.60" font-size="7.6" text-anchor="middle" transform="translate(34.60 649.60) scale(1 1.15) translate(-34.60 -649.60)">−2</text>
<text x="55.80" y="649.60" font-size="7.6" text-anchor="middle" transform="translate(55.80 649.60) scale(1 1.15) translate(-55.80 -649.60)">0</text>
<text x="77.00" y="649.60" font-size="7.6" text-anchor="middle" transform="translate(77.00 649.60) scale(1 1.15) translate(-77.00 -649.60)">2</text>
<text x="36.50" y="569.40" font-size="9.6" transform="translate(36.50 569.40) scale(1 1.15) translate(-36.50 -569.40)">Primary</text>
<text x="9.40" y="602.60" font-size="9.6" text-anchor="middle" transform="rotate(-90 9.40 602.60) translate(9.40 602.60) scale(1 1.15) translate(-9.40 -602.60)">KDM1A</text>
<g fill="#2f3a9a" fill-opacity="0.6"><circle cx="57.1" cy="613.5" r="0.6"/><circle cx="69.9" cy="610.8" r="0.6"/><circle cx="47.0" cy="600.7" r="0.6"/><circle cx="50.9" cy="608.5" r="0.6"/><circle cx="71.0" cy="629.8" r="0.6"/><circle cx="46.6" cy="601.9" r="0.6"/><circle cx="68.2" cy="614.7" r="0.6"/><circle cx="55.0" cy="599.2" r="0.6"/><circle cx="81.9" cy="593.8" r="0.6"/><circle cx="48.4" cy="608.6" r="0.6"/><circle cx="49.6" cy="617.4" r="0.6"/><circle cx="74.0" cy="589.5" r="0.6"/><circle cx="43.5" cy="604.0" r="0.6"/><circle cx="57.6" cy="599.5" r="0.6"/><circle cx="45.1" cy="592.6" r="0.6"/><circle cx="61.7" cy="590.7" r="0.6"/><circle cx="62.9" cy="583.9" r="0.6"/><circle cx="47.2" cy="613.8" r="0.6"/><circle cx="48.7" cy="587.5" r="0.6"/><circle cx="52.8" cy="598.2" r="0.6"/><circle cx="54.6" cy="590.0" r="0.6"/><circle cx="66.5" cy="603.8" r="0.6"/><circle cx="61.0" cy="578.7" r="0.6"/><circle cx="67.3" cy="596.0" r="0.6"/><circle cx="57.5" cy="584.3" r="0.6"/><circle cx="51.8" cy="608.1" r="0.6"/><circle cx="58.7" cy="583.8" r="0.6"/><circle cx="81.1" cy="589.1" r="0.6"/><circle cx="62.2" cy="602.3" r="0.6"/><circle cx="41.9" cy="607.0" r="0.6"/><circle cx="69.7" cy="617.5" r="0.6"/><circle cx="62.6" cy="608.0" r="0.6"/><circle cx="62.3" cy="593.7" r="0.6"/><circle cx="67.4" cy="606.4" r="0.6"/><circle cx="68.1" cy="579.9" r="0.6"/><circle cx="59.3" cy="607.3" r="0.6"/><circle cx="56.4" cy="597.7" r="0.6"/><circle cx="51.2" cy="588.2" r="0.6"/><circle cx="53.5" cy="589.7" r="0.6"/><circle cx="63.9" cy="625.9" r="0.6"/><circle cx="62.5" cy="599.0" r="0.6"/><circle cx="55.7" cy="591.7" r="0.6"/><circle cx="43.4" cy="591.4" r="0.6"/><circle cx="63.0" cy="596.4" r="0.6"/><circle cx="59.7" cy="611.6" r="0.6"/><circle cx="68.0" cy="614.9" r="0.6"/><circle cx="49.4" cy="585.2" r="0.6"/><circle cx="46.7" cy="599.1" r="0.6"/><circle cx="52.8" cy="602.7" r="0.6"/><circle cx="66.9" cy="590.4" r="0.6"/><circle cx="71.8" cy="604.6" r="0.6"/><circle cx="43.8" cy="605.0" r="0.6"/><circle cx="48.3" cy="626.7" r="0.6"/><circle cx="61.4" cy="601.2" r="0.6"/><circle cx="60.1" cy="610.9" r="0.6"/><circle cx="49.2" cy="603.8" r="0.6"/><circle cx="54.7" cy="600.9" r="0.6"/><circle cx="53.7" cy="587.4" r="0.6"/><circle cx="63.2" cy="601.5" r="0.6"/><circle cx="70.4" cy="586.2" r="0.6"/><circle cx="65.7" cy="585.5" r="0.6"/><circle cx="62.9" cy="599.2" r="0.6"/><circle cx="58.3" cy="612.5" r="0.6"/><circle cx="53.6" cy="591.3" r="0.6"/><circle cx="57.1" cy="601.6" r="0.6"/><circle cx="51.8" cy="579.7" r="0.6"/><circle cx="55.9" cy="616.3" r="0.6"/><circle cx="34.0" cy="620.0" r="0.6"/><circle cx="47.9" cy="603.0" r="0.6"/><circle cx="69.9" cy="585.2" r="0.6"/><circle cx="44.4" cy="597.6" r="0.6"/><circle cx="69.8" cy="607.5" r="0.6"/><circle cx="72.8" cy="603.4" r="0.6"/><circle cx="76.5" cy="599.4" r="0.6"/><circle cx="58.9" cy="615.4" r="0.6"/><circle cx="41.8" cy="608.3" r="0.6"/><circle cx="62.6" cy="578.4" r="0.6"/><circle cx="77.5" cy="593.5" r="0.6"/><circle cx="67.3" cy="613.2" r="0.6"/><circle cx="85.6" cy="591.8" r="0.6"/><circle cx="73.1" cy="604.9" r="0.6"/><circle cx="55.5" cy="597.3" r="0.6"/><circle cx="58.2" cy="600.9" r="0.6"/><circle cx="44.2" cy="614.8" r="0.6"/><circle cx="71.9" cy="621.0" r="0.6"/><circle cx="67.2" cy="598.3" r="0.6"/><circle cx="64.7" cy="595.5" r="0.6"/><circle cx="75.6" cy="588.3" r="0.6"/><circle cx="80.2" cy="607.3" r="0.6"/><circle cx="65.6" cy="618.1" r="0.6"/><circle cx="67.0" cy="581.5" r="0.6"/><circle cx="59.4" cy="616.5" r="0.6"/><circle cx="67.2" cy="620.3" r="0.6"/><circle cx="62.3" cy="606.1" r="0.6"/><circle cx="50.8" cy="610.4" r="0.6"/><circle cx="75.4" cy="596.1" r="0.6"/><circle cx="36.9" cy="617.0" r="0.6"/><circle cx="51.9" cy="597.7" r="0.6"/><circle cx="67.4" cy="607.1" r="0.6"/><circle cx="60.7" cy="606.7" r="0.6"/><circle cx="60.1" cy="599.0" r="0.6"/><circle cx="62.6" cy="601.6" r="0.6"/><circle cx="47.1" cy="623.8" r="0.6"/><circle cx="37.7" cy="615.0" r="0.6"/><circle cx="67.3" cy="599.1" r="0.6"/><circle cx="46.7" cy="601.0" r="0.6"/><circle cx="66.7" cy="612.7" r="0.6"/><circle cx="51.8" cy="614.4" r="0.6"/><circle cx="67.8" cy="602.8" r="0.6"/><circle cx="52.4" cy="625.8" r="0.6"/><circle cx="54.8" cy="609.4" r="0.6"/><circle cx="70.7" cy="604.0" r="0.6"/><circle cx="68.3" cy="594.6" r="0.6"/><circle cx="70.4" cy="601.2" r="0.6"/><circle cx="59.7" cy="594.3" r="0.6"/><circle cx="52.7" cy="612.8" r="0.6"/><circle cx="72.6" cy="578.8" r="0.6"/><circle cx="69.3" cy="598.2" r="0.6"/><circle cx="38.6" cy="596.7" r="0.6"/><circle cx="72.8" cy="578.7" r="0.6"/><circle cx="53.5" cy="582.2" r="0.6"/><circle cx="53.8" cy="601.7" r="0.6"/><circle cx="60.1" cy="617.8" r="0.6"/><circle cx="50.7" cy="587.3" r="0.6"/><circle cx="54.3" cy="609.7" r="0.6"/><circle cx="48.9" cy="598.9" r="0.6"/><circle cx="62.1" cy="614.0" r="0.6"/><circle cx="63.2" cy="605.1" r="0.6"/><circle cx="58.5" cy="607.7" r="0.6"/><circle cx="53.1" cy="609.9" r="0.6"/><circle cx="51.3" cy="622.7" r="0.6"/><circle cx="50.9" cy="599.9" r="0.6"/><circle cx="42.8" cy="613.4" r="0.6"/><circle cx="83.7" cy="593.4" r="0.6"/><circle cx="56.1" cy="602.9" r="0.6"/><circle cx="63.7" cy="600.3" r="0.6"/><circle cx="56.4" cy="586.7" r="0.6"/><circle cx="50.7" cy="607.8" r="0.6"/><circle cx="62.2" cy="595.5" r="0.6"/><circle cx="59.3" cy="611.6" r="0.6"/><circle cx="65.5" cy="592.5" r="0.6"/><circle cx="65.7" cy="604.8" r="0.6"/><circle cx="53.5" cy="603.0" r="0.6"/><circle cx="56.3" cy="606.2" r="0.6"/><circle cx="68.1" cy="597.2" r="0.6"/><circle cx="76.9" cy="619.9" r="0.6"/><circle cx="68.0" cy="608.6" r="0.6"/><circle cx="64.0" cy="581.0" r="0.6"/><circle cx="63.0" cy="596.4" r="0.6"/><circle cx="51.1" cy="596.5" r="0.6"/><circle cx="71.7" cy="604.7" r="0.6"/><circle cx="51.2" cy="608.4" r="0.6"/><circle cx="65.1" cy="605.3" r="0.6"/><circle cx="63.8" cy="605.9" r="0.6"/><circle cx="75.4" cy="595.8" r="0.6"/><circle cx="59.8" cy="611.8" r="0.6"/><circle cx="68.3" cy="589.2" r="0.6"/><circle cx="81.0" cy="603.7" r="0.6"/><circle cx="56.6" cy="611.4" r="0.6"/><circle cx="61.0" cy="603.9" r="0.6"/><circle cx="64.8" cy="605.6" r="0.6"/><circle cx="56.8" cy="589.4" r="0.6"/><circle cx="61.8" cy="603.2" r="0.6"/><circle cx="62.5" cy="599.9" r="0.6"/><circle cx="55.0" cy="595.9" r="0.6"/><circle cx="46.6" cy="597.8" r="0.6"/><circle cx="54.4" cy="602.2" r="0.6"/><circle cx="54.0" cy="597.0" r="0.6"/><circle cx="59.8" cy="619.2" r="0.6"/><circle cx="46.1" cy="593.9" r="0.6"/><circle cx="63.4" cy="580.8" r="0.6"/><circle cx="58.4" cy="580.9" r="0.6"/><circle cx="58.9" cy="583.1" r="0.6"/><circle cx="70.2" cy="590.6" r="0.6"/><circle cx="48.5" cy="615.0" r="0.6"/><circle cx="78.3" cy="582.0" r="0.6"/><circle cx="61.1" cy="609.7" r="0.6"/><circle cx="68.2" cy="610.5" r="0.6"/><circle cx="73.3" cy="590.0" r="0.6"/><circle cx="38.2" cy="603.1" r="0.6"/><circle cx="60.1" cy="586.5" r="0.6"/><circle cx="78.8" cy="592.7" r="0.6"/><circle cx="64.4" cy="597.3" r="0.6"/><circle cx="50.4" cy="612.0" r="0.6"/><circle cx="58.8" cy="604.8" r="0.6"/><circle cx="71.4" cy="601.8" r="0.6"/><circle cx="55.5" cy="612.3" r="0.6"/><circle cx="52.4" cy="602.1" r="0.6"/><circle cx="51.3" cy="620.0" r="0.6"/><circle cx="57.0" cy="592.6" r="0.6"/><circle cx="68.0" cy="600.2" r="0.6"/><circle cx="49.5" cy="608.9" r="0.6"/><circle cx="66.8" cy="608.5" r="0.6"/><circle cx="64.3" cy="596.9" r="0.6"/><circle cx="33.5" cy="607.0" r="0.6"/><circle cx="59.5" cy="598.5" r="0.6"/><circle cx="62.2" cy="603.3" r="0.6"/><circle cx="50.3" cy="615.7" r="0.6"/><circle cx="58.1" cy="599.1" r="0.6"/><circle cx="49.5" cy="609.9" r="0.6"/><circle cx="75.4" cy="580.2" r="0.6"/><circle cx="69.7" cy="625.5" r="0.6"/><circle cx="55.1" cy="608.4" r="0.6"/><circle cx="60.8" cy="610.9" r="0.6"/><circle cx="46.5" cy="612.2" r="0.6"/><circle cx="69.1" cy="624.6" r="0.6"/><circle cx="51.2" cy="608.7" r="0.6"/><circle cx="61.9" cy="586.6" r="0.6"/><circle cx="64.9" cy="622.9" r="0.6"/><circle cx="38.2" cy="591.1" r="0.6"/><circle cx="67.4" cy="598.2" r="0.6"/><circle cx="51.9" cy="616.9" r="0.6"/><circle cx="56.3" cy="610.0" r="0.6"/><circle cx="62.5" cy="593.8" r="0.6"/><circle cx="53.0" cy="604.5" r="0.6"/><circle cx="60.4" cy="592.8" r="0.6"/><circle cx="48.7" cy="611.5" r="0.6"/><circle cx="65.4" cy="600.6" r="0.6"/><circle cx="51.5" cy="592.9" r="0.6"/><circle cx="64.3" cy="595.3" r="0.6"/><circle cx="57.9" cy="601.6" r="0.6"/><circle cx="47.0" cy="614.2" r="0.6"/><circle cx="80.2" cy="580.9" r="0.6"/><circle cx="47.4" cy="599.2" r="0.6"/><circle cx="75.7" cy="617.8" r="0.6"/><circle cx="77.6" cy="597.3" r="0.6"/><circle cx="69.2" cy="599.9" r="0.6"/><circle cx="67.8" cy="587.5" r="0.6"/><circle cx="47.2" cy="599.5" r="0.6"/><circle cx="54.1" cy="621.1" r="0.6"/><circle cx="48.9" cy="599.5" r="0.6"/><circle cx="58.7" cy="612.7" r="0.6"/><circle cx="47.8" cy="596.2" r="0.6"/><circle cx="58.4" cy="590.8" r="0.6"/><circle cx="55.5" cy="612.1" r="0.6"/><circle cx="36.9" cy="607.7" r="0.6"/><circle cx="77.6" cy="589.9" r="0.6"/><circle cx="42.4" cy="598.9" r="0.6"/><circle cx="74.2" cy="592.2" r="0.6"/><circle cx="65.3" cy="575.6" r="0.6"/><circle cx="68.6" cy="633.0" r="0.6"/><circle cx="59.8" cy="595.8" r="0.6"/><circle cx="55.3" cy="612.1" r="0.6"/><circle cx="52.8" cy="602.2" r="0.6"/><circle cx="68.3" cy="594.2" r="0.6"/><circle cx="68.6" cy="584.3" r="0.6"/><circle cx="53.5" cy="612.2" r="0.6"/><circle cx="62.1" cy="606.1" r="0.6"/><circle cx="46.2" cy="597.4" r="0.6"/><circle cx="38.7" cy="590.1" r="0.6"/><circle cx="61.1" cy="619.7" r="0.6"/><circle cx="54.6" cy="593.3" r="0.6"/><circle cx="59.6" cy="614.2" r="0.6"/><circle cx="50.9" cy="604.7" r="0.6"/><circle cx="57.9" cy="587.1" r="0.6"/><circle cx="66.3" cy="603.4" r="0.6"/><circle cx="59.8" cy="594.2" r="0.6"/><circle cx="72.3" cy="598.6" r="0.6"/><circle cx="71.0" cy="606.7" r="0.6"/><circle cx="59.9" cy="600.8" r="0.6"/><circle cx="54.1" cy="606.9" r="0.6"/><circle cx="37.4" cy="588.1" r="0.6"/><circle cx="75.1" cy="590.2" r="0.6"/><circle cx="62.0" cy="588.5" r="0.6"/><circle cx="55.9" cy="602.4" r="0.6"/><circle cx="64.7" cy="601.0" r="0.6"/><circle cx="64.1" cy="580.6" r="0.6"/><circle cx="80.6" cy="579.9" r="0.6"/><circle cx="49.6" cy="609.3" r="0.6"/><circle cx="33.6" cy="611.9" r="0.6"/><circle cx="46.0" cy="578.6" r="0.6"/><circle cx="59.6" cy="613.5" r="0.6"/><circle cx="55.9" cy="606.6" r="0.6"/><circle cx="44.2" cy="611.9" r="0.6"/><circle cx="58.1" cy="605.3" r="0.6"/><circle cx="71.3" cy="595.2" r="0.6"/><circle cx="52.5" cy="604.9" r="0.6"/><circle cx="49.3" cy="614.7" r="0.6"/><circle cx="50.1" cy="633.4" r="0.6"/><circle cx="47.5" cy="594.8" r="0.6"/><circle cx="59.6" cy="589.1" r="0.6"/><circle cx="68.2" cy="617.1" r="0.6"/><circle cx="71.6" cy="624.1" r="0.6"/><circle cx="64.3" cy="613.6" r="0.6"/><circle cx="54.4" cy="582.1" r="0.6"/><circle cx="56.7" cy="601.7" r="0.6"/><circle cx="67.1" cy="594.3" r="0.6"/><circle cx="73.8" cy="597.5" r="0.6"/><circle cx="55.5" cy="604.1" r="0.6"/><circle cx="58.0" cy="609.0" r="0.6"/><circle cx="68.9" cy="596.8" r="0.6"/><circle cx="45.6" cy="613.6" r="0.6"/><circle cx="59.9" cy="618.2" r="0.6"/><circle cx="39.5" cy="600.5" r="0.6"/><circle cx="69.3" cy="601.8" r="0.6"/><circle cx="61.0" cy="604.4" r="0.6"/><circle cx="52.2" cy="617.9" r="0.6"/><circle cx="63.0" cy="626.9" r="0.6"/><circle cx="57.9" cy="603.1" r="0.6"/><circle cx="61.4" cy="609.7" r="0.6"/><circle cx="42.6" cy="610.6" r="0.6"/><circle cx="64.1" cy="589.9" r="0.6"/><circle cx="51.7" cy="608.8" r="0.6"/><circle cx="71.0" cy="595.9" r="0.6"/><circle cx="65.6" cy="608.4" r="0.6"/><circle cx="64.9" cy="614.4" r="0.6"/><circle cx="72.5" cy="602.4" r="0.6"/><circle cx="57.3" cy="608.3" r="0.6"/><circle cx="64.4" cy="596.8" r="0.6"/><circle cx="60.4" cy="584.7" r="0.6"/><circle cx="59.7" cy="619.9" r="0.6"/><circle cx="39.0" cy="585.6" r="0.6"/><circle cx="47.9" cy="597.6" r="0.6"/><circle cx="75.5" cy="597.9" r="0.6"/><circle cx="54.0" cy="586.4" r="0.6"/><circle cx="60.8" cy="604.6" r="0.6"/><circle cx="56.4" cy="591.5" r="0.6"/><circle cx="71.9" cy="581.6" r="0.6"/><circle cx="62.8" cy="604.9" r="0.6"/><circle cx="53.3" cy="605.2" r="0.6"/><circle cx="77.3" cy="611.1" r="0.6"/><circle cx="63.1" cy="575.9" r="0.6"/><circle cx="43.6" cy="597.8" r="0.6"/><circle cx="78.9" cy="587.4" r="0.6"/><circle cx="59.1" cy="624.1" r="0.6"/><circle cx="60.0" cy="588.6" r="0.6"/><circle cx="36.3" cy="599.3" r="0.6"/><circle cx="57.6" cy="618.9" r="0.6"/><circle cx="57.9" cy="593.2" r="0.6"/><circle cx="47.3" cy="613.1" r="0.6"/><circle cx="42.1" cy="580.6" r="0.6"/><circle cx="58.1" cy="605.4" r="0.6"/><circle cx="61.2" cy="594.6" r="0.6"/><circle cx="48.3" cy="608.4" r="0.6"/><circle cx="58.1" cy="605.1" r="0.6"/><circle cx="70.2" cy="585.4" r="0.6"/><circle cx="50.8" cy="602.5" r="0.6"/><circle cx="51.6" cy="608.8" r="0.6"/><circle cx="53.4" cy="601.8" r="0.6"/><circle cx="68.4" cy="602.7" r="0.6"/><circle cx="55.2" cy="599.3" r="0.6"/><circle cx="58.5" cy="592.2" r="0.6"/><circle cx="70.7" cy="592.2" r="0.6"/><circle cx="77.1" cy="596.9" r="0.6"/><circle cx="62.9" cy="594.6" r="0.6"/><circle cx="53.4" cy="611.2" r="0.6"/><circle cx="61.0" cy="594.6" r="0.6"/><circle cx="66.4" cy="597.7" r="0.6"/><circle cx="64.6" cy="587.0" r="0.6"/><circle cx="54.3" cy="592.8" r="0.6"/><circle cx="54.2" cy="601.6" r="0.6"/><circle cx="61.5" cy="623.7" r="0.6"/><circle cx="65.9" cy="604.1" r="0.6"/><circle cx="55.6" cy="607.2" r="0.6"/><circle cx="64.0" cy="598.3" r="0.6"/><circle cx="48.0" cy="605.4" r="0.6"/><circle cx="53.5" cy="605.9" r="0.6"/><circle cx="64.6" cy="618.1" r="0.6"/><circle cx="30.2" cy="590.0" r="0.6"/><circle cx="59.8" cy="605.8" r="0.6"/><circle cx="57.0" cy="601.9" r="0.6"/><circle cx="49.7" cy="588.6" r="0.6"/><circle cx="53.9" cy="599.8" r="0.6"/><circle cx="39.2" cy="601.9" r="0.6"/><circle cx="56.1" cy="617.4" r="0.6"/><circle cx="47.0" cy="604.7" r="0.6"/><circle cx="67.8" cy="586.8" r="0.6"/><circle cx="55.8" cy="571.8" r="0.6"/><circle cx="83.1" cy="594.8" r="0.6"/><circle cx="76.6" cy="615.4" r="0.6"/><circle cx="66.7" cy="595.8" r="0.6"/><circle cx="58.5" cy="594.1" r="0.6"/><circle cx="50.4" cy="627.6" r="0.6"/><circle cx="86.1" cy="587.6" r="0.6"/><circle cx="50.2" cy="607.2" r="0.6"/><circle cx="48.2" cy="599.8" r="0.6"/><circle cx="53.6" cy="596.4" r="0.6"/><circle cx="52.0" cy="603.1" r="0.6"/><circle cx="58.9" cy="613.3" r="0.6"/><circle cx="47.8" cy="604.3" r="0.6"/><circle cx="52.9" cy="612.7" r="0.6"/><circle cx="56.8" cy="595.6" r="0.6"/><circle cx="36.3" cy="599.7" r="0.6"/><circle cx="47.7" cy="607.5" r="0.6"/><circle cx="70.4" cy="612.0" r="0.6"/><circle cx="67.7" cy="602.9" r="0.6"/><circle cx="62.5" cy="592.2" r="0.6"/><circle cx="76.2" cy="599.4" r="0.6"/><circle cx="38.6" cy="615.9" r="0.6"/><circle cx="61.6" cy="592.7" r="0.6"/><circle cx="46.4" cy="614.8" r="0.6"/><circle cx="58.8" cy="597.8" r="0.6"/><circle cx="57.3" cy="608.9" r="0.6"/><circle cx="78.3" cy="601.4" r="0.6"/><circle cx="66.9" cy="596.7" r="0.6"/><circle cx="55.6" cy="594.9" r="0.6"/><circle cx="72.3" cy="592.5" r="0.6"/><circle cx="48.5" cy="612.1" r="0.6"/><circle cx="57.7" cy="605.1" r="0.6"/><circle cx="23.6" cy="613.4" r="0.6"/><circle cx="67.2" cy="625.2" r="0.6"/><circle cx="59.0" cy="591.1" r="0.6"/><circle cx="74.3" cy="609.4" r="0.6"/><circle cx="59.3" cy="595.5" r="0.6"/><circle cx="56.1" cy="600.1" r="0.6"/><circle cx="45.3" cy="592.7" r="0.6"/><circle cx="60.6" cy="608.0" r="0.6"/><circle cx="65.2" cy="601.3" r="0.6"/><circle cx="51.2" cy="612.6" r="0.6"/><circle cx="59.6" cy="577.2" r="0.6"/><circle cx="62.3" cy="579.8" r="0.6"/><circle cx="58.7" cy="591.1" r="0.6"/><circle cx="64.1" cy="573.5" r="0.6"/><circle cx="50.6" cy="621.9" r="0.6"/><circle cx="37.8" cy="594.5" r="0.6"/><circle cx="50.1" cy="613.6" r="0.6"/><circle cx="53.4" cy="591.5" r="0.6"/><circle cx="50.2" cy="602.9" r="0.6"/><circle cx="59.3" cy="608.0" r="0.6"/><circle cx="61.6" cy="601.2" r="0.6"/><circle cx="54.0" cy="610.4" r="0.6"/><circle cx="53.5" cy="602.4" r="0.6"/><circle cx="56.5" cy="587.7" r="0.6"/><circle cx="67.8" cy="612.9" r="0.6"/><circle cx="55.8" cy="596.2" r="0.6"/><circle cx="46.9" cy="596.1" r="0.6"/><circle cx="42.0" cy="622.2" r="0.6"/><circle cx="78.8" cy="609.5" r="0.6"/><circle cx="61.6" cy="617.4" r="0.6"/><circle cx="48.1" cy="601.7" r="0.6"/><circle cx="68.1" cy="596.7" r="0.6"/><circle cx="33.4" cy="612.6" r="0.6"/><circle cx="54.1" cy="606.0" r="0.6"/><circle cx="44.8" cy="613.4" r="0.6"/><circle cx="75.9" cy="588.7" r="0.6"/><circle cx="64.1" cy="600.4" r="0.6"/><circle cx="66.1" cy="604.1" r="0.6"/><circle cx="62.4" cy="609.3" r="0.6"/><circle cx="65.7" cy="589.7" r="0.6"/><circle cx="49.2" cy="579.5" r="0.6"/><circle cx="59.1" cy="602.6" r="0.6"/><circle cx="64.4" cy="637.1" r="0.6"/><circle cx="29.8" cy="622.0" r="0.6"/><circle cx="64.6" cy="581.5" r="0.6"/><circle cx="50.0" cy="602.2" r="0.6"/><circle cx="56.6" cy="603.4" r="0.6"/><circle cx="62.3" cy="596.5" r="0.6"/><circle cx="39.9" cy="584.4" r="0.6"/><circle cx="49.4" cy="595.2" r="0.6"/><circle cx="39.5" cy="599.7" r="0.6"/><circle cx="74.0" cy="590.3" r="0.6"/><circle cx="52.1" cy="615.7" r="0.6"/><circle cx="57.6" cy="592.5" r="0.6"/><circle cx="50.1" cy="613.8" r="0.6"/><circle cx="34.4" cy="601.1" r="0.6"/><circle cx="58.6" cy="600.7" r="0.6"/><circle cx="70.3" cy="576.5" r="0.6"/><circle cx="59.0" cy="588.8" r="0.6"/><circle cx="65.6" cy="596.8" r="0.6"/><circle cx="62.9" cy="602.2" r="0.6"/><circle cx="68.7" cy="596.7" r="0.6"/><circle cx="66.8" cy="619.6" r="0.6"/><circle cx="34.8" cy="617.0" r="0.6"/><circle cx="45.5" cy="598.1" r="0.6"/><circle cx="48.8" cy="613.1" r="0.6"/><circle cx="72.4" cy="636.3" r="0.6"/><circle cx="54.1" cy="612.2" r="0.6"/><circle cx="57.3" cy="593.6" r="0.6"/><circle cx="61.3" cy="616.1" r="0.6"/><circle cx="53.2" cy="619.5" r="0.6"/><circle cx="60.7" cy="601.1" r="0.6"/><circle cx="63.2" cy="597.3" r="0.6"/><circle cx="57.3" cy="594.5" r="0.6"/><circle cx="68.1" cy="611.9" r="0.6"/><circle cx="39.1" cy="620.8" r="0.6"/><circle cx="63.5" cy="589.5" r="0.6"/><circle cx="60.3" cy="598.6" r="0.6"/><circle cx="50.5" cy="602.8" r="0.6"/><circle cx="57.5" cy="600.7" r="0.6"/><circle cx="56.5" cy="616.8" r="0.6"/><circle cx="66.3" cy="608.9" r="0.6"/><circle cx="79.9" cy="599.4" r="0.6"/><circle cx="59.4" cy="616.6" r="0.6"/><circle cx="59.6" cy="611.0" r="0.6"/><circle cx="63.9" cy="612.3" r="0.6"/><circle cx="63.8" cy="602.7" r="0.6"/><circle cx="46.4" cy="598.1" r="0.6"/><circle cx="50.1" cy="610.2" r="0.6"/><circle cx="66.9" cy="598.5" r="0.6"/><circle cx="54.9" cy="591.9" r="0.6"/><circle cx="46.9" cy="605.9" r="0.6"/></g>
<polygon points="22.10,609.50 54.80,602.10 87.50,590.30 87.50,596.70 54.80,604.10 22.10,615.90" fill="#8a8a8a" fill-opacity="0.8"/>
<line x1="22.10" y1="612.70" x2="87.50" y2="593.50" stroke="#303038" stroke-width="1.2"/>
<text x="52.00" y="630.00" font-size="7.6" transform="translate(52.00 630.00) scale(1 1.15) translate(-52.00 -630.00)"><tspan font-style="italic">R</tspan> = 0.32</text>
<text x="52.00" y="639.20" font-size="7.5" transform="translate(52.00 639.20) scale(1 1.15) translate(-52.00 -639.20)"><tspan font-style="italic">P</tspan> = <tspan font-style="normal">3.7</tspan> × 10<tspan font-size="5.3" dy="-3.1">−12</tspan></text>
<line x1="109.60" y1="566.50" x2="109.60" y2="641.20" stroke="#d6d6d6" stroke-width="0.9"/>
<line x1="109.60" y1="641.20" x2="180.40" y2="641.20" stroke="#d6d6d6" stroke-width="0.9"/>
<text x="107.30" y="573.50" font-size="7.6" text-anchor="end" transform="translate(107.30 573.50) scale(1 1.15) translate(-107.30 -573.50)">3</text>
<text x="107.30" y="585.60" font-size="7.6" text-anchor="end" transform="translate(107.30 585.60) scale(1 1.15) translate(-107.30 -585.60)">2</text>
<text x="107.30" y="596.50" font-size="7.6" text-anchor="end" transform="translate(107.30 596.50) scale(1 1.15) translate(-107.30 -596.50)">1</text>
<text x="107.30" y="607.70" font-size="7.6" text-anchor="end" transform="translate(107.30 607.70) scale(1 1.15) translate(-107.30 -607.70)">0</text>
<text x="107.30" y="620.70" font-size="7.6" text-anchor="end" transform="translate(107.30 620.70) scale(1 1.15) translate(-107.30 -620.70)">−1</text>
<text x="107.30" y="631.70" font-size="7.6" text-anchor="end" transform="translate(107.30 631.70) scale(1 1.15) translate(-107.30 -631.70)">−2</text>
<text x="107.30" y="643.90" font-size="7.6" text-anchor="end" transform="translate(107.30 643.90) scale(1 1.15) translate(-107.30 -643.90)">−3</text>
<text x="114.00" y="650.00" font-size="7.6" text-anchor="middle" transform="translate(114.00 650.00) scale(1 1.15) translate(-114.00 -650.00)">−3</text>
<text x="125.60" y="650.00" font-size="7.6" text-anchor="middle" transform="translate(125.60 650.00) scale(1 1.15) translate(-125.60 -650.00)">−2</text>
<text x="138.00" y="650.00" font-size="7.6" text-anchor="middle" transform="translate(138.00 650.00) scale(1 1.15) translate(-138.00 -650.00)">−1</text>
<text x="150.00" y="650.00" font-size="7.6" text-anchor="middle" transform="translate(150.00 650.00) scale(1 1.15) translate(-150.00 -650.00)">0</text>
<text x="162.70" y="650.00" font-size="7.6" text-anchor="middle" transform="translate(162.70 650.00) scale(1 1.15) translate(-162.70 -650.00)">1</text>
<text x="174.60" y="650.00" font-size="7.6" text-anchor="middle" transform="translate(174.60 650.00) scale(1 1.15) translate(-174.60 -650.00)">2</text>
<text x="125.00" y="567.50" font-size="9.6" transform="translate(125.00 567.50) scale(1 1.15) translate(-125.00 -567.50)">mCRPC</text>
<g fill="#b5283a" fill-opacity="0.5"><circle cx="159.3" cy="594.2" r="0.6"/><circle cx="150.9" cy="616.1" r="0.6"/><circle cx="147.1" cy="604.2" r="0.6"/><circle cx="149.7" cy="609.1" r="0.6"/><circle cx="155.3" cy="599.5" r="0.6"/><circle cx="141.0" cy="605.4" r="0.6"/><circle cx="146.7" cy="598.3" r="0.6"/><circle cx="120.8" cy="611.4" r="0.6"/><circle cx="152.5" cy="584.2" r="0.6"/><circle cx="170.1" cy="594.9" r="0.6"/><circle cx="145.0" cy="610.0" r="0.6"/><circle cx="157.5" cy="592.2" r="0.6"/><circle cx="153.4" cy="611.7" r="0.6"/><circle cx="169.6" cy="591.4" r="0.6"/><circle cx="150.2" cy="610.0" r="0.6"/><circle cx="154.0" cy="614.6" r="0.6"/><circle cx="143.1" cy="597.4" r="0.6"/><circle cx="172.4" cy="604.0" r="0.6"/><circle cx="156.5" cy="595.5" r="0.6"/><circle cx="161.7" cy="599.9" r="0.6"/><circle cx="171.8" cy="591.7" r="0.6"/><circle cx="155.5" cy="600.9" r="0.6"/><circle cx="162.2" cy="617.6" r="0.6"/><circle cx="137.0" cy="603.1" r="0.6"/><circle cx="154.3" cy="604.5" r="0.6"/><circle cx="147.6" cy="603.1" r="0.6"/><circle cx="151.2" cy="605.5" r="0.6"/><circle cx="153.9" cy="607.1" r="0.6"/><circle cx="159.0" cy="588.9" r="0.6"/><circle cx="158.5" cy="605.7" r="0.6"/><circle cx="139.5" cy="611.5" r="0.6"/><circle cx="146.0" cy="599.7" r="0.6"/><circle cx="162.2" cy="599.4" r="0.6"/><circle cx="166.2" cy="590.7" r="0.6"/><circle cx="150.3" cy="595.6" r="0.6"/><circle cx="146.0" cy="610.0" r="0.6"/><circle cx="155.2" cy="606.8" r="0.6"/><circle cx="160.8" cy="613.7" r="0.6"/><circle cx="146.9" cy="589.6" r="0.6"/><circle cx="138.1" cy="611.7" r="0.6"/><circle cx="146.8" cy="601.8" r="0.6"/><circle cx="153.1" cy="612.0" r="0.6"/><circle cx="153.3" cy="599.2" r="0.6"/><circle cx="156.2" cy="598.1" r="0.6"/><circle cx="151.8" cy="614.7" r="0.6"/><circle cx="154.1" cy="614.8" r="0.6"/><circle cx="143.6" cy="615.9" r="0.6"/><circle cx="161.8" cy="586.0" r="0.6"/><circle cx="155.6" cy="601.0" r="0.6"/><circle cx="151.3" cy="595.6" r="0.6"/><circle cx="139.3" cy="600.8" r="0.6"/><circle cx="162.6" cy="597.2" r="0.6"/><circle cx="146.0" cy="625.3" r="0.6"/><circle cx="133.1" cy="593.6" r="0.6"/><circle cx="160.4" cy="607.6" r="0.6"/><circle cx="132.9" cy="601.3" r="0.6"/><circle cx="159.6" cy="593.9" r="0.6"/><circle cx="146.9" cy="603.3" r="0.6"/><circle cx="151.6" cy="613.7" r="0.6"/><circle cx="153.1" cy="597.8" r="0.6"/><circle cx="143.3" cy="614.2" r="0.6"/><circle cx="127.6" cy="623.8" r="0.6"/><circle cx="152.7" cy="596.4" r="0.6"/><circle cx="143.6" cy="611.9" r="0.6"/><circle cx="147.6" cy="617.5" r="0.6"/><circle cx="141.8" cy="601.1" r="0.6"/><circle cx="154.5" cy="604.9" r="0.6"/><circle cx="138.9" cy="625.0" r="0.6"/><circle cx="145.7" cy="626.4" r="0.6"/><circle cx="130.5" cy="609.8" r="0.6"/><circle cx="144.5" cy="611.7" r="0.6"/><circle cx="137.6" cy="635.2" r="0.6"/><circle cx="130.3" cy="620.0" r="0.6"/><circle cx="151.9" cy="616.3" r="0.6"/><circle cx="151.3" cy="603.7" r="0.6"/><circle cx="157.2" cy="604.5" r="0.6"/><circle cx="160.0" cy="615.9" r="0.6"/><circle cx="173.6" cy="605.0" r="0.6"/><circle cx="162.0" cy="577.7" r="0.6"/><circle cx="144.0" cy="613.3" r="0.6"/><circle cx="146.9" cy="600.9" r="0.6"/><circle cx="152.9" cy="607.0" r="0.6"/><circle cx="145.7" cy="606.0" r="0.6"/><circle cx="142.2" cy="630.6" r="0.6"/><circle cx="143.3" cy="598.6" r="0.6"/><circle cx="156.7" cy="604.2" r="0.6"/><circle cx="142.0" cy="609.0" r="0.6"/><circle cx="129.4" cy="597.0" r="0.6"/><circle cx="163.7" cy="595.8" r="0.6"/><circle cx="141.8" cy="591.7" r="0.6"/><circle cx="154.7" cy="587.1" r="0.6"/><circle cx="136.0" cy="615.6" r="0.6"/><circle cx="147.3" cy="603.1" r="0.6"/><circle cx="152.4" cy="604.7" r="0.6"/><circle cx="145.3" cy="609.7" r="0.6"/><circle cx="162.4" cy="612.3" r="0.6"/><circle cx="156.7" cy="581.9" r="0.6"/><circle cx="160.2" cy="598.1" r="0.6"/><circle cx="151.3" cy="605.3" r="0.6"/><circle cx="155.0" cy="606.9" r="0.6"/><circle cx="144.7" cy="612.7" r="0.6"/><circle cx="151.5" cy="590.3" r="0.6"/><circle cx="152.0" cy="605.4" r="0.6"/><circle cx="132.4" cy="611.8" r="0.6"/><circle cx="148.7" cy="597.0" r="0.6"/><circle cx="167.3" cy="622.2" r="0.6"/><circle cx="147.6" cy="601.3" r="0.6"/><circle cx="146.0" cy="608.2" r="0.6"/><circle cx="160.4" cy="595.5" r="0.6"/><circle cx="121.6" cy="612.3" r="0.6"/><circle cx="150.2" cy="592.8" r="0.6"/><circle cx="147.5" cy="615.6" r="0.6"/><circle cx="145.7" cy="610.6" r="0.6"/><circle cx="167.5" cy="590.8" r="0.6"/><circle cx="150.8" cy="593.3" r="0.6"/><circle cx="162.5" cy="607.0" r="0.6"/><circle cx="155.2" cy="596.7" r="0.6"/><circle cx="139.6" cy="617.5" r="0.6"/><circle cx="155.3" cy="619.9" r="0.6"/><circle cx="142.4" cy="603.3" r="0.6"/><circle cx="175.0" cy="590.7" r="0.6"/><circle cx="141.1" cy="601.8" r="0.6"/><circle cx="154.9" cy="593.5" r="0.6"/><circle cx="164.1" cy="600.2" r="0.6"/><circle cx="166.4" cy="617.3" r="0.6"/><circle cx="133.0" cy="610.0" r="0.6"/><circle cx="149.0" cy="604.6" r="0.6"/><circle cx="139.2" cy="608.9" r="0.6"/><circle cx="149.6" cy="588.3" r="0.6"/><circle cx="160.3" cy="600.7" r="0.6"/><circle cx="166.3" cy="610.3" r="0.6"/><circle cx="143.5" cy="607.6" r="0.6"/><circle cx="142.8" cy="614.9" r="0.6"/><circle cx="145.1" cy="585.7" r="0.6"/><circle cx="149.4" cy="599.7" r="0.6"/><circle cx="176.8" cy="603.0" r="0.6"/><circle cx="144.2" cy="608.5" r="0.6"/><circle cx="151.3" cy="597.1" r="0.6"/><circle cx="155.7" cy="587.6" r="0.6"/><circle cx="142.9" cy="623.7" r="0.6"/><circle cx="172.0" cy="597.0" r="0.6"/><circle cx="153.2" cy="602.0" r="0.6"/><circle cx="156.7" cy="600.0" r="0.6"/><circle cx="148.7" cy="606.5" r="0.6"/><circle cx="155.0" cy="592.7" r="0.6"/><circle cx="149.3" cy="616.3" r="0.6"/><circle cx="161.1" cy="609.1" r="0.6"/><circle cx="127.6" cy="609.0" r="0.6"/><circle cx="165.2" cy="605.1" r="0.6"/><circle cx="128.3" cy="612.4" r="0.6"/><circle cx="163.2" cy="609.2" r="0.6"/><circle cx="155.4" cy="613.6" r="0.6"/><circle cx="150.7" cy="596.4" r="0.6"/><circle cx="133.0" cy="608.2" r="0.6"/><circle cx="159.9" cy="607.4" r="0.6"/><circle cx="145.6" cy="606.5" r="0.6"/><circle cx="152.6" cy="623.3" r="0.6"/><circle cx="166.3" cy="598.7" r="0.6"/><circle cx="139.9" cy="623.0" r="0.6"/><circle cx="137.6" cy="610.9" r="0.6"/><circle cx="162.7" cy="600.8" r="0.6"/><circle cx="145.7" cy="623.6" r="0.6"/><circle cx="141.1" cy="613.7" r="0.6"/><circle cx="144.2" cy="610.3" r="0.6"/><circle cx="148.5" cy="593.2" r="0.6"/><circle cx="157.6" cy="601.6" r="0.6"/><circle cx="141.6" cy="615.6" r="0.6"/><circle cx="154.2" cy="609.3" r="0.6"/><circle cx="160.5" cy="625.7" r="0.6"/><circle cx="140.0" cy="592.9" r="0.6"/><circle cx="149.4" cy="581.8" r="0.6"/><circle cx="143.7" cy="591.1" r="0.6"/><circle cx="147.4" cy="609.7" r="0.6"/><circle cx="158.8" cy="593.2" r="0.6"/><circle cx="161.5" cy="608.0" r="0.6"/><circle cx="160.8" cy="595.9" r="0.6"/><circle cx="158.6" cy="606.7" r="0.6"/><circle cx="152.0" cy="627.7" r="0.6"/><circle cx="156.2" cy="603.5" r="0.6"/><circle cx="148.7" cy="621.9" r="0.6"/><circle cx="160.3" cy="615.5" r="0.6"/><circle cx="145.1" cy="585.4" r="0.6"/><circle cx="162.8" cy="589.0" r="0.6"/><circle cx="160.1" cy="578.3" r="0.6"/><circle cx="157.9" cy="568.8" r="0.6"/><circle cx="129.2" cy="600.6" r="0.6"/><circle cx="157.9" cy="610.4" r="0.6"/><circle cx="149.6" cy="613.6" r="0.6"/><circle cx="154.2" cy="615.1" r="0.6"/><circle cx="148.0" cy="617.4" r="0.6"/><circle cx="149.7" cy="606.6" r="0.6"/><circle cx="149.2" cy="597.3" r="0.6"/><circle cx="151.9" cy="627.6" r="0.6"/><circle cx="143.1" cy="613.9" r="0.6"/><circle cx="158.3" cy="609.5" r="0.6"/><circle cx="152.7" cy="592.7" r="0.6"/><circle cx="137.1" cy="599.1" r="0.6"/><circle cx="164.0" cy="612.7" r="0.6"/><circle cx="144.7" cy="604.9" r="0.6"/><circle cx="150.4" cy="604.6" r="0.6"/><circle cx="158.2" cy="610.7" r="0.6"/><circle cx="150.9" cy="590.7" r="0.6"/><circle cx="172.2" cy="605.5" r="0.6"/><circle cx="138.4" cy="594.5" r="0.6"/><circle cx="151.6" cy="609.0" r="0.6"/><circle cx="134.4" cy="608.7" r="0.6"/><circle cx="153.5" cy="626.0" r="0.6"/><circle cx="146.6" cy="600.1" r="0.6"/><circle cx="173.2" cy="591.8" r="0.6"/><circle cx="139.7" cy="608.1" r="0.6"/><circle cx="156.5" cy="579.2" r="0.6"/><circle cx="147.4" cy="607.2" r="0.6"/><circle cx="144.4" cy="612.2" r="0.6"/><circle cx="137.4" cy="580.1" r="0.6"/><circle cx="145.2" cy="587.5" r="0.6"/><circle cx="150.8" cy="598.6" r="0.6"/><circle cx="163.2" cy="585.7" r="0.6"/><circle cx="142.4" cy="603.7" r="0.6"/><circle cx="144.2" cy="598.6" r="0.6"/><circle cx="141.9" cy="623.2" r="0.6"/><circle cx="153.0" cy="604.8" r="0.6"/><circle cx="163.4" cy="580.1" r="0.6"/><circle cx="156.5" cy="597.2" r="0.6"/><circle cx="155.7" cy="596.1" r="0.6"/><circle cx="140.4" cy="607.4" r="0.6"/><circle cx="150.9" cy="599.8" r="0.6"/><circle cx="140.5" cy="602.9" r="0.6"/><circle cx="150.8" cy="620.1" r="0.6"/><circle cx="172.7" cy="586.5" r="0.6"/><circle cx="149.9" cy="601.9" r="0.6"/><circle cx="152.3" cy="591.2" r="0.6"/><circle cx="152.7" cy="605.1" r="0.6"/><circle cx="141.9" cy="598.5" r="0.6"/><circle cx="157.4" cy="593.6" r="0.6"/><circle cx="150.4" cy="608.4" r="0.6"/><circle cx="153.4" cy="600.8" r="0.6"/><circle cx="146.4" cy="583.5" r="0.6"/><circle cx="163.7" cy="638.2" r="0.6"/><circle cx="158.0" cy="592.3" r="0.6"/><circle cx="140.6" cy="592.2" r="0.6"/><circle cx="155.5" cy="602.0" r="0.6"/><circle cx="155.5" cy="597.3" r="0.6"/><circle cx="142.1" cy="610.9" r="0.6"/><circle cx="137.6" cy="606.7" r="0.6"/><circle cx="162.1" cy="597.1" r="0.6"/><circle cx="150.2" cy="590.0" r="0.6"/><circle cx="156.0" cy="613.1" r="0.6"/><circle cx="158.7" cy="629.5" r="0.6"/><circle cx="155.7" cy="633.8" r="0.6"/><circle cx="151.5" cy="593.7" r="0.6"/><circle cx="164.4" cy="630.3" r="0.6"/><circle cx="160.2" cy="594.8" r="0.6"/><circle cx="162.8" cy="593.6" r="0.6"/><circle cx="162.6" cy="587.9" r="0.6"/><circle cx="147.6" cy="593.9" r="0.6"/><circle cx="161.9" cy="585.2" r="0.6"/><circle cx="159.3" cy="590.7" r="0.6"/><circle cx="157.3" cy="589.8" r="0.6"/><circle cx="152.3" cy="613.1" r="0.6"/><circle cx="138.1" cy="594.9" r="0.6"/><circle cx="149.3" cy="599.3" r="0.6"/><circle cx="148.8" cy="598.1" r="0.6"/><circle cx="146.3" cy="614.5" r="0.6"/><circle cx="134.8" cy="602.3" r="0.6"/><circle cx="131.9" cy="598.4" r="0.6"/><circle cx="162.6" cy="608.1" r="0.6"/><circle cx="154.7" cy="609.4" r="0.6"/><circle cx="141.1" cy="594.7" r="0.6"/><circle cx="152.9" cy="573.5" r="0.6"/><circle cx="162.8" cy="606.1" r="0.6"/><circle cx="151.5" cy="616.9" r="0.6"/><circle cx="157.9" cy="602.9" r="0.6"/><circle cx="159.2" cy="603.4" r="0.6"/><circle cx="151.8" cy="599.7" r="0.6"/><circle cx="146.1" cy="612.3" r="0.6"/><circle cx="158.9" cy="606.5" r="0.6"/><circle cx="159.1" cy="582.1" r="0.6"/><circle cx="133.2" cy="606.1" r="0.6"/><circle cx="135.8" cy="611.7" r="0.6"/><circle cx="164.4" cy="599.6" r="0.6"/><circle cx="153.9" cy="611.8" r="0.6"/><circle cx="161.1" cy="593.5" r="0.6"/><circle cx="159.0" cy="609.0" r="0.6"/><circle cx="149.9" cy="606.6" r="0.6"/><circle cx="155.8" cy="585.4" r="0.6"/><circle cx="159.5" cy="617.0" r="0.6"/><circle cx="167.4" cy="582.4" r="0.6"/><circle cx="160.0" cy="597.9" r="0.6"/><circle cx="148.0" cy="593.0" r="0.6"/><circle cx="139.2" cy="612.7" r="0.6"/><circle cx="144.0" cy="623.3" r="0.6"/><circle cx="158.5" cy="586.1" r="0.6"/><circle cx="145.3" cy="604.9" r="0.6"/><circle cx="158.9" cy="623.6" r="0.6"/><circle cx="136.4" cy="606.7" r="0.6"/><circle cx="168.0" cy="600.6" r="0.6"/><circle cx="152.0" cy="595.4" r="0.6"/></g>
<polygon points="113.00,613.30 146.70,604.45 180.40,591.20 180.40,597.60 146.70,606.45 113.00,619.70" fill="#8a8a8a" fill-opacity="0.8"/>
<line x1="113.00" y1="616.50" x2="180.40" y2="594.40" stroke="#3c3c3c" stroke-width="1.2"/>
<text x="154.40" y="630.00" font-size="7.6" transform="translate(154.40 630.00) scale(1 1.15) translate(-154.40 -630.00)"><tspan font-style="italic">R</tspan> = 0.32</text>
<text x="154.40" y="639.20" font-size="7.5" transform="translate(154.40 639.20) scale(1 1.15) translate(-154.40 -639.20)"><tspan font-style="italic">P</tspan> = <tspan font-style="normal">3.3</tspan> × 10<tspan font-size="5.3" dy="-3.1">−9</tspan></text>
<circle cx="176.50" cy="567.80" r="1.60" fill="#3a58a8"/>
<text x="180.20" y="571.60" font-size="7.7" transform="translate(180.20 571.60) scale(1 1.15) translate(-180.20 -571.60)">TCGA</text>
<circle cx="176.40" cy="579.00" r="1.60" fill="#801820"/>
<text x="180.20" y="582.50" font-size="7.7" transform="translate(180.20 582.50) scale(1 1.15) translate(-180.20 -582.50)">SU2C</text>
<text x="370.60" y="319.10" font-size="13" font-weight="bold" fill="#000">F</text>
<rect x="397.70" y="333.50" width="12.57" height="8.76" fill="#ece6f2"/>
<rect x="410.22" y="333.50" width="12.57" height="8.76" fill="#a898cc"/>
<rect x="422.74" y="333.50" width="12.57" height="8.76" fill="#ece8f4"/>
<rect x="435.26" y="333.50" width="12.57" height="8.76" fill="#ebe5f2"/>
<rect x="447.78" y="333.50" width="12.57" height="8.76" fill="#ddd4ea"/>
<text x="465.50" y="340.65" font-size="7.7" transform="translate(465.50 340.65) scale(1 1.15) translate(-465.50 -340.65)">PCNA</text>
<rect x="397.70" y="342.21" width="12.57" height="8.76" fill="#ece6f2"/>
<rect x="410.22" y="342.21" width="12.57" height="8.76" fill="#c0b4dc"/>
<rect x="422.74" y="342.21" width="12.57" height="8.76" fill="#f2eef8"/>
<rect x="435.26" y="342.21" width="12.57" height="8.76" fill="#f0ecf6"/>
<rect x="447.78" y="342.21" width="12.57" height="8.76" fill="#9c8cc8"/>
<text x="465.50" y="349.36" font-size="7.7" transform="translate(465.50 349.36) scale(1 1.15) translate(-465.50 -349.36)">YWHAE</text>
<rect x="397.70" y="350.92" width="12.57" height="8.76" fill="#cfc4e2"/>
<rect x="410.22" y="350.92" width="12.57" height="8.76" fill="#d4cae6"/>
<rect x="422.74" y="350.92" width="12.57" height="8.76" fill="#d7cee7"/>
<rect x="435.26" y="350.92" width="12.57" height="8.76" fill="#ece6f2"/>
<rect x="447.78" y="350.92" width="12.57" height="8.76" fill="#cec4e4"/>
<text x="465.50" y="358.07" font-size="7.7" transform="translate(465.50 358.07) scale(1 1.15) translate(-465.50 -358.07)">RFC4</text>
<rect x="397.70" y="359.62" width="12.57" height="8.76" fill="#7a68b8"/>
<rect x="410.22" y="359.62" width="12.57" height="8.76" fill="#dcd4ea"/>
<rect x="422.74" y="359.62" width="12.57" height="8.76" fill="#f6f2fa"/>
<rect x="435.26" y="359.62" width="12.57" height="8.76" fill="#dcd4ea"/>
<rect x="447.78" y="359.62" width="12.57" height="8.76" fill="#dcd4ea"/>
<text x="465.50" y="366.78" font-size="7.7" transform="translate(465.50 366.78) scale(1 1.15) translate(-465.50 -366.78)">GLO1</text>
<rect x="397.70" y="368.33" width="12.57" height="8.76" fill="#8878bf"/>
<rect x="410.22" y="368.33" width="12.57" height="8.76" fill="#c4b8dc"/>
<rect x="422.74" y="368.33" width="12.57" height="8.76" fill="#f4f0f8"/>
<rect x="435.26" y="368.33" width="12.57" height="8.76" fill="#e4dcee"/>
<rect x="447.78" y="368.33" width="12.57" height="8.76" fill="#a898cc"/>
<text x="465.50" y="375.49" font-size="7.7" transform="translate(465.50 375.49) scale(1 1.15) translate(-465.50 -375.49)">PSMA4</text>
<rect x="397.70" y="377.04" width="12.57" height="8.76" fill="#e0d8ee"/>
<rect x="410.22" y="377.04" width="12.57" height="8.76" fill="#8070bc"/>
<rect x="422.74" y="377.04" width="12.57" height="8.76" fill="#f0ecf6"/>
<rect x="435.26" y="377.04" width="12.57" height="8.76" fill="#d4cae6"/>
<rect x="447.78" y="377.04" width="12.57" height="8.76" fill="#c8bce0"/>
<text x="465.50" y="384.20" font-size="7.7" transform="translate(465.50 384.20) scale(1 1.15) translate(-465.50 -384.20)">RAN</text>
<rect x="397.70" y="385.75" width="12.57" height="8.76" fill="#cbc0e0"/>
<rect x="410.22" y="385.75" width="12.57" height="8.76" fill="#8272bd"/>
<rect x="422.74" y="385.75" width="12.57" height="8.76" fill="#e4dcee"/>
<rect x="435.26" y="385.75" width="12.57" height="8.76" fill="#c8bce0"/>
<rect x="447.78" y="385.75" width="12.57" height="8.76" fill="#b8acd8"/>
<text x="465.50" y="392.90" font-size="7.7" transform="translate(465.50 392.90) scale(1 1.15) translate(-465.50 -392.90)">TMEM97</text>
<rect x="397.70" y="394.46" width="12.57" height="8.76" fill="#d0c6e4"/>
<rect x="410.22" y="394.46" width="12.57" height="8.76" fill="#4a4eb0"/>
<rect x="422.74" y="394.46" width="12.57" height="8.76" fill="#f0ecf6"/>
<rect x="435.26" y="394.46" width="12.57" height="8.76" fill="#a898cc"/>
<rect x="447.78" y="394.46" width="12.57" height="8.76" fill="#d4cae6"/>
<text x="465.50" y="401.61" font-size="7.7" transform="translate(465.50 401.61) scale(1 1.15) translate(-465.50 -401.61)">TYMS</text>
<rect x="397.70" y="403.17" width="12.57" height="8.76" fill="#b0a4d4"/>
<rect x="410.22" y="403.17" width="12.57" height="8.76" fill="#4a4eb0"/>
<rect x="422.74" y="403.17" width="12.57" height="8.76" fill="#ece6f2"/>
<rect x="435.26" y="403.17" width="12.57" height="8.76" fill="#e8e0f0"/>
<rect x="447.78" y="403.17" width="12.57" height="8.76" fill="#d4cae6"/>
<text x="465.50" y="410.32" font-size="7.7" transform="translate(465.50 410.32) scale(1 1.15) translate(-465.50 -410.32)">CCNA2</text>
<rect x="397.70" y="411.88" width="12.57" height="8.76" fill="#f4eef6"/>
<rect x="410.22" y="411.88" width="12.57" height="8.76" fill="#2d50b0"/>
<rect x="422.74" y="411.88" width="12.57" height="8.76" fill="#2d50b0"/>
<rect x="435.26" y="411.88" width="12.57" height="8.76" fill="#b0a4d4"/>
<rect x="447.78" y="411.88" width="12.57" height="8.76" fill="#f0ecf6"/>
<text x="465.50" y="419.03" font-size="7.7" font-weight="bold" transform="translate(465.50 419.03) scale(1 1.15) translate(-465.50 -419.03)">MYC</text>
<rect x="397.70" y="420.58" width="12.57" height="8.76" fill="#f8dcd8"/>
<rect x="410.22" y="420.58" width="12.57" height="8.76" fill="#f07848"/>
<rect x="422.74" y="420.58" width="12.57" height="8.76" fill="#f8b8a0"/>
<rect x="435.26" y="420.58" width="12.57" height="8.76" fill="#f07040"/>
<rect x="447.78" y="420.58" width="12.57" height="8.76" fill="#f8d4c8"/>
<text x="465.50" y="427.74" font-size="7.7" font-weight="bold" transform="translate(465.50 427.74) scale(1 1.15) translate(-465.50 -427.74)">MXD1</text>
<rect x="397.70" y="429.29" width="12.57" height="8.76" fill="#f4f0f6"/>
<rect x="410.22" y="429.29" width="12.57" height="8.76" fill="#f8f4f8"/>
<rect x="422.74" y="429.29" width="12.57" height="8.76" fill="#c4b8dc"/>
<rect x="435.26" y="429.29" width="12.57" height="8.76" fill="#f8ece8"/>
<rect x="447.78" y="429.29" width="12.57" height="8.76" fill="#f8f0f0"/>
<text x="465.50" y="436.45" font-size="7.7" font-weight="bold" transform="translate(465.50 436.45) scale(1 1.15) translate(-465.50 -436.45)">MAX</text>
<line x1="392.00" y1="334.70" x2="392.00" y2="409.40" stroke="#333" stroke-width="0.8"/>
<line x1="392.00" y1="334.70" x2="394.20" y2="334.70" stroke="#333" stroke-width="0.8"/>
<line x1="392.00" y1="409.40" x2="394.20" y2="409.40" stroke="#333" stroke-width="0.8"/>
<line x1="390.40" y1="372.00" x2="392.00" y2="372.00" stroke="#333" stroke-width="0.8"/>
<text x="384.80" y="378.30" font-size="9.7" text-anchor="middle" transform="rotate(-90 384.80 378.30) translate(384.80 378.30) scale(1 1.15) translate(-384.80 -378.30)">MYC pathway genes</text>
<text x="407.70" y="444.00" font-size="7.7" text-anchor="end" transform="rotate(-45 407.70 444.00) translate(407.70 444.00) scale(1 1.15) translate(-407.70 -444.00)">22RV1-ORY</text>
<text x="421.80" y="444.00" font-size="7.7" text-anchor="end" transform="rotate(-45 421.80 444.00) translate(421.80 444.00) scale(1 1.15) translate(-421.80 -444.00)">35CR-GSK</text>
<text x="435.80" y="444.00" font-size="7.7" text-anchor="end" transform="rotate(-45 435.80 444.00) translate(435.80 444.00) scale(1 1.15) translate(-435.80 -444.00)">35CR-ORY</text>
<text x="450.20" y="444.00" font-size="7.7" text-anchor="end" transform="rotate(-45 450.20 444.00) translate(450.20 444.00) scale(1 1.15) translate(-450.20 -444.00)">75CR-GSK</text>
<text x="464.60" y="444.00" font-size="7.7" text-anchor="end" transform="rotate(-45 464.60 444.00) translate(464.60 444.00) scale(1 1.15) translate(-464.60 -444.00)">96CR-GSK</text>
<rect x="504.80" y="390.90" width="5.20" height="46.70" fill="url(#fc)"/>
<text x="511.00" y="397.00" font-size="7.5" transform="translate(511.00 397.00) scale(1 1.15) translate(-511.00 -397.00)">2</text>
<text x="511.00" y="408.30" font-size="7.5" transform="translate(511.00 408.30) scale(1 1.15) translate(-511.00 -408.30)">1</text>
<text x="511.00" y="418.30" font-size="7.5" transform="translate(511.00 418.30) scale(1 1.15) translate(-511.00 -418.30)">0</text>
<text x="511.00" y="429.00" font-size="7.5" transform="translate(511.00 429.00) scale(1 1.15) translate(-511.00 -429.00)">−1</text>
<text x="511.00" y="439.10" font-size="7.5" transform="translate(511.00 439.10) scale(1 1.15) translate(-511.00 -439.10)">−2</text>
<text x="485.00" y="447.40" font-size="7.6" transform="translate(485.00 447.40) scale(1 1.15) translate(-485.00 -447.40)">Log<tspan font-size="5.2" dy="1.5">2</tspan><tspan dy="-1.5"> (FC)</tspan></text>
<text x="208.50" y="549.60" font-size="13" font-weight="bold" fill="#000">H</text>
<text x="215.00" y="602.60" font-size="9.7" text-anchor="middle" transform="rotate(-90 215.00 602.60) translate(215.00 602.60) scale(1 1.15) translate(-215.00 -602.60)">Relative mRNA</text>
<text x="226.20" y="603.10" font-size="9.7" text-anchor="middle" transform="rotate(-90 226.20 603.10) translate(226.20 603.10) scale(1 1.15) translate(-226.20 -603.10)">expression of <tspan font-style="italic">MYC</tspan></text>
<text x="301.90" y="559.80" font-size="9.9" text-anchor="middle" transform="translate(301.90 559.80) scale(1 1.15) translate(-301.90 -559.80)" text-decoration="underline">35CR</text>
<line x1="243.70" y1="567.50" x2="243.70" y2="641.20" stroke="#8a8a8a" stroke-width="0.9"/>
<line x1="243.70" y1="641.20" x2="301.70" y2="641.20" stroke="#8a8a8a" stroke-width="0.9"/>
<line x1="241.50" y1="567.50" x2="243.70" y2="567.50" stroke="#8a8a8a" stroke-width="0.9"/>
<text x="241.00" y="570.20" font-size="7.6" text-anchor="end" transform="translate(241.00 570.20) scale(1 1.15) translate(-241.00 -570.20)">1.5</text>
<line x1="241.50" y1="592.50" x2="243.70" y2="592.50" stroke="#8a8a8a" stroke-width="0.9"/>
<text x="241.00" y="595.20" font-size="7.6" text-anchor="end" transform="translate(241.00 595.20) scale(1 1.15) translate(-241.00 -595.20)">1.0</text>
<line x1="241.50" y1="617.00" x2="243.70" y2="617.00" stroke="#8a8a8a" stroke-width="0.9"/>
<text x="241.00" y="619.70" font-size="7.6" text-anchor="end" transform="translate(241.00 619.70) scale(1 1.15) translate(-241.00 -619.70)">0.5</text>
<line x1="241.50" y1="641.20" x2="243.70" y2="641.20" stroke="#8a8a8a" stroke-width="0.9"/>
<text x="241.00" y="643.90" font-size="7.6" text-anchor="end" transform="translate(241.00 643.90) scale(1 1.15) translate(-241.00 -643.90)">0</text>
<line x1="257.00" y1="641.20" x2="257.00" y2="643.40" stroke="#8a8a8a" stroke-width="0.9"/>
<text x="257.00" y="649.20" font-size="7.6" text-anchor="middle" transform="translate(257.00 649.20) scale(1 1.15) translate(-257.00 -649.20)">DMSO</text>
<line x1="289.20" y1="641.20" x2="289.20" y2="643.40" stroke="#8a8a8a" stroke-width="0.9"/>
<text x="289.20" y="649.20" font-size="7.6" text-anchor="middle" transform="translate(289.20 649.20) scale(1 1.15) translate(-289.20 -649.20)">GSK</text>
<circle cx="261.00" cy="576.70" r="1.30" fill="#111"/>
<circle cx="261.00" cy="585.80" r="1.30" fill="#111"/>
<circle cx="261.00" cy="592.50" r="1.30" fill="#111"/>
<circle cx="261.00" cy="607.00" r="1.30" fill="#111"/>
<circle cx="261.00" cy="611.70" r="1.30" fill="#111"/>
<line x1="252.30" y1="592.50" x2="269.20" y2="592.50" stroke="#111" stroke-width="0.9"/>
<circle cx="279.00" cy="636.90" r="1.20" fill="#34449a"/>
<circle cx="283.00" cy="636.30" r="1.20" fill="#34449a"/>
<circle cx="287.00" cy="636.60" r="1.20" fill="#34449a"/>
<circle cx="291.00" cy="637.00" r="1.20" fill="#34449a"/>
<line x1="277.70" y1="636.70" x2="293.00" y2="636.70" stroke="#3f4fa8" stroke-width="0.9"/>
<text x="247.50" y="626.20" font-size="7.8" transform="translate(247.50 626.20) scale(1 1.15) translate(-247.50 -626.20)"><tspan font-style="italic">P</tspan> = 0.0002</text>
<line x1="319.60" y1="568.00" x2="319.60" y2="641.20" stroke="#8a8a8a" stroke-width="0.9"/>
<line x1="319.60" y1="641.20" x2="374.70" y2="641.20" stroke="#8a8a8a" stroke-width="0.9"/>
<line x1="317.40" y1="568.00" x2="319.60" y2="568.00" stroke="#8a8a8a" stroke-width="0.9"/>
<text x="317.00" y="570.70" font-size="7.6" text-anchor="end" transform="translate(317.00 570.70) scale(1 1.15) translate(-317.00 -570.70)">2.5</text>
<line x1="317.40" y1="582.30" x2="319.60" y2="582.30" stroke="#8a8a8a" stroke-width="0.9"/>
<text x="317.00" y="585.00" font-size="7.6" text-anchor="end" transform="translate(317.00 585.00) scale(1 1.15) translate(-317.00 -585.00)">2.0</text>
<line x1="317.40" y1="597.70" x2="319.60" y2="597.70" stroke="#8a8a8a" stroke-width="0.9"/>
<text x="317.00" y="600.40" font-size="7.6" text-anchor="end" transform="translate(317.00 600.40) scale(1 1.15) translate(-317.00 -600.40)">1.5</text>
<line x1="317.40" y1="612.70" x2="319.60" y2="612.70" stroke="#8a8a8a" stroke-width="0.9"/>
<text x="317.00" y="615.40" font-size="7.6" text-anchor="end" transform="translate(317.00 615.40) scale(1 1.15) translate(-317.00 -615.40)">1.0</text>
<line x1="317.40" y1="627.10" x2="319.60" y2="627.10" stroke="#8a8a8a" stroke-width="0.9"/>
<text x="317.00" y="629.80" font-size="7.6" text-anchor="end" transform="translate(317.00 629.80) scale(1 1.15) translate(-317.00 -629.80)">0.5</text>
<line x1="317.40" y1="641.20" x2="319.60" y2="641.20" stroke="#8a8a8a" stroke-width="0.9"/>
<text x="317.00" y="643.90" font-size="7.6" text-anchor="end" transform="translate(317.00 643.90) scale(1 1.15) translate(-317.00 -643.90)">0</text>
<line x1="329.50" y1="641.20" x2="329.50" y2="643.40" stroke="#8a8a8a" stroke-width="0.9"/>
<text x="329.50" y="649.20" font-size="7.6" text-anchor="middle" transform="translate(329.50 649.20) scale(1 1.15) translate(-329.50 -649.20)">DMSO</text>
<line x1="362.30" y1="641.20" x2="362.30" y2="643.40" stroke="#8a8a8a" stroke-width="0.9"/>
<text x="362.30" y="649.20" font-size="7.6" text-anchor="middle" transform="translate(362.30 649.20) scale(1 1.15) translate(-362.30 -649.20)">ORY</text>
<circle cx="335.40" cy="575.20" r="1.30" fill="#111"/>
<circle cx="338.60" cy="579.20" r="1.30" fill="#111"/>
<circle cx="333.00" cy="580.00" r="1.30" fill="#111"/>
<circle cx="335.40" cy="593.00" r="1.30" fill="#111"/>
<circle cx="335.40" cy="602.50" r="1.30" fill="#111"/>
<line x1="327.70" y1="579.60" x2="343.70" y2="579.60" stroke="#111" stroke-width="0.9"/>
<circle cx="353.00" cy="635.40" r="1.20" fill="#34449a"/>
<circle cx="357.00" cy="634.80" r="1.20" fill="#34449a"/>
<circle cx="361.00" cy="635.30" r="1.20" fill="#34449a"/>
<circle cx="365.00" cy="635.00" r="1.20" fill="#34449a"/>
<circle cx="358.80" cy="598.30" r="1.20" fill="#34449a"/>
<line x1="351.70" y1="635.40" x2="366.20" y2="635.40" stroke="#3f4fa8" stroke-width="0.9"/>
<text x="323.80" y="623.30" font-size="7.8" transform="translate(323.80 623.30) scale(1 1.15) translate(-323.80 -623.30)"><tspan font-style="italic">P</tspan> = 0.0016</text>
<text x="372.60" y="508.90" font-size="13" font-weight="bold" fill="#000">I</text>
<text x="463.80" y="508.60" font-size="9.9" text-anchor="middle" transform="translate(463.80 508.60) scale(1 1.15) translate(-463.80 -508.60)">35CR</text>
<defs><filter id="bl" x="-30%" y="-60%" width="160%" height="220%"><feGaussianBlur stdDeviation="0.7"/></filter><filter id="bl2" x="-30%" y="-60%" width="160%" height="220%"><feGaussianBlur stdDeviation="0.45"/></filter></defs>
<rect x="403.50" y="512.40" width="113.00" height="15.90" fill="#d6d6d6" stroke="#6a6a6a" stroke-width="0.9"/>
<g filter="url(#bl)"><ellipse cx="413.30" cy="521.90" rx="6.00" ry="2.80" fill="#505050" fill-opacity="0.75"/><ellipse cx="426.60" cy="521.90" rx="6.00" ry="2.80" fill="#505050" fill-opacity="0.75"/><ellipse cx="439.70" cy="521.90" rx="6.00" ry="2.80" fill="#505050" fill-opacity="0.75"/><ellipse cx="452.90" cy="521.90" rx="6.00" ry="2.80" fill="#505050" fill-opacity="0.75"/><ellipse cx="469.40" cy="521.90" rx="5.00" ry="2.80" fill="#505050" fill-opacity="0.08"/><ellipse cx="482.80" cy="521.90" rx="5.00" ry="2.80" fill="#505050" fill-opacity="0.08"/><ellipse cx="496.20" cy="521.90" rx="5.00" ry="2.80" fill="#505050" fill-opacity="0.08"/><ellipse cx="509.40" cy="521.90" rx="5.00" ry="2.80" fill="#505050" fill-opacity="0.08"/></g>
<text x="400.70" y="523.75" font-size="9.7" text-anchor="end" transform="translate(400.70 523.75) scale(1 1.15) translate(-400.70 -523.75)">MYC</text>
<rect x="403.90" y="512.80" width="56.60" height="15.10" fill="#b0b0b0" fill-opacity="0.25"/>
<rect x="403.50" y="531.20" width="113.00" height="15.10" fill="#e4e4e4" stroke="#6a6a6a" stroke-width="0.9"/>
<g filter="url(#bl2)"><rect x="408.05" y="538.43" width="10.50" height="2.34" rx="1.17" fill="#151515" fill-opacity="0.95"/><rect x="421.35" y="538.43" width="10.50" height="2.34" rx="1.17" fill="#151515" fill-opacity="0.95"/><rect x="434.45" y="538.43" width="10.50" height="2.34" rx="1.17" fill="#151515" fill-opacity="0.95"/><rect x="447.65" y="538.43" width="10.50" height="2.34" rx="1.17" fill="#151515" fill-opacity="0.95"/><rect x="464.15" y="538.43" width="10.50" height="2.34" rx="1.17" fill="#151515" fill-opacity="0.95"/><rect x="477.55" y="538.43" width="10.50" height="2.34" rx="1.17" fill="#151515" fill-opacity="0.95"/><rect x="490.95" y="538.43" width="10.50" height="2.34" rx="1.17" fill="#151515" fill-opacity="0.95"/><rect x="504.15" y="538.43" width="10.50" height="2.34" rx="1.17" fill="#151515" fill-opacity="0.95"/></g>
<text x="400.70" y="542.15" font-size="9.7" text-anchor="end" transform="translate(400.70 542.15) scale(1 1.15) translate(-400.70 -542.15)">GAPDH</text>
<text x="413.30" y="556.20" font-size="8.4" text-anchor="middle" transform="translate(413.30 556.20) scale(1 1.15) translate(-413.30 -556.20)"><tspan font-style="italic">#</tspan>1</text>
<text x="426.60" y="556.20" font-size="8.4" text-anchor="middle" transform="translate(426.60 556.20) scale(1 1.15) translate(-426.60 -556.20)"><tspan font-style="italic">#</tspan>2</text>
<text x="439.70" y="556.20" font-size="8.4" text-anchor="middle" transform="translate(439.70 556.20) scale(1 1.15) translate(-439.70 -556.20)"><tspan font-style="italic">#</tspan>3</text>
<text x="452.90" y="556.20" font-size="8.4" text-anchor="middle" transform="translate(452.90 556.20) scale(1 1.15) translate(-452.90 -556.20)"><tspan font-style="italic">#</tspan>4</text>
<text x="469.40" y="556.20" font-size="8.4" text-anchor="middle" transform="translate(469.40 556.20) scale(1 1.15) translate(-469.40 -556.20)"><tspan font-style="italic">#</tspan>1</text>
<text x="482.80" y="556.20" font-size="8.4" text-anchor="middle" transform="translate(482.80 556.20) scale(1 1.15) translate(-482.80 -556.20)"><tspan font-style="italic">#</tspan>2</text>
<text x="496.20" y="556.20" font-size="8.4" text-anchor="middle" transform="translate(496.20 556.20) scale(1 1.15) translate(-496.20 -556.20)"><tspan font-style="italic">#</tspan>3</text>
<text x="509.40" y="556.20" font-size="8.4" text-anchor="middle" transform="translate(509.40 556.20) scale(1 1.15) translate(-509.40 -556.20)"><tspan font-style="italic">#</tspan>4</text>
<path d="M404.00,557.20V559.80H458.60V557.20" fill="none" stroke="#444" stroke-width="0.8"/>
<text x="435.30" y="568.60" font-size="10.2" text-anchor="middle" transform="translate(435.30 568.60) scale(1 1.15) translate(-435.30 -568.60)">DMSO</text>
<path d="M462.00,557.20V559.80H516.50V557.20" fill="none" stroke="#444" stroke-width="0.8"/>
<text x="489.60" y="568.60" font-size="10.2" text-anchor="middle" transform="translate(489.60 568.60) scale(1 1.15) translate(-489.60 -568.60)">GSK</text>
<rect x="403.10" y="583.40" width="112.90" height="15.00" fill="#e6e6e6" stroke="#6a6a6a" stroke-width="0.9"/>
<g filter="url(#bl)"><rect x="409.70" y="589.88" width="7.00" height="2.25" rx="1.12" fill="#1e1e1e" fill-opacity="0.3"/><rect x="422.70" y="589.25" width="9.00" height="3.50" rx="1.50" fill="#1e1e1e" fill-opacity="0.55"/><rect x="436.10" y="588.12" width="10.00" height="5.75" rx="1.50" fill="#1e1e1e" fill-opacity="0.85"/><rect x="450.00" y="587.88" width="10.00" height="6.25" rx="1.50" fill="#1e1e1e" fill-opacity="0.9"/></g>
<text x="400.70" y="594.30" font-size="9.7" text-anchor="end" transform="translate(400.70 594.30) scale(1 1.15) translate(-400.70 -594.30)">MYC</text>
<rect x="403.10" y="602.30" width="112.90" height="15.00" fill="#e2e2e2" stroke="#6a6a6a" stroke-width="0.9"/>
<g filter="url(#bl2)"><rect x="407.55" y="608.48" width="9.50" height="2.24" rx="1.12" fill="#111" fill-opacity="0.95"/><rect x="420.85" y="608.78" width="9.50" height="2.24" rx="1.12" fill="#111" fill-opacity="0.95"/><rect x="434.05" y="608.66" width="10.50" height="3.08" rx="1.50" fill="#111" fill-opacity="1.0"/><rect x="448.10" y="608.72" width="11.00" height="3.36" rx="1.50" fill="#111" fill-opacity="1.0"/><rect x="462.60" y="608.80" width="11.00" height="4.20" rx="1.50" fill="#111" fill-opacity="1.0"/><rect x="477.00" y="609.52" width="10.00" height="3.36" rx="1.50" fill="#111" fill-opacity="1.0"/><rect x="491.05" y="610.11" width="9.50" height="2.38" rx="1.19" fill="#111" fill-opacity="0.95"/><rect x="504.25" y="610.31" width="9.50" height="2.38" rx="1.19" fill="#111" fill-opacity="0.95"/></g>
<text x="400.70" y="613.20" font-size="9.7" text-anchor="end" transform="translate(400.70 613.20) scale(1 1.15) translate(-400.70 -613.20)">GAPDH</text>
<text x="411.50" y="629.20" font-size="8.4" text-anchor="middle" transform="translate(411.50 629.20) scale(1 1.15) translate(-411.50 -629.20)"><tspan font-style="italic">#</tspan>1</text>
<text x="427.00" y="629.20" font-size="8.4" text-anchor="middle" transform="translate(427.00 629.20) scale(1 1.15) translate(-427.00 -629.20)"><tspan font-style="italic">#</tspan>2</text>
<text x="440.20" y="629.20" font-size="8.4" text-anchor="middle" transform="translate(440.20 629.20) scale(1 1.15) translate(-440.20 -629.20)"><tspan font-style="italic">#</tspan>3</text>
<text x="453.60" y="629.20" font-size="8.4" text-anchor="middle" transform="translate(453.60 629.20) scale(1 1.15) translate(-453.60 -629.20)"><tspan font-style="italic">#</tspan>4</text>
<text x="467.30" y="629.20" font-size="8.4" text-anchor="middle" transform="translate(467.30 629.20) scale(1 1.15) translate(-467.30 -629.20)"><tspan font-style="italic">#</tspan>1</text>
<text x="484.00" y="629.20" font-size="8.4" text-anchor="middle" transform="translate(484.00 629.20) scale(1 1.15) translate(-484.00 -629.20)"><tspan font-style="italic">#</tspan>2</text>
<text x="496.80" y="629.20" font-size="8.4" text-anchor="middle" transform="translate(496.80 629.20) scale(1 1.15) translate(-496.80 -629.20)"><tspan font-style="italic">#</tspan>3</text>
<text x="509.60" y="629.20" font-size="8.4" text-anchor="middle" transform="translate(509.60 629.20) scale(1 1.15) translate(-509.60 -629.20)"><tspan font-style="italic">#</tspan>4</text>
<path d="M403.50,629.70V632.30H458.00V629.70" fill="none" stroke="#444" stroke-width="0.8"/>
<text x="434.00" y="641.40" font-size="10.2" text-anchor="middle" transform="translate(434.00 641.40) scale(1 1.15) translate(-434.00 -641.40)">DMSO</text>
<path d="M462.00,629.70V632.30H514.80V629.70" fill="none" stroke="#444" stroke-width="0.8"/>
<text x="488.00" y="641.40" font-size="10.2" text-anchor="middle" transform="translate(488.00 641.40) scale(1 1.15) translate(-488.00 -641.40)">ORY</text></svg></body></html>
